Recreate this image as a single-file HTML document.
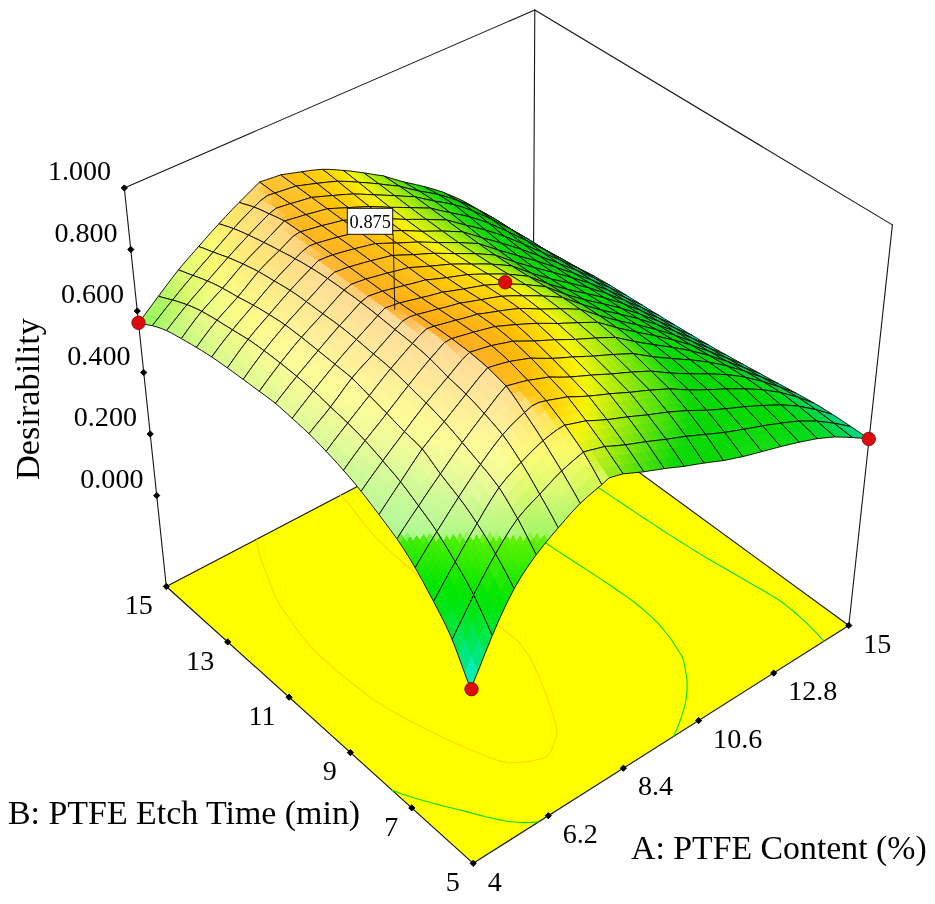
<!DOCTYPE html><html><head><meta charset="utf-8"><title>Desirability surface</title><style>html,body{margin:0;padding:0;background:#fff}svg{display:block}text{font-family:"Liberation Serif",serif;fill:#000}.s path{shape-rendering:crispEdges}.s .o{shape-rendering:geometricPrecision;fill:none;stroke:#141400;stroke-width:1;stroke-linejoin:round}</style></head><body><svg width="935" height="904" viewBox="0 0 935 904">
<rect width="935" height="904" fill="#fff"/>
<g stroke="#151515" stroke-width="1.1" fill="none" stroke-linecap="round">
<path d="M124.3 188L534.8 10"/>
<path d="M534.8 10L892.4 224.9"/>
<path d="M534.8 10L532.8 394.7"/>
<path d="M166.3 586.5L124.3 188"/>
<path d="M848.8 625.5L892.4 224.9"/>
</g>
<path d="M166.3 586.5L473.2 863.3L848.8 625.5L532.8 394.7Z" fill="#ffff00" stroke="#111" stroke-width="1.1" stroke-linejoin="round"/>
<g fill="none" stroke-width="1.1" stroke-linecap="round">
<path d="M824.2 641.4L819.6 636.4L815.5 632.1L812.5 628.9L807.7 624.1L802.6 619.4L797.8 615L795 612.5L789.6 608.1L784.1 603.8L778.4 599.7L772.3 595.9L769.1 594L762.8 590.3L756.4 586.7L750.1 583L745.8 580.5L740.7 577.5L734.3 573.9L728.1 570.3L722.1 566.8L718.8 564.9L712.6 561.3L706.5 557.7L700.4 554.1L696.5 551.7L691.4 548.6L685.5 544.9L679.7 541.3L673.9 537.6L668.1 533.9L662.4 530.2L659.6 528.3L653.9 524.6L648.3 520.9L642.7 517.3L637.2 513.6L631.7 509.9L626.2 506.2L620.7 502.5L615.2 498.9L612.5 497.1L607 493.4L601.6 489.8L596.2 486.2L590.8 482.7L585.4 479.1L580.1 475.5L574.8 471.9L569.5 468.3L564.4 464.8L561.6 463L556.5 459.4L551.4 455.7L546.5 452.1L541.6 448.4L536.7 444.7L531.8 441.1L526.8 437.5L521.8 434L516.6 430.6L511.4 427.2L506.1 423.9L500.8 420.6L497.2 418.4L492.8 415.7L492.8 415.7" stroke="#03d854"/>
<path d="M673.8 736.3L676.1 730.7L677.7 726.9L679 723.5L680.5 719.8L682.1 714.6L683.7 709.6L684.7 706.1L685.5 702.4L686.2 698.5L686.7 694.6L687 690.5L687.1 686.4L687.1 682.1L686.7 677.5L685.8 672.5L685.2 668.6L684.5 665.1L683.8 661.6L682.5 657.3L679.5 652.5L677.5 649.2L674.2 644.1L672 640.8L668.6 636L664.7 631L662.5 628.3L658.1 623.4L653.3 618.7L649.8 615.4L646 611.8L640.8 607.5L635.5 603.3L630.2 599.1L624.5 595.1L618.7 591.2L615.9 589.2L610.2 585.3L604.4 581.5L598.7 577.6L592.9 573.8L587.1 570.1L581.3 566.3L578.4 564.5L572.7 560.8L566.9 557L561.2 553.3L555.6 549.6L550 545.8L545.4 542.6L541.9 540.1L536.8 536.2L531.8 532.2L529.3 530.2L524.5 526.1L519.7 522.1L515 518L510.5 513.9L506 509.7L501.7 505.5L498.5 502.3L495.4 499.1L491.3 494.9L487.3 490.5L485 488.1L481.4 484.1L477.5 479.8L473.4 475.6L471.3 473.6L467 469.6L462.4 465.7L457.6 462L452.5 458.5L448.3 455.9L444.3 453.5L438.6 450.3L432.8 447.2L432.8 447.2" stroke="#0ad804"/>
<path d="M392.3 790.4L397 792.1L401.9 793.9L409.8 796.6L414.3 798L419.6 799.5L427.9 801.8L432.8 803.2L437.5 804.4L444.2 806.2L451.9 808L456.8 809.2L461.6 810.4L468.1 812.1L475.9 814.2L480.6 815.4L485.4 816.7L492.4 818.3L500 819.9L505.7 821L511.2 821.8L517.1 822.3L523.5 822.6L530.6 822.4L537 822L538.2 821.9" stroke="#0ad804"/>
<path d="M256.6 539.8L257.1 542.8L258 547.9L258.7 551.6L259.4 554.5L260.8 559.3L262.1 562.7L263.4 566L265.4 570.9L266.4 573.6L268.5 579.1L269.5 581.9L271.1 586.3L272.7 590.2L274 593.3L276.4 598.3L277.8 601.2L280.6 606.2L284 611.1L285.8 613.6L289.4 618.5L292.8 623.5L294.5 626.1L298.1 631.1L301.8 636L303.7 638.4L307.7 643.2L312 648L316.5 652.5L321.2 657L326.1 661.5L331.1 665.9L336.2 670.3L341.4 674.6L346.7 678.9L352.1 683.2L357.5 687.5L363 691.7L368.5 696L374.3 700.2L377.3 702.2L383.7 706L390.1 709.9L394.2 712.2L400 715.5L406.8 719.2L410.3 721L417.3 724.6L422.4 727.2L427.9 730L434.9 733.6L438.5 735.4L445.9 738.8L449.6 740.5L457.1 744L460.9 745.6L468.6 749L472.5 750.6L480.4 753.8L484.5 755.4L492.1 758.5L496.7 760.1L501.2 761.4L508.1 762.5L514 762.8L519.3 762.5L527.5 761.6L533.8 760.5L538.3 759.5L546.8 757.1L551.1 751.3L552.5 747.7L553.7 744.1L555 740.4L556.7 735.5L556.8 731.5L556.7 727.5L555.2 722L553.8 717.3L552.8 713.9L551.5 709.8L549.6 704.1L548.5 700.8L547.3 697.2L544.9 691.3L543.6 688.2L541.8 683.7L539.9 678.8L538.8 675.7L535.9 669.9L534.5 666.8L532.4 662.6L530.3 658L527.7 654.3L524.7 650L521 644.7L519 642.2L513.9 637.8L508.6 633.5L503.1 629.4L500.1 627.4L494 623.7L487.7 620.1L482.1 617.1L478 614.9L471.6 611.4L465.7 608L462.3 606L456.3 602.3L450.4 598.6L444.7 594.8L441.9 592.9L436.4 589L431 585.1L425.8 581.1L420.6 577.1L415.5 573.1L410.5 569L405.6 565L400.8 560.9L396.1 556.7L391.4 552.6L386.9 548.4L382.9 544.5L380.4 542L376.2 537.7L372.2 533.3L368.3 528.9L366.4 526.6L362.7 522.1L359.2 517.6L357.5 515.3L354.1 510.7L350.6 506.2L348.8 503.9L344.9 499.7L340.6 495.7L340.6 495.7" stroke="#ffd700"/>
</g>
<g class="s">
<path d="M531.3 242.6L537.2 246.5L532.1 244L526.3 240Z" fill="#08c2a8"/>
<path d="M526.3 240L532.1 244L527.1 241.4L521.2 237.4Z" fill="#07c2ab"/>
<path d="M521.2 237.4L527.1 241.4L522.1 238.8L516.2 234.7Z" fill="#07c3ad"/>
<path d="M537.2 246.5L543 250.3L538 247.8L532.1 244Z" fill="#04cbbe"/>
<path d="M532.1 244L538 247.8L533 245.3L527.1 241.4Z" fill="#04cbc0"/>
<path d="M527.1 241.4L533 245.3L528 242.7L522.1 238.8Z" fill="#03ccc2"/>
<path d="M543 250.3L548.8 253.9L543.8 251.5L538 247.8Z" fill="#01d3d1"/>
<path d="M538 247.8L543.8 251.5L538.8 249L533 245.3Z" fill="#00d2d2"/>
<path d="M533 245.3L538.8 249L533.8 246.4L528 242.7Z" fill="#00d1d4"/>
<path class="o" d="M531.3 242.6L537.2 246.5L543 250.3L548.8 253.9L543.8 251.5L538.8 249L533.8 246.4L528 242.7L522.1 238.8L516.2 234.7L521.2 237.4L526.3 240Z"/>
<path d="M546.6 250.5L552.5 254.1L547.4 251.6L541.5 247.8Z" fill="#08c3a3"/>
<path d="M541.5 247.8L547.4 251.6L542.3 249L536.4 245.2Z" fill="#08c2a5"/>
<path d="M536.4 245.2L542.3 249L537.2 246.5L531.3 242.6Z" fill="#08c2a6"/>
<path d="M552.5 254.1L558.3 257.7L553.2 255.2L547.4 251.6Z" fill="#06cbb9"/>
<path d="M547.4 251.6L553.2 255.2L548.1 252.7L542.3 249Z" fill="#05caba"/>
<path d="M542.3 249L548.1 252.7L543 250.3L537.2 246.5Z" fill="#05cabc"/>
<path d="M558.3 257.7L564.1 261.1L559 258.7L553.2 255.2Z" fill="#02d3cc"/>
<path d="M553.2 255.2L559 258.7L553.9 256.3L548.1 252.7Z" fill="#02d3ce"/>
<path d="M548.1 252.7L553.9 256.3L548.8 253.9L543 250.3Z" fill="#01d3d0"/>
<path class="o" d="M546.6 250.5L552.5 254.1L558.3 257.7L564.1 261.1L559 258.7L553.9 256.3L548.8 253.9L543 250.3L537.2 246.5L531.3 242.6L536.4 245.2L541.5 247.8Z"/>
<path d="M513.4 230.6L519.4 234.8L514.4 232L508.4 227.8Z" fill="#04af60"/>
<path d="M508.4 227.8L514.4 232L509.3 229.3L503.3 225Z" fill="#04ae62"/>
<path d="M503.3 225L509.3 229.3L504.3 226.6L498.3 222.2Z" fill="#04ae64"/>
<path d="M519.4 234.8L525.4 238.7L520.3 236.1L514.4 232Z" fill="#05b479"/>
<path d="M514.4 232L520.3 236.1L515.3 233.4L509.3 229.3Z" fill="#05b57b"/>
<path d="M509.3 229.3L515.3 233.4L510.3 230.7L504.3 226.6Z" fill="#05b57d"/>
<path d="M525.4 238.7L531.3 242.6L526.3 240L520.3 236.1Z" fill="#07bd92"/>
<path d="M520.3 236.1L526.3 240L521.2 237.4L515.3 233.4Z" fill="#07bd95"/>
<path d="M515.3 233.4L521.2 237.4L516.2 234.7L510.3 230.7Z" fill="#07bd97"/>
<path class="o" d="M513.4 230.6L519.4 234.8L525.4 238.7L531.3 242.6L526.3 240L521.2 237.4L516.2 234.7L510.3 230.7L504.3 226.6L498.3 222.2L503.3 225L508.4 227.8Z"/>
<path d="M562.1 259L567.9 262.3L562.7 259.5L556.9 256.1Z" fill="#08c6a0"/>
<path d="M556.9 256.1L562.7 259.5L557.6 256.8L551.7 253.3Z" fill="#08c5a1"/>
<path d="M551.7 253.3L557.6 256.8L552.5 254.1L546.6 250.5Z" fill="#08c4a2"/>
<path d="M567.9 262.3L573.7 265.5L568.6 262.8L562.7 259.5Z" fill="#08cdb6"/>
<path d="M562.7 259.5L568.6 262.8L563.4 260.2L557.6 256.8Z" fill="#07ccb6"/>
<path d="M557.6 256.8L563.4 260.2L558.3 257.7L552.5 254.1Z" fill="#07cbb7"/>
<path d="M573.7 265.5L579.5 268.6L574.3 266.1L568.6 262.8Z" fill="#04d4c7"/>
<path d="M568.6 262.8L574.3 266.1L569.2 263.6L563.4 260.2Z" fill="#04d3c9"/>
<path d="M563.4 260.2L569.2 263.6L564.1 261.1L558.3 257.7Z" fill="#03d3ca"/>
<path class="o" d="M562.1 259L567.9 262.3L573.7 265.5L579.5 268.6L574.3 266.1L569.2 263.6L564.1 261.1L558.3 257.7L552.5 254.1L546.6 250.5L551.7 253.3L556.9 256.1Z"/>
<path d="M528.8 239.5L534.8 243.3L529.6 240.4L523.6 236.4Z" fill="#03b45d"/>
<path d="M523.6 236.4L529.6 240.4L524.5 237.5L518.5 233.4Z" fill="#04b25e"/>
<path d="M518.5 233.4L524.5 237.5L519.4 234.8L513.4 230.6Z" fill="#04b05f"/>
<path d="M534.8 243.3L540.7 247L535.6 244.2L529.6 240.4Z" fill="#05b774"/>
<path d="M529.6 240.4L535.6 244.2L530.5 241.4L524.5 237.5Z" fill="#05b675"/>
<path d="M524.5 237.5L530.5 241.4L525.4 238.7L519.4 234.8Z" fill="#05b577"/>
<path d="M540.7 247L546.6 250.5L541.5 247.8L535.6 244.2Z" fill="#06bf8d"/>
<path d="M535.6 244.2L541.5 247.8L536.4 245.2L530.5 241.4Z" fill="#06be8e"/>
<path d="M530.5 241.4L536.4 245.2L531.3 242.6L525.4 238.7Z" fill="#07bd90"/>
<path class="o" d="M528.8 239.5L534.8 243.3L540.7 247L546.6 250.5L541.5 247.8L536.4 245.2L531.3 242.6L525.4 238.7L519.4 234.8L513.4 230.6L518.5 233.4L523.6 236.4Z"/>
<path d="M577.7 268.1L583.5 270.9L578.3 268L572.4 265Z" fill="#07cb9e"/>
<path d="M572.4 265L578.3 268L573.1 265.1L567.2 262Z" fill="#07c99e"/>
<path d="M567.2 262L573.1 265.1L567.9 262.3L562.1 259Z" fill="#07c89f"/>
<path d="M583.5 270.9L589.3 273.8L584.1 270.9L578.3 268Z" fill="#08d0b4"/>
<path d="M578.3 268L584.1 270.9L578.9 268.2L573.1 265.1Z" fill="#08cfb4"/>
<path d="M573.1 265.1L578.9 268.2L573.7 265.5L567.9 262.3Z" fill="#08ceb5"/>
<path d="M589.3 273.8L595.1 276.7L589.9 273.9L584.1 270.9Z" fill="#06d6c5"/>
<path d="M584.1 270.9L589.9 273.9L584.7 271.2L578.9 268.2Z" fill="#05d5c5"/>
<path d="M578.9 268.2L584.7 271.2L579.5 268.6L573.7 265.5Z" fill="#05d4c6"/>
<path class="o" d="M577.7 268.1L583.5 270.9L589.3 273.8L595.1 276.7L589.9 273.9L584.7 271.2L579.5 268.6L573.7 265.5L567.9 262.3L562.1 259L567.2 262L572.4 265Z"/>
<path d="M495.2 219.2L501.3 223.1L496.2 220.2L490.1 216.2Z" fill="#01b625"/>
<path d="M490.1 216.2L496.2 220.2L491.2 217.3L485 213.3Z" fill="#01b526"/>
<path d="M485 213.3L491.2 217.3L486.1 214.5L480 210.5Z" fill="#01b528"/>
<path d="M501.3 223.1L507.4 226.9L502.3 224L496.2 220.2Z" fill="#02b63a"/>
<path d="M496.2 220.2L502.3 224L497.3 221.2L491.2 217.3Z" fill="#02b53b"/>
<path d="M491.2 217.3L497.3 221.2L492.2 218.4L486.1 214.5Z" fill="#02b53d"/>
<path d="M507.4 226.9L513.4 230.6L508.4 227.8L502.3 224Z" fill="#03b74f"/>
<path d="M502.3 224L508.4 227.8L503.3 225L497.3 221.2Z" fill="#03b650"/>
<path d="M497.3 221.2L503.3 225L498.3 222.2L492.2 218.4Z" fill="#03b552"/>
<path class="o" d="M495.2 219.2L501.3 223.1L507.4 226.9L513.4 230.6L508.4 227.8L503.3 225L498.3 222.2L492.2 218.4L486.1 214.5L480 210.5L485 213.3L490.1 216.2Z"/>
<path d="M544.3 249.5L550.2 252.9L545.1 249.6L539.1 246.1Z" fill="#03bb5e"/>
<path d="M539.1 246.1L545.1 249.6L539.9 246.4L533.9 242.8Z" fill="#03b95e"/>
<path d="M533.9 242.8L539.9 246.4L534.8 243.3L528.8 239.5Z" fill="#03b65d"/>
<path d="M550.2 252.9L556.2 256L551 252.9L545.1 249.6Z" fill="#05bd74"/>
<path d="M545.1 249.6L551 252.9L545.8 249.9L539.9 246.4Z" fill="#05bb73"/>
<path d="M539.9 246.4L545.8 249.9L540.7 247L534.8 243.3Z" fill="#05b873"/>
<path d="M556.2 256L562.1 259L556.9 256.1L551 252.9Z" fill="#06c48b"/>
<path d="M551 252.9L556.9 256.1L551.7 253.3L545.8 249.9Z" fill="#06c28c"/>
<path d="M545.8 249.9L551.7 253.3L546.6 250.5L540.7 247Z" fill="#06c08c"/>
<path class="o" d="M544.3 249.5L550.2 252.9L556.2 256L562.1 259L556.9 256.1L551.7 253.3L546.6 250.5L540.7 247L534.8 243.3L528.8 239.5L533.9 242.8L539.1 246.1Z"/>
<path d="M593.5 277.6L599.3 280.3L594 277.1L588.2 274.4Z" fill="#07cd9b"/>
<path d="M588.2 274.4L594 277.1L588.7 274L582.9 271.2Z" fill="#07cc9c"/>
<path d="M582.9 271.2L588.7 274L583.5 270.9L577.7 268.1Z" fill="#07cc9d"/>
<path d="M599.3 280.3L605.1 283L599.8 279.8L594 277.1Z" fill="#09d2b1"/>
<path d="M594 277.1L599.8 279.8L594.5 276.8L588.7 274Z" fill="#09d2b2"/>
<path d="M588.7 274L594.5 276.8L589.3 273.8L583.5 270.9Z" fill="#09d1b3"/>
<path d="M605.1 283L610.8 285.8L605.6 282.6L599.8 279.8Z" fill="#07d8c4"/>
<path d="M599.8 279.8L605.6 282.6L600.3 279.6L594.5 276.8Z" fill="#06d7c4"/>
<path d="M594.5 276.8L600.3 279.6L595.1 276.7L589.3 273.8Z" fill="#06d7c5"/>
<path class="o" d="M593.5 277.6L599.3 280.3L605.1 283L610.8 285.8L605.6 282.6L600.3 279.6L595.1 276.7L589.3 273.8L583.5 270.9L577.7 268.1L582.9 271.2L588.2 274.4Z"/>
<path d="M510.6 229.1L516.7 232.8L511.6 229.4L505.4 225.6Z" fill="#00bb23"/>
<path d="M505.4 225.6L511.6 229.4L506.4 226.2L500.3 222.3Z" fill="#00ba23"/>
<path d="M500.3 222.3L506.4 226.2L501.3 223.1L495.2 219.2Z" fill="#01b824"/>
<path d="M516.7 232.8L522.8 236.2L517.6 233L511.6 229.4Z" fill="#02bc38"/>
<path d="M511.6 229.4L517.6 233L512.5 229.9L506.4 226.2Z" fill="#02ba38"/>
<path d="M506.4 226.2L512.5 229.9L507.4 226.9L501.3 223.1Z" fill="#02b839"/>
<path d="M522.8 236.2L528.8 239.5L523.6 236.4L517.6 233Z" fill="#03bc4c"/>
<path d="M517.6 233L523.6 236.4L518.5 233.4L512.5 229.9Z" fill="#03ba4d"/>
<path d="M512.5 229.9L518.5 233.4L513.4 230.6L507.4 226.9Z" fill="#03b84e"/>
<path class="o" d="M510.6 229.1L516.7 232.8L522.8 236.2L528.8 239.5L523.6 236.4L518.5 233.4L513.4 230.6L507.4 226.9L501.3 223.1L495.2 219.2L500.3 222.3L505.4 225.6Z"/>
<path d="M559.9 259.9L565.9 262.8L560.6 259.5L554.7 256.5Z" fill="#04c160"/>
<path d="M554.7 256.5L560.6 259.5L555.4 256.2L549.5 253Z" fill="#04bf5f"/>
<path d="M549.5 253L555.4 256.2L550.2 252.9L544.3 249.5Z" fill="#03bd5f"/>
<path d="M565.9 262.8L571.8 265.5L566.6 262.3L560.6 259.5Z" fill="#05c374"/>
<path d="M560.6 259.5L566.6 262.3L561.4 259.1L555.4 256.2Z" fill="#05c174"/>
<path d="M555.4 256.2L561.4 259.1L556.2 256L550.2 252.9Z" fill="#05bf74"/>
<path d="M571.8 265.5L577.7 268.1L572.4 265L566.6 262.3Z" fill="#06c98b"/>
<path d="M566.6 262.3L572.4 265L567.2 262L561.4 259.1Z" fill="#06c78b"/>
<path d="M561.4 259.1L567.2 262L562.1 259L556.2 256Z" fill="#06c58b"/>
<path class="o" d="M559.9 259.9L565.9 262.8L571.8 265.5L577.7 268.1L572.4 265L567.2 262L562.1 259L556.2 256L550.2 252.9L544.3 249.5L549.5 253L554.7 256.5Z"/>
<path d="M609.4 287.6L615.2 290.2L609.9 286.9L604.1 284.3Z" fill="#07cd99"/>
<path d="M604.1 284.3L609.9 286.9L604.6 283.6L598.7 280.9Z" fill="#07cd9a"/>
<path d="M598.7 280.9L604.6 283.6L599.3 280.3L593.5 277.6Z" fill="#07cd9b"/>
<path d="M615.2 290.2L621 292.9L615.7 289.5L609.9 286.9Z" fill="#08d3af"/>
<path d="M609.9 286.9L615.7 289.5L610.4 286.3L604.6 283.6Z" fill="#08d3b0"/>
<path d="M604.6 283.6L610.4 286.3L605.1 283L599.3 280.3Z" fill="#08d3b1"/>
<path d="M621 292.9L626.7 295.5L621.4 292.2L615.7 289.5Z" fill="#07d9c2"/>
<path d="M615.7 289.5L621.4 292.2L616.1 289L610.4 286.3Z" fill="#07d8c3"/>
<path d="M610.4 286.3L616.1 289L610.8 285.8L605.1 283Z" fill="#07d8c3"/>
<path class="o" d="M609.4 287.6L615.2 290.2L621 292.9L626.7 295.5L621.4 292.2L616.1 289L610.8 285.8L605.1 283L599.3 280.3L593.5 277.6L598.7 280.9L604.1 284.3Z"/>
<path d="M476.6 209L482.8 212.4L477.7 209.3L471.5 205.9Z" fill="#00c001"/>
<path d="M471.5 205.9L477.7 209.3L472.7 206.3L466.4 203Z" fill="#00bf02"/>
<path d="M466.4 203L472.7 206.3L467.6 203.5L461.3 200.2Z" fill="#00bf02"/>
<path d="M482.8 212.4L489 215.8L484 212.7L477.7 209.3Z" fill="#00bf0a"/>
<path d="M477.7 209.3L484 212.7L478.9 209.8L472.7 206.3Z" fill="#00be0b"/>
<path d="M472.7 206.3L478.9 209.8L473.8 207L467.6 203.5Z" fill="#00bd0c"/>
<path d="M489 215.8L495.2 219.2L490.1 216.2L484 212.7Z" fill="#00be15"/>
<path d="M484 212.7L490.1 216.2L485 213.3L478.9 209.8Z" fill="#00bd16"/>
<path d="M478.9 209.8L485 213.3L480 210.5L473.8 207Z" fill="#00bd17"/>
<path class="o" d="M476.6 209L482.8 212.4L489 215.8L495.2 219.2L490.1 216.2L485 213.3L480 210.5L473.8 207L467.6 203.5L461.3 200.2L466.4 203L471.5 205.9Z"/>
<path d="M526.1 240.4L532.2 243.6L527 239.9L520.9 236.5Z" fill="#01c125"/>
<path d="M520.9 236.5L527 239.9L521.9 236.3L515.8 232.8Z" fill="#00bf24"/>
<path d="M515.8 232.8L521.9 236.3L516.7 232.8L510.6 229.1Z" fill="#00bd23"/>
<path d="M532.2 243.6L538.3 246.7L533.1 243.1L527 239.9Z" fill="#02c23a"/>
<path d="M527 239.9L533.1 243.1L527.9 239.6L521.9 236.3Z" fill="#02c039"/>
<path d="M521.9 236.3L527.9 239.6L522.8 236.2L516.7 232.8Z" fill="#02be38"/>
<path d="M538.3 246.7L544.3 249.5L539.1 246.1L533.1 243.1Z" fill="#03c34e"/>
<path d="M533.1 243.1L539.1 246.1L533.9 242.8L527.9 239.6Z" fill="#03c14d"/>
<path d="M527.9 239.6L533.9 242.8L528.8 239.5L522.8 236.2Z" fill="#03bf4c"/>
<path class="o" d="M526.1 240.4L532.2 243.6L538.3 246.7L544.3 249.5L539.1 246.1L533.9 242.8L528.8 239.5L522.8 236.2L516.7 232.8L510.6 229.1L515.8 232.8L520.9 236.5Z"/>
<path d="M575.7 269.9L581.7 272.6L576.4 269.3L570.5 266.6Z" fill="#03c45e"/>
<path d="M570.5 266.6L576.4 269.3L571.1 266.1L565.2 263.3Z" fill="#03c35f"/>
<path d="M565.2 263.3L571.1 266.1L565.9 262.8L559.9 259.9Z" fill="#03c260"/>
<path d="M581.7 272.6L587.6 275.2L582.3 271.9L576.4 269.3Z" fill="#04c572"/>
<path d="M576.4 269.3L582.3 271.9L577 268.7L571.1 266.1Z" fill="#04c573"/>
<path d="M571.1 266.1L577 268.7L571.8 265.5L565.9 262.8Z" fill="#05c474"/>
<path d="M587.6 275.2L593.5 277.6L588.2 274.4L582.3 271.9Z" fill="#06cb88"/>
<path d="M582.3 271.9L588.2 274.4L582.9 271.2L577 268.7Z" fill="#06ca89"/>
<path d="M577 268.7L582.9 271.2L577.7 268.1L571.8 265.5Z" fill="#06ca8a"/>
<path class="o" d="M575.7 269.9L581.7 272.6L587.6 275.2L593.5 277.6L588.2 274.4L582.9 271.2L577.7 268.1L571.8 265.5L565.9 262.8L559.9 259.9L565.2 263.3L570.5 266.6Z"/>
<path d="M625.5 297.7L631.3 300.3L625.9 297L620.1 294.3Z" fill="#07cc96"/>
<path d="M620.1 294.3L625.9 297L620.6 293.6L614.8 291Z" fill="#07cc97"/>
<path d="M614.8 291L620.6 293.6L615.2 290.2L609.4 287.6Z" fill="#07cd98"/>
<path d="M631.3 300.3L637.1 302.9L631.7 299.5L625.9 297Z" fill="#08d2ac"/>
<path d="M625.9 297L631.7 299.5L626.3 296.2L620.6 293.6Z" fill="#08d3ad"/>
<path d="M620.6 293.6L626.3 296.2L621 292.9L615.2 290.2Z" fill="#08d3ae"/>
<path d="M637.1 302.9L642.8 305.5L637.4 302.1L631.7 299.5Z" fill="#08d8c1"/>
<path d="M631.7 299.5L637.4 302.1L632 298.8L626.3 296.2Z" fill="#08d9c1"/>
<path d="M626.3 296.2L632 298.8L626.7 295.5L621 292.9Z" fill="#08d9c2"/>
<path class="o" d="M625.5 297.7L631.3 300.3L637.1 302.9L642.8 305.5L637.4 302.1L632 298.8L626.7 295.5L621 292.9L615.2 290.2L609.4 287.6L614.8 291L620.1 294.3Z"/>
<path d="M492.1 219.6L498.3 222.8L493.1 219.1L486.9 215.9Z" fill="#00c301"/>
<path d="M486.9 215.9L493.1 219.1L488 215.7L481.7 212.3Z" fill="#00c201"/>
<path d="M481.7 212.3L488 215.7L482.8 212.4L476.6 209Z" fill="#00c101"/>
<path d="M498.3 222.8L504.5 226L499.3 222.4L493.1 219.1Z" fill="#00c30a"/>
<path d="M493.1 219.1L499.3 222.4L494.2 219L488 215.7Z" fill="#00c10a"/>
<path d="M488 215.7L494.2 219L489 215.8L482.8 212.4Z" fill="#00c00a"/>
<path d="M504.5 226L510.6 229.1L505.4 225.6L499.3 222.4Z" fill="#00c315"/>
<path d="M499.3 222.4L505.4 225.6L500.3 222.3L494.2 219Z" fill="#00c115"/>
<path d="M494.2 219L500.3 222.3L495.2 219.2L489 215.8Z" fill="#00bf15"/>
<path class="o" d="M492.1 219.6L498.3 222.8L504.5 226L510.6 229.1L505.4 225.6L500.3 222.3L495.2 219.2L489 215.8L482.8 212.4L476.6 209L481.7 212.3L486.9 215.9Z"/>
<path d="M541.8 252.1L547.9 254.9L542.7 251.2L536.6 248.2Z" fill="#01c629"/>
<path d="M536.6 248.2L542.7 251.2L537.4 247.4L531.4 244.3Z" fill="#01c528"/>
<path d="M531.4 244.3L537.4 247.4L532.2 243.6L526.1 240.4Z" fill="#01c327"/>
<path d="M547.9 254.9L553.9 257.5L548.7 253.9L542.7 251.2Z" fill="#02c83d"/>
<path d="M542.7 251.2L548.7 253.9L543.5 250.3L537.4 247.4Z" fill="#02c63c"/>
<path d="M537.4 247.4L543.5 250.3L538.3 246.7L532.2 243.6Z" fill="#02c43b"/>
<path d="M553.9 257.5L559.9 259.9L554.7 256.5L548.7 253.9Z" fill="#03c950"/>
<path d="M548.7 253.9L554.7 256.5L549.5 253L543.5 250.3Z" fill="#03c850"/>
<path d="M543.5 250.3L549.5 253L544.3 249.5L538.3 246.7Z" fill="#03c64f"/>
<path class="o" d="M541.8 252.1L547.9 254.9L553.9 257.5L559.9 259.9L554.7 256.5L549.5 253L544.3 249.5L538.3 246.7L532.2 243.6L526.1 240.4L531.4 244.3L536.6 248.2Z"/>
<path d="M591.7 280L597.7 282.7L592.3 279.3L586.4 276.7Z" fill="#03c55c"/>
<path d="M586.4 276.7L592.3 279.3L587 276L581.1 273.3Z" fill="#03c45d"/>
<path d="M581.1 273.3L587 276L581.7 272.6L575.7 269.9Z" fill="#03c45e"/>
<path d="M597.7 282.7L603.5 285.2L598.2 281.8L592.3 279.3Z" fill="#04c570"/>
<path d="M592.3 279.3L598.2 281.8L592.9 278.5L587 276Z" fill="#04c571"/>
<path d="M587 276L592.9 278.5L587.6 275.2L581.7 272.6Z" fill="#04c572"/>
<path d="M603.5 285.2L609.4 287.6L604.1 284.3L598.2 281.8Z" fill="#06ca85"/>
<path d="M598.2 281.8L604.1 284.3L598.7 280.9L592.9 278.5Z" fill="#06cb86"/>
<path d="M592.9 278.5L598.7 280.9L593.5 277.6L587.6 275.2Z" fill="#06cb87"/>
<path class="o" d="M591.7 280L597.7 282.7L603.5 285.2L609.4 287.6L604.1 284.3L598.7 280.9L593.5 277.6L587.6 275.2L581.7 272.6L575.7 269.9L581.1 273.3L586.4 276.7Z"/>
<path d="M641.8 307.8L647.6 310.4L642.1 307L636.4 304.4Z" fill="#06cb92"/>
<path d="M636.4 304.4L642.1 307L636.7 303.7L630.9 301.1Z" fill="#07cb94"/>
<path d="M630.9 301.1L636.7 303.7L631.3 300.3L625.5 297.7Z" fill="#07cc95"/>
<path d="M647.6 310.4L653.3 312.9L647.9 309.6L642.1 307Z" fill="#08d2a9"/>
<path d="M642.1 307L647.9 309.6L642.5 306.2L636.7 303.7Z" fill="#08d2aa"/>
<path d="M636.7 303.7L642.5 306.2L637.1 302.9L631.3 300.3Z" fill="#08d2ab"/>
<path d="M653.3 312.9L659 315.4L653.6 312.1L647.9 309.6Z" fill="#08d8be"/>
<path d="M647.9 309.6L653.6 312.1L648.2 308.8L642.5 306.2Z" fill="#08d8bf"/>
<path d="M642.5 306.2L648.2 308.8L642.8 305.5L637.1 302.9Z" fill="#08d8c0"/>
<path class="o" d="M641.8 307.8L647.6 310.4L653.3 312.9L659 315.4L653.6 312.1L648.2 308.8L642.8 305.5L637.1 302.9L631.3 300.3L625.5 297.7L630.9 301.1L636.4 304.4Z"/>
<path d="M457.7 200.6L464 203.2L458.9 200.2L452.6 197.6Z" fill="#05ca02"/>
<path d="M452.6 197.6L458.9 200.2L453.8 197.3L447.5 194.7Z" fill="#05ca02"/>
<path d="M447.5 194.7L453.8 197.3L448.7 194.5L442.4 192Z" fill="#05ca02"/>
<path d="M464 203.2L470.3 206L465.2 202.9L458.9 200.2Z" fill="#04c702"/>
<path d="M458.9 200.2L465.2 202.9L460.1 200L453.8 197.3Z" fill="#04c701"/>
<path d="M453.8 197.3L460.1 200L455.1 197.2L448.7 194.5Z" fill="#03c701"/>
<path d="M470.3 206L476.6 209L471.5 205.9L465.2 202.9Z" fill="#02c501"/>
<path d="M465.2 202.9L471.5 205.9L466.4 203L460.1 200Z" fill="#02c401"/>
<path d="M460.1 200L466.4 203L461.3 200.2L455.1 197.2Z" fill="#02c401"/>
<path class="o" d="M457.7 200.6L464 203.2L470.3 206L476.6 209L471.5 205.9L466.4 203L461.3 200.2L455.1 197.2L448.7 194.5L442.4 192L447.5 194.7L452.6 197.6Z"/>
<path d="M507.7 231.6L513.9 234.6L508.6 230.6L502.4 227.5Z" fill="#00c702"/>
<path d="M502.4 227.5L508.6 230.6L503.5 226.6L497.2 223.5Z" fill="#00c602"/>
<path d="M497.2 223.5L503.5 226.6L498.3 222.8L492.1 219.6Z" fill="#00c501"/>
<path d="M513.9 234.6L520 237.6L514.8 233.6L508.6 230.6Z" fill="#00c70c"/>
<path d="M508.6 230.6L514.8 233.6L509.6 229.7L503.5 226.6Z" fill="#00c60b"/>
<path d="M503.5 226.6L509.6 229.7L504.5 226L498.3 222.8Z" fill="#00c40a"/>
<path d="M520 237.6L526.1 240.4L520.9 236.5L514.8 233.6Z" fill="#00c817"/>
<path d="M514.8 233.6L520.9 236.5L515.8 232.8L509.6 229.7Z" fill="#00c716"/>
<path d="M509.6 229.7L515.8 232.8L510.6 229.1L504.5 226Z" fill="#00c515"/>
<path class="o" d="M507.7 231.6L513.9 234.6L520 237.6L526.1 240.4L520.9 236.5L515.8 232.8L510.6 229.1L504.5 226L498.3 222.8L492.1 219.6L497.2 223.5L502.4 227.5Z"/>
<path d="M557.7 262.8L563.8 265.4L558.5 261.9L552.4 259.3Z" fill="#01c929"/>
<path d="M552.4 259.3L558.5 261.9L553.2 258.5L547.1 255.7Z" fill="#01c82a"/>
<path d="M547.1 255.7L553.2 258.5L547.9 254.9L541.8 252.1Z" fill="#01c72a"/>
<path d="M563.8 265.4L569.8 267.8L564.5 264.4L558.5 261.9Z" fill="#02ca3d"/>
<path d="M558.5 261.9L564.5 264.4L559.2 261L553.2 258.5Z" fill="#02ca3d"/>
<path d="M553.2 258.5L559.2 261L553.9 257.5L547.9 254.9Z" fill="#02c93d"/>
<path d="M569.8 267.8L575.7 269.9L570.5 266.6L564.5 264.4Z" fill="#03cc50"/>
<path d="M564.5 264.4L570.5 266.6L565.2 263.3L559.2 261Z" fill="#03cc50"/>
<path d="M559.2 261L565.2 263.3L559.9 259.9L553.9 257.5Z" fill="#03cb50"/>
<path class="o" d="M557.7 262.8L563.8 265.4L569.8 267.8L575.7 269.9L570.5 266.6L565.2 263.3L559.9 259.9L553.9 257.5L547.9 254.9L541.8 252.1L547.1 255.7L552.4 259.3Z"/>
<path d="M607.9 290.1L613.8 292.8L608.4 289.4L602.5 286.7Z" fill="#03c459"/>
<path d="M602.5 286.7L608.4 289.4L603 286L597.1 283.4Z" fill="#03c45a"/>
<path d="M597.1 283.4L603 286L597.7 282.7L591.7 280Z" fill="#03c45b"/>
<path d="M613.8 292.8L619.7 295.3L614.3 291.9L608.4 289.4Z" fill="#04c56d"/>
<path d="M608.4 289.4L614.3 291.9L608.9 288.6L603 286Z" fill="#04c56e"/>
<path d="M603 286L608.9 288.6L603.5 285.2L597.7 282.7Z" fill="#04c56f"/>
<path d="M619.7 295.3L625.5 297.7L620.1 294.3L614.3 291.9Z" fill="#05c982"/>
<path d="M614.3 291.9L620.1 294.3L614.8 291L608.9 288.6Z" fill="#05ca83"/>
<path d="M608.9 288.6L614.8 291L609.4 287.6L603.5 285.2Z" fill="#06ca84"/>
<path class="o" d="M607.9 290.1L613.8 292.8L619.7 295.3L625.5 297.7L620.1 294.3L614.8 291L609.4 287.6L603.5 285.2L597.7 282.7L591.7 280L597.1 283.4L602.5 286.7Z"/>
<path d="M658.3 317.9L664.1 320.5L658.5 317.1L652.8 314.6Z" fill="#06ca8f"/>
<path d="M652.8 314.6L658.5 317.1L653.1 313.8L647.3 311.2Z" fill="#06cb90"/>
<path d="M647.3 311.2L653.1 313.8L647.6 310.4L641.8 307.8Z" fill="#06cb91"/>
<path d="M664.1 320.5L669.8 322.9L664.3 319.6L658.5 317.1Z" fill="#08d1a5"/>
<path d="M658.5 317.1L664.3 319.6L658.8 316.3L653.1 313.8Z" fill="#08d1a7"/>
<path d="M653.1 313.8L658.8 316.3L653.3 312.9L647.6 310.4Z" fill="#08d2a8"/>
<path d="M669.8 322.9L675.4 325.4L670 322.1L664.3 319.6Z" fill="#09d7bb"/>
<path d="M664.3 319.6L670 322.1L664.5 318.8L658.8 316.3Z" fill="#08d7bc"/>
<path d="M658.8 316.3L664.5 318.8L659 315.4L653.3 312.9Z" fill="#08d8bd"/>
<path class="o" d="M658.3 317.9L664.1 320.5L669.8 322.9L675.4 325.4L670 322.1L664.5 318.8L659 315.4L653.3 312.9L647.6 310.4L641.8 307.8L647.3 311.2L652.8 314.6Z"/>
<path d="M473.2 211L479.5 213.8L474.3 210L468 207.3Z" fill="#06ca02"/>
<path d="M468 207.3L474.3 210L469.2 206.5L462.8 203.8Z" fill="#06ca02"/>
<path d="M462.8 203.8L469.2 206.5L464 203.2L457.7 200.6Z" fill="#06ca02"/>
<path d="M479.5 213.8L485.8 216.6L480.6 212.9L474.3 210Z" fill="#04c902"/>
<path d="M474.3 210L480.6 212.9L475.5 209.4L469.2 206.5Z" fill="#04c802"/>
<path d="M469.2 206.5L475.5 209.4L470.3 206L464 203.2Z" fill="#04c802"/>
<path d="M485.8 216.6L492.1 219.6L486.9 215.9L480.6 212.9Z" fill="#02c701"/>
<path d="M480.6 212.9L486.9 215.9L481.7 212.3L475.5 209.4Z" fill="#02c601"/>
<path d="M475.5 209.4L481.7 212.3L476.6 209L470.3 206Z" fill="#02c601"/>
<path class="o" d="M473.2 211L479.5 213.8L485.8 216.6L492.1 219.6L486.9 215.9L481.7 212.3L476.6 209L470.3 206L464 203.2L457.7 200.6L462.8 203.8L468 207.3Z"/>
<path d="M523.4 244.1L529.6 246.9L524.3 242.8L518.1 240Z" fill="#00ca04"/>
<path d="M518.1 240L524.3 242.8L519.1 238.7L512.9 235.8Z" fill="#00c903"/>
<path d="M512.9 235.8L519.1 238.7L513.9 234.6L507.7 231.6Z" fill="#00c802"/>
<path d="M529.6 246.9L535.7 249.6L530.5 245.6L524.3 242.8Z" fill="#00ca0f"/>
<path d="M524.3 242.8L530.5 245.6L525.2 241.6L519.1 238.7Z" fill="#00c90e"/>
<path d="M519.1 238.7L525.2 241.6L520 237.6L513.9 234.6Z" fill="#00c90d"/>
<path d="M535.7 249.6L541.8 252.1L536.6 248.2L530.5 245.6Z" fill="#00cc19"/>
<path d="M530.5 245.6L536.6 248.2L531.4 244.3L525.2 241.6Z" fill="#00cb18"/>
<path d="M525.2 241.6L531.4 244.3L526.1 240.4L520 237.6Z" fill="#00ca18"/>
<path class="o" d="M523.4 244.1L529.6 246.9L535.7 249.6L541.8 252.1L536.6 248.2L531.4 244.3L526.1 240.4L520 237.6L513.9 234.6L507.7 231.6L512.9 235.8L518.1 240Z"/>
<path d="M573.7 273.2L579.8 275.6L574.4 272.2L568.4 269.8Z" fill="#01cb28"/>
<path d="M568.4 269.8L574.4 272.2L569.1 268.8L563 266.3Z" fill="#01ca29"/>
<path d="M563 266.3L569.1 268.8L563.8 265.4L557.7 262.8Z" fill="#01ca29"/>
<path d="M579.8 275.6L585.8 277.9L580.4 274.5L574.4 272.2Z" fill="#02cc3b"/>
<path d="M574.4 272.2L580.4 274.5L575.1 271.1L569.1 268.8Z" fill="#02cc3c"/>
<path d="M569.1 268.8L575.1 271.1L569.8 267.8L563.8 265.4Z" fill="#02cb3c"/>
<path d="M585.8 277.9L591.7 280L586.4 276.7L580.4 274.5Z" fill="#02cd4d"/>
<path d="M580.4 274.5L586.4 276.7L581.1 273.3L575.1 271.1Z" fill="#03cd4e"/>
<path d="M575.1 271.1L581.1 273.3L575.7 269.9L569.8 267.8Z" fill="#03cd4f"/>
<path class="o" d="M573.7 273.2L579.8 275.6L585.8 277.9L591.7 280L586.4 276.7L581.1 273.3L575.7 269.9L569.8 267.8L563.8 265.4L557.7 262.8L563 266.3L568.4 269.8Z"/>
<path d="M624.3 300.2L630.2 302.9L624.7 299.5L618.8 296.8Z" fill="#03c456"/>
<path d="M618.8 296.8L624.7 299.5L619.2 296.1L613.4 293.5Z" fill="#03c457"/>
<path d="M613.4 293.5L619.2 296.1L613.8 292.8L607.9 290.1Z" fill="#03c458"/>
<path d="M630.2 302.9L636 305.4L630.5 302.1L624.7 299.5Z" fill="#04c56a"/>
<path d="M624.7 299.5L630.5 302.1L625.1 298.7L619.2 296.1Z" fill="#04c56b"/>
<path d="M619.2 296.1L625.1 298.7L619.7 295.3L613.8 292.8Z" fill="#04c56c"/>
<path d="M636 305.4L641.8 307.8L636.4 304.4L630.5 302.1Z" fill="#05c87f"/>
<path d="M630.5 302.1L636.4 304.4L630.9 301.1L625.1 298.7Z" fill="#05c980"/>
<path d="M625.1 298.7L630.9 301.1L625.5 297.7L619.7 295.3Z" fill="#05c981"/>
<path class="o" d="M624.3 300.2L630.2 302.9L636 305.4L641.8 307.8L636.4 304.4L630.9 301.1L625.5 297.7L619.7 295.3L613.8 292.8L607.9 290.1L613.4 293.5L618.8 296.8Z"/>
<path d="M438.4 194.6L444.9 196.3L439.8 193.4L433.3 191.7Z" fill="#0bd604"/>
<path d="M433.3 191.7L439.8 193.4L434.7 190.7L428.2 189Z" fill="#0ad604"/>
<path d="M428.2 189L434.7 190.7L429.6 188L423.1 186.3Z" fill="#0ad604"/>
<path d="M444.9 196.3L451.3 198.4L446.2 195.4L439.8 193.4Z" fill="#09d204"/>
<path d="M439.8 193.4L446.2 195.4L441.1 192.6L434.7 190.7Z" fill="#09d304"/>
<path d="M434.7 190.7L441.1 192.6L436 189.9L429.6 188Z" fill="#08d304"/>
<path d="M451.3 198.4L457.7 200.6L452.6 197.6L446.2 195.4Z" fill="#07cf03"/>
<path d="M446.2 195.4L452.6 197.6L447.5 194.7L441.1 192.6Z" fill="#07d003"/>
<path d="M441.1 192.6L447.5 194.7L442.4 192L436 189.9Z" fill="#07d003"/>
<path class="o" d="M438.4 194.6L444.9 196.3L451.3 198.4L457.7 200.6L452.6 197.6L447.5 194.7L442.4 192L436 189.9L429.6 188L423.1 186.3L428.2 189L433.3 191.7Z"/>
<path d="M675 328L680.7 330.5L675.1 327.2L669.4 324.7Z" fill="#06ca8b"/>
<path d="M669.4 324.7L675.1 327.2L669.6 323.8L663.8 321.3Z" fill="#06ca8c"/>
<path d="M663.8 321.3L669.6 323.8L664.1 320.5L658.3 317.9Z" fill="#06ca8d"/>
<path d="M680.7 330.5L686.4 332.9L680.8 329.6L675.1 327.2Z" fill="#07d0a1"/>
<path d="M675.1 327.2L680.8 329.6L675.3 326.3L669.6 323.8Z" fill="#08d1a2"/>
<path d="M669.6 323.8L675.3 326.3L669.8 322.9L664.1 320.5Z" fill="#08d1a4"/>
<path d="M686.4 332.9L692.1 335.3L686.5 332L680.8 329.6Z" fill="#09d6b7"/>
<path d="M680.8 329.6L686.5 332L681 328.7L675.3 326.3Z" fill="#09d6b8"/>
<path d="M675.3 326.3L681 328.7L675.4 325.4L669.8 322.9Z" fill="#09d7b9"/>
<path class="o" d="M675 328L680.7 330.5L686.4 332.9L692.1 335.3L686.5 332L681 328.7L675.4 325.4L669.8 322.9L664.1 320.5L658.3 317.9L663.8 321.3L669.4 324.7Z"/>
<path d="M488.8 223.3L495.1 226L489.9 221.8L483.6 219.1Z" fill="#05cc02"/>
<path d="M483.6 219.1L489.9 221.8L484.7 217.7L478.4 214.9Z" fill="#05cb02"/>
<path d="M478.4 214.9L484.7 217.7L479.5 213.8L473.2 211Z" fill="#05cb02"/>
<path d="M495.1 226L501.4 228.8L496.2 224.6L489.9 221.8Z" fill="#03cb01"/>
<path d="M489.9 221.8L496.2 224.6L491 220.5L484.7 217.7Z" fill="#04ca01"/>
<path d="M484.7 217.7L491 220.5L485.8 216.6L479.5 213.8Z" fill="#04c902"/>
<path d="M501.4 228.8L507.7 231.6L502.4 227.5L496.2 224.6Z" fill="#02ca01"/>
<path d="M496.2 224.6L502.4 227.5L497.2 223.5L491 220.5Z" fill="#02c901"/>
<path d="M491 220.5L497.2 223.5L492.1 219.6L485.8 216.6Z" fill="#02c801"/>
<path class="o" d="M488.8 223.3L495.1 226L501.4 228.8L507.7 231.6L502.4 227.5L497.2 223.5L492.1 219.6L485.8 216.6L479.5 213.8L473.2 211L478.4 214.9L483.6 219.1Z"/>
<path d="M539.3 256L545.5 258.4L540.2 254.6L534 252.1Z" fill="#00cd06"/>
<path d="M534 252.1L540.2 254.6L534.9 250.8L528.7 248.1Z" fill="#00cc06"/>
<path d="M528.7 248.1L534.9 250.8L529.6 246.9L523.4 244.1Z" fill="#00cb05"/>
<path d="M545.5 258.4L551.6 260.7L546.3 257L540.2 254.6Z" fill="#00ce10"/>
<path d="M540.2 254.6L546.3 257L541 253.4L534.9 250.8Z" fill="#00cd10"/>
<path d="M534.9 250.8L541 253.4L535.7 249.6L529.6 246.9Z" fill="#00cb0f"/>
<path d="M551.6 260.7L557.7 262.8L552.4 259.3L546.3 257Z" fill="#00d01a"/>
<path d="M546.3 257L552.4 259.3L547.1 255.7L541 253.4Z" fill="#00cf1a"/>
<path d="M541 253.4L547.1 255.7L541.8 252.1L535.7 249.6Z" fill="#00cd1a"/>
<path class="o" d="M539.3 256L545.5 258.4L551.6 260.7L557.7 262.8L552.4 259.3L547.1 255.7L541.8 252.1L535.7 249.6L529.6 246.9L523.4 244.1L528.7 248.1L534 252.1Z"/>
<path d="M590 283.3L596 285.7L590.6 282.4L584.5 280Z" fill="#00cb25"/>
<path d="M584.5 280L590.6 282.4L585.2 279L579.1 276.6Z" fill="#01cb26"/>
<path d="M579.1 276.6L585.2 279L579.8 275.6L573.7 273.2Z" fill="#01cb27"/>
<path d="M596 285.7L602 288L596.6 284.6L590.6 282.4Z" fill="#01cb38"/>
<path d="M590.6 282.4L596.6 284.6L591.2 281.3L585.2 279Z" fill="#01cc39"/>
<path d="M585.2 279L591.2 281.3L585.8 277.9L579.8 275.6Z" fill="#02cc3a"/>
<path d="M602 288L607.9 290.1L602.5 286.7L596.6 284.6Z" fill="#02cd4a"/>
<path d="M596.6 284.6L602.5 286.7L597.1 283.4L591.2 281.3Z" fill="#02cd4b"/>
<path d="M591.2 281.3L597.1 283.4L591.7 280L585.8 277.9Z" fill="#02cd4c"/>
<path class="o" d="M590 283.3L596 285.7L602 288L607.9 290.1L602.5 286.7L597.1 283.4L591.7 280L585.8 277.9L579.8 275.6L573.7 273.2L579.1 276.6L584.5 280Z"/>
<path d="M640.8 310.5L646.7 313.1L641.1 309.7L635.3 307.1Z" fill="#03c453"/>
<path d="M635.3 307.1L641.1 309.7L635.6 306.3L629.8 303.6Z" fill="#03c454"/>
<path d="M629.8 303.6L635.6 306.3L630.2 302.9L624.3 300.2Z" fill="#03c455"/>
<path d="M646.7 313.1L652.5 315.6L647 312.2L641.1 309.7Z" fill="#04c567"/>
<path d="M641.1 309.7L647 312.2L641.5 308.8L635.6 306.3Z" fill="#04c568"/>
<path d="M635.6 306.3L641.5 308.8L636 305.4L630.2 302.9Z" fill="#04c569"/>
<path d="M652.5 315.6L658.3 317.9L652.8 314.6L647 312.2Z" fill="#05c87b"/>
<path d="M647 312.2L652.8 314.6L647.3 311.2L641.5 308.8Z" fill="#05c87c"/>
<path d="M641.5 308.8L647.3 311.2L641.8 307.8L636 305.4Z" fill="#05c87d"/>
<path class="o" d="M640.8 310.5L646.7 313.1L652.5 315.6L658.3 317.9L652.8 314.6L647.3 311.2L641.8 307.8L636 305.4L630.2 302.9L624.3 300.2L629.8 303.6L635.3 307.1Z"/>
<path d="M453.9 204.7L460.4 206.5L455.2 202.9L448.8 201.1Z" fill="#0bd705"/>
<path d="M448.8 201.1L455.2 202.9L450 199.5L443.6 197.8Z" fill="#0bd705"/>
<path d="M443.6 197.8L450 199.5L444.9 196.3L438.4 194.6Z" fill="#0bd705"/>
<path d="M460.4 206.5L466.8 208.7L461.6 205L455.2 202.9Z" fill="#09d304"/>
<path d="M455.2 202.9L461.6 205L456.4 201.6L450 199.5Z" fill="#09d304"/>
<path d="M450 199.5L456.4 201.6L451.3 198.4L444.9 196.3Z" fill="#09d204"/>
<path d="M466.8 208.7L473.2 211L468 207.3L461.6 205Z" fill="#07d003"/>
<path d="M461.6 205L468 207.3L462.8 203.8L456.4 201.6Z" fill="#07cf03"/>
<path d="M456.4 201.6L462.8 203.8L457.7 200.6L451.3 198.4Z" fill="#07cf03"/>
<path class="o" d="M453.9 204.7L460.4 206.5L466.8 208.7L473.2 211L468 207.3L462.8 203.8L457.7 200.6L451.3 198.4L444.9 196.3L438.4 194.6L443.6 197.8L448.8 201.1Z"/>
<path d="M504.6 236.4L510.9 238.9L505.7 234.6L499.3 232Z" fill="#05ce02"/>
<path d="M499.3 232L505.7 234.6L500.4 230.3L494.1 227.6Z" fill="#05cd02"/>
<path d="M494.1 227.6L500.4 230.3L495.1 226L488.8 223.3Z" fill="#05cd02"/>
<path d="M510.9 238.9L517.2 241.5L511.9 237.3L505.7 234.6Z" fill="#03cd01"/>
<path d="M505.7 234.6L511.9 237.3L506.7 233L500.4 230.3Z" fill="#03cc01"/>
<path d="M500.4 230.3L506.7 233L501.4 228.8L495.1 226Z" fill="#03cb01"/>
<path d="M517.2 241.5L523.4 244.1L518.1 240L511.9 237.3Z" fill="#01cc00"/>
<path d="M511.9 237.3L518.1 240L512.9 235.8L506.7 233Z" fill="#01cc01"/>
<path d="M506.7 233L512.9 235.8L507.7 231.6L501.4 228.8Z" fill="#01cb01"/>
<path class="o" d="M504.6 236.4L510.9 238.9L517.2 241.5L523.4 244.1L518.1 240L512.9 235.8L507.7 231.6L501.4 228.8L495.1 226L488.8 223.3L494.1 227.6L499.3 232Z"/>
<path d="M691.8 338.1L697.6 340.5L691.9 337.2L686.2 334.8Z" fill="#06c986"/>
<path d="M686.2 334.8L691.9 337.2L686.3 333.9L680.6 331.4Z" fill="#06c988"/>
<path d="M680.6 331.4L686.3 333.9L680.7 330.5L675 328Z" fill="#06c989"/>
<path d="M697.6 340.5L703.2 342.8L697.6 339.6L691.9 337.2Z" fill="#07cf9c"/>
<path d="M691.9 337.2L697.6 339.6L692 336.2L686.3 333.9Z" fill="#07d09e"/>
<path d="M686.3 333.9L692 336.2L686.4 332.9L680.7 330.5Z" fill="#07d09f"/>
<path d="M703.2 342.8L708.9 345.2L703.3 341.9L697.6 339.6Z" fill="#09d5b2"/>
<path d="M697.6 339.6L703.3 341.9L697.6 338.6L692 336.2Z" fill="#09d5b4"/>
<path d="M692 336.2L697.6 338.6L692.1 335.3L686.4 332.9Z" fill="#09d6b5"/>
<path class="o" d="M691.8 338.1L697.6 340.5L703.2 342.8L708.9 345.2L703.3 341.9L697.6 338.6L692.1 335.3L686.4 332.9L680.7 330.5L675 328L680.6 331.4L686.2 334.8Z"/>
<path d="M555.4 267.2L561.6 269.3L556.2 265.7L550 263.5Z" fill="#00d107"/>
<path d="M550 263.5L556.2 265.7L550.8 262.1L544.7 259.8Z" fill="#00d007"/>
<path d="M544.7 259.8L550.8 262.1L545.5 258.4L539.3 256Z" fill="#00cf06"/>
<path d="M561.6 269.3L567.7 271.3L562.3 267.8L556.2 265.7Z" fill="#00d210"/>
<path d="M556.2 265.7L562.3 267.8L556.9 264.3L550.8 262.1Z" fill="#00d110"/>
<path d="M550.8 262.1L556.9 264.3L551.6 260.7L545.5 258.4Z" fill="#00d010"/>
<path d="M567.7 271.3L573.7 273.2L568.4 269.8L562.3 267.8Z" fill="#00d31a"/>
<path d="M562.3 267.8L568.4 269.8L563 266.3L556.9 264.3Z" fill="#00d21a"/>
<path d="M556.9 264.3L563 266.3L557.7 262.8L551.6 260.7Z" fill="#00d11a"/>
<path class="o" d="M555.4 267.2L561.6 269.3L567.7 271.3L573.7 273.2L568.4 269.8L563 266.3L557.7 262.8L551.6 260.7L545.5 258.4L539.3 256L544.7 259.8L550 263.5Z"/>
<path d="M418.9 191L425.4 192.1L420.3 189.1L413.8 187.9Z" fill="#35de08"/>
<path d="M413.8 187.9L420.3 189.1L415.2 186.2L408.7 184.9Z" fill="#32dd08"/>
<path d="M408.7 184.9L415.2 186.2L410.1 183.3L403.6 181.9Z" fill="#2fdd07"/>
<path d="M425.4 192.1L432 193.2L426.8 190.3L420.3 189.1Z" fill="#22db07"/>
<path d="M420.3 189.1L426.8 190.3L421.7 187.5L415.2 186.2Z" fill="#1fdb06"/>
<path d="M415.2 186.2L421.7 187.5L416.6 184.7L410.1 183.3Z" fill="#1cda06"/>
<path d="M432 193.2L438.4 194.6L433.3 191.7L426.8 190.3Z" fill="#10d905"/>
<path d="M426.8 190.3L433.3 191.7L428.2 189L421.7 187.5Z" fill="#0ed805"/>
<path d="M421.7 187.5L428.2 189L423.1 186.3L416.6 184.7Z" fill="#0cd805"/>
<path class="o" d="M418.9 191L425.4 192.1L432 193.2L438.4 194.6L433.3 191.7L428.2 189L423.1 186.3L416.6 184.7L410.1 183.3L403.6 181.9L408.7 184.9L413.8 187.9Z"/>
<path d="M606.4 293.4L612.4 295.8L606.9 292.4L600.9 290Z" fill="#00ca22"/>
<path d="M600.9 290L606.9 292.4L601.4 289L595.4 286.6Z" fill="#00ca23"/>
<path d="M595.4 286.6L601.4 289L596 285.7L590 283.3Z" fill="#00ca24"/>
<path d="M612.4 295.8L618.3 298.1L612.9 294.7L606.9 292.4Z" fill="#01cb34"/>
<path d="M606.9 292.4L612.9 294.7L607.4 291.3L601.4 289Z" fill="#01cb35"/>
<path d="M601.4 289L607.4 291.3L602 288L596 285.7Z" fill="#01cb36"/>
<path d="M618.3 298.1L624.3 300.2L618.8 296.8L612.9 294.7Z" fill="#02cc47"/>
<path d="M612.9 294.7L618.8 296.8L613.4 293.5L607.4 291.3Z" fill="#02cc48"/>
<path d="M607.4 291.3L613.4 293.5L607.9 290.1L602 288Z" fill="#02cd49"/>
<path class="o" d="M606.4 293.4L612.4 295.8L618.3 298.1L624.3 300.2L618.8 296.8L613.4 293.5L607.9 290.1L602 288L596 285.7L590 283.3L595.4 286.6L600.9 290Z"/>
<path d="M657.5 320.8L663.4 323.4L657.8 320L651.9 317.3Z" fill="#03c450"/>
<path d="M651.9 317.3L657.8 320L652.2 316.5L646.4 313.9Z" fill="#03c451"/>
<path d="M646.4 313.9L652.2 316.5L646.7 313.1L640.8 310.5Z" fill="#03c452"/>
<path d="M663.4 323.4L669.2 325.8L663.6 322.4L657.8 320Z" fill="#04c664"/>
<path d="M657.8 320L663.6 322.4L658 319L652.2 316.5Z" fill="#04c665"/>
<path d="M652.2 316.5L658 319L652.5 315.6L646.7 313.1Z" fill="#04c566"/>
<path d="M669.2 325.8L675 328L669.4 324.7L663.6 322.4Z" fill="#05c877"/>
<path d="M663.6 322.4L669.4 324.7L663.8 321.3L658 319Z" fill="#05c879"/>
<path d="M658 319L663.8 321.3L658.3 317.9L652.5 315.6Z" fill="#05c87a"/>
<path class="o" d="M657.5 320.8L663.4 323.4L669.2 325.8L675 328L669.4 324.7L663.8 321.3L658.3 317.9L652.5 315.6L646.7 313.1L640.8 310.5L646.4 313.9L651.9 317.3Z"/>
<path d="M469.7 216.9L476.1 218.8L470.8 214.5L464.4 212.7Z" fill="#0bd804"/>
<path d="M464.4 212.7L470.8 214.5L465.6 210.4L459.2 208.6Z" fill="#0bd804"/>
<path d="M459.2 208.6L465.6 210.4L460.4 206.5L453.9 204.7Z" fill="#0bd705"/>
<path d="M476.1 218.8L482.5 220.9L477.2 216.7L470.8 214.5Z" fill="#09d404"/>
<path d="M470.8 214.5L477.2 216.7L472 212.6L465.6 210.4Z" fill="#09d404"/>
<path d="M465.6 210.4L472 212.6L466.8 208.7L460.4 206.5Z" fill="#09d304"/>
<path d="M482.5 220.9L488.8 223.3L483.6 219.1L477.2 216.7Z" fill="#07d103"/>
<path d="M477.2 216.7L483.6 219.1L478.4 214.9L472 212.6Z" fill="#07d103"/>
<path d="M472 212.6L478.4 214.9L473.2 211L466.8 208.7Z" fill="#07d003"/>
<path class="o" d="M469.7 216.9L476.1 218.8L482.5 220.9L488.8 223.3L483.6 219.1L478.4 214.9L473.2 211L466.8 208.7L460.4 206.5L453.9 204.7L459.2 208.6L464.4 212.7Z"/>
<path d="M520.6 249.1L526.9 251.4L521.5 247.3L515.3 244.9Z" fill="#04d002"/>
<path d="M515.3 244.9L521.5 247.3L516.2 243.1L509.9 240.7Z" fill="#04d002"/>
<path d="M509.9 240.7L516.2 243.1L510.9 238.9L504.6 236.4Z" fill="#04cf02"/>
<path d="M526.9 251.4L533.1 253.7L527.8 249.7L521.5 247.3Z" fill="#02d001"/>
<path d="M521.5 247.3L527.8 249.7L522.5 245.6L516.2 243.1Z" fill="#02cf01"/>
<path d="M516.2 243.1L522.5 245.6L517.2 241.5L510.9 238.9Z" fill="#03ce01"/>
<path d="M533.1 253.7L539.3 256L534 252.1L527.8 249.7Z" fill="#01d000"/>
<path d="M527.8 249.7L534 252.1L528.7 248.1L522.5 245.6Z" fill="#01cf00"/>
<path d="M522.5 245.6L528.7 248.1L523.4 244.1L517.2 241.5Z" fill="#01cd00"/>
<path class="o" d="M520.6 249.1L526.9 251.4L533.1 253.7L539.3 256L534 252.1L528.7 248.1L523.4 244.1L517.2 241.5L510.9 238.9L504.6 236.4L509.9 240.7L515.3 244.9Z"/>
<path d="M571.7 277.6L577.8 279.5L572.4 276.2L566.2 274.2Z" fill="#00d205"/>
<path d="M566.2 274.2L572.4 276.2L567 272.8L560.8 270.7Z" fill="#00d206"/>
<path d="M560.8 270.7L567 272.8L561.6 269.3L555.4 267.2Z" fill="#00d106"/>
<path d="M577.8 279.5L583.9 281.4L578.5 278.1L572.4 276.2Z" fill="#00d20f"/>
<path d="M572.4 276.2L578.5 278.1L573.1 274.7L567 272.8Z" fill="#00d20f"/>
<path d="M567 272.8L573.1 274.7L567.7 271.3L561.6 269.3Z" fill="#00d210"/>
<path d="M583.9 281.4L590 283.3L584.5 280L578.5 278.1Z" fill="#00d318"/>
<path d="M578.5 278.1L584.5 280L579.1 276.6L573.1 274.7Z" fill="#00d319"/>
<path d="M573.1 274.7L579.1 276.6L573.7 273.2L567.7 271.3Z" fill="#00d31a"/>
<path class="o" d="M571.7 277.6L577.8 279.5L583.9 281.4L590 283.3L584.5 280L579.1 276.6L573.7 273.2L567.7 271.3L561.6 269.3L555.4 267.2L560.8 270.7L566.2 274.2Z"/>
<path d="M708.9 348L714.6 350.3L708.9 347.1L703.2 344.8Z" fill="#05c880"/>
<path d="M703.2 344.8L708.9 347.1L703.2 343.8L697.5 341.4Z" fill="#05c882"/>
<path d="M697.5 341.4L703.2 343.8L697.6 340.5L691.8 338.1Z" fill="#06c884"/>
<path d="M714.6 350.3L720.3 352.6L714.6 349.4L708.9 347.1Z" fill="#07ce96"/>
<path d="M708.9 347.1L714.6 349.4L708.9 346.1L703.2 343.8Z" fill="#07cf98"/>
<path d="M703.2 343.8L708.9 346.1L703.2 342.8L697.6 340.5Z" fill="#07cf9a"/>
<path d="M720.3 352.6L725.9 354.8L720.2 351.6L714.6 349.4Z" fill="#08d4ac"/>
<path d="M714.6 349.4L720.2 351.6L714.5 348.4L708.9 346.1Z" fill="#08d4ae"/>
<path d="M708.9 346.1L714.5 348.4L708.9 345.2L703.2 342.8Z" fill="#08d5b0"/>
<path class="o" d="M708.9 348L714.6 350.3L720.3 352.6L725.9 354.8L720.2 351.6L714.5 348.4L708.9 345.2L703.2 342.8L697.6 340.5L691.8 338.1L697.5 341.4L703.2 344.8Z"/>
<path d="M434.4 201.1L441 202.1L435.8 198.6L429.2 197.5Z" fill="#39de08"/>
<path d="M429.2 197.5L435.8 198.6L430.6 195.2L424.1 194.2Z" fill="#38de08"/>
<path d="M424.1 194.2L430.6 195.2L425.4 192.1L418.9 191Z" fill="#37de08"/>
<path d="M441 202.1L447.5 203.3L442.3 199.7L435.8 198.6Z" fill="#26dc07"/>
<path d="M435.8 198.6L442.3 199.7L437.1 196.4L430.6 195.2Z" fill="#25dc07"/>
<path d="M430.6 195.2L437.1 196.4L432 193.2L425.4 192.1Z" fill="#24db07"/>
<path d="M447.5 203.3L453.9 204.7L448.8 201.1L442.3 199.7Z" fill="#12d905"/>
<path d="M442.3 199.7L448.8 201.1L443.6 197.8L437.1 196.4Z" fill="#12d905"/>
<path d="M437.1 196.4L443.6 197.8L438.4 194.6L432 193.2Z" fill="#11d905"/>
<path class="o" d="M434.4 201.1L441 202.1L447.5 203.3L453.9 204.7L448.8 201.1L443.6 197.8L438.4 194.6L432 193.2L425.4 192.1L418.9 191L424.1 194.2L429.2 197.5Z"/>
<path d="M623 303.6L629 306.1L623.4 302.6L617.4 300.2Z" fill="#00ca1f"/>
<path d="M617.4 300.2L623.4 302.6L617.9 299.2L611.9 296.8Z" fill="#00ca20"/>
<path d="M611.9 296.8L617.9 299.2L612.4 295.8L606.4 293.4Z" fill="#00ca20"/>
<path d="M629 306.1L634.9 308.4L629.4 304.9L623.4 302.6Z" fill="#01cb31"/>
<path d="M623.4 302.6L629.4 304.9L623.8 301.5L617.9 299.2Z" fill="#01cb32"/>
<path d="M617.9 299.2L623.8 301.5L618.3 298.1L612.4 295.8Z" fill="#01cb33"/>
<path d="M634.9 308.4L640.8 310.5L635.3 307.1L629.4 304.9Z" fill="#02cc43"/>
<path d="M629.4 304.9L635.3 307.1L629.8 303.6L623.8 301.5Z" fill="#02cc45"/>
<path d="M623.8 301.5L629.8 303.6L624.3 300.2L618.3 298.1Z" fill="#02cc46"/>
<path class="o" d="M623 303.6L629 306.1L634.9 308.4L640.8 310.5L635.3 307.1L629.8 303.6L624.3 300.2L618.3 298.1L612.4 295.8L606.4 293.4L611.9 296.8L617.4 300.2Z"/>
<path d="M485.5 230.1L491.9 232.1L486.6 227.6L480.2 225.7Z" fill="#0ad804"/>
<path d="M480.2 225.7L486.6 227.6L481.3 223.2L474.9 221.3Z" fill="#0ad804"/>
<path d="M474.9 221.3L481.3 223.2L476.1 218.8L469.7 216.9Z" fill="#0ad804"/>
<path d="M491.9 232.1L498.3 234.1L493 229.7L486.6 227.6Z" fill="#08d503"/>
<path d="M486.6 227.6L493 229.7L487.7 225.3L481.3 223.2Z" fill="#08d503"/>
<path d="M481.3 223.2L487.7 225.3L482.5 220.9L476.1 218.8Z" fill="#09d404"/>
<path d="M498.3 234.1L504.6 236.4L499.3 232L493 229.7Z" fill="#06d303"/>
<path d="M493 229.7L499.3 232L494.1 227.6L487.7 225.3Z" fill="#07d203"/>
<path d="M487.7 225.3L494.1 227.6L488.8 223.3L482.5 220.9Z" fill="#07d203"/>
<path class="o" d="M485.5 230.1L491.9 232.1L498.3 234.1L504.6 236.4L499.3 232L494.1 227.6L488.8 223.3L482.5 220.9L476.1 218.8L469.7 216.9L474.9 221.3L480.2 225.7Z"/>
<path d="M536.7 261.1L543 263.2L537.6 259.4L531.3 257.2Z" fill="#04d302"/>
<path d="M531.3 257.2L537.6 259.4L532.2 255.4L526 253.2Z" fill="#04d202"/>
<path d="M526 253.2L532.2 255.4L526.9 251.4L520.6 249.1Z" fill="#04d102"/>
<path d="M543 263.2L549.2 265.2L543.8 261.5L537.6 259.4Z" fill="#02d201"/>
<path d="M537.6 259.4L543.8 261.5L538.5 257.6L532.2 255.4Z" fill="#02d201"/>
<path d="M532.2 255.4L538.5 257.6L533.1 253.7L526.9 251.4Z" fill="#02d101"/>
<path d="M549.2 265.2L555.4 267.2L550 263.5L543.8 261.5Z" fill="#01d300"/>
<path d="M543.8 261.5L550 263.5L544.7 259.8L538.5 257.6Z" fill="#01d200"/>
<path d="M538.5 257.6L544.7 259.8L539.3 256L533.1 253.7Z" fill="#01d100"/>
<path class="o" d="M536.7 261.1L543 263.2L549.2 265.2L555.4 267.2L550 263.5L544.7 259.8L539.3 256L533.1 253.7L526.9 251.4L520.6 249.1L526 253.2L531.3 257.2Z"/>
<path d="M674.5 331L680.3 333.5L674.6 330.2L668.8 327.6Z" fill="#02c54c"/>
<path d="M668.8 327.6L674.6 330.2L669 326.8L663.2 324.2Z" fill="#03c54d"/>
<path d="M663.2 324.2L669 326.8L663.4 323.4L657.5 320.8Z" fill="#03c54f"/>
<path d="M680.3 333.5L686.1 335.9L680.4 332.5L674.6 330.2Z" fill="#03c660"/>
<path d="M674.6 330.2L680.4 332.5L674.8 329.2L669 326.8Z" fill="#04c661"/>
<path d="M669 326.8L674.8 329.2L669.2 325.8L663.4 323.4Z" fill="#04c662"/>
<path d="M686.1 335.9L691.8 338.1L686.2 334.8L680.4 332.5Z" fill="#04c773"/>
<path d="M680.4 332.5L686.2 334.8L680.6 331.4L674.8 329.2Z" fill="#05c774"/>
<path d="M674.8 329.2L680.6 331.4L675 328L669.2 325.8Z" fill="#05c876"/>
<path class="o" d="M674.5 331L680.3 333.5L686.1 335.9L691.8 338.1L686.2 334.8L680.6 331.4L675 328L669.2 325.8L663.4 323.4L657.5 320.8L663.2 324.2L668.8 327.6Z"/>
<path d="M399 186L405.7 187.9L400.6 184.6L393.9 182.6Z" fill="#76e30b"/>
<path d="M393.9 182.6L400.6 184.6L395.4 181.3L388.8 179.2Z" fill="#73e10a"/>
<path d="M388.8 179.2L395.4 181.3L390.3 178.1L383.6 175.9Z" fill="#71df0a"/>
<path d="M405.7 187.9L412.3 189.5L407.2 186.3L400.6 184.6Z" fill="#5fe30a"/>
<path d="M400.6 184.6L407.2 186.3L402.1 183.2L395.4 181.3Z" fill="#5ce20a"/>
<path d="M395.4 181.3L402.1 183.2L397 180L390.3 178.1Z" fill="#5ae009"/>
<path d="M412.3 189.5L418.9 191L413.8 187.9L407.2 186.3Z" fill="#49e009"/>
<path d="M407.2 186.3L413.8 187.9L408.7 184.9L402.1 183.2Z" fill="#47e009"/>
<path d="M402.1 183.2L408.7 184.9L403.6 181.9L397 180Z" fill="#44df09"/>
<path class="o" d="M399 186L405.7 187.9L412.3 189.5L418.9 191L413.8 187.9L408.7 184.9L403.6 181.9L397 180L390.3 178.1L383.6 175.9L388.8 179.2L393.9 182.6Z"/>
<path d="M588.1 287.7L594.2 289.6L588.7 286.2L582.6 284.4Z" fill="#00d303"/>
<path d="M582.6 284.4L588.7 286.2L583.3 282.9L577.1 281Z" fill="#00d304"/>
<path d="M577.1 281L583.3 282.9L577.8 279.5L571.7 277.6Z" fill="#00d205"/>
<path d="M594.2 289.6L600.3 291.5L594.8 288.1L588.7 286.2Z" fill="#00d20d"/>
<path d="M588.7 286.2L594.8 288.1L589.4 284.8L583.3 282.9Z" fill="#00d20d"/>
<path d="M583.3 282.9L589.4 284.8L583.9 281.4L577.8 279.5Z" fill="#00d20e"/>
<path d="M600.3 291.5L606.4 293.4L600.9 290L594.8 288.1Z" fill="#00d316"/>
<path d="M594.8 288.1L600.9 290L595.4 286.6L589.4 284.8Z" fill="#00d317"/>
<path d="M589.4 284.8L595.4 286.6L590 283.3L583.9 281.4Z" fill="#00d318"/>
<path class="o" d="M588.1 287.7L594.2 289.6L600.3 291.5L606.4 293.4L600.9 290L595.4 286.6L590 283.3L583.9 281.4L577.8 279.5L571.7 277.6L577.1 281L582.6 284.4Z"/>
<path d="M726.2 357.8L731.9 360L726.1 356.8L720.4 354.6Z" fill="#05c77a"/>
<path d="M720.4 354.6L726.1 356.8L720.3 353.6L714.7 351.3Z" fill="#05c77c"/>
<path d="M714.7 351.3L720.3 353.6L714.6 350.3L708.9 348Z" fill="#05c77e"/>
<path d="M731.9 360L737.5 362.2L731.8 359L726.1 356.8Z" fill="#06cd8f"/>
<path d="M726.1 356.8L731.8 359L726 355.8L720.3 353.6Z" fill="#06cd92"/>
<path d="M720.3 353.6L726 355.8L720.3 352.6L714.6 350.3Z" fill="#07ce94"/>
<path d="M737.5 362.2L743.1 364.3L737.4 361.2L731.8 359Z" fill="#08d2a4"/>
<path d="M731.8 359L737.4 361.2L731.6 358L726 355.8Z" fill="#08d3a7"/>
<path d="M726 355.8L731.6 358L725.9 354.8L720.3 352.6Z" fill="#08d3a9"/>
<path class="o" d="M726.2 357.8L731.9 360L737.5 362.2L743.1 364.3L737.4 361.2L731.6 358L725.9 354.8L720.3 352.6L714.6 350.3L708.9 348L714.7 351.3L720.4 354.6Z"/>
<path d="M450.2 212.7L456.7 214L451.4 209.9L444.9 208.7Z" fill="#35de08"/>
<path d="M444.9 208.7L451.4 209.9L446.2 205.9L439.7 204.8Z" fill="#37de08"/>
<path d="M439.7 204.8L446.2 205.9L441 202.1L434.4 201.1Z" fill="#38de08"/>
<path d="M456.7 214L463.2 215.3L457.9 211.1L451.4 209.9Z" fill="#22db07"/>
<path d="M451.4 209.9L457.9 211.1L452.7 207.1L446.2 205.9Z" fill="#24db07"/>
<path d="M446.2 205.9L452.7 207.1L447.5 203.3L441 202.1Z" fill="#25dc07"/>
<path d="M463.2 215.3L469.7 216.9L464.4 212.7L457.9 211.1Z" fill="#0fd805"/>
<path d="M457.9 211.1L464.4 212.7L459.2 208.6L452.7 207.1Z" fill="#10d905"/>
<path d="M452.7 207.1L459.2 208.6L453.9 204.7L447.5 203.3Z" fill="#12d905"/>
<path class="o" d="M450.2 212.7L456.7 214L463.2 215.3L469.7 216.9L464.4 212.7L459.2 208.6L453.9 204.7L447.5 203.3L441 202.1L434.4 201.1L439.7 204.8L444.9 208.7Z"/>
<path d="M639.8 314.1L645.7 316.4L640.1 313L634.1 310.6Z" fill="#00ca1c"/>
<path d="M634.1 310.6L640.1 313L634.5 309.5L628.6 307.1Z" fill="#00ca1d"/>
<path d="M628.6 307.1L634.5 309.5L629 306.1L623 303.6Z" fill="#00ca1e"/>
<path d="M645.7 316.4L651.6 318.7L646 315.2L640.1 313Z" fill="#01cb2e"/>
<path d="M640.1 313L646 315.2L640.5 311.8L634.5 309.5Z" fill="#01cb2f"/>
<path d="M634.5 309.5L640.5 311.8L634.9 308.4L629 306.1Z" fill="#01cb30"/>
<path d="M651.6 318.7L657.5 320.8L651.9 317.3L646 315.2Z" fill="#02cd40"/>
<path d="M646 315.2L651.9 317.3L646.4 313.9L640.5 311.8Z" fill="#02cd41"/>
<path d="M640.5 311.8L646.4 313.9L640.8 310.5L634.9 308.4Z" fill="#02cc42"/>
<path class="o" d="M639.8 314.1L645.7 316.4L651.6 318.7L657.5 320.8L651.9 317.3L646.4 313.9L640.8 310.5L634.9 308.4L629 306.1L623 303.6L628.6 307.1L634.1 310.6Z"/>
<path d="M501.5 243.2L507.9 245.1L502.6 240.8L496.2 238.9Z" fill="#09d704"/>
<path d="M496.2 238.9L502.6 240.8L497.2 236.5L490.8 234.5Z" fill="#09d704"/>
<path d="M490.8 234.5L497.2 236.5L491.9 232.1L485.5 230.1Z" fill="#0ad704"/>
<path d="M507.9 245.1L514.3 247.1L508.9 242.8L502.6 240.8Z" fill="#07d503"/>
<path d="M502.6 240.8L508.9 242.8L503.6 238.5L497.2 236.5Z" fill="#08d503"/>
<path d="M497.2 236.5L503.6 238.5L498.3 234.1L491.9 232.1Z" fill="#08d503"/>
<path d="M514.3 247.1L520.6 249.1L515.3 244.9L508.9 242.8Z" fill="#06d402"/>
<path d="M508.9 242.8L515.3 244.9L509.9 240.7L503.6 238.5Z" fill="#06d402"/>
<path d="M503.6 238.5L509.9 240.7L504.6 236.4L498.3 234.1Z" fill="#06d303"/>
<path class="o" d="M501.5 243.2L507.9 245.1L514.3 247.1L520.6 249.1L515.3 244.9L509.9 240.7L504.6 236.4L498.3 234.1L491.9 232.1L485.5 230.1L490.8 234.5L496.2 238.9Z"/>
<path d="M553 272.4L559.3 274.1L553.8 270.5L547.6 268.7Z" fill="#04d602"/>
<path d="M547.6 268.7L553.8 270.5L548.4 266.9L542.1 265Z" fill="#04d402"/>
<path d="M542.1 265L548.4 266.9L543 263.2L536.7 261.1Z" fill="#04d302"/>
<path d="M559.3 274.1L565.5 275.9L560 272.4L553.8 270.5Z" fill="#02d601"/>
<path d="M553.8 270.5L560 272.4L554.6 268.8L548.4 266.9Z" fill="#02d401"/>
<path d="M548.4 266.9L554.6 268.8L549.2 265.2L543 263.2Z" fill="#02d301"/>
<path d="M565.5 275.9L571.7 277.6L566.2 274.2L560 272.4Z" fill="#01d500"/>
<path d="M560 272.4L566.2 274.2L560.8 270.7L554.6 268.8Z" fill="#01d500"/>
<path d="M554.6 268.8L560.8 270.7L555.4 267.2L549.2 265.2Z" fill="#01d400"/>
<path class="o" d="M553 272.4L559.3 274.1L565.5 275.9L571.7 277.6L566.2 274.2L560.8 270.7L555.4 267.2L549.2 265.2L543 263.2L536.7 261.1L542.1 265L547.6 268.7Z"/>
<path d="M691.6 341.2L697.4 343.7L691.7 340.3L685.9 337.8Z" fill="#02c548"/>
<path d="M685.9 337.8L691.7 340.3L686 336.9L680.2 334.4Z" fill="#02c54a"/>
<path d="M680.2 334.4L686 336.9L680.3 333.5L674.5 331Z" fill="#02c54b"/>
<path d="M697.4 343.7L703.2 345.9L697.4 342.6L691.7 340.3Z" fill="#03c75b"/>
<path d="M691.7 340.3L697.4 342.6L691.8 339.3L686 336.9Z" fill="#03c75d"/>
<path d="M686 336.9L691.8 339.3L686.1 335.9L680.3 333.5Z" fill="#03c75e"/>
<path d="M703.2 345.9L708.9 348L703.2 344.8L697.4 342.6Z" fill="#04c86e"/>
<path d="M697.4 342.6L703.2 344.8L697.5 341.4L691.8 339.3Z" fill="#04c870"/>
<path d="M691.8 339.3L697.5 341.4L691.8 338.1L686.1 335.9Z" fill="#04c872"/>
<path class="o" d="M691.6 341.2L697.4 343.7L703.2 345.9L708.9 348L703.2 344.8L697.5 341.4L691.8 338.1L686.1 335.9L680.3 333.5L674.5 331L680.2 334.4L685.9 337.8Z"/>
<path d="M414.6 196.6L421.3 198.3L416 194.7L409.4 193Z" fill="#79e60b"/>
<path d="M409.4 193L416 194.7L410.9 191.2L404.2 189.4Z" fill="#79e60b"/>
<path d="M404.2 189.4L410.9 191.2L405.7 187.9L399 186Z" fill="#77e50b"/>
<path d="M421.3 198.3L427.9 199.7L422.7 196.2L416 194.7Z" fill="#61e40a"/>
<path d="M416 194.7L422.7 196.2L417.5 192.8L410.9 191.2Z" fill="#61e40a"/>
<path d="M410.9 191.2L417.5 192.8L412.3 189.5L405.7 187.9Z" fill="#60e30a"/>
<path d="M427.9 199.7L434.4 201.1L429.2 197.5L422.7 196.2Z" fill="#4ce109"/>
<path d="M422.7 196.2L429.2 197.5L424.1 194.2L417.5 192.8Z" fill="#4ce109"/>
<path d="M417.5 192.8L424.1 194.2L418.9 191L412.3 189.5Z" fill="#4be109"/>
<path class="o" d="M414.6 196.6L421.3 198.3L427.9 199.7L434.4 201.1L429.2 197.5L424.1 194.2L418.9 191L412.3 189.5L405.7 187.9L399 186L404.2 189.4L409.4 193Z"/>
<path d="M604.8 298L610.9 299.8L605.3 296.4L599.2 294.6Z" fill="#00d302"/>
<path d="M599.2 294.6L605.3 296.4L599.8 293L593.7 291.1Z" fill="#00d302"/>
<path d="M593.7 291.1L599.8 293L594.2 289.6L588.1 287.7Z" fill="#00d303"/>
<path d="M610.9 299.8L616.9 301.8L611.4 298.3L605.3 296.4Z" fill="#00d20b"/>
<path d="M605.3 296.4L611.4 298.3L605.9 294.9L599.8 293Z" fill="#00d20b"/>
<path d="M599.8 293L605.9 294.9L600.3 291.5L594.2 289.6Z" fill="#00d20c"/>
<path d="M616.9 301.8L623 303.6L617.4 300.2L611.4 298.3Z" fill="#00d214"/>
<path d="M611.4 298.3L617.4 300.2L611.9 296.8L605.9 294.9Z" fill="#00d215"/>
<path d="M605.9 294.9L611.9 296.8L606.4 293.4L600.3 291.5Z" fill="#00d316"/>
<path class="o" d="M604.8 298L610.9 299.8L616.9 301.8L623 303.6L617.4 300.2L611.9 296.8L606.4 293.4L600.3 291.5L594.2 289.6L588.1 287.7L593.7 291.1L599.2 294.6Z"/>
<path d="M466.1 225.2L472.6 226.7L467.3 222.4L460.8 221Z" fill="#2edd07"/>
<path d="M460.8 221L467.3 222.4L462 218.2L455.5 216.9Z" fill="#30dd08"/>
<path d="M455.5 216.9L462 218.2L456.7 214L450.2 212.7Z" fill="#33dd08"/>
<path d="M472.6 226.7L479.1 228.4L473.8 224L467.3 222.4Z" fill="#19da06"/>
<path d="M467.3 222.4L473.8 224L468.5 219.6L462 218.2Z" fill="#1cda06"/>
<path d="M462 218.2L468.5 219.6L463.2 215.3L456.7 214Z" fill="#1fdb06"/>
<path d="M479.1 228.4L485.5 230.1L480.2 225.7L473.8 224Z" fill="#0bd805"/>
<path d="M473.8 224L480.2 225.7L474.9 221.3L468.5 219.6Z" fill="#0cd805"/>
<path d="M468.5 219.6L474.9 221.3L469.7 216.9L463.2 215.3Z" fill="#0ed805"/>
<path class="o" d="M466.1 225.2L472.6 226.7L479.1 228.4L485.5 230.1L480.2 225.7L474.9 221.3L469.7 216.9L463.2 215.3L456.7 214L450.2 212.7L455.5 216.9L460.8 221Z"/>
<path d="M743.7 367.4L749.4 369.6L743.5 366.4L737.9 364.2Z" fill="#04c673"/>
<path d="M737.9 364.2L743.5 366.4L737.7 363.2L732 361Z" fill="#05c675"/>
<path d="M732 361L737.7 363.2L731.9 360L726.2 357.8Z" fill="#05c777"/>
<path d="M749.4 369.6L755 371.7L749.2 368.5L743.5 366.4Z" fill="#06cb87"/>
<path d="M743.5 366.4L749.2 368.5L743.3 365.3L737.7 363.2Z" fill="#06cb8a"/>
<path d="M737.7 363.2L743.3 365.3L737.5 362.2L731.9 360Z" fill="#06cc8d"/>
<path d="M755 371.7L760.6 373.9L754.8 370.7L749.2 368.5Z" fill="#07d09c"/>
<path d="M749.2 368.5L754.8 370.7L748.9 367.5L743.3 365.3Z" fill="#07d19f"/>
<path d="M743.3 365.3L748.9 367.5L743.1 364.3L737.5 362.2Z" fill="#07d1a2"/>
<path class="o" d="M743.7 367.4L749.4 369.6L755 371.7L760.6 373.9L754.8 370.7L748.9 367.5L743.1 364.3L737.5 362.2L731.9 360L726.2 357.8L732 361L737.9 364.2Z"/>
<path d="M378.9 183.9L385.7 184.8L380.5 181.1L373.8 180.1Z" fill="#b6ed0c"/>
<path d="M373.8 180.1L380.5 181.1L375.4 177.5L368.6 176.4Z" fill="#b6ed0c"/>
<path d="M368.6 176.4L375.4 177.5L370.2 173.9L363.5 172.8Z" fill="#b7ed0c"/>
<path d="M385.7 184.8L392.4 185.5L387.2 182L380.5 181.1Z" fill="#a1ea0c"/>
<path d="M380.5 181.1L387.2 182L382.1 178.5L375.4 177.5Z" fill="#a1ea0c"/>
<path d="M375.4 177.5L382.1 178.5L377 175L370.2 173.9Z" fill="#a1ea0c"/>
<path d="M392.4 185.5L399 186L393.9 182.6L387.2 182Z" fill="#8de80c"/>
<path d="M387.2 182L393.9 182.6L388.8 179.2L382.1 178.5Z" fill="#8de80c"/>
<path d="M382.1 178.5L388.8 179.2L383.6 175.9L377 175Z" fill="#8ce80c"/>
<path class="o" d="M378.9 183.9L385.7 184.8L392.4 185.5L399 186L393.9 182.6L388.8 179.2L383.6 175.9L377 175L370.2 173.9L363.5 172.8L368.6 176.4L373.8 180.1Z"/>
<path d="M517.7 255.6L524.1 257.5L518.7 253.4L512.3 251.5Z" fill="#09d604"/>
<path d="M512.3 251.5L518.7 253.4L513.3 249.3L506.9 247.4Z" fill="#09d604"/>
<path d="M506.9 247.4L513.3 249.3L507.9 245.1L501.5 243.2Z" fill="#09d604"/>
<path d="M524.1 257.5L530.4 259.3L525 255.3L518.7 253.4Z" fill="#07d603"/>
<path d="M518.7 253.4L525 255.3L519.6 251.2L513.3 249.3Z" fill="#07d603"/>
<path d="M513.3 249.3L519.6 251.2L514.3 247.1L507.9 245.1Z" fill="#07d603"/>
<path d="M530.4 259.3L536.7 261.1L531.3 257.2L525 255.3Z" fill="#05d602"/>
<path d="M525 255.3L531.3 257.2L526 253.2L519.6 251.2Z" fill="#06d502"/>
<path d="M519.6 251.2L526 253.2L520.6 249.1L514.3 247.1Z" fill="#06d502"/>
<path class="o" d="M517.7 255.6L524.1 257.5L530.4 259.3L536.7 261.1L531.3 257.2L526 253.2L520.6 249.1L514.3 247.1L507.9 245.1L501.5 243.2L506.9 247.4L512.3 251.5Z"/>
<path d="M656.7 324.5L662.7 326.8L657 323.4L651.1 321Z" fill="#00ca1a"/>
<path d="M651.1 321L657 323.4L651.3 319.9L645.4 317.5Z" fill="#00ca1b"/>
<path d="M645.4 317.5L651.3 319.9L645.7 316.4L639.8 314.1Z" fill="#00ca1b"/>
<path d="M662.7 326.8L668.6 329L662.9 325.6L657 323.4Z" fill="#01cc2a"/>
<path d="M657 323.4L662.9 325.6L657.3 322.1L651.3 319.9Z" fill="#01cc2b"/>
<path d="M651.3 319.9L657.3 322.1L651.6 318.7L645.7 316.4Z" fill="#01cb2d"/>
<path d="M668.6 329L674.5 331L668.8 327.6L662.9 325.6Z" fill="#02cd3d"/>
<path d="M662.9 325.6L668.8 327.6L663.2 324.2L657.3 322.1Z" fill="#02cd3e"/>
<path d="M657.3 322.1L663.2 324.2L657.5 320.8L651.6 318.7Z" fill="#02cd3f"/>
<path class="o" d="M656.7 324.5L662.7 326.8L668.6 329L674.5 331L668.8 327.6L663.2 324.2L657.5 320.8L651.6 318.7L645.7 316.4L639.8 314.1L645.4 317.5L651.1 321Z"/>
<path d="M569.5 283.1L575.8 284.6L570.2 281.2L564 279.6Z" fill="#04d802"/>
<path d="M564 279.6L570.2 281.2L564.7 277.7L558.5 276Z" fill="#04d802"/>
<path d="M558.5 276L564.7 277.7L559.3 274.1L553 272.4Z" fill="#04d702"/>
<path d="M575.8 284.6L582 286.2L576.4 282.7L570.2 281.2Z" fill="#03d801"/>
<path d="M570.2 281.2L576.4 282.7L571 279.3L564.7 277.7Z" fill="#02d701"/>
<path d="M564.7 277.7L571 279.3L565.5 275.9L559.3 274.1Z" fill="#02d701"/>
<path d="M582 286.2L588.1 287.7L582.6 284.4L576.4 282.7Z" fill="#01d700"/>
<path d="M576.4 282.7L582.6 284.4L577.1 281L571 279.3Z" fill="#01d700"/>
<path d="M571 279.3L577.1 281L571.7 277.6L565.5 275.9Z" fill="#01d600"/>
<path class="o" d="M569.5 283.1L575.8 284.6L582 286.2L588.1 287.7L582.6 284.4L577.1 281L571.7 277.6L565.5 275.9L559.3 274.1L553 272.4L558.5 276L564 279.6Z"/>
<path d="M430.4 208.1L437 209.8L431.7 205.8L425.1 204.2Z" fill="#76e60b"/>
<path d="M425.1 204.2L431.7 205.8L426.5 202L419.8 200.4Z" fill="#78e60b"/>
<path d="M419.8 200.4L426.5 202L421.3 198.3L414.6 196.6Z" fill="#79e60b"/>
<path d="M437 209.8L443.6 211.3L438.3 207.3L431.7 205.8Z" fill="#5fe30a"/>
<path d="M431.7 205.8L438.3 207.3L433.1 203.4L426.5 202Z" fill="#60e30a"/>
<path d="M426.5 202L433.1 203.4L427.9 199.7L421.3 198.3Z" fill="#61e40a"/>
<path d="M443.6 211.3L450.2 212.7L444.9 208.7L438.3 207.3Z" fill="#4ae009"/>
<path d="M438.3 207.3L444.9 208.7L439.7 204.8L433.1 203.4Z" fill="#4be109"/>
<path d="M433.1 203.4L439.7 204.8L434.4 201.1L427.9 199.7Z" fill="#4ce109"/>
<path class="o" d="M430.4 208.1L437 209.8L443.6 211.3L450.2 212.7L444.9 208.7L439.7 204.8L434.4 201.1L427.9 199.7L421.3 198.3L414.6 196.6L419.8 200.4L425.1 204.2Z"/>
<path d="M708.9 351.2L714.7 353.6L708.9 350.3L703.1 347.9Z" fill="#02c643"/>
<path d="M703.1 347.9L708.9 350.3L703.1 347L697.3 344.6Z" fill="#02c645"/>
<path d="M697.3 344.6L703.1 347L697.4 343.7L691.6 341.2Z" fill="#02c647"/>
<path d="M714.7 353.6L720.5 355.7L714.7 352.5L708.9 350.3Z" fill="#03c856"/>
<path d="M708.9 350.3L714.7 352.5L708.9 349.2L703.1 347Z" fill="#03c858"/>
<path d="M703.1 347L708.9 349.2L703.2 345.9L697.4 343.7Z" fill="#03c75a"/>
<path d="M720.5 355.7L726.2 357.8L720.4 354.6L714.7 352.5Z" fill="#04c969"/>
<path d="M714.7 352.5L720.4 354.6L714.7 351.3L708.9 349.2Z" fill="#04c96b"/>
<path d="M708.9 349.2L714.7 351.3L708.9 348L703.2 345.9Z" fill="#04c96d"/>
<path class="o" d="M708.9 351.2L714.7 353.6L720.5 355.7L726.2 357.8L720.4 354.6L714.7 351.3L708.9 348L703.2 345.9L697.4 343.7L691.6 341.2L697.3 344.6L703.1 347.9Z"/>
<path d="M482.1 237.8L488.6 239.5L483.3 235.3L476.8 233.6Z" fill="#26dc07"/>
<path d="M476.8 233.6L483.3 235.3L477.9 231L471.4 229.4Z" fill="#28dc07"/>
<path d="M471.4 229.4L477.9 231L472.6 226.7L466.1 225.2Z" fill="#2bdc07"/>
<path d="M488.6 239.5L495.1 241.3L489.7 237L483.3 235.3Z" fill="#11d905"/>
<path d="M483.3 235.3L489.7 237L484.4 232.7L477.9 231Z" fill="#13d905"/>
<path d="M477.9 231L484.4 232.7L479.1 228.4L472.6 226.7Z" fill="#16d906"/>
<path d="M495.1 241.3L501.5 243.2L496.2 238.9L489.7 237Z" fill="#0bd804"/>
<path d="M489.7 237L496.2 238.9L490.8 234.5L484.4 232.7Z" fill="#0bd805"/>
<path d="M484.4 232.7L490.8 234.5L485.5 230.1L479.1 228.4Z" fill="#0bd805"/>
<path class="o" d="M482.1 237.8L488.6 239.5L495.1 241.3L501.5 243.2L496.2 238.9L490.8 234.5L485.5 230.1L479.1 228.4L472.6 226.7L466.1 225.2L471.4 229.4L476.8 233.6Z"/>
<path d="M621.6 308.4L627.7 310.3L622.1 306.8L616 304.9Z" fill="#00d201"/>
<path d="M616 304.9L622.1 306.8L616.5 303.3L610.4 301.4Z" fill="#00d301"/>
<path d="M610.4 301.4L616.5 303.3L610.9 299.8L604.8 298Z" fill="#00d302"/>
<path d="M627.7 310.3L633.7 312.2L628.1 308.7L622.1 306.8Z" fill="#00d209"/>
<path d="M622.1 306.8L628.1 308.7L622.5 305.2L616.5 303.3Z" fill="#00d20a"/>
<path d="M616.5 303.3L622.5 305.2L616.9 301.8L610.9 299.8Z" fill="#00d20a"/>
<path d="M633.7 312.2L639.8 314.1L634.1 310.6L628.1 308.7Z" fill="#00d213"/>
<path d="M628.1 308.7L634.1 310.6L628.6 307.1L622.5 305.2Z" fill="#00d213"/>
<path d="M622.5 305.2L628.6 307.1L623 303.6L616.9 301.8Z" fill="#00d214"/>
<path class="o" d="M621.6 308.4L627.7 310.3L633.7 312.2L639.8 314.1L634.1 310.6L628.6 307.1L623 303.6L616.9 301.8L610.9 299.8L604.8 298L610.4 301.4L616 304.9Z"/>
<path d="M534 267.5L540.4 269.2L534.9 265.4L528.6 263.6Z" fill="#08d704"/>
<path d="M528.6 263.6L534.9 265.4L529.5 261.4L523.1 259.6Z" fill="#08d704"/>
<path d="M523.1 259.6L529.5 261.4L524.1 257.5L517.7 255.6Z" fill="#09d704"/>
<path d="M540.4 269.2L546.7 270.8L541.3 267L534.9 265.4Z" fill="#07d803"/>
<path d="M534.9 265.4L541.3 267L535.8 263.2L529.5 261.4Z" fill="#07d703"/>
<path d="M529.5 261.4L535.8 263.2L530.4 259.3L524.1 257.5Z" fill="#07d703"/>
<path d="M546.7 270.8L553 272.4L547.6 268.7L541.3 267Z" fill="#05d902"/>
<path d="M541.3 267L547.6 268.7L542.1 265L535.8 263.2Z" fill="#05d802"/>
<path d="M535.8 263.2L542.1 265L536.7 261.1L530.4 259.3Z" fill="#05d702"/>
<path class="o" d="M534 267.5L540.4 269.2L546.7 270.8L553 272.4L547.6 268.7L542.1 265L536.7 261.1L530.4 259.3L524.1 257.5L517.7 255.6L523.1 259.6L528.6 263.6Z"/>
<path d="M761.4 377.1L767.1 379.3L761.2 376L755.5 373.9Z" fill="#04c66b"/>
<path d="M755.5 373.9L761.2 376L755.3 372.8L749.6 370.7Z" fill="#04c66e"/>
<path d="M749.6 370.7L755.3 372.8L749.4 369.6L743.7 367.4Z" fill="#04c670"/>
<path d="M767.1 379.3L772.7 381.4L766.8 378.2L761.2 376Z" fill="#05c87f"/>
<path d="M761.2 376L766.8 378.2L760.9 374.9L755.3 372.8Z" fill="#05c982"/>
<path d="M755.3 372.8L760.9 374.9L755 371.7L749.4 369.6Z" fill="#06ca85"/>
<path d="M772.7 381.4L778.3 383.5L772.3 380.3L766.8 378.2Z" fill="#07ce94"/>
<path d="M766.8 378.2L772.3 380.3L766.5 377.1L760.9 374.9Z" fill="#07cf97"/>
<path d="M760.9 374.9L766.5 377.1L760.6 373.9L755 371.7Z" fill="#07cf9a"/>
<path class="o" d="M761.4 377.1L767.1 379.3L772.7 381.4L778.3 383.5L772.3 380.3L766.5 377.1L760.6 373.9L755 371.7L749.4 369.6L743.7 367.4L749.6 370.7L755.5 373.9Z"/>
<path d="M394.5 195.6L401.3 196.1L396 192.3L389.3 191.7Z" fill="#b2ed0c"/>
<path d="M389.3 191.7L396 192.3L390.8 188.5L384.1 187.8Z" fill="#b4ed0c"/>
<path d="M384.1 187.8L390.8 188.5L385.7 184.8L378.9 183.9Z" fill="#b5ed0c"/>
<path d="M401.3 196.1L407.9 196.5L402.7 192.7L396 192.3Z" fill="#9fea0c"/>
<path d="M396 192.3L402.7 192.7L397.5 189.1L390.8 188.5Z" fill="#a0ea0c"/>
<path d="M390.8 188.5L397.5 189.1L392.4 185.5L385.7 184.8Z" fill="#a1ea0c"/>
<path d="M407.9 196.5L414.6 196.6L409.4 193L402.7 192.7Z" fill="#8ee80c"/>
<path d="M402.7 192.7L409.4 193L404.2 189.4L397.5 189.1Z" fill="#8ee80c"/>
<path d="M397.5 189.1L404.2 189.4L399 186L392.4 185.5Z" fill="#8ee80c"/>
<path class="o" d="M394.5 195.6L401.3 196.1L407.9 196.5L414.6 196.6L409.4 193L404.2 189.4L399 186L392.4 185.5L385.7 184.8L378.9 183.9L384.1 187.8L389.3 191.7Z"/>
<path d="M673.9 334.8L679.8 337.1L674.1 333.7L668.2 331.4Z" fill="#00cb17"/>
<path d="M668.2 331.4L674.1 333.7L668.4 330.3L662.4 328Z" fill="#00cb18"/>
<path d="M662.4 328L668.4 330.3L662.7 326.8L656.7 324.5Z" fill="#00cb19"/>
<path d="M679.8 337.1L685.7 339.3L680 335.9L674.1 333.7Z" fill="#01cc26"/>
<path d="M674.1 333.7L680 335.9L674.3 332.4L668.4 330.3Z" fill="#01cc28"/>
<path d="M668.4 330.3L674.3 332.4L668.6 329L662.7 326.8Z" fill="#01cc29"/>
<path d="M685.7 339.3L691.6 341.2L685.9 337.8L680 335.9Z" fill="#01ce38"/>
<path d="M680 335.9L685.9 337.8L680.2 334.4L674.3 332.4Z" fill="#02ce3a"/>
<path d="M674.3 332.4L680.2 334.4L674.5 331L668.6 329Z" fill="#02ce3b"/>
<path class="o" d="M673.9 334.8L679.8 337.1L685.7 339.3L691.6 341.2L685.9 337.8L680.2 334.4L674.5 331L668.6 329L662.7 326.8L656.7 324.5L662.4 328L668.2 331.4Z"/>
<path d="M586.2 293.5L592.4 294.9L586.8 291.5L580.6 290Z" fill="#04d902"/>
<path d="M580.6 290L586.8 291.5L581.3 288.1L575.1 286.6Z" fill="#04d902"/>
<path d="M575.1 286.6L581.3 288.1L575.8 284.6L569.5 283.1Z" fill="#04d902"/>
<path d="M592.4 294.9L598.6 296.4L593 293L586.8 291.5Z" fill="#03d801"/>
<path d="M586.8 291.5L593 293L587.5 289.6L581.3 288.1Z" fill="#03d801"/>
<path d="M581.3 288.1L587.5 289.6L582 286.2L575.8 284.6Z" fill="#03d801"/>
<path d="M598.6 296.4L604.8 298L599.2 294.6L593 293Z" fill="#01d701"/>
<path d="M593 293L599.2 294.6L593.7 291.1L587.5 289.6Z" fill="#01d801"/>
<path d="M587.5 289.6L593.7 291.1L588.1 287.7L582 286.2Z" fill="#01d800"/>
<path class="o" d="M586.2 293.5L592.4 294.9L598.6 296.4L604.8 298L599.2 294.6L593.7 291.1L588.1 287.7L582 286.2L575.8 284.6L569.5 283.1L575.1 286.6L580.6 290Z"/>
<path d="M446.3 219.9L452.9 221.7L447.6 217.7L441 215.9Z" fill="#72e50b"/>
<path d="M441 215.9L447.6 217.7L442.3 213.7L435.6 212Z" fill="#73e60b"/>
<path d="M435.6 212L442.3 213.7L437 209.8L430.4 208.1Z" fill="#75e60b"/>
<path d="M452.9 221.7L459.5 223.5L454.2 219.4L447.6 217.7Z" fill="#5ae30a"/>
<path d="M447.6 217.7L454.2 219.4L448.9 215.3L442.3 213.7Z" fill="#5ce30a"/>
<path d="M442.3 213.7L448.9 215.3L443.6 211.3L437 209.8Z" fill="#5de30a"/>
<path d="M459.5 223.5L466.1 225.2L460.8 221L454.2 219.4Z" fill="#43e009"/>
<path d="M454.2 219.4L460.8 221L455.5 216.9L448.9 215.3Z" fill="#46e009"/>
<path d="M448.9 215.3L455.5 216.9L450.2 212.7L443.6 211.3Z" fill="#48e009"/>
<path class="o" d="M446.3 219.9L452.9 221.7L459.5 223.5L466.1 225.2L460.8 221L455.5 216.9L450.2 212.7L443.6 211.3L437 209.8L430.4 208.1L435.6 212L441 215.9Z"/>
<path d="M358.5 182.3L365.3 182.7L360.2 178.7L353.3 178.2Z" fill="#f2f506"/>
<path d="M353.3 178.2L360.2 178.7L355 174.7L348.2 174.2Z" fill="#f3f505"/>
<path d="M348.2 174.2L355 174.7L349.9 171L343 170.4Z" fill="#f4f405"/>
<path d="M365.3 182.7L372.1 183.3L367 179.4L360.2 178.7Z" fill="#dff309"/>
<path d="M360.2 178.7L367 179.4L361.8 175.5L355 174.7Z" fill="#e1f308"/>
<path d="M355 174.7L361.8 175.5L356.7 171.9L349.9 171Z" fill="#e2f308"/>
<path d="M372.1 183.3L378.9 183.9L373.8 180.1L367 179.4Z" fill="#caf00c"/>
<path d="M367 179.4L373.8 180.1L368.6 176.4L361.8 175.5Z" fill="#ccf00b"/>
<path d="M361.8 175.5L368.6 176.4L363.5 172.8L356.7 171.9Z" fill="#cdf00b"/>
<path class="o" d="M358.5 182.3L365.3 182.7L372.1 183.3L378.9 183.9L373.8 180.1L368.6 176.4L363.5 172.8L356.7 171.9L349.9 171L343 170.4L348.2 174.2L353.3 178.2Z"/>
<path d="M726.5 361.1L732.3 363.4L726.4 360.1L720.6 357.9Z" fill="#02c73d"/>
<path d="M720.6 357.9L726.4 360.1L720.5 356.9L714.8 354.6Z" fill="#02c73f"/>
<path d="M714.8 354.6L720.5 356.9L714.7 353.6L708.9 351.2Z" fill="#02c741"/>
<path d="M732.3 363.4L738 365.5L732.1 362.2L726.4 360.1Z" fill="#03c950"/>
<path d="M726.4 360.1L732.1 362.2L726.3 359L720.5 356.9Z" fill="#03c952"/>
<path d="M720.5 356.9L726.3 359L720.5 355.7L714.7 353.6Z" fill="#03c954"/>
<path d="M738 365.5L743.7 367.4L737.9 364.2L732.1 362.2Z" fill="#04ca62"/>
<path d="M732.1 362.2L737.9 364.2L732 361L726.3 359Z" fill="#04ca65"/>
<path d="M726.3 359L732 361L726.2 357.8L720.5 355.7Z" fill="#04ca67"/>
<path class="o" d="M726.5 361.1L732.3 363.4L738 365.5L743.7 367.4L737.9 364.2L732 361L726.2 357.8L720.5 355.7L714.7 353.6L708.9 351.2L714.8 354.6L720.6 357.9Z"/>
<path d="M498.3 250.1L504.8 251.9L499.4 247.9L492.9 246Z" fill="#20da06"/>
<path d="M492.9 246L499.4 247.9L494 243.7L487.5 241.9Z" fill="#22db07"/>
<path d="M487.5 241.9L494 243.7L488.6 239.5L482.1 237.8Z" fill="#24db07"/>
<path d="M504.8 251.9L511.3 253.8L505.9 249.7L499.4 247.9Z" fill="#0dd705"/>
<path d="M499.4 247.9L505.9 249.7L500.5 245.5L494 243.7Z" fill="#0ed805"/>
<path d="M494 243.7L500.5 245.5L495.1 241.3L488.6 239.5Z" fill="#0fd805"/>
<path d="M511.3 253.8L517.7 255.6L512.3 251.5L505.9 249.7Z" fill="#0ad704"/>
<path d="M505.9 249.7L512.3 251.5L506.9 247.4L500.5 245.5Z" fill="#0ad704"/>
<path d="M500.5 245.5L506.9 247.4L501.5 243.2L495.1 241.3Z" fill="#0bd704"/>
<path class="o" d="M498.3 250.1L504.8 251.9L511.3 253.8L517.7 255.6L512.3 251.5L506.9 247.4L501.5 243.2L495.1 241.3L488.6 239.5L482.1 237.8L487.5 241.9L492.9 246Z"/>
<path d="M638.6 318.9L644.7 320.8L639 317.3L632.9 315.4Z" fill="#00d200"/>
<path d="M632.9 315.4L639 317.3L633.3 313.8L627.2 311.9Z" fill="#00d200"/>
<path d="M627.2 311.9L633.3 313.8L627.7 310.3L621.6 308.4Z" fill="#00d201"/>
<path d="M644.7 320.8L650.7 322.6L645 319.2L639 317.3Z" fill="#00d207"/>
<path d="M639 317.3L645 319.2L639.4 315.7L633.3 313.8Z" fill="#00d208"/>
<path d="M633.3 313.8L639.4 315.7L633.7 312.2L627.7 310.3Z" fill="#00d208"/>
<path d="M650.7 322.6L656.7 324.5L651.1 321L645 319.2Z" fill="#00d211"/>
<path d="M645 319.2L651.1 321L645.4 317.5L639.4 315.7Z" fill="#00d211"/>
<path d="M639.4 315.7L645.4 317.5L639.8 314.1L633.7 312.2Z" fill="#00d212"/>
<path class="o" d="M638.6 318.9L644.7 320.8L650.7 322.6L656.7 324.5L651.1 321L645.4 317.5L639.8 314.1L633.7 312.2L627.7 310.3L621.6 308.4L627.2 311.9L632.9 315.4Z"/>
<path d="M550.6 278.9L556.9 280.4L551.4 276.8L545 275.2Z" fill="#08d804"/>
<path d="M545 275.2L551.4 276.8L545.9 273L539.5 271.4Z" fill="#08d804"/>
<path d="M539.5 271.4L545.9 273L540.4 269.2L534 267.5Z" fill="#08d803"/>
<path d="M556.9 280.4L563.2 281.8L557.7 278.2L551.4 276.8Z" fill="#07d903"/>
<path d="M551.4 276.8L557.7 278.2L552.2 274.6L545.9 273Z" fill="#07d903"/>
<path d="M545.9 273L552.2 274.6L546.7 270.8L540.4 269.2Z" fill="#07d903"/>
<path d="M563.2 281.8L569.5 283.1L564 279.6L557.7 278.2Z" fill="#06d902"/>
<path d="M557.7 278.2L564 279.6L558.5 276L552.2 274.6Z" fill="#05d902"/>
<path d="M552.2 274.6L558.5 276L553 272.4L546.7 270.8Z" fill="#05d902"/>
<path class="o" d="M550.6 278.9L556.9 280.4L563.2 281.8L569.5 283.1L564 279.6L558.5 276L553 272.4L546.7 270.8L540.4 269.2L534 267.5L539.5 271.4L545 275.2Z"/>
<path d="M410.3 207.6L417 207.8L411.8 203.9L405 203.6Z" fill="#aeec0c"/>
<path d="M405 203.6L411.8 203.9L406.5 200L399.8 199.6Z" fill="#afec0c"/>
<path d="M399.8 199.6L406.5 200L401.3 196.1L394.5 195.6Z" fill="#b1ed0c"/>
<path d="M417 207.8L423.7 208L418.4 204.1L411.8 203.9Z" fill="#9cea0c"/>
<path d="M411.8 203.9L418.4 204.1L413.2 200.3L406.5 200Z" fill="#9dea0c"/>
<path d="M406.5 200L413.2 200.3L407.9 196.5L401.3 196.1Z" fill="#9eea0c"/>
<path d="M423.7 208L430.4 208.1L425.1 204.2L418.4 204.1Z" fill="#8be80c"/>
<path d="M418.4 204.1L425.1 204.2L419.8 200.4L413.2 200.3Z" fill="#8ce80c"/>
<path d="M413.2 200.3L419.8 200.4L414.6 196.6L407.9 196.5Z" fill="#8de80c"/>
<path class="o" d="M410.3 207.6L417 207.8L423.7 208L430.4 208.1L425.1 204.2L419.8 200.4L414.6 196.6L407.9 196.5L401.3 196.1L394.5 195.6L399.8 199.6L405 203.6Z"/>
<path d="M779.4 386.9L785 389L779 385.7L773.4 383.6Z" fill="#04c764"/>
<path d="M773.4 383.6L779 385.7L773 382.5L767.4 380.4Z" fill="#04c767"/>
<path d="M767.4 380.4L773 382.5L767.1 379.3L761.4 377.1Z" fill="#04c669"/>
<path d="M785 389L790.6 391.1L784.6 387.8L779 385.7Z" fill="#05c777"/>
<path d="M779 385.7L784.6 387.8L778.6 384.6L773 382.5Z" fill="#05c779"/>
<path d="M773 382.5L778.6 384.6L772.7 381.4L767.1 379.3Z" fill="#05c87c"/>
<path d="M790.6 391.1L796.1 393.2L790.2 389.9L784.6 387.8Z" fill="#06cc8b"/>
<path d="M784.6 387.8L790.2 389.9L784.2 386.7L778.6 384.6Z" fill="#06cc8e"/>
<path d="M778.6 384.6L784.2 386.7L778.3 383.5L772.7 381.4Z" fill="#06cd91"/>
<path class="o" d="M779.4 386.9L785 389L790.6 391.1L796.1 393.2L790.2 389.9L784.2 386.7L778.3 383.5L772.7 381.4L767.1 379.3L761.4 377.1L767.4 380.4L773.4 383.6Z"/>
<path d="M691.3 345.1L697.2 347.3L691.4 344L685.5 341.8Z" fill="#00cb15"/>
<path d="M685.5 341.8L691.4 344L685.6 340.6L679.7 338.3Z" fill="#00cb16"/>
<path d="M679.7 338.3L685.6 340.6L679.8 337.1L673.9 334.8Z" fill="#00cb17"/>
<path d="M697.2 347.3L703.1 349.4L697.3 346.1L691.4 344Z" fill="#00cd21"/>
<path d="M691.4 344L697.3 346.1L691.5 342.7L685.6 340.6Z" fill="#00cd23"/>
<path d="M685.6 340.6L691.5 342.7L685.7 339.3L679.8 337.1Z" fill="#00cd25"/>
<path d="M703.1 349.4L708.9 351.2L703.1 347.9L697.3 346.1Z" fill="#01ce33"/>
<path d="M697.3 346.1L703.1 347.9L697.3 344.6L691.5 342.7Z" fill="#01ce35"/>
<path d="M691.5 342.7L697.3 344.6L691.6 341.2L685.7 339.3Z" fill="#01ce37"/>
<path class="o" d="M691.3 345.1L697.2 347.3L703.1 349.4L708.9 351.2L703.1 347.9L697.3 344.6L691.6 341.2L685.7 339.3L679.8 337.1L673.9 334.8L679.7 338.3L685.5 341.8Z"/>
<path d="M462.4 231.8L469 233.8L463.6 229.8L457 227.8Z" fill="#6ce20a"/>
<path d="M457 227.8L463.6 229.8L458.3 225.7L451.6 223.9Z" fill="#6ee40a"/>
<path d="M451.6 223.9L458.3 225.7L452.9 221.7L446.3 219.9Z" fill="#70e50a"/>
<path d="M469 233.8L475.6 235.8L470.2 231.7L463.6 229.8Z" fill="#54df09"/>
<path d="M463.6 229.8L470.2 231.7L464.9 227.6L458.3 225.7Z" fill="#56e109"/>
<path d="M458.3 225.7L464.9 227.6L459.5 223.5L452.9 221.7Z" fill="#58e209"/>
<path d="M475.6 235.8L482.1 237.8L476.8 233.6L470.2 231.7Z" fill="#3cdc08"/>
<path d="M470.2 231.7L476.8 233.6L471.4 229.4L464.9 227.6Z" fill="#3ede08"/>
<path d="M464.9 227.6L471.4 229.4L466.1 225.2L459.5 223.5Z" fill="#41df08"/>
<path class="o" d="M462.4 231.8L469 233.8L475.6 235.8L482.1 237.8L476.8 233.6L471.4 229.4L466.1 225.2L459.5 223.5L452.9 221.7L446.3 219.9L451.6 223.9L457 227.8Z"/>
<path d="M374.2 194.9L381 195.1L375.8 191L368.9 190.7Z" fill="#e9f407"/>
<path d="M368.9 190.7L375.8 191L370.5 186.8L363.7 186.5Z" fill="#ecf507"/>
<path d="M363.7 186.5L370.5 186.8L365.3 182.7L358.5 182.3Z" fill="#eff506"/>
<path d="M381 195.1L387.8 195.4L382.6 191.3L375.8 191Z" fill="#d7f20a"/>
<path d="M375.8 191L382.6 191.3L377.3 187.3L370.5 186.8Z" fill="#daf209"/>
<path d="M370.5 186.8L377.3 187.3L372.1 183.3L365.3 182.7Z" fill="#dcf309"/>
<path d="M387.8 195.4L394.5 195.6L389.3 191.7L382.6 191.3Z" fill="#c5ef0c"/>
<path d="M382.6 191.3L389.3 191.7L384.1 187.8L377.3 187.3Z" fill="#c7f00c"/>
<path d="M377.3 187.3L384.1 187.8L378.9 183.9L372.1 183.3Z" fill="#c9f00c"/>
<path class="o" d="M374.2 194.9L381 195.1L387.8 195.4L394.5 195.6L389.3 191.7L384.1 187.8L378.9 183.9L372.1 183.3L365.3 182.7L358.5 182.3L363.7 186.5L368.9 190.7Z"/>
<path d="M603.1 303.8L609.3 305.3L603.6 301.8L597.4 300.3Z" fill="#05d802"/>
<path d="M597.4 300.3L603.6 301.8L598 298.4L591.8 296.9Z" fill="#05d802"/>
<path d="M591.8 296.9L598 298.4L592.4 294.9L586.2 293.5Z" fill="#04d802"/>
<path d="M609.3 305.3L615.5 306.8L609.8 303.3L603.6 301.8Z" fill="#03d801"/>
<path d="M603.6 301.8L609.8 303.3L604.2 299.9L598 298.4Z" fill="#03d801"/>
<path d="M598 298.4L604.2 299.9L598.6 296.4L592.4 294.9Z" fill="#03d801"/>
<path d="M615.5 306.8L621.6 308.4L616 304.9L609.8 303.3Z" fill="#02d701"/>
<path d="M609.8 303.3L616 304.9L610.4 301.4L604.2 299.9Z" fill="#02d701"/>
<path d="M604.2 299.9L610.4 301.4L604.8 298L598.6 296.4Z" fill="#01d701"/>
<path class="o" d="M603.1 303.8L609.3 305.3L615.5 306.8L621.6 308.4L616 304.9L610.4 301.4L604.8 298L598.6 296.4L592.4 294.9L586.2 293.5L591.8 296.9L597.4 300.3Z"/>
<path d="M514.7 261.9L521.2 263.9L515.7 259.9L509.3 258Z" fill="#1dd706"/>
<path d="M509.3 258L515.7 259.9L510.3 256L503.8 254.1Z" fill="#1dd806"/>
<path d="M503.8 254.1L510.3 256L504.8 251.9L498.3 250.1Z" fill="#1fd906"/>
<path d="M521.2 263.9L527.6 265.7L522.2 261.8L515.7 259.9Z" fill="#0bd505"/>
<path d="M515.7 259.9L522.2 261.8L516.7 257.8L510.3 256Z" fill="#0cd605"/>
<path d="M510.3 256L516.7 257.8L511.3 253.8L504.8 251.9Z" fill="#0dd605"/>
<path d="M527.6 265.7L534 267.5L528.6 263.6L522.2 261.8Z" fill="#0ad604"/>
<path d="M522.2 261.8L528.6 263.6L523.1 259.6L516.7 257.8Z" fill="#0ad604"/>
<path d="M516.7 257.8L523.1 259.6L517.7 255.6L511.3 253.8Z" fill="#0ad604"/>
<path class="o" d="M514.7 261.9L521.2 263.9L527.6 265.7L534 267.5L528.6 263.6L523.1 259.6L517.7 255.6L511.3 253.8L504.8 251.9L498.3 250.1L503.8 254.1L509.3 258Z"/>
<path d="M744.3 371L750 373.2L744.1 369.9L738.3 367.7Z" fill="#01c937"/>
<path d="M738.3 367.7L744.1 369.9L738.2 366.6L732.4 364.4Z" fill="#01c839"/>
<path d="M732.4 364.4L738.2 366.6L732.3 363.4L726.5 361.1Z" fill="#02c83b"/>
<path d="M750 373.2L755.8 375.2L749.8 371.9L744.1 369.9Z" fill="#02ca49"/>
<path d="M744.1 369.9L749.8 371.9L743.9 368.7L738.2 366.6Z" fill="#02c94b"/>
<path d="M738.2 366.6L743.9 368.7L738 365.5L732.3 363.4Z" fill="#03c94e"/>
<path d="M755.8 375.2L761.4 377.1L755.5 373.9L749.8 371.9Z" fill="#03ca5b"/>
<path d="M749.8 371.9L755.5 373.9L749.6 370.7L743.9 368.7Z" fill="#03ca5e"/>
<path d="M743.9 368.7L749.6 370.7L743.7 367.4L738 365.5Z" fill="#03ca60"/>
<path class="o" d="M744.3 371L750 373.2L755.8 375.2L761.4 377.1L755.5 373.9L749.6 370.7L743.7 367.4L738 365.5L732.3 363.4L726.5 361.1L732.4 364.4L738.3 367.7Z"/>
<path d="M337.8 181.3L344.7 181.4L339.6 177.2L332.6 177.2Z" fill="#fedc01"/>
<path d="M332.6 177.2L339.6 177.2L334.4 173.2L327.5 173.1Z" fill="#feda01"/>
<path d="M327.5 173.1L334.4 173.2L329.3 169.4L322.3 169.3Z" fill="#feda00"/>
<path d="M344.7 181.4L351.6 181.7L346.5 177.6L339.6 177.2Z" fill="#fbe502"/>
<path d="M339.6 177.2L346.5 177.6L341.3 173.5L334.4 173.2Z" fill="#fbe302"/>
<path d="M334.4 173.2L341.3 173.5L336.2 169.8L329.3 169.4Z" fill="#fce202"/>
<path d="M351.6 181.7L358.5 182.3L353.3 178.2L346.5 177.6Z" fill="#f8ee04"/>
<path d="M346.5 177.6L353.3 178.2L348.2 174.2L341.3 173.5Z" fill="#f9ed04"/>
<path d="M341.3 173.5L348.2 174.2L343 170.4L336.2 169.8Z" fill="#f9ec03"/>
<path class="o" d="M337.8 181.3L344.7 181.4L351.6 181.7L358.5 182.3L353.3 178.2L348.2 174.2L343 170.4L336.2 169.8L329.3 169.4L322.3 169.3L327.5 173.1L332.6 177.2Z"/>
<path d="M655.9 329.5L661.9 331.3L656.1 327.8L650.1 326Z" fill="#01d200"/>
<path d="M650.1 326L656.1 327.8L650.4 324.3L644.3 322.5Z" fill="#01d200"/>
<path d="M644.3 322.5L650.4 324.3L644.7 320.8L638.6 318.9Z" fill="#01d200"/>
<path d="M661.9 331.3L667.9 333.1L662.2 329.6L656.1 327.8Z" fill="#00d205"/>
<path d="M656.1 327.8L662.2 329.6L656.4 326.2L650.4 324.3Z" fill="#00d206"/>
<path d="M650.4 324.3L656.4 326.2L650.7 322.6L644.7 320.8Z" fill="#00d206"/>
<path d="M667.9 333.1L673.9 334.8L668.2 331.4L662.2 329.6Z" fill="#00d20e"/>
<path d="M662.2 329.6L668.2 331.4L662.4 328L656.4 326.2Z" fill="#00d30f"/>
<path d="M656.4 326.2L662.4 328L656.7 324.5L650.7 322.6Z" fill="#00d310"/>
<path class="o" d="M655.9 329.5L661.9 331.3L667.9 333.1L673.9 334.8L668.2 331.4L662.4 328L656.7 324.5L650.7 322.6L644.7 320.8L638.6 318.9L644.3 322.5L650.1 326Z"/>
<path d="M426.2 219.4L433 219.6L427.6 215.7L420.9 215.5Z" fill="#aaec0c"/>
<path d="M420.9 215.5L427.6 215.7L422.3 211.8L415.6 211.5Z" fill="#abec0c"/>
<path d="M415.6 211.5L422.3 211.8L417 207.8L410.3 207.6Z" fill="#acec0c"/>
<path d="M433 219.6L439.6 219.8L434.3 215.8L427.6 215.7Z" fill="#98e90c"/>
<path d="M427.6 215.7L434.3 215.8L429 211.9L422.3 211.8Z" fill="#99e90c"/>
<path d="M422.3 211.8L429 211.9L423.7 208L417 207.8Z" fill="#9aea0c"/>
<path d="M439.6 219.8L446.3 219.9L441 215.9L434.3 215.8Z" fill="#87e70b"/>
<path d="M434.3 215.8L441 215.9L435.6 212L429 211.9Z" fill="#88e80b"/>
<path d="M429 211.9L435.6 212L430.4 208.1L423.7 208Z" fill="#89e80b"/>
<path class="o" d="M426.2 219.4L433 219.6L439.6 219.8L446.3 219.9L441 215.9L435.6 212L430.4 208.1L423.7 208L417 207.8L410.3 207.6L415.6 211.5L420.9 215.5Z"/>
<path d="M567.3 289.4L573.6 290.9L568 287.4L561.7 285.9Z" fill="#09d804"/>
<path d="M561.7 285.9L568 287.4L562.5 284L556.1 282.4Z" fill="#09d804"/>
<path d="M556.1 282.4L562.5 284L556.9 280.4L550.6 278.9Z" fill="#08d804"/>
<path d="M573.6 290.9L579.9 292.2L574.3 288.8L568 287.4Z" fill="#07d903"/>
<path d="M568 287.4L574.3 288.8L568.8 285.3L562.5 284Z" fill="#07d903"/>
<path d="M562.5 284L568.8 285.3L563.2 281.8L556.9 280.4Z" fill="#07d903"/>
<path d="M579.9 292.2L586.2 293.5L580.6 290L574.3 288.8Z" fill="#06d902"/>
<path d="M574.3 288.8L580.6 290L575.1 286.6L568.8 285.3Z" fill="#06d902"/>
<path d="M568.8 285.3L575.1 286.6L569.5 283.1L563.2 281.8Z" fill="#06d902"/>
<path class="o" d="M567.3 289.4L573.6 290.9L579.9 292.2L586.2 293.5L580.6 290L575.1 286.6L569.5 283.1L563.2 281.8L556.9 280.4L550.6 278.9L556.1 282.4L561.7 285.9Z"/>
<path d="M797.5 397.1L803.1 399.1L797.1 395.6L791.5 393.6Z" fill="#03c95f"/>
<path d="M791.5 393.6L797.1 395.6L791 392.3L785.4 390.2Z" fill="#03c860"/>
<path d="M785.4 390.2L791 392.3L785 389L779.4 386.9Z" fill="#04c762"/>
<path d="M803.1 399.1L808.7 401.2L802.6 397.7L797.1 395.6Z" fill="#04c770"/>
<path d="M797.1 395.6L802.6 397.7L796.6 394.3L791 392.3Z" fill="#04c772"/>
<path d="M791 392.3L796.6 394.3L790.6 391.1L785 389Z" fill="#05c774"/>
<path d="M808.7 401.2L814.2 403.2L808.2 399.8L802.6 397.7Z" fill="#06ca84"/>
<path d="M802.6 397.7L808.2 399.8L802.1 396.4L796.6 394.3Z" fill="#06ca86"/>
<path d="M796.6 394.3L802.1 396.4L796.1 393.2L790.6 391.1Z" fill="#06cb89"/>
<path class="o" d="M797.5 397.1L803.1 399.1L808.7 401.2L814.2 403.2L808.2 399.8L802.1 396.4L796.1 393.2L790.6 391.1L785 389L779.4 386.9L785.4 390.2L791.5 393.6Z"/>
<path d="M478.6 243.6L485.2 245.8L479.8 241.8L473.2 239.7Z" fill="#67df0a"/>
<path d="M473.2 239.7L479.8 241.8L474.4 237.8L467.8 235.8Z" fill="#68e00a"/>
<path d="M467.8 235.8L474.4 237.8L469 233.8L462.4 231.8Z" fill="#6ae10a"/>
<path d="M485.2 245.8L491.8 247.9L486.4 243.9L479.8 241.8Z" fill="#4edb09"/>
<path d="M479.8 241.8L486.4 243.9L481 239.9L474.4 237.8Z" fill="#50dd09"/>
<path d="M474.4 237.8L481 239.9L475.6 235.8L469 233.8Z" fill="#51de09"/>
<path d="M491.8 247.9L498.3 250.1L492.9 246L486.4 243.9Z" fill="#36d808"/>
<path d="M486.4 243.9L492.9 246L487.5 241.9L481 239.9Z" fill="#38d908"/>
<path d="M481 239.9L487.5 241.9L482.1 237.8L475.6 235.8Z" fill="#3adb08"/>
<path class="o" d="M478.6 243.6L485.2 245.8L491.8 247.9L498.3 250.1L492.9 246L487.5 241.9L482.1 237.8L475.6 235.8L469 233.8L462.4 231.8L467.8 235.8L473.2 239.7Z"/>
<path d="M390 207.4L396.8 207.4L391.5 203.3L384.7 203.3Z" fill="#e2f308"/>
<path d="M384.7 203.3L391.5 203.3L386.2 199.2L379.4 199.1Z" fill="#e4f408"/>
<path d="M379.4 199.1L386.2 199.2L381 195.1L374.2 194.9Z" fill="#e7f407"/>
<path d="M396.8 207.4L403.6 207.5L398.3 203.4L391.5 203.3Z" fill="#d1f10b"/>
<path d="M391.5 203.3L398.3 203.4L393 199.4L386.2 199.2Z" fill="#d3f10b"/>
<path d="M386.2 199.2L393 199.4L387.8 195.4L381 195.1Z" fill="#d5f10a"/>
<path d="M403.6 207.5L410.3 207.6L405 203.6L398.3 203.4Z" fill="#bfef0c"/>
<path d="M398.3 203.4L405 203.6L399.8 199.6L393 199.4Z" fill="#c1ef0c"/>
<path d="M393 199.4L399.8 199.6L394.5 195.6L387.8 195.4Z" fill="#c3ef0c"/>
<path class="o" d="M390 207.4L396.8 207.4L403.6 207.5L410.3 207.6L405 203.6L399.8 199.6L394.5 195.6L387.8 195.4L381 195.1L374.2 194.9L379.4 199.1L384.7 203.3Z"/>
<path d="M708.9 355.4L714.8 357.5L708.9 354.1L703 352Z" fill="#00cd12"/>
<path d="M703 352L708.9 354.1L703 350.8L697.1 348.6Z" fill="#00cc13"/>
<path d="M697.1 348.6L703 350.8L697.2 347.3L691.3 345.1Z" fill="#00cc14"/>
<path d="M714.8 357.5L720.7 359.4L714.8 356.1L708.9 354.1Z" fill="#00ce1d"/>
<path d="M708.9 354.1L714.8 356.1L708.9 352.8L703 350.8Z" fill="#00ce1e"/>
<path d="M703 350.8L708.9 352.8L703.1 349.4L697.2 347.3Z" fill="#00cd20"/>
<path d="M720.7 359.4L726.5 361.1L720.6 357.9L714.8 356.1Z" fill="#01d02d"/>
<path d="M714.8 356.1L720.6 357.9L714.8 354.6L708.9 352.8Z" fill="#01d030"/>
<path d="M708.9 352.8L714.8 354.6L708.9 351.2L703.1 349.4Z" fill="#01cf32"/>
<path class="o" d="M708.9 355.4L714.8 357.5L720.7 359.4L726.5 361.1L720.6 357.9L714.8 354.6L708.9 351.2L703.1 349.4L697.2 347.3L691.3 345.1L697.1 348.6L703 352Z"/>
<path d="M620.1 314.3L626.3 315.8L620.6 312.3L614.4 310.8Z" fill="#05d702"/>
<path d="M614.4 310.8L620.6 312.3L614.9 308.8L608.7 307.3Z" fill="#05d702"/>
<path d="M608.7 307.3L614.9 308.8L609.3 305.3L603.1 303.8Z" fill="#05d802"/>
<path d="M626.3 315.8L632.5 317.3L626.8 313.8L620.6 312.3Z" fill="#04d701"/>
<path d="M620.6 312.3L626.8 313.8L621.1 310.3L614.9 308.8Z" fill="#03d701"/>
<path d="M614.9 308.8L621.1 310.3L615.5 306.8L609.3 305.3Z" fill="#03d701"/>
<path d="M632.5 317.3L638.6 318.9L632.9 315.4L626.8 313.8Z" fill="#02d601"/>
<path d="M626.8 313.8L632.9 315.4L627.2 311.9L621.1 310.3Z" fill="#02d601"/>
<path d="M621.1 310.3L627.2 311.9L621.6 308.4L615.5 306.8Z" fill="#02d701"/>
<path class="o" d="M620.1 314.3L626.3 315.8L632.5 317.3L638.6 318.9L632.9 315.4L627.2 311.9L621.6 308.4L615.5 306.8L609.3 305.3L603.1 303.8L608.7 307.3L614.4 310.8Z"/>
<path d="M531.3 273.2L537.8 275.2L532.2 271.5L525.8 269.5Z" fill="#1cd406"/>
<path d="M525.8 269.5L532.2 271.5L526.7 267.7L520.2 265.8Z" fill="#1cd506"/>
<path d="M520.2 265.8L526.7 267.7L521.2 263.9L514.7 261.9Z" fill="#1cd606"/>
<path d="M537.8 275.2L544.2 277.1L538.6 273.4L532.2 271.5Z" fill="#0bd305"/>
<path d="M532.2 271.5L538.6 273.4L533.1 269.6L526.7 267.7Z" fill="#0bd405"/>
<path d="M526.7 267.7L533.1 269.6L527.6 265.7L521.2 263.9Z" fill="#0bd405"/>
<path d="M544.2 277.1L550.6 278.9L545 275.2L538.6 273.4Z" fill="#0ad504"/>
<path d="M538.6 273.4L545 275.2L539.5 271.4L533.1 269.6Z" fill="#0ad604"/>
<path d="M533.1 269.6L539.5 271.4L534 267.5L527.6 265.7Z" fill="#0ad604"/>
<path class="o" d="M531.3 273.2L537.8 275.2L544.2 277.1L550.6 278.9L545 275.2L539.5 271.4L534 267.5L527.6 265.7L521.2 263.9L514.7 261.9L520.2 265.8L525.8 269.5Z"/>
<path d="M353.5 194L360.4 194.2L355.2 189.9L348.3 189.8Z" fill="#fce102"/>
<path d="M348.3 189.8L355.2 189.9L349.9 185.6L343 185.5Z" fill="#fddf01"/>
<path d="M343 185.5L349.9 185.6L344.7 181.4L337.8 181.3Z" fill="#fddd01"/>
<path d="M360.4 194.2L367.3 194.5L362.1 190.2L355.2 189.9Z" fill="#faea03"/>
<path d="M355.2 189.9L362.1 190.2L356.8 186L349.9 185.6Z" fill="#fae803"/>
<path d="M349.9 185.6L356.8 186L351.6 181.7L344.7 181.4Z" fill="#fbe602"/>
<path d="M367.3 194.5L374.2 194.9L368.9 190.7L362.1 190.2Z" fill="#f7f305"/>
<path d="M362.1 190.2L368.9 190.7L363.7 186.5L356.8 186Z" fill="#f7f104"/>
<path d="M356.8 186L363.7 186.5L358.5 182.3L351.6 181.7Z" fill="#f8f004"/>
<path class="o" d="M353.5 194L360.4 194.2L367.3 194.5L374.2 194.9L368.9 190.7L363.7 186.5L358.5 182.3L351.6 181.7L344.7 181.4L337.8 181.3L343 185.5L348.3 189.8Z"/>
<path d="M762.3 381.3L768 383.2L762 379.8L756.2 377.8Z" fill="#01cc31"/>
<path d="M756.2 377.8L762 379.8L756 376.5L750.3 374.4Z" fill="#01cb33"/>
<path d="M750.3 374.4L756 376.5L750 373.2L744.3 371Z" fill="#01ca35"/>
<path d="M768 383.2L773.7 385.1L767.7 381.8L762 379.8Z" fill="#02cc43"/>
<path d="M762 379.8L767.7 381.8L761.7 378.5L756 376.5Z" fill="#02cb45"/>
<path d="M756 376.5L761.7 378.5L755.8 375.2L750 373.2Z" fill="#02ca47"/>
<path d="M773.7 385.1L779.4 386.9L773.4 383.6L767.7 381.8Z" fill="#03cc55"/>
<path d="M767.7 381.8L773.4 383.6L767.4 380.4L761.7 378.5Z" fill="#03cb57"/>
<path d="M761.7 378.5L767.4 380.4L761.4 377.1L755.8 375.2Z" fill="#03cb59"/>
<path class="o" d="M762.3 381.3L768 383.2L773.7 385.1L779.4 386.9L773.4 383.6L767.4 380.4L761.4 377.1L755.8 375.2L750 373.2L744.3 371L750.3 374.4L756.2 377.8Z"/>
<path d="M442.3 231.1L449.1 231.3L443.7 227.4L437 227.2Z" fill="#a7eb0c"/>
<path d="M437 227.2L443.7 227.4L438.3 223.5L431.6 223.3Z" fill="#a7eb0c"/>
<path d="M431.6 223.3L438.3 223.5L433 219.6L426.2 219.4Z" fill="#a8eb0c"/>
<path d="M449.1 231.3L455.7 231.6L450.3 227.6L443.7 227.4Z" fill="#95e90c"/>
<path d="M443.7 227.4L450.3 227.6L445 223.7L438.3 223.5Z" fill="#96e90c"/>
<path d="M438.3 223.5L445 223.7L439.6 219.8L433 219.6Z" fill="#97e90c"/>
<path d="M455.7 231.6L462.4 231.8L457 227.8L450.3 227.6Z" fill="#83e70b"/>
<path d="M450.3 227.6L457 227.8L451.6 223.9L445 223.7Z" fill="#84e70b"/>
<path d="M445 223.7L451.6 223.9L446.3 219.9L439.6 219.8Z" fill="#86e70b"/>
<path class="o" d="M442.3 231.1L449.1 231.3L455.7 231.6L462.4 231.8L457 227.8L451.6 223.9L446.3 219.9L439.6 219.8L433 219.6L426.2 219.4L431.6 223.3L437 227.2Z"/>
<path d="M673.3 340L679.3 341.7L673.5 338.3L667.4 336.5Z" fill="#01d200"/>
<path d="M667.4 336.5L673.5 338.3L667.7 334.8L661.6 333Z" fill="#01d300"/>
<path d="M661.6 333L667.7 334.8L661.9 331.3L655.9 329.5Z" fill="#01d300"/>
<path d="M679.3 341.7L685.3 343.4L679.5 340L673.5 338.3Z" fill="#00d202"/>
<path d="M673.5 338.3L679.5 340L673.7 336.6L667.7 334.8Z" fill="#00d203"/>
<path d="M667.7 334.8L673.7 336.6L667.9 333.1L661.9 331.3Z" fill="#00d204"/>
<path d="M685.3 343.4L691.3 345.1L685.5 341.8L679.5 340Z" fill="#00d30c"/>
<path d="M679.5 340L685.5 341.8L679.7 338.3L673.7 336.6Z" fill="#00d30d"/>
<path d="M673.7 336.6L679.7 338.3L673.9 334.8L667.9 333.1Z" fill="#00d30e"/>
<path class="o" d="M673.3 340L679.3 341.7L685.3 343.4L691.3 345.1L685.5 341.8L679.7 338.3L673.9 334.8L667.9 333.1L661.9 331.3L655.9 329.5L661.6 333L667.4 336.5Z"/>
<path d="M584.2 299.6L590.5 301.1L584.9 297.7L578.5 296.2Z" fill="#09d704"/>
<path d="M578.5 296.2L584.9 297.7L579.2 294.3L572.9 292.8Z" fill="#09d704"/>
<path d="M572.9 292.8L579.2 294.3L573.6 290.9L567.3 289.4Z" fill="#09d704"/>
<path d="M590.5 301.1L596.8 302.5L591.2 299.1L584.9 297.7Z" fill="#08d903"/>
<path d="M584.9 297.7L591.2 299.1L585.5 295.6L579.2 294.3Z" fill="#08d903"/>
<path d="M579.2 294.3L585.5 295.6L579.9 292.2L573.6 290.9Z" fill="#07d903"/>
<path d="M596.8 302.5L603.1 303.8L597.4 300.3L591.2 299.1Z" fill="#06d903"/>
<path d="M591.2 299.1L597.4 300.3L591.8 296.9L585.5 295.6Z" fill="#06d903"/>
<path d="M585.5 295.6L591.8 296.9L586.2 293.5L579.9 292.2Z" fill="#06d902"/>
<path class="o" d="M584.2 299.6L590.5 301.1L596.8 302.5L603.1 303.8L597.4 300.3L591.8 296.9L586.2 293.5L579.9 292.2L573.6 290.9L567.3 289.4L572.9 292.8L578.5 296.2Z"/>
<path d="M317 183.4L323.9 182.5L318.8 178.5L311.8 179.4Z" fill="#ffcd0c"/>
<path d="M311.8 179.4L318.8 178.5L313.6 174.5L306.6 175.5Z" fill="#ffcc0d"/>
<path d="M306.6 175.5L313.6 174.5L308.5 170.7L301.5 171.8Z" fill="#ffcc0c"/>
<path d="M323.9 182.5L330.9 181.8L325.7 177.7L318.8 178.5Z" fill="#ffd108"/>
<path d="M318.8 178.5L325.7 177.7L320.5 173.7L313.6 174.5Z" fill="#ffd009"/>
<path d="M313.6 174.5L320.5 173.7L315.4 169.9L308.5 170.7Z" fill="#ffcf08"/>
<path d="M330.9 181.8L337.8 181.3L332.6 177.2L325.7 177.7Z" fill="#ffd504"/>
<path d="M325.7 177.7L332.6 177.2L327.5 173.1L320.5 173.7Z" fill="#ffd404"/>
<path d="M320.5 173.7L327.5 173.1L322.3 169.3L315.4 169.9Z" fill="#ffd404"/>
<path class="o" d="M317 183.4L323.9 182.5L330.9 181.8L337.8 181.3L332.6 177.2L327.5 173.1L322.3 169.3L315.4 169.9L308.5 170.7L301.5 171.8L306.6 175.5L311.8 179.4Z"/>
<path d="M815.7 409.6L821.3 411.2L815.2 407L809.6 405.3Z" fill="#03d162"/>
<path d="M809.6 405.3L815.2 407L809.2 403L803.6 401.1Z" fill="#03cf60"/>
<path d="M803.6 401.1L809.2 403L803.1 399.1L797.5 397.1Z" fill="#03cc5f"/>
<path d="M821.3 411.2L826.9 412.8L820.8 408.7L815.2 407Z" fill="#04cf72"/>
<path d="M815.2 407L820.8 408.7L814.7 404.9L809.2 403Z" fill="#04cc71"/>
<path d="M809.2 403L814.7 404.9L808.7 401.2L803.1 399.1Z" fill="#04ca70"/>
<path d="M826.9 412.8L832.4 414.4L826.3 410.5L820.8 408.7Z" fill="#05d085"/>
<path d="M820.8 408.7L826.3 410.5L820.3 406.8L814.7 404.9Z" fill="#05ce84"/>
<path d="M814.7 404.9L820.3 406.8L814.2 403.2L808.7 401.2Z" fill="#05cc83"/>
<path class="o" d="M815.7 409.6L821.3 411.2L826.9 412.8L832.4 414.4L826.3 410.5L820.3 406.8L814.2 403.2L808.7 401.2L803.1 399.1L797.5 397.1L803.6 401.1L809.6 405.3Z"/>
<path d="M405.9 219.5L412.7 219.4L407.4 215.5L400.6 215.5Z" fill="#dcf309"/>
<path d="M400.6 215.5L407.4 215.5L402.1 211.4L395.3 211.5Z" fill="#def309"/>
<path d="M395.3 211.5L402.1 211.4L396.8 207.4L390 207.4Z" fill="#e0f309"/>
<path d="M412.7 219.4L419.5 219.4L414.2 215.4L407.4 215.5Z" fill="#ccf00c"/>
<path d="M407.4 215.5L414.2 215.4L408.9 211.5L402.1 211.4Z" fill="#cdf00b"/>
<path d="M402.1 211.4L408.9 211.5L403.6 207.5L396.8 207.4Z" fill="#cff10b"/>
<path d="M419.5 219.4L426.2 219.4L420.9 215.5L414.2 215.4Z" fill="#bbee0c"/>
<path d="M414.2 215.4L420.9 215.5L415.6 211.5L408.9 211.5Z" fill="#bcee0c"/>
<path d="M408.9 211.5L415.6 211.5L410.3 207.6L403.6 207.5Z" fill="#beee0c"/>
<path class="o" d="M405.9 219.5L412.7 219.4L419.5 219.4L426.2 219.4L420.9 215.5L415.6 211.5L410.3 207.6L403.6 207.5L396.8 207.4L390 207.4L395.3 211.5L400.6 215.5Z"/>
<path d="M495.1 255.1L501.7 257.4L496.2 253.6L489.6 251.3Z" fill="#64db0a"/>
<path d="M489.6 251.3L496.2 253.6L490.7 249.7L484.1 247.5Z" fill="#65dc0a"/>
<path d="M484.1 247.5L490.7 249.7L485.2 245.8L478.6 243.6Z" fill="#66dd0a"/>
<path d="M501.7 257.4L508.2 259.7L502.7 255.8L496.2 253.6Z" fill="#4bd809"/>
<path d="M496.2 253.6L502.7 255.8L497.3 251.9L490.7 249.7Z" fill="#4cd909"/>
<path d="M490.7 249.7L497.3 251.9L491.8 247.9L485.2 245.8Z" fill="#4dda09"/>
<path d="M508.2 259.7L514.7 261.9L509.3 258L502.7 255.8Z" fill="#33d507"/>
<path d="M502.7 255.8L509.3 258L503.8 254.1L497.3 251.9Z" fill="#34d608"/>
<path d="M497.3 251.9L503.8 254.1L498.3 250.1L491.8 247.9Z" fill="#35d708"/>
<path class="o" d="M495.1 255.1L501.7 257.4L508.2 259.7L514.7 261.9L509.3 258L503.8 254.1L498.3 250.1L491.8 247.9L485.2 245.8L478.6 243.6L484.1 247.5L489.6 251.3Z"/>
<path d="M726.7 365.8L732.6 367.7L726.6 364.3L720.8 362.3Z" fill="#00cf0f"/>
<path d="M720.8 362.3L726.6 364.3L720.7 360.9L714.8 358.9Z" fill="#00ce10"/>
<path d="M714.8 358.9L720.7 360.9L714.8 357.5L708.9 355.4Z" fill="#00ce11"/>
<path d="M732.6 367.7L738.5 369.4L732.5 366L726.6 364.3Z" fill="#00d119"/>
<path d="M726.6 364.3L732.5 366L726.6 362.7L720.7 360.9Z" fill="#00d01a"/>
<path d="M720.7 360.9L726.6 362.7L720.7 359.4L714.8 357.5Z" fill="#00cf1b"/>
<path d="M738.5 369.4L744.3 371L738.3 367.7L732.5 366Z" fill="#01d227"/>
<path d="M732.5 366L738.3 367.7L732.4 364.4L726.6 362.7Z" fill="#01d129"/>
<path d="M726.6 362.7L732.4 364.4L726.5 361.1L720.7 359.4Z" fill="#01d12b"/>
<path class="o" d="M726.7 365.8L732.6 367.7L738.5 369.4L744.3 371L738.3 367.7L732.4 364.4L726.5 361.1L720.7 359.4L714.8 357.5L708.9 355.4L714.8 358.9L720.8 362.3Z"/>
<path d="M637.4 324.9L643.6 326.4L637.8 322.9L631.6 321.4Z" fill="#05d702"/>
<path d="M631.6 321.4L637.8 322.9L632.1 319.4L625.9 317.9Z" fill="#05d702"/>
<path d="M625.9 317.9L632.1 319.4L626.3 315.8L620.1 314.3Z" fill="#05d702"/>
<path d="M643.6 326.4L649.7 327.9L644 324.4L637.8 322.9Z" fill="#04d602"/>
<path d="M637.8 322.9L644 324.4L638.2 320.9L632.1 319.4Z" fill="#04d702"/>
<path d="M632.1 319.4L638.2 320.9L632.5 317.3L626.3 315.8Z" fill="#04d702"/>
<path d="M649.7 327.9L655.9 329.5L650.1 326L644 324.4Z" fill="#02d601"/>
<path d="M644 324.4L650.1 326L644.3 322.5L638.2 320.9Z" fill="#02d601"/>
<path d="M638.2 320.9L644.3 322.5L638.6 318.9L632.5 317.3Z" fill="#02d601"/>
<path class="o" d="M637.4 324.9L643.6 326.4L649.7 327.9L655.9 329.5L650.1 326L644.3 322.5L638.6 318.9L632.5 317.3L626.3 315.8L620.1 314.3L625.9 317.9L631.6 321.4Z"/>
<path d="M548.1 283.8L554.5 285.8L548.9 282.3L542.4 280.3Z" fill="#20d306"/>
<path d="M542.4 280.3L548.9 282.3L543.3 278.8L536.9 276.8Z" fill="#1ed306"/>
<path d="M536.9 276.8L543.3 278.8L537.8 275.2L531.3 273.2Z" fill="#1dd306"/>
<path d="M554.5 285.8L560.9 287.7L555.3 284.2L548.9 282.3Z" fill="#0dd205"/>
<path d="M548.9 282.3L555.3 284.2L549.7 280.7L543.3 278.8Z" fill="#0cd205"/>
<path d="M543.3 278.8L549.7 280.7L544.2 277.1L537.8 275.2Z" fill="#0bd205"/>
<path d="M560.9 287.7L567.3 289.4L561.7 285.9L555.3 284.2Z" fill="#0ad404"/>
<path d="M555.3 284.2L561.7 285.9L556.1 282.4L549.7 280.7Z" fill="#0ad504"/>
<path d="M549.7 280.7L556.1 282.4L550.6 278.9L544.2 277.1Z" fill="#0ad504"/>
<path class="o" d="M548.1 283.8L554.5 285.8L560.9 287.7L567.3 289.4L561.7 285.9L556.1 282.4L550.6 278.9L544.2 277.1L537.8 275.2L531.3 273.2L536.9 276.8L542.4 280.3Z"/>
<path d="M369.3 206.6L376.2 206.8L370.9 202.6L364 202.4Z" fill="#fbe502"/>
<path d="M364 202.4L370.9 202.6L365.7 198.4L358.8 198.3Z" fill="#fbe302"/>
<path d="M358.8 198.3L365.7 198.4L360.4 194.2L353.5 194Z" fill="#fce202"/>
<path d="M376.2 206.8L383.1 207L377.8 202.9L370.9 202.6Z" fill="#f8ee04"/>
<path d="M370.9 202.6L377.8 202.9L372.6 198.7L365.7 198.4Z" fill="#f9ed03"/>
<path d="M365.7 198.4L372.6 198.7L367.3 194.5L360.4 194.2Z" fill="#f9eb03"/>
<path d="M383.1 207L390 207.4L384.7 203.3L377.8 202.9Z" fill="#f3f505"/>
<path d="M377.8 202.9L384.7 203.3L379.4 199.1L372.6 198.7Z" fill="#f4f405"/>
<path d="M372.6 198.7L379.4 199.1L374.2 194.9L367.3 194.5Z" fill="#f6f405"/>
<path class="o" d="M369.3 206.6L376.2 206.8L383.1 207L390 207.4L384.7 203.3L379.4 199.1L374.2 194.9L367.3 194.5L360.4 194.2L353.5 194L358.8 198.3L364 202.4Z"/>
<path d="M458.6 242.6L465.3 242.9L459.9 239.1L453.2 238.8Z" fill="#a5eb0c"/>
<path d="M453.2 238.8L459.9 239.1L454.5 235.2L447.8 235Z" fill="#a5eb0c"/>
<path d="M447.8 235L454.5 235.2L449.1 231.3L442.3 231.1Z" fill="#a6eb0c"/>
<path d="M465.3 242.9L472 243.3L466.6 239.4L459.9 239.1Z" fill="#92e90c"/>
<path d="M459.9 239.1L466.6 239.4L461.1 235.5L454.5 235.2Z" fill="#93e90c"/>
<path d="M454.5 235.2L461.1 235.5L455.7 231.6L449.1 231.3Z" fill="#94e90c"/>
<path d="M472 243.3L478.6 243.6L473.2 239.7L466.6 239.4Z" fill="#80e70b"/>
<path d="M466.6 239.4L473.2 239.7L467.8 235.8L461.1 235.5Z" fill="#81e70b"/>
<path d="M461.1 235.5L467.8 235.8L462.4 231.8L455.7 231.6Z" fill="#82e70b"/>
<path class="o" d="M458.6 242.6L465.3 242.9L472 243.3L478.6 243.6L473.2 239.7L467.8 235.8L462.4 231.8L455.7 231.6L449.1 231.3L442.3 231.1L447.8 235L453.2 238.8Z"/>
<path d="M780.4 392.5L786.1 394.1L780.1 390.3L774.3 388.6Z" fill="#01d32e"/>
<path d="M774.3 388.6L780.1 390.3L774 386.7L768.3 384.9Z" fill="#01d02f"/>
<path d="M768.3 384.9L774 386.7L768 383.2L762.3 381.3Z" fill="#01ce30"/>
<path d="M786.1 394.1L791.9 395.6L785.8 391.9L780.1 390.3Z" fill="#02d23f"/>
<path d="M780.1 390.3L785.8 391.9L779.7 388.5L774 386.7Z" fill="#02d040"/>
<path d="M774 386.7L779.7 388.5L773.7 385.1L768 383.2Z" fill="#02ce41"/>
<path d="M791.9 395.6L797.5 397.1L791.5 393.6L785.8 391.9Z" fill="#03d050"/>
<path d="M785.8 391.9L791.5 393.6L785.4 390.2L779.7 388.5Z" fill="#03ce51"/>
<path d="M779.7 388.5L785.4 390.2L779.4 386.9L773.7 385.1Z" fill="#03cd53"/>
<path class="o" d="M780.4 392.5L786.1 394.1L791.9 395.6L797.5 397.1L791.5 393.6L785.4 390.2L779.4 386.9L773.7 385.1L768 383.2L762.3 381.3L768.3 384.9L774.3 388.6Z"/>
<path d="M690.9 350.8L696.9 352.4L691.1 348.8L685 347.2Z" fill="#02d501"/>
<path d="M685 347.2L691.1 348.8L685.2 345.3L679.1 343.6Z" fill="#01d401"/>
<path d="M679.1 343.6L685.2 345.3L679.3 341.7L673.3 340Z" fill="#01d401"/>
<path d="M696.9 352.4L702.9 353.9L697 350.5L691.1 348.8Z" fill="#00d401"/>
<path d="M691.1 348.8L697 350.5L691.2 347L685.2 345.3Z" fill="#00d402"/>
<path d="M685.2 345.3L691.2 347L685.3 343.4L679.3 341.7Z" fill="#00d302"/>
<path d="M702.9 353.9L708.9 355.4L703 352L697 350.5Z" fill="#00d509"/>
<path d="M697 350.5L703 352L697.1 348.6L691.2 347Z" fill="#00d40a"/>
<path d="M691.2 347L697.1 348.6L691.3 345.1L685.3 343.4Z" fill="#00d40b"/>
<path class="o" d="M690.9 350.8L696.9 352.4L702.9 353.9L708.9 355.4L703 352L697.1 348.6L691.3 345.1L685.3 343.4L679.3 341.7L673.3 340L679.1 343.6L685 347.2Z"/>
<path d="M332.6 195.6L339.6 194.9L334.4 190.8L327.4 191.5Z" fill="#ffce06"/>
<path d="M327.4 191.5L334.4 190.8L329.1 186.6L322.2 187.5Z" fill="#ffce08"/>
<path d="M322.2 187.5L329.1 186.6L323.9 182.5L317 183.4Z" fill="#ffcd0a"/>
<path d="M339.6 194.9L346.6 194.4L341.3 190.2L334.4 190.8Z" fill="#ffd304"/>
<path d="M334.4 190.8L341.3 190.2L336.1 186L329.1 186.6Z" fill="#ffd205"/>
<path d="M329.1 186.6L336.1 186L330.9 181.8L323.9 182.5Z" fill="#ffd107"/>
<path d="M346.6 194.4L353.5 194L348.3 189.8L341.3 190.2Z" fill="#ffd902"/>
<path d="M341.3 190.2L348.3 189.8L343 185.5L336.1 186Z" fill="#ffd803"/>
<path d="M336.1 186L343 185.5L337.8 181.3L330.9 181.8Z" fill="#ffd603"/>
<path class="o" d="M332.6 195.6L339.6 194.9L346.6 194.4L353.5 194L348.3 189.8L343 185.5L337.8 181.3L330.9 181.8L323.9 182.5L317 183.4L322.2 187.5L327.4 191.5Z"/>
<path d="M601.3 310L607.6 311.5L601.9 308.1L595.6 306.5Z" fill="#09d604"/>
<path d="M595.6 306.5L601.9 308.1L596.2 304.6L589.9 303.1Z" fill="#09d604"/>
<path d="M589.9 303.1L596.2 304.6L590.5 301.1L584.2 299.6Z" fill="#09d704"/>
<path d="M607.6 311.5L613.9 312.9L608.2 309.5L601.9 308.1Z" fill="#08d803"/>
<path d="M601.9 308.1L608.2 309.5L602.5 306L596.2 304.6Z" fill="#08d903"/>
<path d="M596.2 304.6L602.5 306L596.8 302.5L590.5 301.1Z" fill="#08d903"/>
<path d="M613.9 312.9L620.1 314.3L614.4 310.8L608.2 309.5Z" fill="#07d903"/>
<path d="M608.2 309.5L614.4 310.8L608.7 307.3L602.5 306Z" fill="#06d903"/>
<path d="M602.5 306L608.7 307.3L603.1 303.8L596.8 302.5Z" fill="#06d903"/>
<path class="o" d="M601.3 310L607.6 311.5L613.9 312.9L620.1 314.3L614.4 310.8L608.7 307.3L603.1 303.8L596.8 302.5L590.5 301.1L584.2 299.6L589.9 303.1L595.6 306.5Z"/>
<path d="M422 231.3L428.8 231.2L423.5 227.3L416.7 227.4Z" fill="#d9f20a"/>
<path d="M416.7 227.4L423.5 227.3L418.1 223.4L411.3 223.5Z" fill="#daf209"/>
<path d="M411.3 223.5L418.1 223.4L412.7 219.4L405.9 219.5Z" fill="#dbf209"/>
<path d="M428.8 231.2L435.6 231.1L430.2 227.2L423.5 227.3Z" fill="#c9f00c"/>
<path d="M423.5 227.3L430.2 227.2L424.9 223.3L418.1 223.4Z" fill="#c9f00c"/>
<path d="M418.1 223.4L424.9 223.3L419.5 219.4L412.7 219.4Z" fill="#caf00c"/>
<path d="M435.6 231.1L442.3 231.1L437 227.2L430.2 227.2Z" fill="#b8ee0c"/>
<path d="M430.2 227.2L437 227.2L431.6 223.3L424.9 223.3Z" fill="#b9ee0c"/>
<path d="M424.9 223.3L431.6 223.3L426.2 219.4L419.5 219.4Z" fill="#baee0c"/>
<path class="o" d="M422 231.3L428.8 231.2L435.6 231.1L442.3 231.1L437 227.2L431.6 223.3L426.2 219.4L419.5 219.4L412.7 219.4L405.9 219.5L411.3 223.5L416.7 227.4Z"/>
<path d="M834 423.2L839.6 424.3L833.5 419.9L827.9 418.6Z" fill="#04d768"/>
<path d="M827.9 418.6L833.5 419.9L827.4 415.5L821.8 414.1Z" fill="#04d766"/>
<path d="M821.8 414.1L827.4 415.5L821.3 411.2L815.7 409.6Z" fill="#04d464"/>
<path d="M839.6 424.3L845.2 425.4L839.1 421.1L833.5 419.9Z" fill="#05d678"/>
<path d="M833.5 419.9L839.1 421.1L833 416.9L827.4 415.5Z" fill="#05d576"/>
<path d="M827.4 415.5L833 416.9L826.9 412.8L821.3 411.2Z" fill="#04d274"/>
<path d="M845.2 425.4L850.8 426.5L844.6 422.4L839.1 421.1Z" fill="#06d88a"/>
<path d="M839.1 421.1L844.6 422.4L838.5 418.3L833 416.9Z" fill="#06d688"/>
<path d="M833 416.9L838.5 418.3L832.4 414.4L826.9 412.8Z" fill="#05d386"/>
<path class="o" d="M834 423.2L839.6 424.3L845.2 425.4L850.8 426.5L844.6 422.4L838.5 418.3L832.4 414.4L826.9 412.8L821.3 411.2L815.7 409.6L821.8 414.1L827.9 418.6Z"/>
<path d="M511.7 265.9L518.3 268.4L512.7 264.8L506.1 262.4Z" fill="#64d80a"/>
<path d="M506.1 262.4L512.7 264.8L507.2 261.1L500.6 258.8Z" fill="#64d90a"/>
<path d="M500.6 258.8L507.2 261.1L501.7 257.4L495.1 255.1Z" fill="#64da0a"/>
<path d="M518.3 268.4L524.8 270.8L519.2 267.2L512.7 264.8Z" fill="#4bd509"/>
<path d="M512.7 264.8L519.2 267.2L513.7 263.4L507.2 261.1Z" fill="#4bd609"/>
<path d="M507.2 261.1L513.7 263.4L508.2 259.7L501.7 257.4Z" fill="#4bd709"/>
<path d="M524.8 270.8L531.3 273.2L525.8 269.5L519.2 267.2Z" fill="#32d207"/>
<path d="M519.2 267.2L525.8 269.5L520.2 265.8L513.7 263.4Z" fill="#32d307"/>
<path d="M513.7 263.4L520.2 265.8L514.7 261.9L508.2 259.7Z" fill="#32d407"/>
<path class="o" d="M511.7 265.9L518.3 268.4L524.8 270.8L531.3 273.2L525.8 269.5L520.2 265.8L514.7 261.9L508.2 259.7L501.7 257.4L495.1 255.1L500.6 258.8L506.1 262.4Z"/>
<path d="M295.9 186.1L302.9 185.2L297.8 181.3L290.7 182.3Z" fill="#ffbe0a"/>
<path d="M290.7 182.3L297.8 181.3L292.6 177.6L285.6 178.6Z" fill="#ffbf0c"/>
<path d="M285.6 178.6L292.6 177.6L287.5 173.8L280.5 174.9Z" fill="#ffbf0c"/>
<path d="M302.9 185.2L310 184.2L304.8 180.3L297.8 181.3Z" fill="#ffc30b"/>
<path d="M297.8 181.3L304.8 180.3L299.7 176.5L292.6 177.6Z" fill="#ffc30c"/>
<path d="M292.6 177.6L299.7 176.5L294.5 172.8L287.5 173.8Z" fill="#ffc30d"/>
<path d="M310 184.2L317 183.4L311.8 179.4L304.8 180.3Z" fill="#ffc709"/>
<path d="M304.8 180.3L311.8 179.4L306.6 175.5L299.7 176.5Z" fill="#ffc70b"/>
<path d="M299.7 176.5L306.6 175.5L301.5 171.8L294.5 172.8Z" fill="#ffc70c"/>
<path class="o" d="M295.9 186.1L302.9 185.2L310 184.2L317 183.4L311.8 179.4L306.6 175.5L301.5 171.8L294.5 172.8L287.5 173.8L280.5 174.9L285.6 178.6L290.7 182.3Z"/>
<path d="M744.7 377.1L750.6 378.6L744.6 374.8L738.7 373.2Z" fill="#00d50d"/>
<path d="M738.7 373.2L744.6 374.8L738.6 371.2L732.7 369.5Z" fill="#00d30e"/>
<path d="M732.7 369.5L738.6 371.2L732.6 367.7L726.7 365.8Z" fill="#00d10e"/>
<path d="M750.6 378.6L756.4 380L750.4 376.4L744.6 374.8Z" fill="#00d617"/>
<path d="M744.6 374.8L750.4 376.4L744.4 372.8L738.6 371.2Z" fill="#00d417"/>
<path d="M738.6 371.2L744.4 372.8L738.5 369.4L732.6 367.7Z" fill="#00d218"/>
<path d="M756.4 380L762.3 381.3L756.2 377.8L750.4 376.4Z" fill="#00d622"/>
<path d="M750.4 376.4L756.2 377.8L750.3 374.4L744.4 372.8Z" fill="#00d523"/>
<path d="M744.4 372.8L750.3 374.4L744.3 371L738.5 369.4Z" fill="#00d325"/>
<path class="o" d="M744.7 377.1L750.6 378.6L756.4 380L762.3 381.3L756.2 377.8L750.3 374.4L744.3 371L738.5 369.4L732.6 367.7L726.7 365.8L732.7 369.5L738.7 373.2Z"/>
<path d="M654.9 335.7L661.1 337.1L655.2 333.6L649 332.2Z" fill="#06d802"/>
<path d="M649 332.2L655.2 333.6L649.4 330L643.2 328.6Z" fill="#06d702"/>
<path d="M643.2 328.6L649.4 330L643.6 326.4L637.4 324.9Z" fill="#06d702"/>
<path d="M661.1 337.1L667.2 338.5L661.4 335L655.2 333.6Z" fill="#04d702"/>
<path d="M655.2 333.6L661.4 335L655.5 331.5L649.4 330Z" fill="#04d702"/>
<path d="M649.4 330L655.5 331.5L649.7 327.9L643.6 326.4Z" fill="#04d702"/>
<path d="M667.2 338.5L673.3 340L667.4 336.5L661.4 335Z" fill="#03d701"/>
<path d="M661.4 335L667.4 336.5L661.6 333L655.5 331.5Z" fill="#03d601"/>
<path d="M655.5 331.5L661.6 333L655.9 329.5L649.7 327.9Z" fill="#02d701"/>
<path class="o" d="M654.9 335.7L661.1 337.1L667.2 338.5L673.3 340L667.4 336.5L661.6 333L655.9 329.5L649.7 327.9L643.6 326.4L637.4 324.9L643.2 328.6L649 332.2Z"/>
<path d="M385.3 218.8L392.2 218.9L386.9 214.9L379.9 214.8Z" fill="#fae803"/>
<path d="M379.9 214.8L386.9 214.9L381.5 210.9L374.6 210.7Z" fill="#fae703"/>
<path d="M374.6 210.7L381.5 210.9L376.2 206.8L369.3 206.6Z" fill="#fbe602"/>
<path d="M392.2 218.9L399.1 219.2L393.7 215.2L386.9 214.9Z" fill="#f8f104"/>
<path d="M386.9 214.9L393.7 215.2L388.4 211.1L381.5 210.9Z" fill="#f8f004"/>
<path d="M381.5 210.9L388.4 211.1L383.1 207L376.2 206.8Z" fill="#f8ef04"/>
<path d="M399.1 219.2L405.9 219.5L400.6 215.5L393.7 215.2Z" fill="#eef506"/>
<path d="M393.7 215.2L400.6 215.5L395.3 211.5L388.4 211.1Z" fill="#f0f506"/>
<path d="M388.4 211.1L395.3 211.5L390 207.4L383.1 207Z" fill="#f1f506"/>
<path class="o" d="M385.3 218.8L392.2 218.9L399.1 219.2L405.9 219.5L400.6 215.5L395.3 211.5L390 207.4L383.1 207L376.2 206.8L369.3 206.6L374.6 210.7L379.9 214.8Z"/>
<path d="M565 294.1L571.4 296.1L565.8 292.7L559.3 290.7Z" fill="#25d307"/>
<path d="M559.3 290.7L565.8 292.7L560.1 289.2L553.7 287.2Z" fill="#23d306"/>
<path d="M553.7 287.2L560.1 289.2L554.5 285.8L548.1 283.8Z" fill="#21d306"/>
<path d="M571.4 296.1L577.8 297.9L572.2 294.5L565.8 292.7Z" fill="#10d205"/>
<path d="M565.8 292.7L572.2 294.5L566.5 291.1L560.1 289.2Z" fill="#0fd205"/>
<path d="M560.1 289.2L566.5 291.1L560.9 287.7L554.5 285.8Z" fill="#0ed205"/>
<path d="M577.8 297.9L584.2 299.6L578.5 296.2L572.2 294.5Z" fill="#0ad404"/>
<path d="M572.2 294.5L578.5 296.2L572.9 292.8L566.5 291.1Z" fill="#0ad404"/>
<path d="M566.5 291.1L572.9 292.8L567.3 289.4L560.9 287.7Z" fill="#0ad404"/>
<path class="o" d="M565 294.1L571.4 296.1L577.8 297.9L584.2 299.6L578.5 296.2L572.9 292.8L567.3 289.4L560.9 287.7L554.5 285.8L548.1 283.8L553.7 287.2L559.3 290.7Z"/>
<path d="M475.1 253.7L481.8 254.1L476.3 250.4L469.6 250Z" fill="#a6eb0c"/>
<path d="M469.6 250L476.3 250.4L470.8 246.7L464.1 246.3Z" fill="#a5eb0c"/>
<path d="M464.1 246.3L470.8 246.7L465.3 242.9L458.6 242.6Z" fill="#a5eb0c"/>
<path d="M481.8 254.1L488.4 254.5L482.9 250.8L476.3 250.4Z" fill="#93e90c"/>
<path d="M476.3 250.4L482.9 250.8L477.5 247.1L470.8 246.7Z" fill="#92e90c"/>
<path d="M470.8 246.7L477.5 247.1L472 243.3L465.3 242.9Z" fill="#92e90c"/>
<path d="M488.4 254.5L495.1 255.1L489.6 251.3L482.9 250.8Z" fill="#80e70b"/>
<path d="M482.9 250.8L489.6 251.3L484.1 247.5L477.5 247.1Z" fill="#80e70b"/>
<path d="M477.5 247.1L484.1 247.5L478.6 243.6L472 243.3Z" fill="#80e70b"/>
<path class="o" d="M475.1 253.7L481.8 254.1L488.4 254.5L495.1 255.1L489.6 251.3L484.1 247.5L478.6 243.6L472 243.3L465.3 242.9L458.6 242.6L464.1 246.3L469.6 250Z"/>
<path d="M798.5 406.1L804.3 407.3L798.2 402.7L792.5 401.5Z" fill="#01d932"/>
<path d="M792.5 401.5L798.2 402.7L792.2 398.3L786.4 396.9Z" fill="#01d931"/>
<path d="M786.4 396.9L792.2 398.3L786.1 394.1L780.4 392.5Z" fill="#01d72f"/>
<path d="M804.3 407.3L810 408.4L804 404L798.2 402.7Z" fill="#02d943"/>
<path d="M798.2 402.7L804 404L797.9 399.7L792.2 398.3Z" fill="#02d841"/>
<path d="M792.2 398.3L797.9 399.7L791.9 395.6L786.1 394.1Z" fill="#02d640"/>
<path d="M810 408.4L815.7 409.6L809.6 405.3L804 404Z" fill="#03d853"/>
<path d="M804 404L809.6 405.3L803.6 401.1L797.9 399.7Z" fill="#03d652"/>
<path d="M797.9 399.7L803.6 401.1L797.5 397.1L791.9 395.6Z" fill="#03d450"/>
<path class="o" d="M798.5 406.1L804.3 407.3L810 408.4L815.7 409.6L809.6 405.3L803.6 401.1L797.5 397.1L791.9 395.6L786.1 394.1L780.4 392.5L786.4 396.9L792.5 401.5Z"/>
<path d="M348.4 207.7L355.4 207.2L350.1 203.2L343.1 203.7Z" fill="#ffd002"/>
<path d="M343.1 203.7L350.1 203.2L344.9 199.1L337.9 199.7Z" fill="#ffcf03"/>
<path d="M337.9 199.7L344.9 199.1L339.6 194.9L332.6 195.6Z" fill="#ffcf05"/>
<path d="M355.4 207.2L362.4 206.9L357.1 202.8L350.1 203.2Z" fill="#ffd501"/>
<path d="M350.1 203.2L357.1 202.8L351.8 198.6L344.9 199.1Z" fill="#ffd502"/>
<path d="M344.9 199.1L351.8 198.6L346.6 194.4L339.6 194.9Z" fill="#ffd403"/>
<path d="M362.4 206.9L369.3 206.6L364 202.4L357.1 202.8Z" fill="#fddc01"/>
<path d="M357.1 202.8L364 202.4L358.8 198.3L351.8 198.6Z" fill="#fedb01"/>
<path d="M351.8 198.6L358.8 198.3L353.5 194L346.6 194.4Z" fill="#feda02"/>
<path class="o" d="M348.4 207.7L355.4 207.2L362.4 206.9L369.3 206.6L364 202.4L358.8 198.3L353.5 194L346.6 194.4L339.6 194.9L332.6 195.6L337.9 199.7L343.1 203.7Z"/>
<path d="M708.7 362.2L714.8 363.3L708.8 359.7L702.8 358.4Z" fill="#02da01"/>
<path d="M702.8 358.4L708.8 359.7L702.9 356L696.8 354.6Z" fill="#02d901"/>
<path d="M696.8 354.6L702.9 356L696.9 352.4L690.9 350.8Z" fill="#02d701"/>
<path d="M714.8 363.3L720.8 364.6L714.8 361L708.8 359.7Z" fill="#00d900"/>
<path d="M708.8 359.7L714.8 361L708.9 357.5L702.9 356Z" fill="#00d800"/>
<path d="M702.9 356L708.9 357.5L702.9 353.9L696.9 352.4Z" fill="#00d601"/>
<path d="M720.8 364.6L726.7 365.8L720.8 362.3L714.8 361Z" fill="#00d906"/>
<path d="M714.8 361L720.8 362.3L714.8 358.9L708.9 357.5Z" fill="#00d707"/>
<path d="M708.9 357.5L714.8 358.9L708.9 355.4L702.9 353.9Z" fill="#00d608"/>
<path class="o" d="M708.7 362.2L714.8 363.3L720.8 364.6L726.7 365.8L720.8 362.3L714.8 358.9L708.9 355.4L702.9 353.9L696.9 352.4L690.9 350.8L696.8 354.6L702.8 358.4Z"/>
<path d="M618.6 320.8L624.9 322.2L619.1 318.7L612.8 317.2Z" fill="#0ad704"/>
<path d="M612.8 317.2L619.1 318.7L613.4 315.1L607.1 313.6Z" fill="#0ad704"/>
<path d="M607.1 313.6L613.4 315.1L607.6 311.5L601.3 310Z" fill="#0ad704"/>
<path d="M624.9 322.2L631.2 323.6L625.4 320.1L619.1 318.7Z" fill="#08d803"/>
<path d="M619.1 318.7L625.4 320.1L619.6 316.5L613.4 315.1Z" fill="#08d803"/>
<path d="M613.4 315.1L619.6 316.5L613.9 312.9L607.6 311.5Z" fill="#08d803"/>
<path d="M631.2 323.6L637.4 324.9L631.6 321.4L625.4 320.1Z" fill="#07d903"/>
<path d="M625.4 320.1L631.6 321.4L625.9 317.9L619.6 316.5Z" fill="#07d903"/>
<path d="M619.6 316.5L625.9 317.9L620.1 314.3L613.9 312.9Z" fill="#07d903"/>
<path class="o" d="M618.6 320.8L624.9 322.2L631.2 323.6L637.4 324.9L631.6 321.4L625.9 317.9L620.1 314.3L613.9 312.9L607.6 311.5L601.3 310L607.1 313.6L612.8 317.2Z"/>
<path d="M852.4 437.5L858 438L851.9 433.4L846.2 432.7Z" fill="#04d76d"/>
<path d="M846.2 432.7L851.9 433.4L845.7 428.8L840.1 428Z" fill="#04d76b"/>
<path d="M840.1 428L845.7 428.8L839.6 424.3L834 423.2Z" fill="#04d769"/>
<path d="M858 438L863.7 438.4L857.5 434.1L851.9 433.4Z" fill="#05d67b"/>
<path d="M851.9 433.4L857.5 434.1L851.3 429.7L845.7 428.8Z" fill="#05d67a"/>
<path d="M845.7 428.8L851.3 429.7L845.2 425.4L839.6 424.3Z" fill="#05d679"/>
<path d="M863.7 438.4L869.3 438.9L863.1 434.8L857.5 434.1Z" fill="#06d98b"/>
<path d="M857.5 434.1L863.1 434.8L856.9 430.6L851.3 429.7Z" fill="#06d98b"/>
<path d="M851.3 429.7L856.9 430.6L850.8 426.5L845.2 425.4Z" fill="#06d98a"/>
<path class="o" d="M852.4 437.5L858 438L863.7 438.4L869.3 438.9L863.1 434.8L856.9 430.6L850.8 426.5L845.2 425.4L839.6 424.3L834 423.2L840.1 428L846.2 432.7Z"/>
<path d="M438.3 242.7L445.1 242.6L439.7 238.8L432.9 238.9Z" fill="#d9f20a"/>
<path d="M432.9 238.9L439.7 238.8L434.2 235L427.4 235.1Z" fill="#d9f20a"/>
<path d="M427.4 235.1L434.2 235L428.8 231.2L422 231.3Z" fill="#d9f20a"/>
<path d="M445.1 242.6L451.9 242.6L446.4 238.8L439.7 238.8Z" fill="#c8f00c"/>
<path d="M439.7 238.8L446.4 238.8L441 235L434.2 235Z" fill="#c8f00c"/>
<path d="M434.2 235L441 235L435.6 231.1L428.8 231.2Z" fill="#c8f00c"/>
<path d="M451.9 242.6L458.6 242.6L453.2 238.8L446.4 238.8Z" fill="#b7ed0c"/>
<path d="M446.4 238.8L453.2 238.8L447.8 235L441 235Z" fill="#b7ed0c"/>
<path d="M441 235L447.8 235L442.3 231.1L435.6 231.1Z" fill="#b7ed0c"/>
<path class="o" d="M438.3 242.7L445.1 242.6L451.9 242.6L458.6 242.6L453.2 238.8L447.8 235L442.3 231.1L435.6 231.1L428.8 231.2L422 231.3L427.4 235.1L432.9 238.9Z"/>
<path d="M528.5 276.3L535 278.9L529.4 275.4L522.9 272.9Z" fill="#68d60a"/>
<path d="M522.9 272.9L529.4 275.4L523.8 271.9L517.2 269.4Z" fill="#67d60a"/>
<path d="M517.2 269.4L523.8 271.9L518.3 268.4L511.7 265.9Z" fill="#65d70a"/>
<path d="M535 278.9L541.6 281.3L536 277.9L529.4 275.4Z" fill="#4ed309"/>
<path d="M529.4 275.4L536 277.9L530.4 274.4L523.8 271.9Z" fill="#4dd309"/>
<path d="M523.8 271.9L530.4 274.4L524.8 270.8L518.3 268.4Z" fill="#4cd409"/>
<path d="M541.6 281.3L548.1 283.8L542.4 280.3L536 277.9Z" fill="#36d008"/>
<path d="M536 277.9L542.4 280.3L536.9 276.8L530.4 274.4Z" fill="#34d007"/>
<path d="M530.4 274.4L536.9 276.8L531.3 273.2L524.8 270.8Z" fill="#33d107"/>
<path class="o" d="M528.5 276.3L535 278.9L541.6 281.3L548.1 283.8L542.4 280.3L536.9 276.8L531.3 273.2L524.8 270.8L518.3 268.4L511.7 265.9L517.2 269.4L522.9 272.9Z"/>
<path d="M311.5 197.4L318.5 196.8L313.3 192.9L306.3 193.6Z" fill="#ffbe05"/>
<path d="M306.3 193.6L313.3 192.9L308.1 189L301.1 189.8Z" fill="#ffbe06"/>
<path d="M301.1 189.8L308.1 189L302.9 185.2L295.9 186.1Z" fill="#ffbe08"/>
<path d="M318.5 196.8L325.6 196.1L320.4 192.2L313.3 192.9Z" fill="#ffc305"/>
<path d="M313.3 192.9L320.4 192.2L315.2 188.2L308.1 189Z" fill="#ffc307"/>
<path d="M308.1 189L315.2 188.2L310 184.2L302.9 185.2Z" fill="#ffc309"/>
<path d="M325.6 196.1L332.6 195.6L327.4 191.5L320.4 192.2Z" fill="#ffc804"/>
<path d="M320.4 192.2L327.4 191.5L322.2 187.5L315.2 188.2Z" fill="#ffc806"/>
<path d="M315.2 188.2L322.2 187.5L317 183.4L310 184.2Z" fill="#ffc808"/>
<path class="o" d="M311.5 197.4L318.5 196.8L325.6 196.1L332.6 195.6L327.4 191.5L322.2 187.5L317 183.4L310 184.2L302.9 185.2L295.9 186.1L301.1 189.8L306.3 193.6Z"/>
<path d="M274.8 193.1L281.8 190.8L276.7 187.2L269.6 189.4Z" fill="#ffc12b"/>
<path d="M269.6 189.4L276.7 187.2L271.6 183.4L264.5 185.6Z" fill="#ffc22c"/>
<path d="M264.5 185.6L271.6 183.4L266.5 179.7L259.4 182.1Z" fill="#ffc22d"/>
<path d="M281.8 190.8L288.9 188.5L283.7 184.8L276.7 187.2Z" fill="#ffc42f"/>
<path d="M276.7 187.2L283.7 184.8L278.6 181.1L271.6 183.4Z" fill="#ffc530"/>
<path d="M271.6 183.4L278.6 181.1L273.5 177.4L266.5 179.7Z" fill="#ffc531"/>
<path d="M288.9 188.5L295.9 186.1L290.7 182.3L283.7 184.8Z" fill="#ffc733"/>
<path d="M283.7 184.8L290.7 182.3L285.6 178.6L278.6 181.1Z" fill="#ffc734"/>
<path d="M278.6 181.1L285.6 178.6L280.5 174.9L273.5 177.4Z" fill="#ffc735"/>
<path class="o" d="M274.8 193.1L281.8 190.8L288.9 188.5L295.9 186.1L290.7 182.3L285.6 178.6L280.5 174.9L273.5 177.4L266.5 179.7L259.4 182.1L264.5 185.6L269.6 189.4Z"/>
<path d="M762.8 389.8L768.7 390.7L762.6 386.5L756.7 385.4Z" fill="#00da0e"/>
<path d="M756.7 385.4L762.6 386.5L756.6 382.5L750.7 381.2Z" fill="#00da0d"/>
<path d="M750.7 381.2L756.6 382.5L750.6 378.6L744.7 377.1Z" fill="#00d80d"/>
<path d="M768.7 390.7L774.6 391.6L768.5 387.6L762.6 386.5Z" fill="#00da16"/>
<path d="M762.6 386.5L768.5 387.6L762.5 383.7L756.6 382.5Z" fill="#00da16"/>
<path d="M756.6 382.5L762.5 383.7L756.4 380L750.6 378.6Z" fill="#00d816"/>
<path d="M774.6 391.6L780.4 392.5L774.3 388.6L768.5 387.6Z" fill="#00da20"/>
<path d="M768.5 387.6L774.3 388.6L768.3 384.9L762.5 383.7Z" fill="#00da20"/>
<path d="M762.5 383.7L768.3 384.9L762.3 381.3L756.4 380Z" fill="#00d921"/>
<path class="o" d="M762.8 389.8L768.7 390.7L774.6 391.6L780.4 392.5L774.3 388.6L768.3 384.9L762.3 381.3L756.4 380L750.6 378.6L744.7 377.1L750.7 381.2L756.7 385.4Z"/>
<path d="M401.4 230.6L408.3 230.8L402.9 226.9L396 226.7Z" fill="#fae903"/>
<path d="M396 226.7L402.9 226.9L397.6 222.9L390.6 222.7Z" fill="#fae903"/>
<path d="M390.6 222.7L397.6 222.9L392.2 218.9L385.3 218.8Z" fill="#fae803"/>
<path d="M408.3 230.8L415.2 231L409.8 227.1L402.9 226.9Z" fill="#f7f204"/>
<path d="M402.9 226.9L409.8 227.1L404.4 223.2L397.6 222.9Z" fill="#f7f204"/>
<path d="M397.6 222.9L404.4 223.2L399.1 219.2L392.2 218.9Z" fill="#f7f104"/>
<path d="M415.2 231L422 231.3L416.7 227.4L409.8 227.1Z" fill="#ebf507"/>
<path d="M409.8 227.1L416.7 227.4L411.3 223.5L404.4 223.2Z" fill="#ecf507"/>
<path d="M404.4 223.2L411.3 223.5L405.9 219.5L399.1 219.2Z" fill="#edf506"/>
<path class="o" d="M401.4 230.6L408.3 230.8L415.2 231L422 231.3L416.7 227.4L411.3 223.5L405.9 219.5L399.1 219.2L392.2 218.9L385.3 218.8L390.6 222.7L396 226.7Z"/>
<path d="M672.5 347.4L678.7 348.5L672.8 344.7L666.6 343.5Z" fill="#06d902"/>
<path d="M666.6 343.5L672.8 344.7L666.9 340.9L660.8 339.6Z" fill="#06d902"/>
<path d="M660.8 339.6L666.9 340.9L661.1 337.1L654.9 335.7Z" fill="#06d902"/>
<path d="M678.7 348.5L684.8 349.6L678.9 345.9L672.8 344.7Z" fill="#05d902"/>
<path d="M672.8 344.7L678.9 345.9L673 342.2L666.9 340.9Z" fill="#04d902"/>
<path d="M666.9 340.9L673 342.2L667.2 338.5L661.1 337.1Z" fill="#04d902"/>
<path d="M684.8 349.6L690.9 350.8L685 347.2L678.9 345.9Z" fill="#03d901"/>
<path d="M678.9 345.9L685 347.2L679.1 343.6L673 342.2Z" fill="#03d901"/>
<path d="M673 342.2L679.1 343.6L673.3 340L667.2 338.5Z" fill="#03d801"/>
<path class="o" d="M672.5 347.4L678.7 348.5L684.8 349.6L690.9 350.8L685 347.2L679.1 343.6L673.3 340L667.2 338.5L661.1 337.1L654.9 335.7L660.8 339.6L666.6 343.5Z"/>
<path d="M582.2 304.5L588.6 306.5L582.9 303L576.4 301Z" fill="#2bd407"/>
<path d="M576.4 301L582.9 303L577.1 299.5L570.7 297.6Z" fill="#29d407"/>
<path d="M570.7 297.6L577.1 299.5L571.4 296.1L565 294.1Z" fill="#27d407"/>
<path d="M588.6 306.5L595 308.3L589.2 304.8L582.9 303Z" fill="#15d305"/>
<path d="M582.9 303L589.2 304.8L583.5 301.4L577.1 299.5Z" fill="#13d205"/>
<path d="M577.1 299.5L583.5 301.4L577.8 297.9L571.4 296.1Z" fill="#11d205"/>
<path d="M595 308.3L601.3 310L595.6 306.5L589.2 304.8Z" fill="#0bd405"/>
<path d="M589.2 304.8L595.6 306.5L589.9 303.1L583.5 301.4Z" fill="#0bd404"/>
<path d="M583.5 301.4L589.9 303.1L584.2 299.6L577.8 297.9Z" fill="#0bd404"/>
<path class="o" d="M582.2 304.5L588.6 306.5L595 308.3L601.3 310L595.6 306.5L589.9 303.1L584.2 299.6L577.8 297.9L571.4 296.1L565 294.1L570.7 297.6L576.4 301Z"/>
<path d="M491.7 264.2L498.4 264.7L492.8 261.2L486.1 260.7Z" fill="#abec0c"/>
<path d="M486.1 260.7L492.8 261.2L487.3 257.7L480.6 257.2Z" fill="#a9ec0c"/>
<path d="M480.6 257.2L487.3 257.7L481.8 254.1L475.1 253.7Z" fill="#a7eb0c"/>
<path d="M498.4 264.7L505 265.3L499.5 261.8L492.8 261.2Z" fill="#97e90c"/>
<path d="M492.8 261.2L499.5 261.8L493.9 258.2L487.3 257.7Z" fill="#95e90c"/>
<path d="M487.3 257.7L493.9 258.2L488.4 254.5L481.8 254.1Z" fill="#94e90c"/>
<path d="M505 265.3L511.7 265.9L506.1 262.4L499.5 261.8Z" fill="#83e70b"/>
<path d="M499.5 261.8L506.1 262.4L500.6 258.8L493.9 258.2Z" fill="#82e70b"/>
<path d="M493.9 258.2L500.6 258.8L495.1 255.1L488.4 254.5Z" fill="#81e70b"/>
<path class="o" d="M491.7 264.2L498.4 264.7L505 265.3L511.7 265.9L506.1 262.4L500.6 258.8L495.1 255.1L488.4 254.5L481.8 254.1L475.1 253.7L480.6 257.2L486.1 260.7Z"/>
<path d="M816.8 421.1L822.5 421.8L816.4 416.9L810.7 416Z" fill="#01d93a"/>
<path d="M810.7 416L816.4 416.9L810.4 412L804.6 411Z" fill="#01d937"/>
<path d="M804.6 411L810.4 412L804.3 407.3L798.5 406.1Z" fill="#01d934"/>
<path d="M822.5 421.8L828.3 422.5L822.2 417.7L816.4 416.9Z" fill="#02d849"/>
<path d="M816.4 416.9L822.2 417.7L816.1 413L810.4 412Z" fill="#02d846"/>
<path d="M810.4 412L816.1 413L810 408.4L804.3 407.3Z" fill="#02d844"/>
<path d="M828.3 422.5L834 423.2L827.9 418.6L822.2 417.7Z" fill="#03d858"/>
<path d="M822.2 417.7L827.9 418.6L821.8 414.1L816.1 413Z" fill="#03d856"/>
<path d="M816.1 413L821.8 414.1L815.7 409.6L810 408.4Z" fill="#03d854"/>
<path class="o" d="M816.8 421.1L822.5 421.8L828.3 422.5L834 423.2L827.9 418.6L821.8 414.1L815.7 409.6L810 408.4L804.3 407.3L798.5 406.1L804.6 411L810.7 416Z"/>
<path d="M364.4 219.6L371.4 219.3L366 215.3L359 215.7Z" fill="#ffd100"/>
<path d="M359 215.7L366 215.3L360.7 211.3L353.7 211.7Z" fill="#ffd101"/>
<path d="M353.7 211.7L360.7 211.3L355.4 207.2L348.4 207.7Z" fill="#ffd001"/>
<path d="M371.4 219.3L378.3 219L373 215L366 215.3Z" fill="#ffd700"/>
<path d="M366 215.3L373 215L367.7 210.9L360.7 211.3Z" fill="#ffd700"/>
<path d="M360.7 211.3L367.7 210.9L362.4 206.9L355.4 207.2Z" fill="#ffd601"/>
<path d="M378.3 219L385.3 218.8L379.9 214.8L373 215Z" fill="#fddf01"/>
<path d="M373 215L379.9 214.8L374.6 210.7L367.7 210.9Z" fill="#fdde01"/>
<path d="M367.7 210.9L374.6 210.7L369.3 206.6L362.4 206.9Z" fill="#fddd01"/>
<path class="o" d="M364.4 219.6L371.4 219.3L378.3 219L385.3 218.8L379.9 214.8L374.6 210.7L369.3 206.6L362.4 206.9L355.4 207.2L348.4 207.7L353.7 211.7L359 215.7Z"/>
<path d="M726.7 374.7L732.7 375.4L726.7 371.3L720.7 370.4Z" fill="#02da01"/>
<path d="M720.7 370.4L726.7 371.3L720.7 367.3L714.7 366.2Z" fill="#02da01"/>
<path d="M714.7 366.2L720.7 367.3L714.8 363.3L708.7 362.2Z" fill="#02da01"/>
<path d="M732.7 375.4L738.7 376.2L732.7 372.2L726.7 371.3Z" fill="#01da00"/>
<path d="M726.7 371.3L732.7 372.2L726.7 368.4L720.7 367.3Z" fill="#01da00"/>
<path d="M720.7 367.3L726.7 368.4L720.8 364.6L714.8 363.3Z" fill="#01da00"/>
<path d="M738.7 376.2L744.7 377.1L738.7 373.2L732.7 372.2Z" fill="#00da05"/>
<path d="M732.7 372.2L738.7 373.2L732.7 369.5L726.7 368.4Z" fill="#00da05"/>
<path d="M726.7 368.4L732.7 369.5L726.7 365.8L720.8 364.6Z" fill="#00da06"/>
<path class="o" d="M726.7 374.7L732.7 375.4L738.7 376.2L744.7 377.1L738.7 373.2L732.7 369.5L726.7 365.8L720.8 364.6L714.8 363.3L708.7 362.2L714.7 366.2L720.7 370.4Z"/>
<path d="M253.9 207.1L260.8 200.4L255.8 198.8L249 205.4Z" fill="#ffd86a"/>
<path d="M249 205.4L255.8 198.8L250.8 197.2L244 204Z" fill="#ffda67"/>
<path d="M244 204L250.8 197.2L245.9 195.7L239.1 202.4Z" fill="#ffde69"/>
<path d="M260.8 200.4L267.7 195.4L262.6 192.2L255.8 198.8Z" fill="#ffd368"/>
<path d="M255.8 198.8L262.6 192.2L257.6 190.6L250.8 197.2Z" fill="#ffd668"/>
<path d="M250.8 197.2L257.6 190.6L252.7 188.9L245.9 195.7Z" fill="#ffd96b"/>
<path d="M267.7 195.4L274.8 193.1L269.6 189.4L262.6 192.2Z" fill="#ffc231"/>
<path d="M262.6 192.2L269.6 189.4L264.5 185.6L257.6 190.6Z" fill="#ffcb4d"/>
<path d="M257.6 190.6L264.5 185.6L259.4 182.1L252.7 188.9Z" fill="#ffd56b"/>
<path class="o" d="M253.9 207.1L260.8 200.4L267.7 195.4L274.8 193.1L269.6 189.4L264.5 185.6L259.4 182.1L252.7 188.9L245.9 195.7L239.1 202.4L244 204L249 205.4Z"/>
<path d="M636.1 332L642.4 333.3L636.6 329.6L630.3 328.3Z" fill="#0ad804"/>
<path d="M630.3 328.3L636.6 329.6L630.7 325.9L624.4 324.5Z" fill="#0ad804"/>
<path d="M624.4 324.5L630.7 325.9L624.9 322.2L618.6 320.8Z" fill="#0ad804"/>
<path d="M642.4 333.3L648.7 334.5L642.8 330.9L636.6 329.6Z" fill="#09d904"/>
<path d="M636.6 329.6L642.8 330.9L637 327.3L630.7 325.9Z" fill="#09d904"/>
<path d="M630.7 325.9L637 327.3L631.2 323.6L624.9 322.2Z" fill="#09d904"/>
<path d="M648.7 334.5L654.9 335.7L649 332.2L642.8 330.9Z" fill="#07d903"/>
<path d="M642.8 330.9L649 332.2L643.2 328.6L637 327.3Z" fill="#07d903"/>
<path d="M637 327.3L643.2 328.6L637.4 324.9L631.2 323.6Z" fill="#07d903"/>
<path class="o" d="M636.1 332L642.4 333.3L648.7 334.5L654.9 335.7L649 332.2L643.2 328.6L637.4 324.9L631.2 323.6L624.9 322.2L618.6 320.8L624.4 324.5L630.3 328.3Z"/>
<path d="M454.8 253.7L461.6 253.6L456.1 250L449.3 250.1Z" fill="#dbf209"/>
<path d="M449.3 250.1L456.1 250L450.6 246.3L443.8 246.4Z" fill="#daf209"/>
<path d="M443.8 246.4L450.6 246.3L445.1 242.6L438.3 242.7Z" fill="#d9f20a"/>
<path d="M461.6 253.6L468.3 253.6L462.8 250L456.1 250Z" fill="#caf00c"/>
<path d="M456.1 250L462.8 250L457.3 246.3L450.6 246.3Z" fill="#c9f00c"/>
<path d="M450.6 246.3L457.3 246.3L451.9 242.6L445.1 242.6Z" fill="#c8f00c"/>
<path d="M468.3 253.6L475.1 253.7L469.6 250L462.8 250Z" fill="#b9ee0c"/>
<path d="M462.8 250L469.6 250L464.1 246.3L457.3 246.3Z" fill="#b8ee0c"/>
<path d="M457.3 246.3L464.1 246.3L458.6 242.6L451.9 242.6Z" fill="#b7ed0c"/>
<path class="o" d="M454.8 253.7L461.6 253.6L468.3 253.6L475.1 253.7L469.6 250L464.1 246.3L458.6 242.6L451.9 242.6L445.1 242.6L438.3 242.7L443.8 246.4L449.3 250.1Z"/>
<path d="M327.2 208.8L334.3 208.4L329 204.5L322 205Z" fill="#ffbd01"/>
<path d="M322 205L329 204.5L323.8 200.6L316.7 201.2Z" fill="#ffbd02"/>
<path d="M316.7 201.2L323.8 200.6L318.5 196.8L311.5 197.4Z" fill="#ffbd03"/>
<path d="M334.3 208.4L341.4 208L336.1 204.1L329 204.5Z" fill="#ffc301"/>
<path d="M329 204.5L336.1 204.1L330.8 200.1L323.8 200.6Z" fill="#ffc302"/>
<path d="M323.8 200.6L330.8 200.1L325.6 196.1L318.5 196.8Z" fill="#ffc303"/>
<path d="M341.4 208L348.4 207.7L343.1 203.7L336.1 204.1Z" fill="#ffc901"/>
<path d="M336.1 204.1L343.1 203.7L337.9 199.7L330.8 200.1Z" fill="#ffc901"/>
<path d="M330.8 200.1L337.9 199.7L332.6 195.6L325.6 196.1Z" fill="#ffc903"/>
<path class="o" d="M327.2 208.8L334.3 208.4L341.4 208L348.4 207.7L343.1 203.7L337.9 199.7L332.6 195.6L325.6 196.1L318.5 196.8L311.5 197.4L316.7 201.2L322 205Z"/>
<path d="M545.5 286.7L552 289.2L546.4 285.8L539.8 283.2Z" fill="#6fd60a"/>
<path d="M539.8 283.2L546.4 285.8L540.7 282.3L534.1 279.8Z" fill="#6dd60a"/>
<path d="M534.1 279.8L540.7 282.3L535 278.9L528.5 276.3Z" fill="#6ad60a"/>
<path d="M552 289.2L558.5 291.7L552.9 288.2L546.4 285.8Z" fill="#54d309"/>
<path d="M546.4 285.8L552.9 288.2L547.2 284.8L540.7 282.3Z" fill="#52d309"/>
<path d="M540.7 282.3L547.2 284.8L541.6 281.3L535 278.9Z" fill="#50d309"/>
<path d="M558.5 291.7L565 294.1L559.3 290.7L552.9 288.2Z" fill="#3bd108"/>
<path d="M552.9 288.2L559.3 290.7L553.7 287.2L547.2 284.8Z" fill="#39d008"/>
<path d="M547.2 284.8L553.7 287.2L548.1 283.8L541.6 281.3Z" fill="#38d008"/>
<path class="o" d="M545.5 286.7L552 289.2L558.5 291.7L565 294.1L559.3 290.7L553.7 287.2L548.1 283.8L541.6 281.3L535 278.9L528.5 276.3L534.1 279.8L539.8 283.2Z"/>
<path d="M290.3 203.7L297.4 201.7L292.2 198.1L285.1 200.2Z" fill="#ffbf24"/>
<path d="M285.1 200.2L292.2 198.1L287 194.5L279.9 196.6Z" fill="#ffc026"/>
<path d="M279.9 196.6L287 194.5L281.8 190.8L274.8 193.1Z" fill="#ffc129"/>
<path d="M297.4 201.7L304.4 199.6L299.2 195.9L292.2 198.1Z" fill="#ffc228"/>
<path d="M292.2 198.1L299.2 195.9L294 192.2L287 194.5Z" fill="#ffc32a"/>
<path d="M287 194.5L294 192.2L288.9 188.5L281.8 190.8Z" fill="#ffc42d"/>
<path d="M304.4 199.6L311.5 197.4L306.3 193.6L299.2 195.9Z" fill="#ffc42a"/>
<path d="M299.2 195.9L306.3 193.6L301.1 189.8L294 192.2Z" fill="#ffc52e"/>
<path d="M294 192.2L301.1 189.8L295.9 186.1L288.9 188.5Z" fill="#ffc631"/>
<path class="o" d="M290.3 203.7L297.4 201.7L304.4 199.6L311.5 197.4L306.3 193.6L301.1 189.8L295.9 186.1L288.9 188.5L281.8 190.8L274.8 193.1L279.9 196.6L285.1 200.2Z"/>
<path d="M780.9 404.9L786.8 405.3L780.8 400.4L774.8 399.8Z" fill="#00da12"/>
<path d="M774.8 399.8L780.8 400.4L774.7 395.5L768.8 394.7Z" fill="#00da10"/>
<path d="M768.8 394.7L774.7 395.5L768.7 390.7L762.8 389.8Z" fill="#00da0e"/>
<path d="M786.8 405.3L792.7 405.7L786.6 400.9L780.8 400.4Z" fill="#00da19"/>
<path d="M780.8 400.4L786.6 400.9L780.6 396.2L774.7 395.5Z" fill="#00da18"/>
<path d="M774.7 395.5L780.6 396.2L774.6 391.6L768.7 390.7Z" fill="#00da17"/>
<path d="M792.7 405.7L798.5 406.1L792.5 401.5L786.6 400.9Z" fill="#00da23"/>
<path d="M786.6 400.9L792.5 401.5L786.4 396.9L780.6 396.2Z" fill="#00da21"/>
<path d="M780.6 396.2L786.4 396.9L780.4 392.5L774.6 391.6Z" fill="#00da20"/>
<path class="o" d="M780.9 404.9L786.8 405.3L792.7 405.7L798.5 406.1L792.5 401.5L786.4 396.9L780.4 392.5L774.6 391.6L768.7 390.7L762.8 389.8L768.8 394.7L774.8 399.8Z"/>
<path d="M233.5 228.6L240.3 221.2L235.4 219.5L228.6 226.9Z" fill="#ffe870"/>
<path d="M228.6 226.9L235.4 219.5L230.5 218L223.7 225.3Z" fill="#ffea6c"/>
<path d="M223.7 225.3L230.5 218L225.6 216.5L218.9 223.8Z" fill="#feed6c"/>
<path d="M240.3 221.2L247.1 214.1L242.2 212.4L235.4 219.5Z" fill="#ffe36f"/>
<path d="M235.4 219.5L242.2 212.4L237.3 210.9L230.5 218Z" fill="#ffe56a"/>
<path d="M230.5 218L237.3 210.9L232.4 209.3L225.6 216.5Z" fill="#ffe86a"/>
<path d="M247.1 214.1L253.9 207.1L249 205.4L242.2 212.4Z" fill="#ffdd6c"/>
<path d="M242.2 212.4L249 205.4L244 204L237.3 210.9Z" fill="#ffdf68"/>
<path d="M237.3 210.9L244 204L239.1 202.4L232.4 209.3Z" fill="#ffe269"/>
<path class="o" d="M233.5 228.6L240.3 221.2L247.1 214.1L253.9 207.1L249 205.4L244 204L239.1 202.4L232.4 209.3L225.6 216.5L218.9 223.8L223.7 225.3L228.6 226.9Z"/>
<path d="M417.7 242.1L424.6 242.2L419.2 238.5L412.2 238.3Z" fill="#fae903"/>
<path d="M412.2 238.3L419.2 238.5L413.7 234.6L406.8 234.5Z" fill="#fae903"/>
<path d="M406.8 234.5L413.7 234.6L408.3 230.8L401.4 230.6Z" fill="#fae903"/>
<path d="M424.6 242.2L431.5 242.4L426 238.7L419.2 238.5Z" fill="#f7f204"/>
<path d="M419.2 238.5L426 238.7L420.6 234.8L413.7 234.6Z" fill="#f7f204"/>
<path d="M413.7 234.6L420.6 234.8L415.2 231L408.3 230.8Z" fill="#f7f204"/>
<path d="M431.5 242.4L438.3 242.7L432.9 238.9L426 238.7Z" fill="#ebf407"/>
<path d="M426 238.7L432.9 238.9L427.4 235.1L420.6 234.8Z" fill="#eaf407"/>
<path d="M420.6 234.8L427.4 235.1L422 231.3L415.2 231Z" fill="#ebf407"/>
<path class="o" d="M417.7 242.1L424.6 242.2L431.5 242.4L438.3 242.7L432.9 238.9L427.4 235.1L422 231.3L415.2 231L408.3 230.8L401.4 230.6L406.8 234.5L412.2 238.3Z"/>
<path d="M690.3 359.9L696.5 360.6L690.6 356.5L684.4 355.7Z" fill="#06d902"/>
<path d="M684.4 355.7L690.6 356.5L684.6 352.5L678.5 351.5Z" fill="#06d903"/>
<path d="M678.5 351.5L684.6 352.5L678.7 348.5L672.5 347.4Z" fill="#06d903"/>
<path d="M696.5 360.6L702.6 361.4L696.7 357.4L690.6 356.5Z" fill="#05d902"/>
<path d="M690.6 356.5L696.7 357.4L690.7 353.5L684.6 352.5Z" fill="#05d902"/>
<path d="M684.6 352.5L690.7 353.5L684.8 349.6L678.7 348.5Z" fill="#05d902"/>
<path d="M702.6 361.4L708.7 362.2L702.8 358.4L696.7 357.4Z" fill="#03d901"/>
<path d="M696.7 357.4L702.8 358.4L696.8 354.6L690.7 353.5Z" fill="#03d901"/>
<path d="M690.7 353.5L696.8 354.6L690.9 350.8L684.8 349.6Z" fill="#03d901"/>
<path class="o" d="M690.3 359.9L696.5 360.6L702.6 361.4L708.7 362.2L702.8 358.4L696.8 354.6L690.9 350.8L684.8 349.6L678.7 348.5L672.5 347.4L678.5 351.5L684.4 355.7Z"/>
<path d="M835.1 436.9L840.9 437.1L834.8 432L829 431.6Z" fill="#02d844"/>
<path d="M829 431.6L834.8 432L828.6 426.9L822.9 426.3Z" fill="#02d940"/>
<path d="M822.9 426.3L828.6 426.9L822.5 421.8L816.8 421.1Z" fill="#02d93d"/>
<path d="M840.9 437.1L846.7 437.3L840.5 432.4L834.8 432Z" fill="#03d851"/>
<path d="M834.8 432L840.5 432.4L834.4 427.4L828.6 426.9Z" fill="#02d84e"/>
<path d="M828.6 426.9L834.4 427.4L828.3 422.5L822.5 421.8Z" fill="#02d84c"/>
<path d="M846.7 437.3L852.4 437.5L846.2 432.7L840.5 432.4Z" fill="#03d75f"/>
<path d="M840.5 432.4L846.2 432.7L840.1 428L834.4 427.4Z" fill="#03d75c"/>
<path d="M834.4 427.4L840.1 428L834 423.2L828.3 422.5Z" fill="#03d85a"/>
<path class="o" d="M835.1 436.9L840.9 437.1L846.7 437.3L852.4 437.5L846.2 432.7L840.1 428L834 423.2L828.3 422.5L822.5 421.8L816.8 421.1L822.9 426.3L829 431.6Z"/>
<path d="M213.2 252.1L220 244.2L215.1 242.4L208.3 250.2Z" fill="#fdfa75"/>
<path d="M208.3 250.2L215.1 242.4L210.2 240.6L203.5 248.3Z" fill="#fbfc74"/>
<path d="M203.5 248.3L210.2 240.6L205.4 238.8L198.6 246.5Z" fill="#f8fc72"/>
<path d="M220 244.2L226.8 236.3L221.8 234.6L215.1 242.4Z" fill="#fdf473"/>
<path d="M215.1 242.4L221.8 234.6L217 232.9L210.2 240.6Z" fill="#fdf772"/>
<path d="M210.2 240.6L217 232.9L212.1 231.2L205.4 238.8Z" fill="#fdf971"/>
<path d="M226.8 236.3L233.5 228.6L228.6 226.9L221.8 234.6Z" fill="#feee71"/>
<path d="M221.8 234.6L228.6 226.9L223.7 225.3L217 232.9Z" fill="#fef06f"/>
<path d="M217 232.9L223.7 225.3L218.9 223.8L212.1 231.2Z" fill="#fdf36e"/>
<path class="o" d="M213.2 252.1L220 244.2L226.8 236.3L233.5 228.6L228.6 226.9L223.7 225.3L218.9 223.8L212.1 231.2L205.4 238.8L198.6 246.5L203.5 248.3L208.3 250.2Z"/>
<path d="M599.5 315.6L605.9 317.4L600.1 313.8L593.7 311.9Z" fill="#30d707"/>
<path d="M593.7 311.9L600.1 313.8L594.4 310.1L587.9 308.2Z" fill="#2ed607"/>
<path d="M587.9 308.2L594.4 310.1L588.6 306.5L582.2 304.5Z" fill="#2dd607"/>
<path d="M605.9 317.4L612.3 319.2L606.5 315.5L600.1 313.8Z" fill="#1ad506"/>
<path d="M600.1 313.8L606.5 315.5L600.7 311.9L594.4 310.1Z" fill="#18d406"/>
<path d="M594.4 310.1L600.7 311.9L595 308.3L588.6 306.5Z" fill="#17d406"/>
<path d="M612.3 319.2L618.6 320.8L612.8 317.2L606.5 315.5Z" fill="#0bd405"/>
<path d="M606.5 315.5L612.8 317.2L607.1 313.6L600.7 311.9Z" fill="#0bd405"/>
<path d="M600.7 311.9L607.1 313.6L601.3 310L595 308.3Z" fill="#0bd405"/>
<path class="o" d="M599.5 315.6L605.9 317.4L612.3 319.2L618.6 320.8L612.8 317.2L607.1 313.6L601.3 310L595 308.3L588.6 306.5L582.2 304.5L587.9 308.2L593.7 311.9Z"/>
<path d="M508.5 274.3L515.2 274.9L509.6 271.5L502.9 270.9Z" fill="#b3ed0c"/>
<path d="M502.9 270.9L509.6 271.5L504 268.1L497.3 267.6Z" fill="#b0ec0c"/>
<path d="M497.3 267.6L504 268.1L498.4 264.7L491.7 264.2Z" fill="#adec0c"/>
<path d="M515.2 274.9L521.9 275.6L516.2 272.2L509.6 271.5Z" fill="#9eea0c"/>
<path d="M509.6 271.5L516.2 272.2L510.6 268.7L504 268.1Z" fill="#9bea0c"/>
<path d="M504 268.1L510.6 268.7L505 265.3L498.4 264.7Z" fill="#99e90c"/>
<path d="M521.9 275.6L528.5 276.3L522.9 272.9L516.2 272.2Z" fill="#89e80b"/>
<path d="M516.2 272.2L522.9 272.9L517.2 269.4L510.6 268.7Z" fill="#87e70b"/>
<path d="M510.6 268.7L517.2 269.4L511.7 265.9L505 265.3Z" fill="#85e70b"/>
<path class="o" d="M508.5 274.3L515.2 274.9L521.9 275.6L528.5 276.3L522.9 272.9L517.2 269.4L511.7 265.9L505 265.3L498.4 264.7L491.7 264.2L497.3 267.6L502.9 270.9Z"/>
<path d="M380.5 231.4L387.5 231.1L382.1 227.2L375.1 227.5Z" fill="#ffd200"/>
<path d="M375.1 227.5L382.1 227.2L376.7 223.3L369.7 223.6Z" fill="#ffd200"/>
<path d="M369.7 223.6L376.7 223.3L371.4 219.3L364.4 219.6Z" fill="#ffd100"/>
<path d="M387.5 231.1L394.5 230.8L389.1 226.9L382.1 227.2Z" fill="#fed900"/>
<path d="M382.1 227.2L389.1 226.9L383.7 223L376.7 223.3Z" fill="#ffd800"/>
<path d="M376.7 223.3L383.7 223L378.3 219L371.4 219.3Z" fill="#ffd800"/>
<path d="M394.5 230.8L401.4 230.6L396 226.7L389.1 226.9Z" fill="#fce002"/>
<path d="M389.1 226.9L396 226.7L390.6 222.7L383.7 223Z" fill="#fce001"/>
<path d="M383.7 223L390.6 222.7L385.3 218.8L378.3 219Z" fill="#fce001"/>
<path class="o" d="M380.5 231.4L387.5 231.1L394.5 230.8L401.4 230.6L396 226.7L390.6 222.7L385.3 218.8L378.3 219L371.4 219.3L364.4 219.6L369.7 223.6L375.1 227.5Z"/>
<path d="M192.9 275.4L199.6 267.6L194.8 265.7L188 273.6Z" fill="#e8fb73"/>
<path d="M188 273.6L194.8 265.7L189.9 263.7L183.2 271.7Z" fill="#e5fb74"/>
<path d="M183.2 271.7L189.9 263.7L185.1 261.9L178.4 269.9Z" fill="#e2fa73"/>
<path d="M199.6 267.6L206.4 259.8L201.6 257.9L194.8 265.7Z" fill="#f0fb73"/>
<path d="M194.8 265.7L201.6 257.9L196.7 256L189.9 263.7Z" fill="#edfb74"/>
<path d="M189.9 263.7L196.7 256L191.9 254.2L185.1 261.9Z" fill="#e9fb73"/>
<path d="M206.4 259.8L213.2 252.1L208.3 250.2L201.6 257.9Z" fill="#f8fc74"/>
<path d="M201.6 257.9L208.3 250.2L203.5 248.3L196.7 256Z" fill="#f4fc75"/>
<path d="M196.7 256L203.5 248.3L198.6 246.5L191.9 254.2Z" fill="#f1fb73"/>
<path class="o" d="M192.9 275.4L199.6 267.6L206.4 259.8L213.2 252.1L208.3 250.2L203.5 248.3L198.6 246.5L191.9 254.2L185.1 261.9L178.4 269.9L183.2 271.7L188 273.6Z"/>
<path d="M172.6 300L179.3 291.6L174.5 290.2L167.8 298.8Z" fill="#c4f867"/>
<path d="M167.8 298.8L174.5 290.2L169.8 288.8L163.1 297.6Z" fill="#bdf867"/>
<path d="M163.1 297.6L169.8 288.8L165.1 287.3L158.4 296.3Z" fill="#b8f769"/>
<path d="M179.3 291.6L186.1 283.4L181.3 281.8L174.5 290.2Z" fill="#d3f96c"/>
<path d="M174.5 290.2L181.3 281.8L176.5 280.1L169.8 288.8Z" fill="#cdf96d"/>
<path d="M169.8 288.8L176.5 280.1L171.7 278.5L165.1 287.3Z" fill="#c7f86d"/>
<path d="M186.1 283.4L192.9 275.4L188 273.6L181.3 281.8Z" fill="#e0fa70"/>
<path d="M181.3 281.8L188 273.6L183.2 271.7L176.5 280.1Z" fill="#dcfa72"/>
<path d="M176.5 280.1L183.2 271.7L178.4 269.9L171.7 278.5Z" fill="#d6fa72"/>
<path class="o" d="M172.6 300L179.3 291.6L186.1 283.4L192.9 275.4L188 273.6L183.2 271.7L178.4 269.9L171.7 278.5L165.1 287.3L158.4 296.3L163.1 297.6L167.8 298.8Z"/>
<path d="M744.8 388.8L750.8 389.1L744.8 384.4L738.7 384Z" fill="#02da01"/>
<path d="M738.7 384L744.8 384.4L738.7 379.8L732.7 379.3Z" fill="#02da01"/>
<path d="M732.7 379.3L738.7 379.8L732.7 375.4L726.7 374.7Z" fill="#02da01"/>
<path d="M750.8 389.1L756.8 389.4L750.8 384.9L744.8 384.4Z" fill="#00da00"/>
<path d="M744.8 384.4L750.8 384.9L744.7 380.5L738.7 379.8Z" fill="#00da00"/>
<path d="M738.7 379.8L744.7 380.5L738.7 376.2L732.7 375.4Z" fill="#01da00"/>
<path d="M756.8 389.4L762.8 389.8L756.7 385.4L750.8 384.9Z" fill="#00da06"/>
<path d="M750.8 384.9L756.7 385.4L750.7 381.2L744.7 380.5Z" fill="#00da05"/>
<path d="M744.7 380.5L750.7 381.2L744.7 377.1L738.7 376.2Z" fill="#00da05"/>
<path class="o" d="M744.8 388.8L750.8 389.1L756.8 389.4L762.8 389.8L756.7 385.4L750.7 381.2L744.7 377.1L738.7 376.2L732.7 375.4L726.7 374.7L732.7 379.3L738.7 384Z"/>
<path d="M152.3 325.7L159.1 317L154.4 316L147.7 324.8Z" fill="#9ef65c"/>
<path d="M147.7 324.8L154.4 316L149.8 315.2L143.1 324Z" fill="#97f65a"/>
<path d="M143.1 324L149.8 315.2L145.2 314.1L138.5 323Z" fill="#95f660"/>
<path d="M159.1 317L165.8 308.4L161.1 307.4L154.4 316Z" fill="#a9f65e"/>
<path d="M154.4 316L161.1 307.4L156.5 306.4L149.8 315.2Z" fill="#a3f65d"/>
<path d="M149.8 315.2L156.5 306.4L151.8 305.2L145.2 314.1Z" fill="#a1f662"/>
<path d="M165.8 308.4L172.6 300L167.8 298.8L161.1 307.4Z" fill="#b4f762"/>
<path d="M161.1 307.4L167.8 298.8L163.1 297.6L156.5 306.4Z" fill="#aff762"/>
<path d="M156.5 306.4L163.1 297.6L158.4 296.3L151.8 305.2Z" fill="#acf765"/>
<path class="o" d="M152.3 325.7L159.1 317L165.8 308.4L172.6 300L167.8 298.8L163.1 297.6L158.4 296.3L151.8 305.2L145.2 314.1L138.5 323L143.1 324L147.7 324.8Z"/>
<path d="M653.8 344.7L660.1 345.6L654.2 341.5L647.9 340.4Z" fill="#0ad804"/>
<path d="M647.9 340.4L654.2 341.5L648.3 337.4L642 336.2Z" fill="#0ad804"/>
<path d="M642 336.2L648.3 337.4L642.4 333.3L636.1 332Z" fill="#0ad804"/>
<path d="M660.1 345.6L666.3 346.5L660.4 342.5L654.2 341.5Z" fill="#09d904"/>
<path d="M654.2 341.5L660.4 342.5L654.5 338.5L648.3 337.4Z" fill="#09d904"/>
<path d="M648.3 337.4L654.5 338.5L648.7 334.5L642.4 333.3Z" fill="#09d904"/>
<path d="M666.3 346.5L672.5 347.4L666.6 343.5L660.4 342.5Z" fill="#07d903"/>
<path d="M660.4 342.5L666.6 343.5L660.8 339.6L654.5 338.5Z" fill="#07d903"/>
<path d="M654.5 338.5L660.8 339.6L654.9 335.7L648.7 334.5Z" fill="#07d903"/>
<path class="o" d="M653.8 344.7L660.1 345.6L666.3 346.5L672.5 347.4L666.6 343.5L660.8 339.6L654.9 335.7L648.7 334.5L642.4 333.3L636.1 332L642 336.2L647.9 340.4Z"/>
<path d="M471.4 264.2L478.2 264L472.6 260.6L465.8 260.7Z" fill="#e1f308"/>
<path d="M465.8 260.7L472.6 260.6L467.1 257.1L460.3 257.2Z" fill="#dff309"/>
<path d="M460.3 257.2L467.1 257.1L461.6 253.6L454.8 253.7Z" fill="#ddf309"/>
<path d="M478.2 264L485 264L479.4 260.6L472.6 260.6Z" fill="#d0f10b"/>
<path d="M472.6 260.6L479.4 260.6L473.9 257.1L467.1 257.1Z" fill="#cdf00b"/>
<path d="M467.1 257.1L473.9 257.1L468.3 253.6L461.6 253.6Z" fill="#ccf00c"/>
<path d="M485 264L491.7 264.2L486.1 260.7L479.4 260.6Z" fill="#beee0c"/>
<path d="M479.4 260.6L486.1 260.7L480.6 257.2L473.9 257.1Z" fill="#bcee0c"/>
<path d="M473.9 257.1L480.6 257.2L475.1 253.7L468.3 253.6Z" fill="#baee0c"/>
<path class="o" d="M471.4 264.2L478.2 264L485 264L491.7 264.2L486.1 260.7L480.6 257.2L475.1 253.7L468.3 253.6L461.6 253.6L454.8 253.7L460.3 257.2L465.8 260.7Z"/>
<path d="M343.2 220.3L350.3 220.1L344.9 216.2L337.8 216.5Z" fill="#ffbd00"/>
<path d="M337.8 216.5L344.9 216.2L339.6 212.3L332.5 212.6Z" fill="#ffbd00"/>
<path d="M332.5 212.6L339.6 212.3L334.3 208.4L327.2 208.8Z" fill="#ffbd00"/>
<path d="M350.3 220.1L357.3 219.8L352 215.9L344.9 216.2Z" fill="#ffc400"/>
<path d="M344.9 216.2L352 215.9L346.7 212L339.6 212.3Z" fill="#ffc400"/>
<path d="M339.6 212.3L346.7 212L341.4 208L334.3 208.4Z" fill="#ffc300"/>
<path d="M357.3 219.8L364.4 219.6L359 215.7L352 215.9Z" fill="#ffca00"/>
<path d="M352 215.9L359 215.7L353.7 211.7L346.7 212Z" fill="#ffca00"/>
<path d="M346.7 212L353.7 211.7L348.4 207.7L341.4 208Z" fill="#ffca00"/>
<path class="o" d="M343.2 220.3L350.3 220.1L357.3 219.8L364.4 219.6L359 215.7L353.7 211.7L348.4 207.7L341.4 208L334.3 208.4L327.2 208.8L332.5 212.6L337.8 216.5Z"/>
<path d="M269.1 213.8L276.1 208.3L270.9 204.7L264 211.4Z" fill="#ffd576"/>
<path d="M264 211.4L270.9 204.7L265.8 202.4L259 209.1Z" fill="#ffd879"/>
<path d="M259 209.1L265.8 202.4L260.8 200.4L253.9 207.1Z" fill="#ffd872"/>
<path d="M276.1 208.3L283.2 206L278 202.5L270.9 204.7Z" fill="#ffbc27"/>
<path d="M270.9 204.7L278 202.5L272.8 199L265.8 202.4Z" fill="#ffc134"/>
<path d="M265.8 202.4L272.8 199L267.7 195.4L260.8 200.4Z" fill="#ffca50"/>
<path d="M283.2 206L290.3 203.7L285.1 200.2L278 202.5Z" fill="#ffbf2b"/>
<path d="M278 202.5L285.1 200.2L279.9 196.6L272.8 199Z" fill="#ffc02c"/>
<path d="M272.8 199L279.9 196.6L274.8 193.1L267.7 195.4Z" fill="#ffc02d"/>
<path class="o" d="M269.1 213.8L276.1 208.3L283.2 206L290.3 203.7L285.1 200.2L279.9 196.6L274.8 193.1L267.7 195.4L260.8 200.4L253.9 207.1L259 209.1L264 211.4Z"/>
<path d="M799.1 421.1L805 421.1L798.9 415.8L793 415.6Z" fill="#00da18"/>
<path d="M793 415.6L798.9 415.8L792.9 410.5L787 410.2Z" fill="#00da16"/>
<path d="M787 410.2L792.9 410.5L786.8 405.3L780.9 404.9Z" fill="#00da14"/>
<path d="M805 421.1L810.9 421.1L804.8 415.9L798.9 415.8Z" fill="#00da20"/>
<path d="M798.9 415.8L804.8 415.9L798.8 410.8L792.9 410.5Z" fill="#00da1d"/>
<path d="M792.9 410.5L798.8 410.8L792.7 405.7L786.8 405.3Z" fill="#00da1b"/>
<path d="M810.9 421.1L816.8 421.1L810.7 416L804.8 415.9Z" fill="#01d92c"/>
<path d="M804.8 415.9L810.7 416L804.6 411L798.8 410.8Z" fill="#01da29"/>
<path d="M798.8 410.8L804.6 411L798.5 406.1L792.7 405.7Z" fill="#00da26"/>
<path class="o" d="M799.1 421.1L805 421.1L810.9 421.1L816.8 421.1L810.7 416L804.6 411L798.5 406.1L792.7 405.7L786.8 405.3L780.9 404.9L787 410.2L793 415.6Z"/>
<path d="M562.7 297.5L569.2 299.9L563.5 296.3L556.9 293.9Z" fill="#76d90a"/>
<path d="M556.9 293.9L563.5 296.3L557.7 292.7L551.2 290.3Z" fill="#73d80a"/>
<path d="M551.2 290.3L557.7 292.7L552 289.2L545.5 286.7Z" fill="#71d70a"/>
<path d="M569.2 299.9L575.7 302.2L570 298.7L563.5 296.3Z" fill="#5ad509"/>
<path d="M563.5 296.3L570 298.7L564.3 295.2L557.7 292.7Z" fill="#58d509"/>
<path d="M557.7 292.7L564.3 295.2L558.5 291.7L552 289.2Z" fill="#56d409"/>
<path d="M575.7 302.2L582.2 304.5L576.4 301L570 298.7Z" fill="#41d208"/>
<path d="M570 298.7L576.4 301L570.7 297.6L564.3 295.2Z" fill="#3fd208"/>
<path d="M564.3 295.2L570.7 297.6L565 294.1L558.5 291.7Z" fill="#3dd108"/>
<path class="o" d="M562.7 297.5L569.2 299.9L575.7 302.2L582.2 304.5L576.4 301L570.7 297.6L565 294.1L558.5 291.7L552 289.2L545.5 286.7L551.2 290.3L556.9 293.9Z"/>
<path d="M306 214.6L313.1 212.7L307.8 209L300.7 211Z" fill="#ffbc1f"/>
<path d="M300.7 211L307.8 209L302.6 205.3L295.5 207.3Z" fill="#ffbd21"/>
<path d="M295.5 207.3L302.6 205.3L297.4 201.7L290.3 203.7Z" fill="#ffbe22"/>
<path d="M313.1 212.7L320.2 210.8L314.9 207L307.8 209Z" fill="#ffbf21"/>
<path d="M307.8 209L314.9 207L309.7 203.3L302.6 205.3Z" fill="#ffc023"/>
<path d="M302.6 205.3L309.7 203.3L304.4 199.6L297.4 201.7Z" fill="#ffc125"/>
<path d="M320.2 210.8L327.2 208.8L322 205L314.9 207Z" fill="#ffc223"/>
<path d="M314.9 207L322 205L316.7 201.2L309.7 203.3Z" fill="#ffc325"/>
<path d="M309.7 203.3L316.7 201.2L311.5 197.4L304.4 199.6Z" fill="#ffc428"/>
<path class="o" d="M306 214.6L313.1 212.7L320.2 210.8L327.2 208.8L322 205L316.7 201.2L311.5 197.4L304.4 199.6L297.4 201.7L290.3 203.7L295.5 207.3L300.7 211Z"/>
<path d="M434.2 253.3L441.1 253.4L435.6 249.7L428.6 249.6Z" fill="#fae803"/>
<path d="M428.6 249.6L435.6 249.7L430.1 246L423.2 245.9Z" fill="#fae903"/>
<path d="M423.2 245.9L430.1 246L424.6 242.2L417.7 242.1Z" fill="#fae903"/>
<path d="M441.1 253.4L447.9 253.5L442.4 249.8L435.6 249.7Z" fill="#f7f104"/>
<path d="M435.6 249.7L442.4 249.8L436.9 246.2L430.1 246Z" fill="#f7f204"/>
<path d="M430.1 246L436.9 246.2L431.5 242.4L424.6 242.2Z" fill="#f7f204"/>
<path d="M447.9 253.5L454.8 253.7L449.3 250.1L442.4 249.8Z" fill="#edf506"/>
<path d="M442.4 249.8L449.3 250.1L443.8 246.4L436.9 246.2Z" fill="#ecf507"/>
<path d="M436.9 246.2L443.8 246.4L438.3 242.7L431.5 242.4Z" fill="#ebf507"/>
<path class="o" d="M434.2 253.3L441.1 253.4L447.9 253.5L454.8 253.7L449.3 250.1L443.8 246.4L438.3 242.7L431.5 242.4L424.6 242.2L417.7 242.1L423.2 245.9L428.6 249.6Z"/>
<path d="M708.3 373.9L714.5 374.1L708.5 369.5L702.3 369.1Z" fill="#06d902"/>
<path d="M702.3 369.1L708.5 369.5L702.5 365L696.3 364.5Z" fill="#06d902"/>
<path d="M696.3 364.5L702.5 365L696.5 360.6L690.3 359.9Z" fill="#06d902"/>
<path d="M714.5 374.1L720.6 374.4L714.6 369.9L708.5 369.5Z" fill="#04d902"/>
<path d="M708.5 369.5L714.6 369.9L708.6 365.6L702.5 365Z" fill="#05d902"/>
<path d="M702.5 365L708.6 365.6L702.6 361.4L696.5 360.6Z" fill="#05d902"/>
<path d="M720.6 374.4L726.7 374.7L720.7 370.4L714.6 369.9Z" fill="#03d901"/>
<path d="M714.6 369.9L720.7 370.4L714.7 366.2L708.6 365.6Z" fill="#03d901"/>
<path d="M708.6 365.6L714.7 366.2L708.7 362.2L702.6 361.4Z" fill="#03d901"/>
<path class="o" d="M708.3 373.9L714.5 374.1L720.6 374.4L726.7 374.7L720.7 370.4L714.7 366.2L708.7 362.2L702.6 361.4L696.5 360.6L690.3 359.9L696.3 364.5L702.3 369.1Z"/>
<path d="M617.1 327.8L623.5 329.2L617.6 325.3L611.2 323.7Z" fill="#32dd08"/>
<path d="M611.2 323.7L617.6 325.3L611.8 321.4L605.4 319.7Z" fill="#32db08"/>
<path d="M605.4 319.7L611.8 321.4L605.9 317.4L599.5 315.6Z" fill="#31da08"/>
<path d="M623.5 329.2L629.8 330.7L624 326.8L617.6 325.3Z" fill="#1cda06"/>
<path d="M617.6 325.3L624 326.8L618.1 323L611.8 321.4Z" fill="#1cd806"/>
<path d="M611.8 321.4L618.1 323L612.3 319.2L605.9 317.4Z" fill="#1bd706"/>
<path d="M629.8 330.7L636.1 332L630.3 328.3L624 326.8Z" fill="#0cd805"/>
<path d="M624 326.8L630.3 328.3L624.4 324.5L618.1 323Z" fill="#0cd705"/>
<path d="M618.1 323L624.4 324.5L618.6 320.8L612.3 319.2Z" fill="#0bd605"/>
<path class="o" d="M617.1 327.8L623.5 329.2L629.8 330.7L636.1 332L630.3 328.3L624.4 324.5L618.6 320.8L612.3 319.2L605.9 317.4L599.5 315.6L605.4 319.7L611.2 323.7Z"/>
<path d="M248.6 235.1L255.4 227.9L250.4 225.5L243.5 232.8Z" fill="#ffe47c"/>
<path d="M243.5 232.8L250.4 225.5L245.3 223.3L238.5 230.6Z" fill="#ffe67b"/>
<path d="M238.5 230.6L245.3 223.3L240.3 221.2L233.5 228.6Z" fill="#ffe777"/>
<path d="M255.4 227.9L262.3 220.8L257.2 218.4L250.4 225.5Z" fill="#ffe07d"/>
<path d="M250.4 225.5L257.2 218.4L252.1 216.1L245.3 223.3Z" fill="#ffe17b"/>
<path d="M245.3 223.3L252.1 216.1L247.1 214.1L240.3 221.2Z" fill="#ffe276"/>
<path d="M262.3 220.8L269.1 213.8L264 211.4L257.2 218.4Z" fill="#ffdb7c"/>
<path d="M257.2 218.4L264 211.4L259 209.1L252.1 216.1Z" fill="#ffdd7a"/>
<path d="M252.1 216.1L259 209.1L253.9 207.1L247.1 214.1Z" fill="#ffdd75"/>
<path class="o" d="M248.6 235.1L255.4 227.9L262.3 220.8L269.1 213.8L264 211.4L259 209.1L253.9 207.1L247.1 214.1L240.3 221.2L233.5 228.6L238.5 230.6L243.5 232.8Z"/>
<path d="M396.8 243.1L403.8 242.7L398.3 238.9L391.3 239.2Z" fill="#ffd200"/>
<path d="M391.3 239.2L398.3 238.9L392.9 235L385.9 235.3Z" fill="#ffd200"/>
<path d="M385.9 235.3L392.9 235L387.5 231.1L380.5 231.4Z" fill="#ffd200"/>
<path d="M403.8 242.7L410.8 242.4L405.3 238.6L398.3 238.9Z" fill="#fed900"/>
<path d="M398.3 238.9L405.3 238.6L399.9 234.7L392.9 235Z" fill="#fed900"/>
<path d="M392.9 235L399.9 234.7L394.5 230.8L387.5 231.1Z" fill="#fed900"/>
<path d="M410.8 242.4L417.7 242.1L412.2 238.3L405.3 238.6Z" fill="#fce102"/>
<path d="M405.3 238.6L412.2 238.3L406.8 234.5L399.9 234.7Z" fill="#fce102"/>
<path d="M399.9 234.7L406.8 234.5L401.4 230.6L394.5 230.8Z" fill="#fce102"/>
<path class="o" d="M396.8 243.1L403.8 242.7L410.8 242.4L417.7 242.1L412.2 238.3L406.8 234.5L401.4 230.6L394.5 230.8L387.5 231.1L380.5 231.4L385.9 235.3L391.3 239.2Z"/>
<path d="M525.5 284.6L532.2 285.3L526.5 281.7L519.8 281.1Z" fill="#bbee0c"/>
<path d="M519.8 281.1L526.5 281.7L520.9 278.3L514.2 277.6Z" fill="#b8ee0c"/>
<path d="M514.2 277.6L520.9 278.3L515.2 274.9L508.5 274.3Z" fill="#b6ed0c"/>
<path d="M532.2 285.3L538.9 286L533.2 282.5L526.5 281.7Z" fill="#a6eb0c"/>
<path d="M526.5 281.7L533.2 282.5L527.5 279L520.9 278.3Z" fill="#a3eb0c"/>
<path d="M520.9 278.3L527.5 279L521.9 275.6L515.2 274.9Z" fill="#a1ea0c"/>
<path d="M538.9 286L545.5 286.7L539.8 283.2L533.2 282.5Z" fill="#90e80c"/>
<path d="M533.2 282.5L539.8 283.2L534.1 279.8L527.5 279Z" fill="#8ee80c"/>
<path d="M527.5 279L534.1 279.8L528.5 276.3L521.9 275.6Z" fill="#8ce80c"/>
<path class="o" d="M525.5 284.6L532.2 285.3L538.9 286L545.5 286.7L539.8 283.2L534.1 279.8L528.5 276.3L521.9 275.6L515.2 274.9L508.5 274.3L514.2 277.6L519.8 281.1Z"/>
<path d="M762.8 405.5L768.9 405.3L762.8 399.8L756.8 399.9Z" fill="#00da00"/>
<path d="M756.8 399.9L762.8 399.8L756.8 394.4L750.8 394.3Z" fill="#01da00"/>
<path d="M750.8 394.3L756.8 394.4L750.8 389.1L744.8 388.8Z" fill="#01da01"/>
<path d="M768.9 405.3L774.9 405.1L768.9 399.8L762.8 399.8Z" fill="#00da04"/>
<path d="M762.8 399.8L768.9 399.8L762.8 394.6L756.8 394.4Z" fill="#00da02"/>
<path d="M756.8 394.4L762.8 394.6L756.8 389.4L750.8 389.1Z" fill="#00da01"/>
<path d="M774.9 405.1L780.9 404.9L774.8 399.8L768.9 399.8Z" fill="#00da0b"/>
<path d="M768.9 399.8L774.8 399.8L768.8 394.7L762.8 394.6Z" fill="#00da09"/>
<path d="M762.8 394.6L768.8 394.7L762.8 389.8L756.8 389.4Z" fill="#00da07"/>
<path class="o" d="M762.8 405.5L768.9 405.3L774.9 405.1L780.9 404.9L774.8 399.8L768.8 394.7L762.8 389.8L756.8 389.4L750.8 389.1L744.8 388.8L750.8 394.3L756.8 399.9Z"/>
<path d="M228 257.5L234.9 249.9L229.9 247.9L223.1 255.7Z" fill="#fef274"/>
<path d="M223.1 255.7L229.9 247.9L224.9 246.1L218.1 253.9Z" fill="#fdf572"/>
<path d="M218.1 253.9L224.9 246.1L220 244.2L213.2 252.1Z" fill="#fdf772"/>
<path d="M234.9 249.9L241.7 242.5L236.7 240.3L229.9 247.9Z" fill="#ffed77"/>
<path d="M229.9 247.9L236.7 240.3L231.7 238.3L224.9 246.1Z" fill="#feef76"/>
<path d="M224.9 246.1L231.7 238.3L226.8 236.3L220 244.2Z" fill="#fef275"/>
<path d="M241.7 242.5L248.6 235.1L243.5 232.8L236.7 240.3Z" fill="#ffe87a"/>
<path d="M236.7 240.3L243.5 232.8L238.5 230.6L231.7 238.3Z" fill="#ffea79"/>
<path d="M231.7 238.3L238.5 230.6L233.5 228.6L226.8 236.3Z" fill="#ffec77"/>
<path class="o" d="M228 257.5L234.9 249.9L241.7 242.5L248.6 235.1L243.5 232.8L238.5 230.6L233.5 228.6L226.8 236.3L220 244.2L213.2 252.1L218.1 253.9L223.1 255.7Z"/>
<path d="M817.4 438.6L823.3 438L817.2 432.3L811.3 432.7Z" fill="#00da22"/>
<path d="M811.3 432.7L817.2 432.3L811.1 426.7L805.2 426.9Z" fill="#00da1e"/>
<path d="M805.2 426.9L811.1 426.7L805 421.1L799.1 421.1Z" fill="#00da1a"/>
<path d="M823.3 438L829.2 437.5L823.1 432L817.2 432.3Z" fill="#01d92d"/>
<path d="M817.2 432.3L823.1 432L817 426.5L811.1 426.7Z" fill="#01da28"/>
<path d="M811.1 426.7L817 426.5L810.9 421.1L805 421.1Z" fill="#00da24"/>
<path d="M829.2 437.5L835.1 436.9L829 431.6L823.1 432Z" fill="#01d938"/>
<path d="M823.1 432L829 431.6L822.9 426.3L817 426.5Z" fill="#01d934"/>
<path d="M817 426.5L822.9 426.3L816.8 421.1L810.9 421.1Z" fill="#01d930"/>
<path class="o" d="M817.4 438.6L823.3 438L829.2 437.5L835.1 436.9L829 431.6L822.9 426.3L816.8 421.1L810.9 421.1L805 421.1L799.1 421.1L805.2 426.9L811.3 432.7Z"/>
<path d="M671.6 358.5L677.9 359L671.9 354.5L665.7 353.8Z" fill="#0ad804"/>
<path d="M665.7 353.8L671.9 354.5L666 350L659.7 349.2Z" fill="#0ad804"/>
<path d="M659.7 349.2L666 350L660.1 345.6L653.8 344.7Z" fill="#0ad804"/>
<path d="M677.9 359L684.1 359.5L678.2 355.1L671.9 354.5Z" fill="#08d904"/>
<path d="M671.9 354.5L678.2 355.1L672.2 350.8L666 350Z" fill="#09d904"/>
<path d="M666 350L672.2 350.8L666.3 346.5L660.1 345.6Z" fill="#09d904"/>
<path d="M684.1 359.5L690.3 359.9L684.4 355.7L678.2 355.1Z" fill="#07d903"/>
<path d="M678.2 355.1L684.4 355.7L678.5 351.5L672.2 350.8Z" fill="#07d903"/>
<path d="M672.2 350.8L678.5 351.5L672.5 347.4L666.3 346.5Z" fill="#07d903"/>
<path class="o" d="M671.6 358.5L677.9 359L684.1 359.5L690.3 359.9L684.4 355.7L678.5 351.5L672.5 347.4L666.3 346.5L660.1 345.6L653.8 344.7L659.7 349.2L665.7 353.8Z"/>
<path d="M359.3 231.9L366.4 231.7L361 227.8L353.9 228Z" fill="#ffbe00"/>
<path d="M353.9 228L361 227.8L355.6 223.9L348.5 224.1Z" fill="#ffbd00"/>
<path d="M348.5 224.1L355.6 223.9L350.3 220.1L343.2 220.3Z" fill="#ffbd00"/>
<path d="M366.4 231.7L373.5 231.5L368.1 227.6L361 227.8Z" fill="#ffc400"/>
<path d="M361 227.8L368.1 227.6L362.7 223.7L355.6 223.9Z" fill="#ffc400"/>
<path d="M355.6 223.9L362.7 223.7L357.3 219.8L350.3 220.1Z" fill="#ffc400"/>
<path d="M373.5 231.5L380.5 231.4L375.1 227.5L368.1 227.6Z" fill="#ffcb00"/>
<path d="M368.1 227.6L375.1 227.5L369.7 223.6L362.7 223.7Z" fill="#ffcb00"/>
<path d="M362.7 223.7L369.7 223.6L364.4 219.6L357.3 219.8Z" fill="#ffcb00"/>
<path class="o" d="M359.3 231.9L366.4 231.7L373.5 231.5L380.5 231.4L375.1 227.5L369.7 223.6L364.4 219.6L357.3 219.8L350.3 220.1L343.2 220.3L348.5 224.1L353.9 228Z"/>
<path d="M207.5 281L214.3 273.2L209.4 271.2L202.6 279Z" fill="#f3fc74"/>
<path d="M202.6 279L209.4 271.2L204.5 269.4L197.7 277.2Z" fill="#effb71"/>
<path d="M197.7 277.2L204.5 269.4L199.6 267.6L192.9 275.4Z" fill="#ecfb71"/>
<path d="M214.3 273.2L221.2 265.3L216.2 263.4L209.4 271.2Z" fill="#fafc74"/>
<path d="M209.4 271.2L216.2 263.4L211.3 261.6L204.5 269.4Z" fill="#f7fc71"/>
<path d="M204.5 269.4L211.3 261.6L206.4 259.8L199.6 267.6Z" fill="#f3fc71"/>
<path d="M221.2 265.3L228 257.5L223.1 255.7L216.2 263.4Z" fill="#fdf873"/>
<path d="M216.2 263.4L223.1 255.7L218.1 253.9L211.3 261.6Z" fill="#fcfa71"/>
<path d="M211.3 261.6L218.1 253.9L213.2 252.1L206.4 259.8Z" fill="#fafc71"/>
<path class="o" d="M207.5 281L214.3 273.2L221.2 265.3L228 257.5L223.1 255.7L218.1 253.9L213.2 252.1L206.4 259.8L199.6 267.6L192.9 275.4L197.7 277.2L202.6 279Z"/>
<path d="M488.2 274.1L495 274L489.4 270.7L482.6 270.9Z" fill="#eaf407"/>
<path d="M482.6 270.9L489.4 270.7L483.8 267.4L477 267.5Z" fill="#e7f407"/>
<path d="M477 267.5L483.8 267.4L478.2 264L471.4 264.2Z" fill="#e4f408"/>
<path d="M495 274L501.8 274L496.2 270.7L489.4 270.7Z" fill="#d9f20a"/>
<path d="M489.4 270.7L496.2 270.7L490.5 267.4L483.8 267.4Z" fill="#d6f20a"/>
<path d="M483.8 267.4L490.5 267.4L485 264L478.2 264Z" fill="#d2f10b"/>
<path d="M501.8 274L508.5 274.3L502.9 270.9L496.2 270.7Z" fill="#c6f00c"/>
<path d="M496.2 270.7L502.9 270.9L497.3 267.6L490.5 267.4Z" fill="#c3ef0c"/>
<path d="M490.5 267.4L497.3 267.6L491.7 264.2L485 264Z" fill="#c0ef0c"/>
<path class="o" d="M488.2 274.1L495 274L501.8 274L508.5 274.3L502.9 270.9L497.3 267.6L491.7 264.2L485 264L478.2 264L471.4 264.2L477 267.5L482.6 270.9Z"/>
<path d="M187 304.7L193.8 296.7L188.9 294.8L182.1 303Z" fill="#dafa70"/>
<path d="M182.1 303L188.9 294.8L184.1 293.2L177.3 301.4Z" fill="#d3f96c"/>
<path d="M177.3 301.4L184.1 293.2L179.3 291.6L172.6 300Z" fill="#ccf969"/>
<path d="M193.8 296.7L200.7 288.8L195.8 286.9L188.9 294.8Z" fill="#e3fa72"/>
<path d="M188.9 294.8L195.8 286.9L190.9 285.1L184.1 293.2Z" fill="#dffa6e"/>
<path d="M184.1 293.2L190.9 285.1L186.1 283.4L179.3 291.6Z" fill="#d9fa6d"/>
<path d="M200.7 288.8L207.5 281L202.6 279L195.8 286.9Z" fill="#ebfb73"/>
<path d="M195.8 286.9L202.6 279L197.7 277.2L190.9 285.1Z" fill="#e7fb70"/>
<path d="M190.9 285.1L197.7 277.2L192.9 275.4L186.1 283.4Z" fill="#e4fa6f"/>
<path class="o" d="M187 304.7L193.8 296.7L200.7 288.8L207.5 281L202.6 279L197.7 277.2L192.9 275.4L186.1 283.4L179.3 291.6L172.6 300L177.3 301.4L182.1 303Z"/>
<path d="M321.9 225.6L329 223.9L323.7 220.1L316.5 221.9Z" fill="#ffba1a"/>
<path d="M316.5 221.9L323.7 220.1L318.4 216.4L311.3 218.3Z" fill="#ffbb1b"/>
<path d="M311.3 218.3L318.4 216.4L313.1 212.7L306 214.6Z" fill="#ffbc1d"/>
<path d="M329 223.9L336.1 222.1L330.8 218.3L323.7 220.1Z" fill="#ffbd1c"/>
<path d="M323.7 220.1L330.8 218.3L325.5 214.5L318.4 216.4Z" fill="#ffbe1d"/>
<path d="M318.4 216.4L325.5 214.5L320.2 210.8L313.1 212.7Z" fill="#ffbf1f"/>
<path d="M336.1 222.1L343.2 220.3L337.8 216.5L330.8 218.3Z" fill="#ffc01c"/>
<path d="M330.8 218.3L337.8 216.5L332.5 212.6L325.5 214.5Z" fill="#ffc11e"/>
<path d="M325.5 214.5L332.5 212.6L327.2 208.8L320.2 210.8Z" fill="#ffc220"/>
<path class="o" d="M321.9 225.6L329 223.9L336.1 222.1L343.2 220.3L337.8 216.5L332.5 212.6L327.2 208.8L320.2 210.8L313.1 212.7L306 214.6L311.3 218.3L316.5 221.9Z"/>
<path d="M284.5 221L291.7 218.9L286.5 215.3L279.4 218.5Z" fill="#ffbb2e"/>
<path d="M279.4 218.5L286.5 215.3L281.3 211.8L274.2 216.1Z" fill="#ffc54a"/>
<path d="M274.2 216.1L281.3 211.8L276.1 208.3L269.1 213.8Z" fill="#ffcb5a"/>
<path d="M291.7 218.9L298.9 216.8L293.6 213.2L286.5 215.3Z" fill="#ffba24"/>
<path d="M286.5 215.3L293.6 213.2L288.4 209.6L281.3 211.8Z" fill="#ffbb25"/>
<path d="M281.3 211.8L288.4 209.6L283.2 206L276.1 208.3Z" fill="#ffbb26"/>
<path d="M298.9 216.8L306 214.6L300.7 211L293.6 213.2Z" fill="#ffbc26"/>
<path d="M293.6 213.2L300.7 211L295.5 207.3L288.4 209.6Z" fill="#ffbd28"/>
<path d="M288.4 209.6L295.5 207.3L290.3 203.7L283.2 206Z" fill="#ffbe29"/>
<path class="o" d="M284.5 221L291.7 218.9L298.9 216.8L306 214.6L300.7 211L295.5 207.3L290.3 203.7L283.2 206L276.1 208.3L269.1 213.8L274.2 216.1L279.4 218.5Z"/>
<path d="M580.1 309.3L586.6 311.4L580.8 307.5L574.3 305.3Z" fill="#7add0b"/>
<path d="M574.3 305.3L580.8 307.5L575 303.7L568.5 301.4Z" fill="#79dc0b"/>
<path d="M568.5 301.4L575 303.7L569.2 299.9L562.7 297.5Z" fill="#78db0a"/>
<path d="M586.6 311.4L593.1 313.5L587.3 309.7L580.8 307.5Z" fill="#5fd90a"/>
<path d="M580.8 307.5L587.3 309.7L581.5 306L575 303.7Z" fill="#5ed809"/>
<path d="M575 303.7L581.5 306L575.7 302.2L569.2 299.9Z" fill="#5cd709"/>
<path d="M593.1 313.5L599.5 315.6L593.7 311.9L587.3 309.7Z" fill="#46d608"/>
<path d="M587.3 309.7L593.7 311.9L587.9 308.2L581.5 306Z" fill="#45d508"/>
<path d="M581.5 306L587.9 308.2L582.2 304.5L575.7 302.2Z" fill="#43d408"/>
<path class="o" d="M580.1 309.3L586.6 311.4L593.1 313.5L599.5 315.6L593.7 311.9L587.9 308.2L582.2 304.5L575.7 302.2L569.2 299.9L562.7 297.5L568.5 301.4L574.3 305.3Z"/>
<path d="M726.3 388.9L732.5 388.9L726.5 383.9L720.3 383.9Z" fill="#05d902"/>
<path d="M720.3 383.9L726.5 383.9L720.5 378.9L714.3 378.9Z" fill="#05d902"/>
<path d="M714.3 378.9L720.5 378.9L714.5 374.1L708.3 373.9Z" fill="#05d902"/>
<path d="M732.5 388.9L738.7 388.8L732.6 383.9L726.5 383.9Z" fill="#04d902"/>
<path d="M726.5 383.9L732.6 383.9L726.6 379.1L720.5 378.9Z" fill="#04d902"/>
<path d="M720.5 378.9L726.6 379.1L720.6 374.4L714.5 374.1Z" fill="#04d902"/>
<path d="M738.7 388.8L744.8 388.8L738.7 384L732.6 383.9Z" fill="#03da01"/>
<path d="M732.6 383.9L738.7 384L732.7 379.3L726.6 379.1Z" fill="#03da01"/>
<path d="M726.6 379.1L732.7 379.3L726.7 374.7L720.6 374.4Z" fill="#03d901"/>
<path class="o" d="M726.3 388.9L732.5 388.9L738.7 388.8L744.8 388.8L738.7 384L732.7 379.3L726.7 374.7L720.6 374.4L714.5 374.1L708.3 373.9L714.3 378.9L720.3 383.9Z"/>
<path d="M166.6 330.6L173.4 321.7L168.5 319.8L161.8 328.7Z" fill="#b8f873"/>
<path d="M161.8 328.7L168.5 319.8L163.8 318.2L157 327Z" fill="#b1f76c"/>
<path d="M157 327L163.8 318.2L159.1 317L152.3 325.7Z" fill="#a8f765"/>
<path d="M173.4 321.7L180.2 313.1L175.3 311.3L168.5 319.8Z" fill="#c1f872"/>
<path d="M168.5 319.8L175.3 311.3L170.5 309.7L163.8 318.2Z" fill="#b9f76b"/>
<path d="M163.8 318.2L170.5 309.7L165.8 308.4L159.1 317Z" fill="#b1f764"/>
<path d="M180.2 313.1L187 304.7L182.1 303L175.3 311.3Z" fill="#cef970"/>
<path d="M175.3 311.3L182.1 303L177.3 301.4L170.5 309.7Z" fill="#c6f86b"/>
<path d="M170.5 309.7L177.3 301.4L172.6 300L165.8 308.4Z" fill="#bdf866"/>
<path class="o" d="M166.6 330.6L173.4 321.7L180.2 313.1L187 304.7L182.1 303L177.3 301.4L172.6 300L165.8 308.4L159.1 317L152.3 325.7L157 327L161.8 328.7Z"/>
<path d="M450.8 264.2L457.7 264L452.1 260.5L445.2 260.6Z" fill="#fbe602"/>
<path d="M445.2 260.6L452.1 260.5L446.6 257L439.7 257Z" fill="#fae703"/>
<path d="M439.7 257L446.6 257L441.1 253.4L434.2 253.3Z" fill="#fae803"/>
<path d="M457.7 264L464.6 264L459 260.6L452.1 260.5Z" fill="#f8ef04"/>
<path d="M452.1 260.5L459 260.6L453.5 257.1L446.6 257Z" fill="#f8f004"/>
<path d="M446.6 257L453.5 257.1L447.9 253.5L441.1 253.4Z" fill="#f8f104"/>
<path d="M464.6 264L471.4 264.2L465.8 260.7L459 260.6Z" fill="#f2f506"/>
<path d="M459 260.6L465.8 260.7L460.3 257.2L453.5 257.1Z" fill="#f0f506"/>
<path d="M453.5 257.1L460.3 257.2L454.8 253.7L447.9 253.5Z" fill="#eef506"/>
<path class="o" d="M450.8 264.2L457.7 264L464.6 264L471.4 264.2L465.8 260.7L460.3 257.2L454.8 253.7L447.9 253.5L441.1 253.4L434.2 253.3L439.7 257L445.2 260.6Z"/>
<path d="M781 423.1L787.1 422.4L781 416.6L774.9 417.1Z" fill="#00da07"/>
<path d="M774.9 417.1L781 416.6L774.9 410.9L768.9 411.3Z" fill="#00da03"/>
<path d="M768.9 411.3L774.9 410.9L768.9 405.3L762.8 405.5Z" fill="#00da01"/>
<path d="M787.1 422.4L793.1 421.7L787 416.1L781 416.6Z" fill="#00da0c"/>
<path d="M781 416.6L787 416.1L781 410.6L774.9 410.9Z" fill="#00da09"/>
<path d="M774.9 410.9L781 410.6L774.9 405.1L768.9 405.3Z" fill="#00da07"/>
<path d="M793.1 421.7L799.1 421.1L793 415.6L787 416.1Z" fill="#00da12"/>
<path d="M787 416.1L793 415.6L787 410.2L781 410.6Z" fill="#00da0f"/>
<path d="M781 410.6L787 410.2L780.9 404.9L774.9 405.1Z" fill="#00da0d"/>
<path class="o" d="M781 423.1L787.1 422.4L793.1 421.7L799.1 421.1L793 415.6L787 410.2L780.9 404.9L774.9 405.1L768.9 405.3L762.8 405.5L768.9 411.3L774.9 417.1Z"/>
<path d="M634.7 341.6L641.1 342.7L635.2 338.2L628.8 337Z" fill="#2ddd07"/>
<path d="M628.8 337L635.2 338.2L629.3 333.7L622.9 332.3Z" fill="#2fdd07"/>
<path d="M622.9 332.3L629.3 333.7L623.5 329.2L617.1 327.8Z" fill="#31dd08"/>
<path d="M641.1 342.7L647.5 343.7L641.6 339.3L635.2 338.2Z" fill="#19da06"/>
<path d="M635.2 338.2L641.6 339.3L635.7 335L629.3 333.7Z" fill="#1ada06"/>
<path d="M629.3 333.7L635.7 335L629.8 330.7L623.5 329.2Z" fill="#1cda06"/>
<path d="M647.5 343.7L653.8 344.7L647.9 340.4L641.6 339.3Z" fill="#0cd805"/>
<path d="M641.6 339.3L647.9 340.4L642 336.2L635.7 335Z" fill="#0cd805"/>
<path d="M635.7 335L642 336.2L636.1 332L629.8 330.7Z" fill="#0cd805"/>
<path class="o" d="M634.7 341.6L641.1 342.7L647.5 343.7L653.8 344.7L647.9 340.4L642 336.2L636.1 332L629.8 330.7L623.5 329.2L617.1 327.8L622.9 332.3L628.8 337Z"/>
<path d="M413.3 254.7L420.3 254.2L414.7 250.4L407.7 250.8Z" fill="#ffd200"/>
<path d="M407.7 250.8L414.7 250.4L409.3 246.5L402.3 246.9Z" fill="#ffd200"/>
<path d="M402.3 246.9L409.3 246.5L403.8 242.7L396.8 243.1Z" fill="#ffd200"/>
<path d="M420.3 254.2L427.2 253.7L421.7 250L414.7 250.4Z" fill="#ffd800"/>
<path d="M414.7 250.4L421.7 250L416.2 246.2L409.3 246.5Z" fill="#ffd900"/>
<path d="M409.3 246.5L416.2 246.2L410.8 242.4L403.8 242.7Z" fill="#fed900"/>
<path d="M427.2 253.7L434.2 253.3L428.6 249.6L421.7 250Z" fill="#fce001"/>
<path d="M421.7 250L428.6 249.6L423.2 245.9L416.2 246.2Z" fill="#fce002"/>
<path d="M416.2 246.2L423.2 245.9L417.7 242.1L410.8 242.4Z" fill="#fce102"/>
<path class="o" d="M413.3 254.7L420.3 254.2L427.2 253.7L434.2 253.3L428.6 249.6L423.2 245.9L417.7 242.1L410.8 242.4L403.8 242.7L396.8 243.1L402.3 246.9L407.7 250.8Z"/>
<path d="M542.8 296L549.5 296.4L543.7 292.6L537 292.1Z" fill="#bfef0c"/>
<path d="M537 292.1L543.7 292.6L537.9 288.9L531.3 288.3Z" fill="#beee0c"/>
<path d="M531.3 288.3L537.9 288.9L532.2 285.3L525.5 284.6Z" fill="#bdee0c"/>
<path d="M549.5 296.4L556.1 296.9L550.3 293.2L543.7 292.6Z" fill="#abec0c"/>
<path d="M543.7 292.6L550.3 293.2L544.6 289.6L537.9 288.9Z" fill="#a9ec0c"/>
<path d="M537.9 288.9L544.6 289.6L538.9 286L532.2 285.3Z" fill="#a8eb0c"/>
<path d="M556.1 296.9L562.7 297.5L556.9 293.9L550.3 293.2Z" fill="#96e90c"/>
<path d="M550.3 293.2L556.9 293.9L551.2 290.3L544.6 289.6Z" fill="#94e90c"/>
<path d="M544.6 289.6L551.2 290.3L545.5 286.7L538.9 286Z" fill="#92e90c"/>
<path class="o" d="M542.8 296L549.5 296.4L556.1 296.9L562.7 297.5L556.9 293.9L551.2 290.3L545.5 286.7L538.9 286L532.2 285.3L525.5 284.6L531.3 288.3L537 292.1Z"/>
<path d="M263.8 242.5L270.7 235.3L265.6 232.8L258.7 239.9Z" fill="#ffe07f"/>
<path d="M258.7 239.9L265.6 232.8L260.5 230.3L253.6 237.5Z" fill="#ffe17d"/>
<path d="M253.6 237.5L260.5 230.3L255.4 227.9L248.6 235.1Z" fill="#ffe37c"/>
<path d="M270.7 235.3L277.6 228.1L272.5 225.6L265.6 232.8Z" fill="#ffdc7f"/>
<path d="M265.6 232.8L272.5 225.6L267.4 223.2L260.5 230.3Z" fill="#ffdd7d"/>
<path d="M260.5 230.3L267.4 223.2L262.3 220.8L255.4 227.9Z" fill="#ffde7d"/>
<path d="M277.6 228.1L284.5 221L279.4 218.5L272.5 225.6Z" fill="#ffd77f"/>
<path d="M272.5 225.6L279.4 218.5L274.2 216.1L267.4 223.2Z" fill="#ffd87c"/>
<path d="M267.4 223.2L274.2 216.1L269.1 213.8L262.3 220.8Z" fill="#ffda7c"/>
<path class="o" d="M263.8 242.5L270.7 235.3L277.6 228.1L284.5 221L279.4 218.5L274.2 216.1L269.1 213.8L262.3 220.8L255.4 227.9L248.6 235.1L253.6 237.5L258.7 239.9Z"/>
<path d="M689.5 373.8L695.8 373.9L689.8 368.8L683.5 368.6Z" fill="#09d904"/>
<path d="M683.5 368.6L689.8 368.8L683.8 363.9L677.6 363.5Z" fill="#09d804"/>
<path d="M677.6 363.5L683.8 363.9L677.9 359L671.6 358.5Z" fill="#0ad804"/>
<path d="M695.8 373.9L702.1 373.9L696.1 369L689.8 368.8Z" fill="#08d903"/>
<path d="M689.8 368.8L696.1 369L690.1 364.2L683.8 363.9Z" fill="#08d903"/>
<path d="M683.8 363.9L690.1 364.2L684.1 359.5L677.9 359Z" fill="#08d903"/>
<path d="M702.1 373.9L708.3 373.9L702.3 369.1L696.1 369Z" fill="#07d903"/>
<path d="M696.1 369L702.3 369.1L696.3 364.5L690.1 364.2Z" fill="#07d903"/>
<path d="M690.1 364.2L696.3 364.5L690.3 359.9L684.1 359.5Z" fill="#07d903"/>
<path class="o" d="M689.5 373.8L695.8 373.9L702.1 373.9L708.3 373.9L702.3 369.1L696.3 364.5L690.3 359.9L684.1 359.5L677.9 359L671.6 358.5L677.6 363.5L683.5 368.6Z"/>
<path d="M375.6 243.6L382.7 243.4L377.2 239.5L370.1 239.7Z" fill="#ffbe00"/>
<path d="M370.1 239.7L377.2 239.5L371.8 235.6L364.7 235.8Z" fill="#ffbe00"/>
<path d="M364.7 235.8L371.8 235.6L366.4 231.7L359.3 231.9Z" fill="#ffbe00"/>
<path d="M382.7 243.4L389.7 243.2L384.3 239.3L377.2 239.5Z" fill="#ffc400"/>
<path d="M377.2 239.5L384.3 239.3L378.9 235.4L371.8 235.6Z" fill="#ffc400"/>
<path d="M371.8 235.6L378.9 235.4L373.5 231.5L366.4 231.7Z" fill="#ffc400"/>
<path d="M389.7 243.2L396.8 243.1L391.3 239.2L384.3 239.3Z" fill="#ffcb00"/>
<path d="M384.3 239.3L391.3 239.2L385.9 235.3L378.9 235.4Z" fill="#ffcb00"/>
<path d="M378.9 235.4L385.9 235.3L380.5 231.4L373.5 231.5Z" fill="#ffcb00"/>
<path class="o" d="M375.6 243.6L382.7 243.4L389.7 243.2L396.8 243.1L391.3 239.2L385.9 235.3L380.5 231.4L373.5 231.5L366.4 231.7L359.3 231.9L364.7 235.8L370.1 239.7Z"/>
<path d="M243.1 264L250 256.6L244.9 254.3L238 261.8Z" fill="#ffec7a"/>
<path d="M238 261.8L244.9 254.3L239.9 252.1L233 259.6Z" fill="#feee78"/>
<path d="M233 259.6L239.9 252.1L234.9 249.9L228 257.5Z" fill="#fef077"/>
<path d="M250 256.6L256.9 249.5L251.8 247L244.9 254.3Z" fill="#ffe87a"/>
<path d="M244.9 254.3L251.8 247L246.8 244.7L239.9 252.1Z" fill="#ffe979"/>
<path d="M239.9 252.1L246.8 244.7L241.7 242.5L234.9 249.9Z" fill="#ffeb78"/>
<path d="M256.9 249.5L263.8 242.5L258.7 239.9L251.8 247Z" fill="#ffe47c"/>
<path d="M251.8 247L258.7 239.9L253.6 237.5L246.8 244.7Z" fill="#ffe57b"/>
<path d="M246.8 244.7L253.6 237.5L248.6 235.1L241.7 242.5Z" fill="#ffe77a"/>
<path class="o" d="M243.1 264L250 256.6L256.9 249.5L263.8 242.5L258.7 239.9L253.6 237.5L248.6 235.1L241.7 242.5L234.9 249.9L228 257.5L233 259.6L238 261.8Z"/>
<path d="M744.4 406.7L750.6 406.3L744.5 400.5L738.4 400.8Z" fill="#03d901"/>
<path d="M738.4 400.8L744.5 400.5L738.5 394.7L732.3 394.9Z" fill="#04d902"/>
<path d="M732.3 394.9L738.5 394.7L732.5 388.9L726.3 388.9Z" fill="#04d902"/>
<path d="M750.6 406.3L756.7 405.9L750.7 400.2L744.5 400.5Z" fill="#02da01"/>
<path d="M744.5 400.5L750.7 400.2L744.7 394.5L738.5 394.7Z" fill="#03da01"/>
<path d="M738.5 394.7L744.7 394.5L738.7 388.8L732.5 388.9Z" fill="#03d901"/>
<path d="M756.7 405.9L762.8 405.5L756.8 399.9L750.7 400.2Z" fill="#01da01"/>
<path d="M750.7 400.2L756.8 399.9L750.8 394.3L744.7 394.5Z" fill="#02da01"/>
<path d="M744.7 394.5L750.8 394.3L744.8 388.8L738.7 388.8Z" fill="#02da01"/>
<path class="o" d="M744.4 406.7L750.6 406.3L756.7 405.9L762.8 405.5L756.8 399.9L750.8 394.3L744.8 388.8L738.7 388.8L732.5 388.9L726.3 388.9L732.3 394.9L738.4 400.8Z"/>
<path d="M505.3 284.2L512.1 284.1L506.4 280.6L499.6 280.7Z" fill="#f3f505"/>
<path d="M499.6 280.7L506.4 280.6L500.7 277.3L493.9 277.4Z" fill="#f1f506"/>
<path d="M493.9 277.4L500.7 277.3L495 274L488.2 274.1Z" fill="#eef506"/>
<path d="M512.1 284.1L518.8 284.3L513.1 280.8L506.4 280.6Z" fill="#e2f308"/>
<path d="M506.4 280.6L513.1 280.8L507.4 277.4L500.7 277.3Z" fill="#e0f309"/>
<path d="M500.7 277.3L507.4 277.4L501.8 274L495 274Z" fill="#dcf209"/>
<path d="M518.8 284.3L525.5 284.6L519.8 281.1L513.1 280.8Z" fill="#cff10b"/>
<path d="M513.1 280.8L519.8 281.1L514.2 277.6L507.4 277.4Z" fill="#cdf00b"/>
<path d="M507.4 277.4L514.2 277.6L508.5 274.3L501.8 274Z" fill="#caf00c"/>
<path class="o" d="M505.3 284.2L512.1 284.1L518.8 284.3L525.5 284.6L519.8 281.1L514.2 277.6L508.5 274.3L501.8 274L495 274L488.2 274.1L493.9 277.4L499.6 280.7Z"/>
<path d="M337.9 237.1L345.1 235.3L339.7 231.5L332.6 233.2Z" fill="#ffb919"/>
<path d="M332.6 233.2L339.7 231.5L334.3 227.7L327.2 229.4Z" fill="#ffb919"/>
<path d="M327.2 229.4L334.3 227.7L329 223.9L321.9 225.6Z" fill="#ffba1a"/>
<path d="M345.1 235.3L352.2 233.6L346.8 229.7L339.7 231.5Z" fill="#ffbc19"/>
<path d="M339.7 231.5L346.8 229.7L341.4 225.9L334.3 227.7Z" fill="#ffbd1a"/>
<path d="M334.3 227.7L341.4 225.9L336.1 222.1L329 223.9Z" fill="#ffbd1a"/>
<path d="M352.2 233.6L359.3 231.9L353.9 228L346.8 229.7Z" fill="#ffc019"/>
<path d="M346.8 229.7L353.9 228L348.5 224.1L341.4 225.9Z" fill="#ffc01a"/>
<path d="M341.4 225.9L348.5 224.1L343.2 220.3L336.1 222.1Z" fill="#ffc01b"/>
<path class="o" d="M337.9 237.1L345.1 235.3L352.2 233.6L359.3 231.9L353.9 228L348.5 224.1L343.2 220.3L336.1 222.1L329 223.9L321.9 225.6L327.2 229.4L332.6 233.2Z"/>
<path d="M597.7 322.4L604.2 324.1L598.3 319.9L591.8 318Z" fill="#7be30b"/>
<path d="M591.8 318L598.3 319.9L592.5 315.6L585.9 313.6Z" fill="#7be20b"/>
<path d="M585.9 313.6L592.5 315.6L586.6 311.4L580.1 309.3Z" fill="#7ce00b"/>
<path d="M604.2 324.1L610.6 325.9L604.8 321.8L598.3 319.9Z" fill="#60df0a"/>
<path d="M598.3 319.9L604.8 321.8L598.9 317.6L592.5 315.6Z" fill="#60de0a"/>
<path d="M592.5 315.6L598.9 317.6L593.1 313.5L586.6 311.4Z" fill="#60dc0a"/>
<path d="M610.6 325.9L617.1 327.8L611.2 323.7L604.8 321.8Z" fill="#48db09"/>
<path d="M604.8 321.8L611.2 323.7L605.4 319.7L598.9 317.6Z" fill="#48d909"/>
<path d="M598.9 317.6L605.4 319.7L599.5 315.6L593.1 313.5Z" fill="#47d809"/>
<path class="o" d="M597.7 322.4L604.2 324.1L610.6 325.9L617.1 327.8L611.2 323.7L605.4 319.7L599.5 315.6L593.1 313.5L586.6 311.4L580.1 309.3L585.9 313.6L591.8 318Z"/>
<path d="M300.3 231.8L307.5 229.8L302.2 226.1L295.1 228.2Z" fill="#ffb521"/>
<path d="M295.1 228.2L302.2 226.1L297 222.5L289.8 224.6Z" fill="#ffb621"/>
<path d="M289.8 224.6L297 222.5L291.7 218.9L284.5 221Z" fill="#ffb622"/>
<path d="M307.5 229.8L314.7 227.7L309.4 224L302.2 226.1Z" fill="#ffb721"/>
<path d="M302.2 226.1L309.4 224L304.1 220.4L297 222.5Z" fill="#ffb822"/>
<path d="M297 222.5L304.1 220.4L298.9 216.8L291.7 218.9Z" fill="#ffb923"/>
<path d="M314.7 227.7L321.9 225.6L316.5 221.9L309.4 224Z" fill="#ffba22"/>
<path d="M309.4 224L316.5 221.9L311.3 218.3L304.1 220.4Z" fill="#ffbb23"/>
<path d="M304.1 220.4L311.3 218.3L306 214.6L298.9 216.8Z" fill="#ffbb24"/>
<path class="o" d="M300.3 231.8L307.5 229.8L314.7 227.7L321.9 225.6L316.5 221.9L311.3 218.3L306 214.6L298.9 216.8L291.7 218.9L284.5 221L289.8 224.6L295.1 228.2Z"/>
<path d="M799.2 442.2L805.3 441L799.2 434.7L793.1 435.8Z" fill="#07db18"/>
<path d="M793.1 435.8L799.2 434.7L793.1 428.5L787 429.4Z" fill="#04db12"/>
<path d="M787 429.4L793.1 428.5L787.1 422.4L781 423.1Z" fill="#02da0c"/>
<path d="M805.3 441L811.3 439.8L805.2 433.7L799.2 434.7Z" fill="#07db1c"/>
<path d="M799.2 434.7L805.2 433.7L799.2 427.7L793.1 428.5Z" fill="#04db16"/>
<path d="M793.1 428.5L799.2 427.7L793.1 421.7L787.1 422.4Z" fill="#02da11"/>
<path d="M811.3 439.8L817.4 438.6L811.3 432.7L805.2 433.7Z" fill="#06db21"/>
<path d="M805.2 433.7L811.3 432.7L805.2 426.9L799.2 427.7Z" fill="#04db1b"/>
<path d="M799.2 427.7L805.2 426.9L799.1 421.1L793.1 421.7Z" fill="#01da16"/>
<path class="o" d="M799.2 442.2L805.3 441L811.3 439.8L817.4 438.6L811.3 432.7L805.2 426.9L799.1 421.1L793.1 421.7L787.1 422.4L781 423.1L787 429.4L793.1 435.8Z"/>
<path d="M222.5 288.3L229.4 280.2L224.3 277.7L217.5 285.6Z" fill="#fbfc82"/>
<path d="M217.5 285.6L224.3 277.7L219.3 275.3L212.5 283.2Z" fill="#f9fc7e"/>
<path d="M212.5 283.2L219.3 275.3L214.3 273.2L207.5 281Z" fill="#f6fc78"/>
<path d="M229.4 280.2L236.2 272L231.2 269.6L224.3 277.7Z" fill="#fdf880"/>
<path d="M224.3 277.7L231.2 269.6L226.2 267.4L219.3 275.3Z" fill="#fdf97c"/>
<path d="M219.3 275.3L226.2 267.4L221.2 265.3L214.3 273.2Z" fill="#fcfb78"/>
<path d="M236.2 272L243.1 264L238 261.8L231.2 269.6Z" fill="#fef27c"/>
<path d="M231.2 269.6L238 261.8L233 259.6L226.2 267.4Z" fill="#fef479"/>
<path d="M226.2 267.4L233 259.6L228 257.5L221.2 265.3Z" fill="#fdf677"/>
<path class="o" d="M222.5 288.3L229.4 280.2L236.2 272L243.1 264L238 261.8L233 259.6L228 257.5L221.2 265.3L214.3 273.2L207.5 281L212.5 283.2L217.5 285.6Z"/>
<path d="M467.6 274.7L474.5 274.3L468.9 270.9L462 271.3Z" fill="#fce202"/>
<path d="M462 271.3L468.9 270.9L463.3 267.5L456.4 267.7Z" fill="#fbe402"/>
<path d="M456.4 267.7L463.3 267.5L457.7 264L450.8 264.2Z" fill="#fbe502"/>
<path d="M474.5 274.3L481.4 274.1L475.8 270.8L468.9 270.9Z" fill="#f9ea03"/>
<path d="M468.9 270.9L475.8 270.8L470.2 267.4L463.3 267.5Z" fill="#f9ec03"/>
<path d="M463.3 267.5L470.2 267.4L464.6 264L457.7 264Z" fill="#f9ed04"/>
<path d="M481.4 274.1L488.2 274.1L482.6 270.9L475.8 270.8Z" fill="#f7f305"/>
<path d="M475.8 270.8L482.6 270.9L477 267.5L470.2 267.4Z" fill="#f5f405"/>
<path d="M470.2 267.4L477 267.5L471.4 264.2L464.6 264Z" fill="#f4f505"/>
<path class="o" d="M467.6 274.7L474.5 274.3L481.4 274.1L488.2 274.1L482.6 270.9L477 267.5L471.4 264.2L464.6 264L457.7 264L450.8 264.2L456.4 267.7L462 271.3Z"/>
<path d="M652.6 356.7L658.9 357.4L653 352.4L646.6 351.7Z" fill="#22db07"/>
<path d="M646.6 351.7L653 352.4L647.1 347.5L640.7 346.6Z" fill="#26dc07"/>
<path d="M640.7 346.6L647.1 347.5L641.1 342.7L634.7 341.6Z" fill="#2adc07"/>
<path d="M658.9 357.4L665.3 358L659.3 353.1L653 352.4Z" fill="#10d905"/>
<path d="M653 352.4L659.3 353.1L653.4 348.4L647.1 347.5Z" fill="#13d906"/>
<path d="M647.1 347.5L653.4 348.4L647.5 343.7L641.1 342.7Z" fill="#16d906"/>
<path d="M665.3 358L671.6 358.5L665.7 353.8L659.3 353.1Z" fill="#0bd805"/>
<path d="M659.3 353.1L665.7 353.8L659.7 349.2L653.4 348.4Z" fill="#0bd805"/>
<path d="M653.4 348.4L659.7 349.2L653.8 344.7L647.5 343.7Z" fill="#0bd805"/>
<path class="o" d="M652.6 356.7L658.9 357.4L665.3 358L671.6 358.5L665.7 353.8L659.7 349.2L653.8 344.7L647.5 343.7L641.1 342.7L634.7 341.6L640.7 346.6L646.6 351.7Z"/>
<path d="M201.8 311.3L208.7 303.5L203.7 301L196.8 308.9Z" fill="#e7fb7d"/>
<path d="M196.8 308.9L203.7 301L198.7 298.7L191.9 306.7Z" fill="#e4fb78"/>
<path d="M191.9 306.7L198.7 298.7L193.8 296.7L187 304.7Z" fill="#e0fa74"/>
<path d="M208.7 303.5L215.6 295.9L210.6 293.3L203.7 301Z" fill="#eefb7e"/>
<path d="M203.7 301L210.6 293.3L205.6 290.9L198.7 298.7Z" fill="#ebfb7a"/>
<path d="M198.7 298.7L205.6 290.9L200.7 288.8L193.8 296.7Z" fill="#e7fb75"/>
<path d="M215.6 295.9L222.5 288.3L217.5 285.6L210.6 293.3Z" fill="#f5fc81"/>
<path d="M210.6 293.3L217.5 285.6L212.5 283.2L205.6 290.9Z" fill="#f2fc7d"/>
<path d="M205.6 290.9L212.5 283.2L207.5 281L200.7 288.8Z" fill="#effb77"/>
<path class="o" d="M201.8 311.3L208.7 303.5L215.6 295.9L222.5 288.3L217.5 285.6L212.5 283.2L207.5 281L200.7 288.8L193.8 296.7L187 304.7L191.9 306.7L196.8 308.9Z"/>
<path d="M181.4 338.6L188.1 329.2L183.2 326.5L176.4 335.8Z" fill="#c8f983"/>
<path d="M176.4 335.8L183.2 326.5L178.2 324L171.5 333.1Z" fill="#c4f980"/>
<path d="M171.5 333.1L178.2 324L173.4 321.7L166.6 330.6Z" fill="#bff87b"/>
<path d="M188.1 329.2L194.9 320L190 317.5L183.2 326.5Z" fill="#d4fa81"/>
<path d="M183.2 326.5L190 317.5L185 315.2L178.2 324Z" fill="#cff97d"/>
<path d="M178.2 324L185 315.2L180.2 313.1L173.4 321.7Z" fill="#c9f978"/>
<path d="M194.9 320L201.8 311.3L196.8 308.9L190 317.5Z" fill="#dffa7e"/>
<path d="M190 317.5L196.8 308.9L191.9 306.7L185 315.2Z" fill="#dbfa79"/>
<path d="M185 315.2L191.9 306.7L187 304.7L180.2 313.1Z" fill="#d5f975"/>
<path class="o" d="M181.4 338.6L188.1 329.2L194.9 320L201.8 311.3L196.8 308.9L191.9 306.7L187 304.7L180.2 313.1L173.4 321.7L166.6 330.6L171.5 333.1L176.4 335.8Z"/>
<path d="M429.9 266.2L436.9 265.5L431.3 261.7L424.3 262.3Z" fill="#ffd101"/>
<path d="M424.3 262.3L431.3 261.7L425.8 258L418.8 258.5Z" fill="#ffd100"/>
<path d="M418.8 258.5L425.8 258L420.3 254.2L413.3 254.7Z" fill="#ffd100"/>
<path d="M436.9 265.5L443.9 264.8L438.3 261.1L431.3 261.7Z" fill="#ffd701"/>
<path d="M431.3 261.7L438.3 261.1L432.8 257.4L425.8 258Z" fill="#ffd700"/>
<path d="M425.8 258L432.8 257.4L427.2 253.7L420.3 254.2Z" fill="#ffd800"/>
<path d="M443.9 264.8L450.8 264.2L445.2 260.6L438.3 261.1Z" fill="#fdde01"/>
<path d="M438.3 261.1L445.2 260.6L439.7 257L432.8 257.4Z" fill="#fddf01"/>
<path d="M432.8 257.4L439.7 257L434.2 253.3L427.2 253.7Z" fill="#fddf01"/>
<path class="o" d="M429.9 266.2L436.9 265.5L443.9 264.8L450.8 264.2L445.2 260.6L439.7 257L434.2 253.3L427.2 253.7L420.3 254.2L413.3 254.7L418.8 258.5L424.3 262.3Z"/>
<path d="M707.6 389.7L713.9 389.5L707.8 384.3L701.6 384.4Z" fill="#08d903"/>
<path d="M701.6 384.4L707.8 384.3L701.8 379.1L695.5 379.1Z" fill="#08d903"/>
<path d="M695.5 379.1L701.8 379.1L695.8 373.9L689.5 373.8Z" fill="#09d904"/>
<path d="M713.9 389.5L720.1 389.2L714.1 384.1L707.8 384.3Z" fill="#07d903"/>
<path d="M707.8 384.3L714.1 384.1L708.1 379L701.8 379.1Z" fill="#07d903"/>
<path d="M701.8 379.1L708.1 379L702.1 373.9L695.8 373.9Z" fill="#08d903"/>
<path d="M720.1 389.2L726.3 388.9L720.3 383.9L714.1 384.1Z" fill="#06d902"/>
<path d="M714.1 384.1L720.3 383.9L714.3 378.9L708.1 379Z" fill="#06d903"/>
<path d="M708.1 379L714.3 378.9L708.3 373.9L702.1 373.9Z" fill="#06d903"/>
<path class="o" d="M707.6 389.7L713.9 389.5L720.1 389.2L726.3 388.9L720.3 383.9L714.3 378.9L708.3 373.9L702.1 373.9L695.8 373.9L689.5 373.8L695.5 379.1L701.6 384.4Z"/>
<path d="M560.2 308.8L566.9 308.9L561 304.7L554.4 304.5Z" fill="#bdee0c"/>
<path d="M554.4 304.5L561 304.7L555.2 300.5L548.6 300.2Z" fill="#beee0c"/>
<path d="M548.6 300.2L555.2 300.5L549.5 296.4L542.8 296Z" fill="#bfef0c"/>
<path d="M566.9 308.9L573.5 309.1L567.7 305L561 304.7Z" fill="#aaec0c"/>
<path d="M561 304.7L567.7 305L561.9 300.9L555.2 300.5Z" fill="#abec0c"/>
<path d="M555.2 300.5L561.9 300.9L556.1 296.9L549.5 296.4Z" fill="#abec0c"/>
<path d="M573.5 309.1L580.1 309.3L574.3 305.3L567.7 305Z" fill="#97e90c"/>
<path d="M567.7 305L574.3 305.3L568.5 301.4L561.9 300.9Z" fill="#97e90c"/>
<path d="M561.9 300.9L568.5 301.4L562.7 297.5L556.1 296.9Z" fill="#97e90c"/>
<path class="o" d="M560.2 308.8L566.9 308.9L573.5 309.1L580.1 309.3L574.3 305.3L568.5 301.4L562.7 297.5L556.1 296.9L549.5 296.4L542.8 296L548.6 300.2L554.4 304.5Z"/>
<path d="M762.5 425.9L768.7 424.9L762.7 418.7L756.5 419.4Z" fill="#05da04"/>
<path d="M756.5 419.4L762.7 418.7L756.6 412.4L750.4 413.1Z" fill="#04da02"/>
<path d="M750.4 413.1L756.6 412.4L750.6 406.3L744.4 406.7Z" fill="#03da01"/>
<path d="M768.7 424.9L774.9 424L768.8 417.9L762.7 418.7Z" fill="#04da04"/>
<path d="M762.7 418.7L768.8 417.9L762.8 411.9L756.6 412.4Z" fill="#03da02"/>
<path d="M756.6 412.4L762.8 411.9L756.7 405.9L750.6 406.3Z" fill="#02da01"/>
<path d="M774.9 424L781 423.1L774.9 417.1L768.8 417.9Z" fill="#03da04"/>
<path d="M768.8 417.9L774.9 417.1L768.9 411.3L762.8 411.9Z" fill="#01da01"/>
<path d="M762.8 411.9L768.9 411.3L762.8 405.5L756.7 405.9Z" fill="#01da00"/>
<path class="o" d="M762.5 425.9L768.7 424.9L774.9 424L781 423.1L774.9 417.1L768.9 411.3L762.8 405.5L756.7 405.9L750.6 406.3L744.4 406.7L750.4 413.1L756.5 419.4Z"/>
<path d="M279.4 250.5L286.3 243.4L281.1 240.7L274.2 247.7Z" fill="#ffdd82"/>
<path d="M274.2 247.7L281.1 240.7L275.9 238L269 245Z" fill="#ffde81"/>
<path d="M269 245L275.9 238L270.7 235.3L263.8 242.5Z" fill="#ffdf7f"/>
<path d="M286.3 243.4L293.3 236.2L288 233.5L281.1 240.7Z" fill="#ffd983"/>
<path d="M281.1 240.7L288 233.5L282.8 230.8L275.9 238Z" fill="#ffda82"/>
<path d="M275.9 238L282.8 230.8L277.6 228.1L270.7 235.3Z" fill="#ffdb81"/>
<path d="M293.3 236.2L300.3 231.8L295.1 228.2L288 233.5Z" fill="#ffc95f"/>
<path d="M288 233.5L295.1 228.2L289.8 224.6L282.8 230.8Z" fill="#ffd06f"/>
<path d="M282.8 230.8L289.8 224.6L284.5 221L277.6 228.1Z" fill="#ffd680"/>
<path class="o" d="M279.4 250.5L286.3 243.4L293.3 236.2L300.3 231.8L295.1 228.2L289.8 224.6L284.5 221L277.6 228.1L270.7 235.3L263.8 242.5L269 245L274.2 247.7Z"/>
<path d="M392 255.5L399.1 255.2L393.6 251.3L386.5 251.5Z" fill="#ffbe00"/>
<path d="M386.5 251.5L393.6 251.3L388.1 247.3L381 247.5Z" fill="#ffbe00"/>
<path d="M381 247.5L388.1 247.3L382.7 243.4L375.6 243.6Z" fill="#ffbe00"/>
<path d="M399.1 255.2L406.2 254.9L400.7 251L393.6 251.3Z" fill="#ffc400"/>
<path d="M393.6 251.3L400.7 251L395.2 247.1L388.1 247.3Z" fill="#ffc400"/>
<path d="M388.1 247.3L395.2 247.1L389.7 243.2L382.7 243.4Z" fill="#ffc400"/>
<path d="M406.2 254.9L413.3 254.7L407.7 250.8L400.7 251Z" fill="#ffcb00"/>
<path d="M400.7 251L407.7 250.8L402.3 246.9L395.2 247.1Z" fill="#ffcb00"/>
<path d="M395.2 247.1L402.3 246.9L396.8 243.1L389.7 243.2Z" fill="#ffcb00"/>
<path class="o" d="M392 255.5L399.1 255.2L406.2 254.9L413.3 254.7L407.7 250.8L402.3 246.9L396.8 243.1L389.7 243.2L382.7 243.4L375.6 243.6L381 247.5L386.5 251.5Z"/>
<path d="M615.4 337.4L621.9 338.8L616 333.9L609.5 332.4Z" fill="#71e50b"/>
<path d="M609.5 332.4L616 333.9L610.1 329L603.6 327.4Z" fill="#75e60b"/>
<path d="M603.6 327.4L610.1 329L604.2 324.1L597.7 322.4Z" fill="#7ae60b"/>
<path d="M621.9 338.8L628.3 340.2L622.4 335.4L616 333.9Z" fill="#59e30a"/>
<path d="M616 333.9L622.4 335.4L616.5 330.7L610.1 329Z" fill="#5ce30a"/>
<path d="M610.1 329L616.5 330.7L610.6 325.9L604.2 324.1Z" fill="#60e30a"/>
<path d="M628.3 340.2L634.7 341.6L628.8 337L622.4 335.4Z" fill="#42e009"/>
<path d="M622.4 335.4L628.8 337L622.9 332.3L616.5 330.7Z" fill="#45e009"/>
<path d="M616.5 330.7L622.9 332.3L617.1 327.8L610.6 325.9Z" fill="#47df09"/>
<path class="o" d="M615.4 337.4L621.9 338.8L628.3 340.2L634.7 341.6L628.8 337L622.9 332.3L617.1 327.8L610.6 325.9L604.2 324.1L597.7 322.4L603.6 327.4L609.5 332.4Z"/>
<path d="M354.2 248.8L361.4 247.1L355.9 243.1L348.8 244.8Z" fill="#ffb918"/>
<path d="M348.8 244.8L355.9 243.1L350.5 239.2L343.3 240.9Z" fill="#ffb918"/>
<path d="M343.3 240.9L350.5 239.2L345.1 235.3L337.9 237.1Z" fill="#ffb918"/>
<path d="M361.4 247.1L368.5 245.3L363 241.4L355.9 243.1Z" fill="#ffbc18"/>
<path d="M355.9 243.1L363 241.4L357.6 237.5L350.5 239.2Z" fill="#ffbc18"/>
<path d="M350.5 239.2L357.6 237.5L352.2 233.6L345.1 235.3Z" fill="#ffbc19"/>
<path d="M368.5 245.3L375.6 243.6L370.1 239.7L363 241.4Z" fill="#ffbf18"/>
<path d="M363 241.4L370.1 239.7L364.7 235.8L357.6 237.5Z" fill="#ffbf19"/>
<path d="M357.6 237.5L364.7 235.8L359.3 231.9L352.2 233.6Z" fill="#ffbf19"/>
<path class="o" d="M354.2 248.8L361.4 247.1L368.5 245.3L375.6 243.6L370.1 239.7L364.7 235.8L359.3 231.9L352.2 233.6L345.1 235.3L337.9 237.1L343.3 240.9L348.8 244.8Z"/>
<path d="M522.5 295.9L529.3 295.8L523.5 291.7L516.7 291.9Z" fill="#f5f405"/>
<path d="M516.7 291.9L523.5 291.7L517.8 287.8L511 288Z" fill="#f5f405"/>
<path d="M511 288L517.8 287.8L512.1 284.1L505.3 284.2Z" fill="#f4f505"/>
<path d="M529.3 295.8L536.1 295.8L530.3 291.8L523.5 291.7Z" fill="#e6f408"/>
<path d="M523.5 291.7L530.3 291.8L524.5 288L517.8 287.8Z" fill="#e5f408"/>
<path d="M517.8 287.8L524.5 288L518.8 284.3L512.1 284.1Z" fill="#e4f408"/>
<path d="M536.1 295.8L542.8 296L537 292.1L530.3 291.8Z" fill="#d3f10b"/>
<path d="M530.3 291.8L537 292.1L531.3 288.3L524.5 288Z" fill="#d2f10b"/>
<path d="M524.5 288L531.3 288.3L525.5 284.6L518.8 284.3Z" fill="#d1f10b"/>
<path class="o" d="M522.5 295.9L529.3 295.8L536.1 295.8L542.8 296L537 292.1L531.3 288.3L525.5 284.6L518.8 284.3L512.1 284.1L505.3 284.2L511 288L516.7 291.9Z"/>
<path d="M316.4 243.3L323.6 241.2L318.2 237.4L311 239.4Z" fill="#ffb521"/>
<path d="M311 239.4L318.2 237.4L312.9 233.5L305.7 235.6Z" fill="#ffb521"/>
<path d="M305.7 235.6L312.9 233.5L307.5 229.8L300.3 231.8Z" fill="#ffb521"/>
<path d="M323.6 241.2L330.8 239.1L325.4 235.3L318.2 237.4Z" fill="#ffb721"/>
<path d="M318.2 237.4L325.4 235.3L320.1 231.5L312.9 233.5Z" fill="#ffb721"/>
<path d="M312.9 233.5L320.1 231.5L314.7 227.7L307.5 229.8Z" fill="#ffb721"/>
<path d="M330.8 239.1L337.9 237.1L332.6 233.2L325.4 235.3Z" fill="#ffb922"/>
<path d="M325.4 235.3L332.6 233.2L327.2 229.4L320.1 231.5Z" fill="#ffba22"/>
<path d="M320.1 231.5L327.2 229.4L321.9 225.6L314.7 227.7Z" fill="#ffba22"/>
<path class="o" d="M316.4 243.3L323.6 241.2L330.8 239.1L337.9 237.1L332.6 233.2L327.2 229.4L321.9 225.6L314.7 227.7L307.5 229.8L300.3 231.8L305.7 235.6L311 239.4Z"/>
<path d="M258.5 271.6L265.4 264.2L260.3 261.6L253.3 269Z" fill="#ffe880"/>
<path d="M253.3 269L260.3 261.6L255.1 259L248.2 266.5Z" fill="#ffe97e"/>
<path d="M248.2 266.5L255.1 259L250 256.6L243.1 264Z" fill="#ffeb7d"/>
<path d="M265.4 264.2L272.4 257.3L267.2 254.6L260.3 261.6Z" fill="#ffe47e"/>
<path d="M260.3 261.6L267.2 254.6L262.1 252L255.1 259Z" fill="#ffe57d"/>
<path d="M255.1 259L262.1 252L256.9 249.5L250 256.6Z" fill="#ffe67c"/>
<path d="M272.4 257.3L279.4 250.5L274.2 247.7L267.2 254.6Z" fill="#ffe07f"/>
<path d="M267.2 254.6L274.2 247.7L269 245L262.1 252Z" fill="#ffe17e"/>
<path d="M262.1 252L269 245L263.8 242.5L256.9 249.5Z" fill="#ffe27d"/>
<path class="o" d="M258.5 271.6L265.4 264.2L272.4 257.3L279.4 250.5L274.2 247.7L269 245L263.8 242.5L256.9 249.5L250 256.6L243.1 264L248.2 266.5L253.3 269Z"/>
<path d="M670.5 373.1L676.9 373.4L670.9 368L664.5 367.6Z" fill="#13d905"/>
<path d="M664.5 367.6L670.9 368L664.9 362.7L658.5 362.2Z" fill="#18da06"/>
<path d="M658.5 362.2L664.9 362.7L658.9 357.4L652.6 356.7Z" fill="#1eda06"/>
<path d="M676.9 373.4L683.2 373.6L677.2 368.3L670.9 368Z" fill="#0bd805"/>
<path d="M670.9 368L677.2 368.3L671.2 363.1L664.9 362.7Z" fill="#0cd805"/>
<path d="M664.9 362.7L671.2 363.1L665.3 358L658.9 357.4Z" fill="#0ed805"/>
<path d="M683.2 373.6L689.5 373.8L683.5 368.6L677.2 368.3Z" fill="#0ad804"/>
<path d="M677.2 368.3L683.5 368.6L677.6 363.5L671.2 363.1Z" fill="#0ad804"/>
<path d="M671.2 363.1L677.6 363.5L671.6 358.5L665.3 358Z" fill="#0bd804"/>
<path class="o" d="M670.5 373.1L676.9 373.4L683.2 373.6L689.5 373.8L683.5 368.6L677.6 363.5L671.6 358.5L665.3 358L658.9 357.4L652.6 356.7L658.5 362.2L664.5 367.6Z"/>
<path d="M725.7 408.7L731.9 408.1L725.9 401.9L719.6 402.4Z" fill="#07d903"/>
<path d="M719.6 402.4L725.9 401.9L719.9 395.7L713.6 396.1Z" fill="#07d903"/>
<path d="M713.6 396.1L719.9 395.7L713.9 389.5L707.6 389.7Z" fill="#08d903"/>
<path d="M731.9 408.1L738.2 407.4L732.2 401.3L725.9 401.9Z" fill="#06d903"/>
<path d="M725.9 401.9L732.2 401.3L726.1 395.3L719.9 395.7Z" fill="#06d902"/>
<path d="M719.9 395.7L726.1 395.3L720.1 389.2L713.9 389.5Z" fill="#06d903"/>
<path d="M738.2 407.4L744.4 406.7L738.4 400.8L732.2 401.3Z" fill="#05d902"/>
<path d="M732.2 401.3L738.4 400.8L732.3 394.9L726.1 395.3Z" fill="#05d902"/>
<path d="M726.1 395.3L732.3 394.9L726.3 388.9L720.1 389.2Z" fill="#06d902"/>
<path class="o" d="M725.7 408.7L731.9 408.1L738.2 407.4L744.4 406.7L738.4 400.8L732.3 394.9L726.3 388.9L720.1 389.2L713.9 389.5L707.6 389.7L713.6 396.1L719.6 402.4Z"/>
<path d="M237.8 297L244.7 288.6L239.6 285.7L232.7 294Z" fill="#fdf989"/>
<path d="M232.7 294L239.6 285.7L234.5 282.9L227.6 291Z" fill="#fdfb87"/>
<path d="M227.6 291L234.5 282.9L229.4 280.2L222.5 288.3Z" fill="#fcfb84"/>
<path d="M244.7 288.6L251.6 279.9L246.5 277.2L239.6 285.7Z" fill="#fef486"/>
<path d="M239.6 285.7L246.5 277.2L241.3 274.6L234.5 282.9Z" fill="#fef584"/>
<path d="M234.5 282.9L241.3 274.6L236.2 272L229.4 280.2Z" fill="#fdf682"/>
<path d="M251.6 279.9L258.5 271.6L253.3 269L246.5 277.2Z" fill="#ffee83"/>
<path d="M246.5 277.2L253.3 269L248.2 266.5L241.3 274.6Z" fill="#feef81"/>
<path d="M241.3 274.6L248.2 266.5L243.1 264L236.2 272Z" fill="#fef080"/>
<path class="o" d="M237.8 297L244.7 288.6L251.6 279.9L258.5 271.6L253.3 269L248.2 266.5L243.1 264L236.2 272L229.4 280.2L222.5 288.3L227.6 291L232.7 294Z"/>
<path d="M484.7 285.3L491.6 284.7L485.9 281.2L479 281.7Z" fill="#fdde01"/>
<path d="M479 281.7L485.9 281.2L480.2 277.7L473.3 278.2Z" fill="#fddf01"/>
<path d="M473.3 278.2L480.2 277.7L474.5 274.3L467.6 274.7Z" fill="#fce102"/>
<path d="M491.6 284.7L498.4 284.3L492.7 280.8L485.9 281.2Z" fill="#fbe602"/>
<path d="M485.9 281.2L492.7 280.8L487.1 277.4L480.2 277.7Z" fill="#fae703"/>
<path d="M480.2 277.7L487.1 277.4L481.4 274.1L474.5 274.3Z" fill="#fae903"/>
<path d="M498.4 284.3L505.3 284.2L499.6 280.7L492.7 280.8Z" fill="#f8ee04"/>
<path d="M492.7 280.8L499.6 280.7L493.9 277.4L487.1 277.4Z" fill="#f8f004"/>
<path d="M487.1 277.4L493.9 277.4L488.2 274.1L481.4 274.1Z" fill="#f7f104"/>
<path class="o" d="M484.7 285.3L491.6 284.7L498.4 284.3L505.3 284.2L499.6 280.7L493.9 277.4L488.2 274.1L481.4 274.1L474.5 274.3L467.6 274.7L473.3 278.2L479 281.7Z"/>
<path d="M780.7 446.6L786.9 445.1L780.8 438.3L774.6 439.6Z" fill="#0ddc11"/>
<path d="M774.6 439.6L780.8 438.3L774.8 431.6L768.6 432.7Z" fill="#09db0a"/>
<path d="M768.6 432.7L774.8 431.6L768.7 424.9L762.5 425.9Z" fill="#07db07"/>
<path d="M786.9 445.1L793 443.6L787 437L780.8 438.3Z" fill="#0cdc15"/>
<path d="M780.8 438.3L787 437L780.9 430.5L774.8 431.6Z" fill="#09db0d"/>
<path d="M774.8 431.6L780.9 430.5L774.9 424L768.7 424.9Z" fill="#06db07"/>
<path d="M793 443.6L799.2 442.2L793.1 435.8L787 437Z" fill="#0cdc18"/>
<path d="M787 437L793.1 435.8L787 429.4L780.9 430.5Z" fill="#09db11"/>
<path d="M780.9 430.5L787 429.4L781 423.1L774.9 424Z" fill="#06db0a"/>
<path class="o" d="M780.7 446.6L786.9 445.1L793 443.6L799.2 442.2L793.1 435.8L787 429.4L781 423.1L774.9 424L768.7 424.9L762.5 425.9L768.6 432.7L774.6 439.6Z"/>
<path d="M217 320.2L223.9 312.4L218.8 309.3L211.9 317.2Z" fill="#eefc88"/>
<path d="M211.9 317.2L218.8 309.3L213.7 306.3L206.8 314.2Z" fill="#edfc87"/>
<path d="M206.8 314.2L213.7 306.3L208.7 303.5L201.8 311.3Z" fill="#ebfb85"/>
<path d="M223.9 312.4L230.9 304.8L225.8 301.7L218.8 309.3Z" fill="#f4fc87"/>
<path d="M218.8 309.3L225.8 301.7L220.7 298.7L213.7 306.3Z" fill="#f3fc86"/>
<path d="M213.7 306.3L220.7 298.7L215.6 295.9L208.7 303.5Z" fill="#f1fc83"/>
<path d="M230.9 304.8L237.8 297L232.7 294L225.8 301.7Z" fill="#fafc88"/>
<path d="M225.8 301.7L232.7 294L227.6 291L220.7 298.7Z" fill="#f9fc87"/>
<path d="M220.7 298.7L227.6 291L222.5 288.3L215.6 295.9Z" fill="#f7fc83"/>
<path class="o" d="M217 320.2L223.9 312.4L230.9 304.8L237.8 297L232.7 294L227.6 291L222.5 288.3L215.6 295.9L208.7 303.5L201.8 311.3L206.8 314.2L211.9 317.2Z"/>
<path d="M446.8 277.7L453.8 276.6L448.1 272.9L441.1 273.9Z" fill="#ffd005"/>
<path d="M441.1 273.9L448.1 272.9L442.5 269.2L435.5 270Z" fill="#ffd103"/>
<path d="M435.5 270L442.5 269.2L436.9 265.5L429.9 266.2Z" fill="#ffd102"/>
<path d="M453.8 276.6L460.7 275.6L455.1 272.1L448.1 272.9Z" fill="#ffd503"/>
<path d="M448.1 272.9L455.1 272.1L449.5 268.4L442.5 269.2Z" fill="#ffd602"/>
<path d="M442.5 269.2L449.5 268.4L443.9 264.8L436.9 265.5Z" fill="#ffd601"/>
<path d="M460.7 275.6L467.6 274.7L462 271.3L455.1 272.1Z" fill="#fedb02"/>
<path d="M455.1 272.1L462 271.3L456.4 267.7L449.5 268.4Z" fill="#fedc02"/>
<path d="M449.5 268.4L456.4 267.7L450.8 264.2L443.9 264.8Z" fill="#fddd01"/>
<path class="o" d="M446.8 277.7L453.8 276.6L460.7 275.6L467.6 274.7L462 271.3L456.4 267.7L450.8 264.2L443.9 264.8L436.9 265.5L429.9 266.2L435.5 270L441.1 273.9Z"/>
<path d="M577.8 322.7L584.5 322.5L578.6 318L571.9 318Z" fill="#b6ed0c"/>
<path d="M571.9 318L578.6 318L572.7 313.4L566 313.4Z" fill="#b9ee0c"/>
<path d="M566 313.4L572.7 313.4L566.9 308.9L560.2 308.8Z" fill="#bbee0c"/>
<path d="M584.5 322.5L591.1 322.4L585.2 318L578.6 318Z" fill="#a4eb0c"/>
<path d="M578.6 318L585.2 318L579.3 313.5L572.7 313.4Z" fill="#a7eb0c"/>
<path d="M572.7 313.4L579.3 313.5L573.5 309.1L566.9 308.9Z" fill="#a9ec0c"/>
<path d="M591.1 322.4L597.7 322.4L591.8 318L585.2 318Z" fill="#93e90c"/>
<path d="M585.2 318L591.8 318L585.9 313.6L579.3 313.5Z" fill="#94e90c"/>
<path d="M579.3 313.5L585.9 313.6L580.1 309.3L573.5 309.1Z" fill="#96e90c"/>
<path class="o" d="M577.8 322.7L584.5 322.5L591.1 322.4L597.7 322.4L591.8 318L585.9 313.6L580.1 309.3L573.5 309.1L566.9 308.9L560.2 308.8L566 313.4L571.9 318Z"/>
<path d="M196.4 347.4L203.2 338L198.2 335L191.4 344.4Z" fill="#d1fa87"/>
<path d="M191.4 344.4L198.2 335L193.1 332L186.4 341.5Z" fill="#cef985"/>
<path d="M186.4 341.5L193.1 332L188.1 329.2L181.4 338.6Z" fill="#cbf983"/>
<path d="M203.2 338L210.1 328.9L205 325.8L198.2 335Z" fill="#defa88"/>
<path d="M198.2 335L205 325.8L200 322.8L193.1 332Z" fill="#dbfa86"/>
<path d="M193.1 332L200 322.8L194.9 320L188.1 329.2Z" fill="#d8fa84"/>
<path d="M210.1 328.9L217 320.2L211.9 317.2L205 325.8Z" fill="#e8fb89"/>
<path d="M205 325.8L211.9 317.2L206.8 314.2L200 322.8Z" fill="#e6fb88"/>
<path d="M200 322.8L206.8 314.2L201.8 311.3L194.9 320Z" fill="#e4fb86"/>
<path class="o" d="M196.4 347.4L203.2 338L210.1 328.9L217 320.2L211.9 317.2L206.8 314.2L201.8 311.3L194.9 320L188.1 329.2L181.4 338.6L186.4 341.5L191.4 344.4Z"/>
<path d="M408.7 267.6L415.8 267.2L410.2 263.2L403.1 263.5Z" fill="#ffbe00"/>
<path d="M403.1 263.5L410.2 263.2L404.7 259.2L397.6 259.5Z" fill="#ffbe00"/>
<path d="M397.6 259.5L404.7 259.2L399.1 255.2L392 255.5Z" fill="#ffbe00"/>
<path d="M415.8 267.2L422.9 266.7L417.3 262.8L410.2 263.2Z" fill="#ffc400"/>
<path d="M410.2 263.2L417.3 262.8L411.8 258.8L404.7 259.2Z" fill="#ffc400"/>
<path d="M404.7 259.2L411.8 258.8L406.2 254.9L399.1 255.2Z" fill="#ffc400"/>
<path d="M422.9 266.7L429.9 266.2L424.3 262.3L417.3 262.8Z" fill="#ffcb00"/>
<path d="M417.3 262.8L424.3 262.3L418.8 258.5L411.8 258.8Z" fill="#ffcb00"/>
<path d="M411.8 258.8L418.8 258.5L413.3 254.7L406.2 254.9Z" fill="#ffcb00"/>
<path class="o" d="M408.7 267.6L415.8 267.2L422.9 266.7L429.9 266.2L424.3 262.3L418.8 258.5L413.3 254.7L406.2 254.9L399.1 255.2L392 255.5L397.6 259.5L403.1 263.5Z"/>
<path d="M633.2 353.6L639.7 354.7L633.7 349.4L627.3 348.2Z" fill="#60e30a"/>
<path d="M627.3 348.2L633.7 349.4L627.8 344.1L621.3 342.8Z" fill="#66e40a"/>
<path d="M621.3 342.8L627.8 344.1L621.9 338.8L615.4 337.4Z" fill="#6ce50a"/>
<path d="M639.7 354.7L646.2 355.7L640.2 350.5L633.7 349.4Z" fill="#4be109"/>
<path d="M633.7 349.4L640.2 350.5L634.3 345.4L627.8 344.1Z" fill="#50e109"/>
<path d="M627.8 344.1L634.3 345.4L628.3 340.2L621.9 338.8Z" fill="#55e209"/>
<path d="M646.2 355.7L652.6 356.7L646.6 351.7L640.2 350.5Z" fill="#36de08"/>
<path d="M640.2 350.5L646.6 351.7L640.7 346.6L634.3 345.4Z" fill="#3ade08"/>
<path d="M634.3 345.4L640.7 346.6L634.7 341.6L628.3 340.2Z" fill="#3fdf08"/>
<path class="o" d="M633.2 353.6L639.7 354.7L646.2 355.7L652.6 356.7L646.6 351.7L640.7 346.6L634.7 341.6L628.3 340.2L621.9 338.8L615.4 337.4L621.3 342.8L627.3 348.2Z"/>
<path d="M295.1 258.8L302.1 251.6L296.8 248.8L289.9 255.9Z" fill="#ffd982"/>
<path d="M289.9 255.9L296.8 248.8L291.6 246.1L284.6 253.2Z" fill="#ffd980"/>
<path d="M284.6 253.2L291.6 246.1L286.3 243.4L279.4 250.5Z" fill="#ffdb80"/>
<path d="M302.1 251.6L309.2 246L303.8 242.2L296.8 248.8Z" fill="#ffd178"/>
<path d="M296.8 248.8L303.8 242.2L298.5 238.9L291.6 246.1Z" fill="#ffd682"/>
<path d="M291.6 246.1L298.5 238.9L293.3 236.2L286.3 243.4Z" fill="#ffd781"/>
<path d="M309.2 246L316.4 243.3L311 239.4L303.8 242.2Z" fill="#ffba35"/>
<path d="M303.8 242.2L311 239.4L305.7 235.6L298.5 238.9Z" fill="#ffbb38"/>
<path d="M298.5 238.9L305.7 235.6L300.3 231.8L293.3 236.2Z" fill="#ffc450"/>
<path class="o" d="M295.1 258.8L302.1 251.6L309.2 246L316.4 243.3L311 239.4L305.7 235.6L300.3 231.8L293.3 236.2L286.3 243.4L279.4 250.5L284.6 253.2L289.9 255.9Z"/>
<path d="M688.6 389.9L695 389.9L688.9 384.4L682.5 384.3Z" fill="#0bd805"/>
<path d="M682.5 384.3L688.9 384.4L682.9 378.9L676.5 378.7Z" fill="#0cd805"/>
<path d="M676.5 378.7L682.9 378.9L676.9 373.4L670.5 373.1Z" fill="#0ed805"/>
<path d="M695 389.9L701.3 389.9L695.2 384.5L688.9 384.4Z" fill="#0ad804"/>
<path d="M688.9 384.4L695.2 384.5L689.2 379L682.9 378.9Z" fill="#0bd804"/>
<path d="M682.9 378.9L689.2 379L683.2 373.6L676.9 373.4Z" fill="#0bd805"/>
<path d="M701.3 389.9L707.6 389.7L701.6 384.4L695.2 384.5Z" fill="#09d804"/>
<path d="M695.2 384.5L701.6 384.4L695.5 379.1L689.2 379Z" fill="#09d804"/>
<path d="M689.2 379L695.5 379.1L689.5 373.8L683.2 373.6Z" fill="#0ad804"/>
<path class="o" d="M688.6 389.9L695 389.9L701.3 389.9L707.6 389.7L701.6 384.4L695.5 379.1L689.5 373.8L683.2 373.6L676.9 373.4L670.5 373.1L676.5 378.7L682.5 384.3Z"/>
<path d="M743.8 429.3L750 428.2L744 421.4L737.7 422.4Z" fill="#0ada08"/>
<path d="M737.7 422.4L744 421.4L738 414.7L731.7 415.5Z" fill="#09da06"/>
<path d="M731.7 415.5L738 414.7L731.9 408.1L725.7 408.7Z" fill="#07d904"/>
<path d="M750 428.2L756.3 427L750.2 420.4L744 421.4Z" fill="#0ada08"/>
<path d="M744 421.4L750.2 420.4L744.2 413.9L738 414.7Z" fill="#08da06"/>
<path d="M738 414.7L744.2 413.9L738.2 407.4L731.9 408.1Z" fill="#07da04"/>
<path d="M756.3 427L762.5 425.9L756.5 419.4L750.2 420.4Z" fill="#0adb08"/>
<path d="M750.2 420.4L756.5 419.4L750.4 413.1L744.2 413.9Z" fill="#08da06"/>
<path d="M744.2 413.9L750.4 413.1L744.4 406.7L738.2 407.4Z" fill="#06da04"/>
<path class="o" d="M743.8 429.3L750 428.2L756.3 427L762.5 425.9L756.5 419.4L750.4 413.1L744.4 406.7L738.2 407.4L731.9 408.1L725.7 408.7L731.7 415.5L737.7 422.4Z"/>
<path d="M370.7 260.8L377.8 259.1L372.3 255L365.2 256.7Z" fill="#ffb917"/>
<path d="M365.2 256.7L372.3 255L366.8 251L359.7 252.7Z" fill="#ffb917"/>
<path d="M359.7 252.7L366.8 251L361.4 247.1L354.2 248.8Z" fill="#ffb917"/>
<path d="M377.8 259.1L384.9 257.3L379.4 253.3L372.3 255Z" fill="#ffbc18"/>
<path d="M372.3 255L379.4 253.3L373.9 249.3L366.8 251Z" fill="#ffbc18"/>
<path d="M366.8 251L373.9 249.3L368.5 245.3L361.4 247.1Z" fill="#ffbc18"/>
<path d="M384.9 257.3L392 255.5L386.5 251.5L379.4 253.3Z" fill="#ffc019"/>
<path d="M379.4 253.3L386.5 251.5L381 247.5L373.9 249.3Z" fill="#ffbf19"/>
<path d="M373.9 249.3L381 247.5L375.6 243.6L368.5 245.3Z" fill="#ffbf19"/>
<path class="o" d="M370.7 260.8L377.8 259.1L384.9 257.3L392 255.5L386.5 251.5L381 247.5L375.6 243.6L368.5 245.3L361.4 247.1L354.2 248.8L359.7 252.7L365.2 256.7Z"/>
<path d="M540 309.1L546.7 309L540.9 304.5L534.1 304.6Z" fill="#f3f505"/>
<path d="M534.1 304.6L540.9 304.5L535.1 300.1L528.3 300.2Z" fill="#f4f505"/>
<path d="M528.3 300.2L535.1 300.1L529.3 295.8L522.5 295.9Z" fill="#f5f405"/>
<path d="M546.7 309L553.5 308.9L547.7 304.5L540.9 304.5Z" fill="#e2f308"/>
<path d="M540.9 304.5L547.7 304.5L541.8 300.1L535.1 300.1Z" fill="#e3f308"/>
<path d="M535.1 300.1L541.8 300.1L536.1 295.8L529.3 295.8Z" fill="#e5f408"/>
<path d="M553.5 308.9L560.2 308.8L554.4 304.5L547.7 304.5Z" fill="#d0f10b"/>
<path d="M547.7 304.5L554.4 304.5L548.6 300.2L541.8 300.1Z" fill="#d1f10b"/>
<path d="M541.8 300.1L548.6 300.2L542.8 296L536.1 295.8Z" fill="#d3f10b"/>
<path class="o" d="M540 309.1L546.7 309L553.5 308.9L560.2 308.8L554.4 304.5L548.6 300.2L542.8 296L536.1 295.8L529.3 295.8L522.5 295.9L528.3 300.2L534.1 304.6Z"/>
<path d="M332.6 254.9L339.8 252.8L334.4 248.9L327.2 251Z" fill="#ffb31f"/>
<path d="M327.2 251L334.4 248.9L329 245.1L321.8 247.1Z" fill="#ffb420"/>
<path d="M321.8 247.1L329 245.1L323.6 241.2L316.4 243.3Z" fill="#ffb421"/>
<path d="M339.8 252.8L347 250.8L341.6 246.9L334.4 248.9Z" fill="#ffb620"/>
<path d="M334.4 248.9L341.6 246.9L336.2 243L329 245.1Z" fill="#ffb620"/>
<path d="M329 245.1L336.2 243L330.8 239.1L323.6 241.2Z" fill="#ffb721"/>
<path d="M347 250.8L354.2 248.8L348.8 244.8L341.6 246.9Z" fill="#ffb920"/>
<path d="M341.6 246.9L348.8 244.8L343.3 240.9L336.2 243Z" fill="#ffb921"/>
<path d="M336.2 243L343.3 240.9L337.9 237.1L330.8 239.1Z" fill="#ffb921"/>
<path class="o" d="M332.6 254.9L339.8 252.8L347 250.8L354.2 248.8L348.8 244.8L343.3 240.9L337.9 237.1L330.8 239.1L323.6 241.2L316.4 243.3L321.8 247.1L327.2 251Z"/>
<path d="M274.2 281L281.2 273.3L275.9 270.3L268.9 277.8Z" fill="#ffe789"/>
<path d="M268.9 277.8L275.9 270.3L270.7 267.2L263.7 274.7Z" fill="#ffe88a"/>
<path d="M263.7 274.7L270.7 267.2L265.4 264.2L258.5 271.6Z" fill="#ffe887"/>
<path d="M281.2 273.3L288.2 266L282.9 263L275.9 270.3Z" fill="#ffe286"/>
<path d="M275.9 270.3L282.9 263L277.6 260.1L270.7 267.2Z" fill="#ffe385"/>
<path d="M270.7 267.2L277.6 260.1L272.4 257.3L265.4 264.2Z" fill="#ffe382"/>
<path d="M288.2 266L295.1 258.8L289.9 255.9L282.9 263Z" fill="#ffdd83"/>
<path d="M282.9 263L289.9 255.9L284.6 253.2L277.6 260.1Z" fill="#ffde81"/>
<path d="M277.6 260.1L284.6 253.2L279.4 250.5L272.4 257.3Z" fill="#ffde7e"/>
<path class="o" d="M274.2 281L281.2 273.3L288.2 266L295.1 258.8L289.9 255.9L284.6 253.2L279.4 250.5L272.4 257.3L265.4 264.2L258.5 271.6L263.7 274.7L268.9 277.8Z"/>
<path d="M501.9 296.3L508.8 295.9L503.1 292.1L496.2 292.6Z" fill="#fedb01"/>
<path d="M496.2 292.6L503.1 292.1L497.3 288.3L490.4 288.9Z" fill="#fedc01"/>
<path d="M490.4 288.9L497.3 288.3L491.6 284.7L484.7 285.3Z" fill="#fddd01"/>
<path d="M508.8 295.9L515.7 295.8L509.9 291.8L503.1 292.1Z" fill="#fbe302"/>
<path d="M503.1 292.1L509.9 291.8L504.2 288L497.3 288.3Z" fill="#fbe402"/>
<path d="M497.3 288.3L504.2 288L498.4 284.3L491.6 284.7Z" fill="#fbe402"/>
<path d="M515.7 295.8L522.5 295.9L516.7 291.9L509.9 291.8Z" fill="#f9ec03"/>
<path d="M509.9 291.8L516.7 291.9L511 288L504.2 288Z" fill="#f9ec03"/>
<path d="M504.2 288L511 288L505.3 284.2L498.4 284.3Z" fill="#f9ed04"/>
<path class="o" d="M501.9 296.3L508.8 295.9L515.7 295.8L522.5 295.9L516.7 291.9L511 288L505.3 284.2L498.4 284.3L491.6 284.7L484.7 285.3L490.4 288.9L496.2 292.6Z"/>
<path d="M595.5 338L602.2 337.8L596.3 332.7L589.6 332.9Z" fill="#a8eb0c"/>
<path d="M589.6 332.9L596.3 332.7L590.3 327.6L583.7 327.8Z" fill="#adec0c"/>
<path d="M583.7 327.8L590.3 327.6L584.5 322.5L577.8 322.7Z" fill="#b2ed0c"/>
<path d="M602.2 337.8L608.8 337.6L602.9 332.5L596.3 332.7Z" fill="#97e90c"/>
<path d="M596.3 332.7L602.9 332.5L597 327.5L590.3 327.6Z" fill="#9cea0c"/>
<path d="M590.3 327.6L597 327.5L591.1 322.4L584.5 322.5Z" fill="#a1ea0c"/>
<path d="M608.8 337.6L615.4 337.4L609.5 332.4L602.9 332.5Z" fill="#86e70b"/>
<path d="M602.9 332.5L609.5 332.4L603.6 327.4L597 327.5Z" fill="#8ae80c"/>
<path d="M597 327.5L603.6 327.4L597.7 322.4L591.1 322.4Z" fill="#8fe80c"/>
<path class="o" d="M595.5 338L602.2 337.8L608.8 337.6L615.4 337.4L609.5 332.4L603.6 327.4L597.7 322.4L591.1 322.4L584.5 322.5L577.8 322.7L583.7 327.8L589.6 332.9Z"/>
<path d="M253.3 305.3L260.3 297.1L255.1 294.2L248.1 302.4Z" fill="#fef586"/>
<path d="M248.1 302.4L255.1 294.2L249.9 291.4L243 299.7Z" fill="#fdf684"/>
<path d="M243 299.7L249.9 291.4L244.7 288.6L237.8 297Z" fill="#fdf884"/>
<path d="M260.3 297.1L267.2 288.9L262 285.9L255.1 294.2Z" fill="#fef088"/>
<path d="M255.1 294.2L262 285.9L256.8 282.9L249.9 291.4Z" fill="#fef187"/>
<path d="M249.9 291.4L256.8 282.9L251.6 279.9L244.7 288.6Z" fill="#fef287"/>
<path d="M267.2 288.9L274.2 281L268.9 277.8L262 285.9Z" fill="#ffeb8a"/>
<path d="M262 285.9L268.9 277.8L263.7 274.7L256.8 282.9Z" fill="#ffec8b"/>
<path d="M256.8 282.9L263.7 274.7L258.5 271.6L251.6 279.9Z" fill="#ffed8a"/>
<path class="o" d="M253.3 305.3L260.3 297.1L267.2 288.9L274.2 281L268.9 277.8L263.7 274.7L258.5 271.6L251.6 279.9L244.7 288.6L237.8 297L243 299.7L248.1 302.4Z"/>
<path d="M761.9 451.6L768.2 449.9L762.1 442.6L755.8 444.1Z" fill="#12de11"/>
<path d="M755.8 444.1L762.1 442.6L756.1 435.4L749.8 436.7Z" fill="#0fdc0d"/>
<path d="M749.8 436.7L756.1 435.4L750 428.2L743.8 429.3Z" fill="#0cdb0a"/>
<path d="M768.2 449.9L774.4 448.3L768.4 441.1L762.1 442.6Z" fill="#12de11"/>
<path d="M762.1 442.6L768.4 441.1L762.3 434.1L756.1 435.4Z" fill="#0fdd0e"/>
<path d="M756.1 435.4L762.3 434.1L756.3 427L750 428.2Z" fill="#0cdb0b"/>
<path d="M774.4 448.3L780.7 446.6L774.6 439.6L768.4 441.1Z" fill="#11de12"/>
<path d="M768.4 441.1L774.6 439.6L768.6 432.7L762.3 434.1Z" fill="#0fdd0e"/>
<path d="M762.3 434.1L768.6 432.7L762.5 425.9L756.3 427Z" fill="#0cdb0b"/>
<path class="o" d="M761.9 451.6L768.2 449.9L774.4 448.3L780.7 446.6L774.6 439.6L768.6 432.7L762.5 425.9L756.3 427L750 428.2L743.8 429.3L749.8 436.7L755.8 444.1Z"/>
<path d="M463.8 289L470.8 287.6L465.1 284L458.1 285.3Z" fill="#ffcf09"/>
<path d="M458.1 285.3L465.1 284L459.4 280.3L452.4 281.5Z" fill="#ffd008"/>
<path d="M452.4 281.5L459.4 280.3L453.8 276.6L446.8 277.7Z" fill="#ffd006"/>
<path d="M470.8 287.6L477.8 286.4L472.1 282.8L465.1 284Z" fill="#ffd407"/>
<path d="M465.1 284L472.1 282.8L466.4 279.2L459.4 280.3Z" fill="#ffd406"/>
<path d="M459.4 280.3L466.4 279.2L460.7 275.6L453.8 276.6Z" fill="#ffd505"/>
<path d="M477.8 286.4L484.7 285.3L479 281.7L472.1 282.8Z" fill="#ffd805"/>
<path d="M472.1 282.8L479 281.7L473.3 278.2L466.4 279.2Z" fill="#ffd904"/>
<path d="M466.4 279.2L473.3 278.2L467.6 274.7L460.7 275.6Z" fill="#feda03"/>
<path class="o" d="M463.8 289L470.8 287.6L477.8 286.4L484.7 285.3L479 281.7L473.3 278.2L467.6 274.7L460.7 275.6L453.8 276.6L446.8 277.7L452.4 281.5L458.1 285.3Z"/>
<path d="M651.2 371.1L657.7 371.8L651.7 366.1L645.2 365.2Z" fill="#4be109"/>
<path d="M645.2 365.2L651.7 366.1L645.7 360.4L639.2 359.4Z" fill="#52e209"/>
<path d="M639.2 359.4L645.7 360.4L639.7 354.7L633.2 353.6Z" fill="#5ae30a"/>
<path d="M657.7 371.8L664.1 372.5L658.1 366.9L651.7 366.1Z" fill="#38de08"/>
<path d="M651.7 366.1L658.1 366.9L652.1 361.3L645.7 360.4Z" fill="#3edf08"/>
<path d="M645.7 360.4L652.1 361.3L646.2 355.7L639.7 354.7Z" fill="#45e009"/>
<path d="M664.1 372.5L670.5 373.1L664.5 367.6L658.1 366.9Z" fill="#25db07"/>
<path d="M658.1 366.9L664.5 367.6L658.5 362.2L652.1 361.3Z" fill="#2bdc07"/>
<path d="M652.1 361.3L658.5 362.2L652.6 356.7L646.2 355.7Z" fill="#31dd08"/>
<path class="o" d="M651.2 371.1L657.7 371.8L664.1 372.5L670.5 373.1L664.5 367.6L658.5 362.2L652.6 356.7L646.2 355.7L639.7 354.7L633.2 353.6L639.2 359.4L645.2 365.2Z"/>
<path d="M706.6 410.3L713 409.8L707 403.2L700.6 403.5Z" fill="#09d804"/>
<path d="M700.6 403.5L707 403.2L701 396.6L694.6 396.7Z" fill="#0ad804"/>
<path d="M694.6 396.7L701 396.6L695 389.9L688.6 389.9Z" fill="#0bd804"/>
<path d="M713 409.8L719.4 409.3L713.3 402.8L707 403.2Z" fill="#08d903"/>
<path d="M707 403.2L713.3 402.8L707.3 396.3L701 396.6Z" fill="#09d904"/>
<path d="M701 396.6L707.3 396.3L701.3 389.9L695 389.9Z" fill="#0ad804"/>
<path d="M719.4 409.3L725.7 408.7L719.6 402.4L713.3 402.8Z" fill="#07d903"/>
<path d="M713.3 402.8L719.6 402.4L713.6 396.1L707.3 396.3Z" fill="#08d903"/>
<path d="M707.3 396.3L713.6 396.1L707.6 389.7L701.3 389.9Z" fill="#09d904"/>
<path class="o" d="M706.6 410.3L713 409.8L719.4 409.3L725.7 408.7L719.6 402.4L713.6 396.1L707.6 389.7L701.3 389.9L695 389.9L688.6 389.9L694.6 396.7L700.6 403.5Z"/>
<path d="M232.5 329.9L239.4 321.5L234.2 318.5L227.3 326.7Z" fill="#f3fc89"/>
<path d="M227.3 326.7L234.2 318.5L229.1 315.4L222.1 323.5Z" fill="#f1fc8a"/>
<path d="M222.1 323.5L229.1 315.4L223.9 312.4L217 320.2Z" fill="#f0fc8a"/>
<path d="M239.4 321.5L246.4 313.4L241.2 310.5L234.2 318.5Z" fill="#f9fc86"/>
<path d="M234.2 318.5L241.2 310.5L236 307.7L229.1 315.4Z" fill="#f7fc86"/>
<path d="M229.1 315.4L236 307.7L230.9 304.8L223.9 312.4Z" fill="#f6fc86"/>
<path d="M246.4 313.4L253.3 305.3L248.1 302.4L241.2 310.5Z" fill="#fdfa85"/>
<path d="M241.2 310.5L248.1 302.4L243 299.7L236 307.7Z" fill="#fcfb83"/>
<path d="M236 307.7L243 299.7L237.8 297L230.9 304.8Z" fill="#fbfc83"/>
<path class="o" d="M232.5 329.9L239.4 321.5L246.4 313.4L253.3 305.3L248.1 302.4L243 299.7L237.8 297L230.9 304.8L223.9 312.4L217 320.2L222.1 323.5L227.3 326.7Z"/>
<path d="M211.7 357L218.6 347.6L213.5 344.3L206.6 353.6Z" fill="#d9fa8b"/>
<path d="M206.6 353.6L213.5 344.3L208.3 341.1L201.5 350.5Z" fill="#d7fa89"/>
<path d="M201.5 350.5L208.3 341.1L203.2 338L196.4 347.4Z" fill="#d4fa88"/>
<path d="M218.6 347.6L225.5 338.6L220.4 335.3L213.5 344.3Z" fill="#e4fb8b"/>
<path d="M213.5 344.3L220.4 335.3L215.2 332.1L208.3 341.1Z" fill="#e3fb8b"/>
<path d="M208.3 341.1L215.2 332.1L210.1 328.9L203.2 338Z" fill="#e1fb8a"/>
<path d="M225.5 338.6L232.5 329.9L227.3 326.7L220.4 335.3Z" fill="#ecfc8b"/>
<path d="M220.4 335.3L227.3 326.7L222.1 323.5L215.2 332.1Z" fill="#ebfb8c"/>
<path d="M215.2 332.1L222.1 323.5L217 320.2L210.1 328.9Z" fill="#eafb8c"/>
<path class="o" d="M211.7 357L218.6 347.6L225.5 338.6L232.5 329.9L227.3 326.7L222.1 323.5L217 320.2L210.1 328.9L203.2 338L196.4 347.4L201.5 350.5L206.6 353.6Z"/>
<path d="M425.6 279.9L432.7 279.3L427 275.2L419.9 275.8Z" fill="#ffbe00"/>
<path d="M419.9 275.8L427 275.2L421.4 271.2L414.3 271.7Z" fill="#ffbe00"/>
<path d="M414.3 271.7L421.4 271.2L415.8 267.2L408.7 267.6Z" fill="#ffbe00"/>
<path d="M432.7 279.3L439.7 278.5L434.1 274.6L427 275.2Z" fill="#ffc501"/>
<path d="M427 275.2L434.1 274.6L428.5 270.6L421.4 271.2Z" fill="#ffc401"/>
<path d="M421.4 271.2L428.5 270.6L422.9 266.7L415.8 267.2Z" fill="#ffc400"/>
<path d="M439.7 278.5L446.8 277.7L441.1 273.9L434.1 274.6Z" fill="#ffca02"/>
<path d="M434.1 274.6L441.1 273.9L435.5 270L428.5 270.6Z" fill="#ffca01"/>
<path d="M428.5 270.6L435.5 270L429.9 266.2L422.9 266.7Z" fill="#ffcb00"/>
<path class="o" d="M425.6 279.9L432.7 279.3L439.7 278.5L446.8 277.7L441.1 273.9L435.5 270L429.9 266.2L422.9 266.7L415.8 267.2L408.7 267.6L414.3 271.7L419.9 275.8Z"/>
<path d="M557.6 323.6L564.4 323.2L558.5 318.5L551.7 318.7Z" fill="#e9f407"/>
<path d="M551.7 318.7L558.5 318.5L552.6 313.7L545.8 313.9Z" fill="#edf506"/>
<path d="M545.8 313.9L552.6 313.7L546.7 309L540 309.1Z" fill="#f1f506"/>
<path d="M564.4 323.2L571.1 323L565.2 318.3L558.5 318.5Z" fill="#d8f20a"/>
<path d="M558.5 318.5L565.2 318.3L559.3 313.6L552.6 313.7Z" fill="#dbf209"/>
<path d="M552.6 313.7L559.3 313.6L553.5 308.9L546.7 309Z" fill="#dff309"/>
<path d="M571.1 323L577.8 322.7L571.9 318L565.2 318.3Z" fill="#c7f00c"/>
<path d="M565.2 318.3L571.9 318L566 313.4L559.3 313.6Z" fill="#caf00c"/>
<path d="M559.3 313.6L566 313.4L560.2 308.8L553.5 308.9Z" fill="#cdf00b"/>
<path class="o" d="M557.6 323.6L564.4 323.2L571.1 323L577.8 322.7L571.9 318L566 313.4L560.2 308.8L553.5 308.9L546.7 309L540 309.1L545.8 313.9L551.7 318.7Z"/>
<path d="M387.3 273.1L394.5 271.3L388.9 267.2L381.8 269Z" fill="#ffb917"/>
<path d="M381.8 269L388.9 267.2L383.4 263.1L376.2 264.9Z" fill="#ffb918"/>
<path d="M376.2 264.9L383.4 263.1L377.8 259.1L370.7 260.8Z" fill="#ffb918"/>
<path d="M394.5 271.3L401.6 269.5L396 265.4L388.9 267.2Z" fill="#ffbd19"/>
<path d="M388.9 267.2L396 265.4L390.5 261.3L383.4 263.1Z" fill="#ffbd19"/>
<path d="M383.4 263.1L390.5 261.3L384.9 257.3L377.8 259.1Z" fill="#ffbd19"/>
<path d="M401.6 269.5L408.7 267.6L403.1 263.5L396 265.4Z" fill="#ffc11b"/>
<path d="M396 265.4L403.1 263.5L397.6 259.5L390.5 261.3Z" fill="#ffc01b"/>
<path d="M390.5 261.3L397.6 259.5L392 255.5L384.9 257.3Z" fill="#ffc01a"/>
<path class="o" d="M387.3 273.1L394.5 271.3L401.6 269.5L408.7 267.6L403.1 263.5L397.6 259.5L392 255.5L384.9 257.3L377.8 259.1L370.7 260.8L376.2 264.9L381.8 269Z"/>
<path d="M311.2 268.1L318.2 260.7L312.8 257.6L305.8 264.8Z" fill="#ffd889"/>
<path d="M305.8 264.8L312.8 257.6L307.5 254.5L300.5 261.7Z" fill="#ffd887"/>
<path d="M300.5 261.7L307.5 254.5L302.1 251.6L295.1 258.8Z" fill="#ffd884"/>
<path d="M318.2 260.7L325.4 257.6L320 253.7L312.8 257.6Z" fill="#ffbf47"/>
<path d="M312.8 257.6L320 253.7L314.6 249.9L307.5 254.5Z" fill="#ffc558"/>
<path d="M307.5 254.5L314.6 249.9L309.2 246L302.1 251.6Z" fill="#ffc962"/>
<path d="M325.4 257.6L332.6 254.9L327.2 251L320 253.7Z" fill="#ffb934"/>
<path d="M320 253.7L327.2 251L321.8 247.1L314.6 249.9Z" fill="#ffb934"/>
<path d="M314.6 249.9L321.8 247.1L316.4 243.3L309.2 246Z" fill="#ffb934"/>
<path class="o" d="M311.2 268.1L318.2 260.7L325.4 257.6L332.6 254.9L327.2 251L321.8 247.1L316.4 243.3L309.2 246L302.1 251.6L295.1 258.8L300.5 261.7L305.8 264.8Z"/>
<path d="M349.1 266.9L356.3 264.9L350.8 260.8L343.6 262.8Z" fill="#ffb31e"/>
<path d="M343.6 262.8L350.8 260.8L345.3 256.8L338.1 258.8Z" fill="#ffb31f"/>
<path d="M338.1 258.8L345.3 256.8L339.8 252.8L332.6 254.9Z" fill="#ffb31f"/>
<path d="M356.3 264.9L363.5 262.8L358 258.8L350.8 260.8Z" fill="#ffb61f"/>
<path d="M350.8 260.8L358 258.8L352.5 254.8L345.3 256.8Z" fill="#ffb61f"/>
<path d="M345.3 256.8L352.5 254.8L347 250.8L339.8 252.8Z" fill="#ffb61f"/>
<path d="M363.5 262.8L370.7 260.8L365.2 256.7L358 258.8Z" fill="#ffb920"/>
<path d="M358 258.8L365.2 256.7L359.7 252.7L352.5 254.8Z" fill="#ffb920"/>
<path d="M352.5 254.8L359.7 252.7L354.2 248.8L347 250.8Z" fill="#ffb920"/>
<path class="o" d="M349.1 266.9L356.3 264.9L363.5 262.8L370.7 260.8L365.2 256.7L359.7 252.7L354.2 248.8L347 250.8L339.8 252.8L332.6 254.9L338.1 258.8L343.6 262.8Z"/>
<path d="M724.7 432.4L731.1 431.4L725.1 424.2L718.7 425Z" fill="#0ada07"/>
<path d="M718.7 425L725.1 424.2L719 417L712.7 417.6Z" fill="#09d905"/>
<path d="M712.7 417.6L719 417L713 409.8L706.6 410.3Z" fill="#09d904"/>
<path d="M731.1 431.4L737.4 430.4L731.4 423.3L725.1 424.2Z" fill="#0ada07"/>
<path d="M725.1 424.2L731.4 423.3L725.4 416.3L719 417Z" fill="#09d905"/>
<path d="M719 417L725.4 416.3L719.4 409.3L713 409.8Z" fill="#08d904"/>
<path d="M737.4 430.4L743.8 429.3L737.7 422.4L731.4 423.3Z" fill="#0ada07"/>
<path d="M731.4 423.3L737.7 422.4L731.7 415.5L725.4 416.3Z" fill="#09da06"/>
<path d="M725.4 416.3L731.7 415.5L725.7 408.7L719.4 409.3Z" fill="#08d904"/>
<path class="o" d="M724.7 432.4L731.1 431.4L737.4 430.4L743.8 429.3L737.7 422.4L731.7 415.5L725.7 408.7L719.4 409.3L713 409.8L706.6 410.3L712.7 417.6L718.7 425Z"/>
<path d="M613.4 354.5L620.1 354.2L614.1 348.7L607.4 348.9Z" fill="#95e90c"/>
<path d="M607.4 348.9L614.1 348.7L608.1 343.2L601.5 343.5Z" fill="#9bea0c"/>
<path d="M601.5 343.5L608.1 343.2L602.2 337.8L595.5 338Z" fill="#a2eb0c"/>
<path d="M620.1 354.2L626.7 353.9L620.7 348.4L614.1 348.7Z" fill="#84e70b"/>
<path d="M614.1 348.7L620.7 348.4L614.7 343L608.1 343.2Z" fill="#8ae80c"/>
<path d="M608.1 343.2L614.7 343L608.8 337.6L602.2 337.8Z" fill="#91e90c"/>
<path d="M626.7 353.9L633.2 353.6L627.3 348.2L620.7 348.4Z" fill="#73e60b"/>
<path d="M620.7 348.4L627.3 348.2L621.3 342.8L614.7 343Z" fill="#7ae60b"/>
<path d="M614.7 343L621.3 342.8L615.4 337.4L608.8 337.6Z" fill="#80e70b"/>
<path class="o" d="M613.4 354.5L620.1 354.2L626.7 353.9L633.2 353.6L627.3 348.2L621.3 342.8L615.4 337.4L608.8 337.6L602.2 337.8L595.5 338L601.5 343.5L607.4 348.9Z"/>
<path d="M519.4 308.5L526.3 308.5L520.5 304.2L513.6 304.3Z" fill="#fedb01"/>
<path d="M513.6 304.3L520.5 304.2L514.6 300L507.7 300.3Z" fill="#feda01"/>
<path d="M507.7 300.3L514.6 300L508.8 295.9L501.9 296.3Z" fill="#fedb01"/>
<path d="M526.3 308.5L533.1 308.8L527.3 304.3L520.5 304.2Z" fill="#fbe402"/>
<path d="M520.5 304.2L527.3 304.3L521.5 300L514.6 300Z" fill="#fbe302"/>
<path d="M514.6 300L521.5 300L515.7 295.8L508.8 295.9Z" fill="#fbe302"/>
<path d="M533.1 308.8L540 309.1L534.1 304.6L527.3 304.3Z" fill="#f8ee04"/>
<path d="M527.3 304.3L534.1 304.6L528.3 300.2L521.5 300Z" fill="#f9ed04"/>
<path d="M521.5 300L528.3 300.2L522.5 295.9L515.7 295.8Z" fill="#f9ec03"/>
<path class="o" d="M519.4 308.5L526.3 308.5L533.1 308.8L540 309.1L534.1 304.6L528.3 300.2L522.5 295.9L515.7 295.8L508.8 295.9L501.9 296.3L507.7 300.3L513.6 304.3Z"/>
<path d="M669.3 388.8L675.8 389.2L669.7 383.4L663.3 382.9Z" fill="#35de08"/>
<path d="M663.3 382.9L669.7 383.4L663.7 377.6L657.2 377Z" fill="#3cdf08"/>
<path d="M657.2 377L663.7 377.6L657.7 371.8L651.2 371.1Z" fill="#44e009"/>
<path d="M675.8 389.2L682.2 389.6L676.2 383.9L669.7 383.4Z" fill="#23db07"/>
<path d="M669.7 383.4L676.2 383.9L670.1 378.2L663.7 377.6Z" fill="#2adc07"/>
<path d="M663.7 377.6L670.1 378.2L664.1 372.5L657.7 371.8Z" fill="#31dd08"/>
<path d="M682.2 389.6L688.6 389.9L682.5 384.3L676.2 383.9Z" fill="#12d905"/>
<path d="M676.2 383.9L682.5 384.3L676.5 378.7L670.1 378.2Z" fill="#18da06"/>
<path d="M670.1 378.2L676.5 378.7L670.5 373.1L664.1 372.5Z" fill="#1edb06"/>
<path class="o" d="M669.3 388.8L675.8 389.2L682.2 389.6L688.6 389.9L682.5 384.3L676.5 378.7L670.5 373.1L664.1 372.5L657.7 371.8L651.2 371.1L657.2 377L663.3 382.9Z"/>
<path d="M290.1 290.4L297.1 282.8L291.8 279.5L284.8 287.2Z" fill="#ffe58c"/>
<path d="M284.8 287.2L291.8 279.5L286.5 276.4L279.5 284Z" fill="#ffe589"/>
<path d="M279.5 284L286.5 276.4L281.2 273.3L274.2 281Z" fill="#ffe689"/>
<path d="M297.1 282.8L304.2 275.4L298.8 272.1L291.8 279.5Z" fill="#ffe08b"/>
<path d="M291.8 279.5L298.8 272.1L293.5 269L286.5 276.4Z" fill="#ffe189"/>
<path d="M286.5 276.4L293.5 269L288.2 266L281.2 273.3Z" fill="#ffe187"/>
<path d="M304.2 275.4L311.2 268.1L305.8 264.8L298.8 272.1Z" fill="#ffdc8a"/>
<path d="M298.8 272.1L305.8 264.8L300.5 261.7L293.5 269Z" fill="#ffdc88"/>
<path d="M293.5 269L300.5 261.7L295.1 258.8L288.2 266Z" fill="#ffdd85"/>
<path class="o" d="M290.1 290.4L297.1 282.8L304.2 275.4L311.2 268.1L305.8 264.8L300.5 261.7L295.1 258.8L288.2 266L281.2 273.3L274.2 281L279.5 284L284.8 287.2Z"/>
<path d="M269.1 314.6L276.1 306.4L270.8 303.2L263.8 311.3Z" fill="#fef28c"/>
<path d="M263.8 311.3L270.8 303.2L265.5 300.1L258.6 308.2Z" fill="#fef38a"/>
<path d="M258.6 308.2L265.5 300.1L260.3 297.1L253.3 305.3Z" fill="#fef487"/>
<path d="M276.1 306.4L283.1 298.4L277.8 295.1L270.8 303.2Z" fill="#ffee8c"/>
<path d="M270.8 303.2L277.8 295.1L272.5 292L265.5 300.1Z" fill="#ffee8a"/>
<path d="M265.5 300.1L272.5 292L267.2 288.9L260.3 297.1Z" fill="#ffef89"/>
<path d="M283.1 298.4L290.1 290.4L284.8 287.2L277.8 295.1Z" fill="#ffe98c"/>
<path d="M277.8 295.1L284.8 287.2L279.5 284L272.5 292Z" fill="#ffe98a"/>
<path d="M272.5 292L279.5 284L274.2 281L267.2 288.9Z" fill="#ffea89"/>
<path class="o" d="M269.1 314.6L276.1 306.4L283.1 298.4L290.1 290.4L284.8 287.2L279.5 284L274.2 281L267.2 288.9L260.3 297.1L253.3 305.3L258.6 308.2L263.8 311.3Z"/>
<path d="M481.1 299.7L488 298.4L482.3 294.8L475.3 296.2Z" fill="#ffcc08"/>
<path d="M475.3 296.2L482.3 294.8L476.5 291.3L469.5 292.6Z" fill="#ffcd09"/>
<path d="M469.5 292.6L476.5 291.3L470.8 287.6L463.8 289Z" fill="#ffcf09"/>
<path d="M488 298.4L495 297.2L489.2 293.6L482.3 294.8Z" fill="#ffd006"/>
<path d="M482.3 294.8L489.2 293.6L483.5 290L476.5 291.3Z" fill="#ffd207"/>
<path d="M476.5 291.3L483.5 290L477.8 286.4L470.8 287.6Z" fill="#ffd307"/>
<path d="M495 297.2L501.9 296.3L496.2 292.6L489.2 293.6Z" fill="#ffd503"/>
<path d="M489.2 293.6L496.2 292.6L490.4 288.9L483.5 290Z" fill="#ffd604"/>
<path d="M483.5 290L490.4 288.9L484.7 285.3L477.8 286.4Z" fill="#ffd705"/>
<path class="o" d="M481.1 299.7L488 298.4L495 297.2L501.9 296.3L496.2 292.6L490.4 288.9L484.7 285.3L477.8 286.4L470.8 287.6L463.8 289L469.5 292.6L475.3 296.2Z"/>
<path d="M742.8 456.6L749.2 455L743.1 447.1L736.8 448.5Z" fill="#12dd0f"/>
<path d="M736.8 448.5L743.1 447.1L737.1 439.2L730.7 440.4Z" fill="#0edb0b"/>
<path d="M730.7 440.4L737.1 439.2L731.1 431.4L724.7 432.4Z" fill="#0cda09"/>
<path d="M749.2 455L755.5 453.3L749.5 445.6L743.1 447.1Z" fill="#12dd0f"/>
<path d="M743.1 447.1L749.5 445.6L743.5 438L737.1 439.2Z" fill="#0edb0c"/>
<path d="M737.1 439.2L743.5 438L737.4 430.4L731.1 431.4Z" fill="#0cda09"/>
<path d="M755.5 453.3L761.9 451.6L755.8 444.1L749.5 445.6Z" fill="#12dd10"/>
<path d="M749.5 445.6L755.8 444.1L749.8 436.7L743.5 438Z" fill="#0fdc0d"/>
<path d="M743.5 438L749.8 436.7L743.8 429.3L737.4 430.4Z" fill="#0cdb0a"/>
<path class="o" d="M742.8 456.6L749.2 455L755.5 453.3L761.9 451.6L755.8 444.1L749.8 436.7L743.8 429.3L737.4 430.4L731.1 431.4L724.7 432.4L730.7 440.4L736.8 448.5Z"/>
<path d="M442.6 292.1L449.7 291.2L444 287.3L436.9 288.1Z" fill="#ffbf02"/>
<path d="M436.9 288.1L444 287.3L438.3 283.3L431.2 284Z" fill="#ffbf01"/>
<path d="M431.2 284L438.3 283.3L432.7 279.3L425.6 279.9Z" fill="#ffbe01"/>
<path d="M449.7 291.2L456.8 290.1L451.1 286.3L444 287.3Z" fill="#ffc504"/>
<path d="M444 287.3L451.1 286.3L445.4 282.4L438.3 283.3Z" fill="#ffc503"/>
<path d="M438.3 283.3L445.4 282.4L439.7 278.5L432.7 279.3Z" fill="#ffc502"/>
<path d="M456.8 290.1L463.8 289L458.1 285.3L451.1 286.3Z" fill="#ffca05"/>
<path d="M451.1 286.3L458.1 285.3L452.4 281.5L445.4 282.4Z" fill="#ffca04"/>
<path d="M445.4 282.4L452.4 281.5L446.8 277.7L439.7 278.5Z" fill="#ffca03"/>
<path class="o" d="M442.6 292.1L449.7 291.2L456.8 290.1L463.8 289L458.1 285.3L452.4 281.5L446.8 277.7L439.7 278.5L432.7 279.3L425.6 279.9L431.2 284L436.9 288.1Z"/>
<path d="M575.4 339.4L582.1 338.9L576.2 333.7L569.4 334.2Z" fill="#d9f20a"/>
<path d="M569.4 334.2L576.2 333.7L570.3 328.5L563.5 328.9Z" fill="#def309"/>
<path d="M563.5 328.9L570.3 328.5L564.4 323.2L557.6 323.6Z" fill="#e4f408"/>
<path d="M582.1 338.9L588.8 338.5L582.9 333.3L576.2 333.7Z" fill="#c9f00c"/>
<path d="M576.2 333.7L582.9 333.3L577 328.1L570.3 328.5Z" fill="#cef10b"/>
<path d="M570.3 328.5L577 328.1L571.1 323L564.4 323.2Z" fill="#d4f10a"/>
<path d="M588.8 338.5L595.5 338L589.6 332.9L582.9 333.3Z" fill="#b9ee0c"/>
<path d="M582.9 333.3L589.6 332.9L583.7 327.8L577 328.1Z" fill="#beee0c"/>
<path d="M577 328.1L583.7 327.8L577.8 322.7L571.1 323Z" fill="#c3ef0c"/>
<path class="o" d="M575.4 339.4L582.1 338.9L588.8 338.5L595.5 338L589.6 332.9L583.7 327.8L577.8 322.7L571.1 323L564.4 323.2L557.6 323.6L563.5 328.9L569.4 334.2Z"/>
<path d="M248.1 339.4L255.1 330.8L249.8 327.6L242.9 336.2Z" fill="#f7fc8b"/>
<path d="M242.9 336.2L249.8 327.6L244.6 324.6L237.6 333Z" fill="#f5fc89"/>
<path d="M237.6 333L244.6 324.6L239.4 321.5L232.5 329.9Z" fill="#f4fc88"/>
<path d="M255.1 330.8L262.1 322.6L256.8 319.4L249.8 327.6Z" fill="#fcfc8a"/>
<path d="M249.8 327.6L256.8 319.4L251.6 316.3L244.6 324.6Z" fill="#fcfc88"/>
<path d="M244.6 324.6L251.6 316.3L246.4 313.4L239.4 321.5Z" fill="#fbfc87"/>
<path d="M262.1 322.6L269.1 314.6L263.8 311.3L256.8 319.4Z" fill="#fef78b"/>
<path d="M256.8 319.4L263.8 311.3L258.6 308.2L251.6 316.3Z" fill="#fdf889"/>
<path d="M251.6 316.3L258.6 308.2L253.3 305.3L246.4 313.4Z" fill="#fdf986"/>
<path class="o" d="M248.1 339.4L255.1 330.8L262.1 322.6L269.1 314.6L263.8 311.3L258.6 308.2L253.3 305.3L246.4 313.4L239.4 321.5L232.5 329.9L237.6 333L242.9 336.2Z"/>
<path d="M227.4 367.9L234.2 358.2L229 354.6L222.1 364.2Z" fill="#defb8f"/>
<path d="M222.1 364.2L229 354.6L223.8 351.1L216.9 360.5Z" fill="#ddfb8f"/>
<path d="M216.9 360.5L223.8 351.1L218.6 347.6L211.7 357Z" fill="#dbfa8d"/>
<path d="M234.2 358.2L241.2 348.6L235.9 345.2L229 354.6Z" fill="#e8fb8e"/>
<path d="M229 354.6L235.9 345.2L230.7 341.9L223.8 351.1Z" fill="#e7fb8d"/>
<path d="M223.8 351.1L230.7 341.9L225.5 338.6L218.6 347.6Z" fill="#e6fb8c"/>
<path d="M241.2 348.6L248.1 339.4L242.9 336.2L235.9 345.2Z" fill="#f0fc8c"/>
<path d="M235.9 345.2L242.9 336.2L237.6 333L230.7 341.9Z" fill="#eefc8a"/>
<path d="M230.7 341.9L237.6 333L232.5 329.9L225.5 338.6Z" fill="#edfc8a"/>
<path class="o" d="M227.4 367.9L234.2 358.2L241.2 348.6L248.1 339.4L242.9 336.2L237.6 333L232.5 329.9L225.5 338.6L218.6 347.6L211.7 357L216.9 360.5L222.1 364.2Z"/>
<path d="M404.2 285.5L411.3 283.8L405.7 279.6L398.5 281.3Z" fill="#ffb916"/>
<path d="M398.5 281.3L405.7 279.6L400.1 275.5L392.9 277.2Z" fill="#ffb917"/>
<path d="M392.9 277.2L400.1 275.5L394.5 271.3L387.3 273.1Z" fill="#ffb917"/>
<path d="M411.3 283.8L418.5 281.9L412.8 277.7L405.7 279.6Z" fill="#ffbe19"/>
<path d="M405.7 279.6L412.8 277.7L407.2 273.6L400.1 275.5Z" fill="#ffbd1a"/>
<path d="M400.1 275.5L407.2 273.6L401.6 269.5L394.5 271.3Z" fill="#ffbd1a"/>
<path d="M418.5 281.9L425.6 279.9L419.9 275.8L412.8 277.7Z" fill="#ffc21e"/>
<path d="M412.8 277.7L419.9 275.8L414.3 271.7L407.2 273.6Z" fill="#ffc11d"/>
<path d="M407.2 273.6L414.3 271.7L408.7 267.6L401.6 269.5Z" fill="#ffc11c"/>
<path class="o" d="M404.2 285.5L411.3 283.8L418.5 281.9L425.6 279.9L419.9 275.8L414.3 271.7L408.7 267.6L401.6 269.5L394.5 271.3L387.3 273.1L392.9 277.2L398.5 281.3Z"/>
<path d="M327.5 278.5L334.6 272.2L329.1 268.2L322 274.9Z" fill="#ffd585"/>
<path d="M322 274.9L329.1 268.2L323.6 264.3L316.6 271.4Z" fill="#ffd78b"/>
<path d="M316.6 271.4L323.6 264.3L318.2 260.7L311.2 268.1Z" fill="#ffd88c"/>
<path d="M334.6 272.2L341.8 269.6L336.3 265.5L329.1 268.2Z" fill="#ffb632"/>
<path d="M329.1 268.2L336.3 265.5L330.9 261.5L323.6 264.3Z" fill="#ffb732"/>
<path d="M323.6 264.3L330.9 261.5L325.4 257.6L318.2 260.7Z" fill="#ffb836"/>
<path d="M341.8 269.6L349.1 266.9L343.6 262.8L336.3 265.5Z" fill="#ffb832"/>
<path d="M336.3 265.5L343.6 262.8L338.1 258.8L330.9 261.5Z" fill="#ffb833"/>
<path d="M330.9 261.5L338.1 258.8L332.6 254.9L325.4 257.6Z" fill="#ffb833"/>
<path class="o" d="M327.5 278.5L334.6 272.2L341.8 269.6L349.1 266.9L343.6 262.8L338.1 258.8L332.6 254.9L325.4 257.6L318.2 260.7L311.2 268.1L316.6 271.4L322 274.9Z"/>
<path d="M631.5 372.1L638.1 371.8L632.1 365.9L625.4 366.2Z" fill="#7ce60b"/>
<path d="M625.4 366.2L632.1 365.9L626.1 360L619.4 360.3Z" fill="#85e70b"/>
<path d="M619.4 360.3L626.1 360L620.1 354.2L613.4 354.5Z" fill="#8de80c"/>
<path d="M638.1 371.8L644.7 371.4L638.6 365.6L632.1 365.9Z" fill="#6ce50a"/>
<path d="M632.1 365.9L638.6 365.6L632.6 359.7L626.1 360Z" fill="#74e60b"/>
<path d="M626.1 360L632.6 359.7L626.7 353.9L620.1 354.2Z" fill="#7de60b"/>
<path d="M644.7 371.4L651.2 371.1L645.2 365.2L638.6 365.6Z" fill="#5de30a"/>
<path d="M638.6 365.6L645.2 365.2L639.2 359.4L632.6 359.7Z" fill="#64e40a"/>
<path d="M632.6 359.7L639.2 359.4L633.2 353.6L626.7 353.9Z" fill="#6ce50a"/>
<path class="o" d="M631.5 372.1L638.1 371.8L644.7 371.4L651.2 371.1L645.2 365.2L639.2 359.4L633.2 353.6L626.7 353.9L620.1 354.2L613.4 354.5L619.4 360.3L625.4 366.2Z"/>
<path d="M687.4 410.5L693.9 410.5L687.8 403.4L681.4 403.3Z" fill="#12d905"/>
<path d="M681.4 403.3L687.8 403.4L681.8 396.3L675.3 396.1Z" fill="#1fdb06"/>
<path d="M675.3 396.1L681.8 396.3L675.8 389.2L669.3 388.8Z" fill="#2bdc07"/>
<path d="M693.9 410.5L700.3 410.4L694.2 403.5L687.8 403.4Z" fill="#0bd805"/>
<path d="M687.8 403.4L694.2 403.5L688.2 396.5L681.8 396.3Z" fill="#0fd805"/>
<path d="M681.8 396.3L688.2 396.5L682.2 389.6L675.8 389.2Z" fill="#1ada06"/>
<path d="M700.3 410.4L706.6 410.3L700.6 403.5L694.2 403.5Z" fill="#0ad804"/>
<path d="M694.2 403.5L700.6 403.5L694.6 396.7L688.2 396.5Z" fill="#0bd805"/>
<path d="M688.2 396.5L694.6 396.7L688.6 389.9L682.2 389.6Z" fill="#0dd805"/>
<path class="o" d="M687.4 410.5L693.9 410.5L700.3 410.4L706.6 410.3L700.6 403.5L694.6 396.7L688.6 389.9L682.2 389.6L675.8 389.2L669.3 388.8L675.3 396.1L681.4 403.3Z"/>
<path d="M365.7 279.1L372.9 277.1L367.4 273L360.1 275Z" fill="#ffb21c"/>
<path d="M360.1 275L367.4 273L361.8 268.9L354.6 270.9Z" fill="#ffb31d"/>
<path d="M354.6 270.9L361.8 268.9L356.3 264.9L349.1 266.9Z" fill="#ffb31e"/>
<path d="M372.9 277.1L380.1 275.1L374.6 271L367.4 273Z" fill="#ffb51d"/>
<path d="M367.4 273L374.6 271L369 266.9L361.8 268.9Z" fill="#ffb61e"/>
<path d="M361.8 268.9L369 266.9L363.5 262.8L356.3 264.9Z" fill="#ffb61f"/>
<path d="M380.1 275.1L387.3 273.1L381.8 269L374.6 271Z" fill="#ffb91f"/>
<path d="M374.6 271L381.8 269L376.2 264.9L369 266.9Z" fill="#ffb91f"/>
<path d="M369 266.9L376.2 264.9L370.7 260.8L363.5 262.8Z" fill="#ffb920"/>
<path class="o" d="M365.7 279.1L372.9 277.1L380.1 275.1L387.3 273.1L381.8 269L376.2 264.9L370.7 260.8L363.5 262.8L356.3 264.9L349.1 266.9L354.6 270.9L360.1 275Z"/>
<path d="M537.1 323.4L543.9 323.4L538 318.4L531.2 318.4Z" fill="#fce001"/>
<path d="M531.2 318.4L538 318.4L532.2 313.4L525.3 313.4Z" fill="#fdde01"/>
<path d="M525.3 313.4L532.2 313.4L526.3 308.5L519.4 308.5Z" fill="#fedc01"/>
<path d="M543.9 323.4L550.8 323.4L544.9 318.5L538 318.4Z" fill="#faea03"/>
<path d="M538 318.4L544.9 318.5L539 313.6L532.2 313.4Z" fill="#fae803"/>
<path d="M532.2 313.4L539 313.6L533.1 308.8L526.3 308.5Z" fill="#fbe502"/>
<path d="M550.8 323.4L557.6 323.6L551.7 318.7L544.9 318.5Z" fill="#f7f305"/>
<path d="M544.9 318.5L551.7 318.7L545.8 313.9L539 313.6Z" fill="#f7f104"/>
<path d="M539 313.6L545.8 313.9L540 309.1L533.1 308.8Z" fill="#f8ef04"/>
<path class="o" d="M537.1 323.4L543.9 323.4L550.8 323.4L557.6 323.6L551.7 318.7L545.8 313.9L540 309.1L533.1 308.8L526.3 308.5L519.4 308.5L525.3 313.4L531.2 318.4Z"/>
<path d="M306.3 301.7L313.4 294L307.9 290.1L300.9 297.8Z" fill="#ffe595"/>
<path d="M300.9 297.8L307.9 290.1L302.5 286.4L295.5 294Z" fill="#ffe593"/>
<path d="M295.5 294L302.5 286.4L297.1 282.8L290.1 290.4Z" fill="#ffe590"/>
<path d="M313.4 294L320.4 286.2L315 282.4L307.9 290.1Z" fill="#ffe194"/>
<path d="M307.9 290.1L315 282.4L309.5 278.8L302.5 286.4Z" fill="#ffe191"/>
<path d="M302.5 286.4L309.5 278.8L304.2 275.4L297.1 282.8Z" fill="#ffe18e"/>
<path d="M320.4 286.2L327.5 278.5L322 274.9L315 282.4Z" fill="#ffdd92"/>
<path d="M315 282.4L322 274.9L316.6 271.4L309.5 278.8Z" fill="#ffdd8f"/>
<path d="M309.5 278.8L316.6 271.4L311.2 268.1L304.2 275.4Z" fill="#ffdc8d"/>
<path class="o" d="M306.3 301.7L313.4 294L320.4 286.2L327.5 278.5L322 274.9L316.6 271.4L311.2 268.1L304.2 275.4L297.1 282.8L290.1 290.4L295.5 294L300.9 297.8Z"/>
<path d="M705.5 434.4L711.9 433.8L705.9 425.9L699.5 426.3Z" fill="#09d804"/>
<path d="M699.5 426.3L705.9 425.9L699.9 418.2L693.4 418.4Z" fill="#0ad804"/>
<path d="M693.4 418.4L699.9 418.2L693.9 410.5L687.4 410.5Z" fill="#0bd805"/>
<path d="M711.9 433.8L718.4 433.1L712.3 425.5L705.9 425.9Z" fill="#08d904"/>
<path d="M705.9 425.9L712.3 425.5L706.3 417.9L699.9 418.2Z" fill="#09d804"/>
<path d="M699.9 418.2L706.3 417.9L700.3 410.4L693.9 410.5Z" fill="#0ad804"/>
<path d="M718.4 433.1L724.7 432.4L718.7 425L712.3 425.5Z" fill="#08d903"/>
<path d="M712.3 425.5L718.7 425L712.7 417.6L706.3 417.9Z" fill="#08d903"/>
<path d="M706.3 417.9L712.7 417.6L706.6 410.3L700.3 410.4Z" fill="#09d804"/>
<path class="o" d="M705.5 434.4L711.9 433.8L718.4 433.1L724.7 432.4L718.7 425L712.7 417.6L706.6 410.3L700.3 410.4L693.9 410.5L687.4 410.5L693.4 418.4L699.5 426.3Z"/>
<path d="M593.3 356.2L600 355.5L594 350L587.3 350.6Z" fill="#c5ef0d"/>
<path d="M587.3 350.6L594 350L588.1 344.5L581.3 345Z" fill="#ccf00d"/>
<path d="M581.3 345L588.1 344.5L582.1 338.9L575.4 339.4Z" fill="#d3f10b"/>
<path d="M600 355.5L606.8 355L600.8 349.5L594 350Z" fill="#b5ed0d"/>
<path d="M594 350L600.8 349.5L594.8 343.9L588.1 344.5Z" fill="#bcee0d"/>
<path d="M588.1 344.5L594.8 343.9L588.8 338.5L582.1 338.9Z" fill="#c3ef0c"/>
<path d="M606.8 355L613.4 354.5L607.4 348.9L600.8 349.5Z" fill="#a5eb0c"/>
<path d="M600.8 349.5L607.4 348.9L601.5 343.5L594.8 343.9Z" fill="#acec0c"/>
<path d="M594.8 343.9L601.5 343.5L595.5 338L588.8 338.5Z" fill="#b3ed0c"/>
<path class="o" d="M593.3 356.2L600 355.5L606.8 355L613.4 354.5L607.4 348.9L601.5 343.5L595.5 338L588.8 338.5L582.1 338.9L575.4 339.4L581.3 345L587.3 350.6Z"/>
<path d="M498.5 311.2L505.5 310.1L499.7 306.1L492.7 307.3Z" fill="#ffca06"/>
<path d="M492.7 307.3L499.7 306.1L493.8 302.2L486.9 303.5Z" fill="#ffca07"/>
<path d="M486.9 303.5L493.8 302.2L488 298.4L481.1 299.7Z" fill="#ffcb08"/>
<path d="M505.5 310.1L512.5 309.2L506.6 305.1L499.7 306.1Z" fill="#ffce04"/>
<path d="M499.7 306.1L506.6 305.1L500.8 301.1L493.8 302.2Z" fill="#ffcf05"/>
<path d="M493.8 302.2L500.8 301.1L495 297.2L488 298.4Z" fill="#ffcf06"/>
<path d="M512.5 309.2L519.4 308.5L513.6 304.3L506.6 305.1Z" fill="#ffd301"/>
<path d="M506.6 305.1L513.6 304.3L507.7 300.3L500.8 301.1Z" fill="#ffd402"/>
<path d="M500.8 301.1L507.7 300.3L501.9 296.3L495 297.2Z" fill="#ffd403"/>
<path class="o" d="M498.5 311.2L505.5 310.1L512.5 309.2L519.4 308.5L513.6 304.3L507.7 300.3L501.9 296.3L495 297.2L488 298.4L481.1 299.7L486.9 303.5L492.7 307.3Z"/>
<path d="M285.2 325L292.2 317.1L286.8 313.4L279.8 321.3Z" fill="#fff192"/>
<path d="M279.8 321.3L286.8 313.4L281.4 309.8L274.4 317.9Z" fill="#fef18f"/>
<path d="M274.4 317.9L281.4 309.8L276.1 306.4L269.1 314.6Z" fill="#fef28d"/>
<path d="M292.2 317.1L299.3 309.4L293.9 305.6L286.8 313.4Z" fill="#ffed93"/>
<path d="M286.8 313.4L293.9 305.6L288.5 301.9L281.4 309.8Z" fill="#ffed91"/>
<path d="M281.4 309.8L288.5 301.9L283.1 298.4L276.1 306.4Z" fill="#ffed8f"/>
<path d="M299.3 309.4L306.3 301.7L300.9 297.8L293.9 305.6Z" fill="#ffe994"/>
<path d="M293.9 305.6L300.9 297.8L295.5 294L288.5 301.9Z" fill="#ffe993"/>
<path d="M288.5 301.9L295.5 294L290.1 290.4L283.1 298.4Z" fill="#ffe990"/>
<path class="o" d="M285.2 325L292.2 317.1L299.3 309.4L306.3 301.7L300.9 297.8L295.5 294L290.1 290.4L283.1 298.4L276.1 306.4L269.1 314.6L274.4 317.9L279.8 321.3Z"/>
<path d="M649.6 390.2L656.2 389.7L650.2 383.8L643.6 384.2Z" fill="#63e40a"/>
<path d="M643.6 384.2L650.2 383.8L644.1 377.8L637.5 378.1Z" fill="#6be50a"/>
<path d="M637.5 378.1L644.1 377.8L638.1 371.8L631.5 372.1Z" fill="#74e60b"/>
<path d="M656.2 389.7L662.8 389.3L656.7 383.3L650.2 383.8Z" fill="#54e209"/>
<path d="M650.2 383.8L656.7 383.3L650.7 377.4L644.1 377.8Z" fill="#5ce30a"/>
<path d="M644.1 377.8L650.7 377.4L644.7 371.4L638.1 371.8Z" fill="#64e40a"/>
<path d="M662.8 389.3L669.3 388.8L663.3 382.9L656.7 383.3Z" fill="#46e009"/>
<path d="M656.7 383.3L663.3 382.9L657.2 377L650.7 377.4Z" fill="#4de109"/>
<path d="M650.7 377.4L657.2 377L651.2 371.1L644.7 371.4Z" fill="#55e209"/>
<path class="o" d="M649.6 390.2L656.2 389.7L662.8 389.3L669.3 388.8L663.3 382.9L657.2 377L651.2 371.1L644.7 371.4L638.1 371.8L631.5 372.1L637.5 378.1L643.6 384.2Z"/>
<path d="M459.9 303.1L467 302.1L461.2 298.5L454.1 299.5Z" fill="#ffbc01"/>
<path d="M454.1 299.5L461.2 298.5L455.5 294.9L448.4 295.8Z" fill="#ffbd02"/>
<path d="M448.4 295.8L455.5 294.9L449.7 291.2L442.6 292.1Z" fill="#ffbe02"/>
<path d="M467 302.1L474 300.9L468.3 297.4L461.2 298.5Z" fill="#ffc204"/>
<path d="M461.2 298.5L468.3 297.4L462.5 293.8L455.5 294.9Z" fill="#ffc304"/>
<path d="M455.5 294.9L462.5 293.8L456.8 290.1L449.7 291.2Z" fill="#ffc405"/>
<path d="M474 300.9L481.1 299.7L475.3 296.2L468.3 297.4Z" fill="#ffc705"/>
<path d="M468.3 297.4L475.3 296.2L469.5 292.6L462.5 293.8Z" fill="#ffc806"/>
<path d="M462.5 293.8L469.5 292.6L463.8 289L456.8 290.1Z" fill="#ffc906"/>
<path class="o" d="M459.9 303.1L467 302.1L474 300.9L481.1 299.7L475.3 296.2L469.5 292.6L463.8 289L456.8 290.1L449.7 291.2L442.6 292.1L448.4 295.8L454.1 299.5Z"/>
<path d="M264.1 350.7L271.1 341.8L265.7 338L258.7 346.8Z" fill="#fafd94"/>
<path d="M258.7 346.8L265.7 338L260.4 334.3L253.4 343Z" fill="#f9fd92"/>
<path d="M253.4 343L260.4 334.3L255.1 330.8L248.1 339.4Z" fill="#f8fc90"/>
<path d="M271.1 341.8L278.1 333.3L272.7 329.5L265.7 338Z" fill="#fdfa93"/>
<path d="M265.7 338L272.7 329.5L267.4 326L260.4 334.3Z" fill="#fdfb91"/>
<path d="M260.4 334.3L267.4 326L262.1 322.6L255.1 330.8Z" fill="#fdfb8e"/>
<path d="M278.1 333.3L285.2 325L279.8 321.3L272.7 329.5Z" fill="#fef592"/>
<path d="M272.7 329.5L279.8 321.3L274.4 317.9L267.4 326Z" fill="#fef68f"/>
<path d="M267.4 326L274.4 317.9L269.1 314.6L262.1 322.6Z" fill="#fef68c"/>
<path class="o" d="M264.1 350.7L271.1 341.8L278.1 333.3L285.2 325L279.8 321.3L274.4 317.9L269.1 314.6L262.1 322.6L255.1 330.8L248.1 339.4L253.4 343L258.7 346.8Z"/>
<path d="M421.2 297.6L428.4 296L422.7 292L415.5 293.6Z" fill="#ffb811"/>
<path d="M415.5 293.6L422.7 292L417 287.9L409.8 289.6Z" fill="#ffb913"/>
<path d="M409.8 289.6L417 287.9L411.3 283.8L404.2 285.5Z" fill="#ffb914"/>
<path d="M428.4 296L435.5 294.1L429.8 290.1L422.7 292Z" fill="#ffbd16"/>
<path d="M422.7 292L429.8 290.1L424.1 286L417 287.9Z" fill="#ffbd18"/>
<path d="M417 287.9L424.1 286L418.5 281.9L411.3 283.8Z" fill="#ffbe19"/>
<path d="M435.5 294.1L442.6 292.1L436.9 288.1L429.8 290.1Z" fill="#ffc21d"/>
<path d="M429.8 290.1L436.9 288.1L431.2 284L424.1 286Z" fill="#ffc21e"/>
<path d="M424.1 286L431.2 284L425.6 279.9L418.5 281.9Z" fill="#ffc21e"/>
<path class="o" d="M421.2 297.6L428.4 296L435.5 294.1L442.6 292.1L436.9 288.1L431.2 284L425.6 279.9L418.5 281.9L411.3 283.8L404.2 285.5L409.8 289.6L415.5 293.6Z"/>
<path d="M243.2 379.4L250.1 369.7L244.8 365.7L237.9 375.5Z" fill="#e2fb91"/>
<path d="M237.9 375.5L244.8 365.7L239.5 361.9L232.6 371.7Z" fill="#e1fb90"/>
<path d="M232.6 371.7L239.5 361.9L234.2 358.2L227.4 367.9Z" fill="#dffb8f"/>
<path d="M250.1 369.7L257.1 360L251.8 356.1L244.8 365.7Z" fill="#ebfc92"/>
<path d="M244.8 365.7L251.8 356.1L246.4 352.3L239.5 361.9Z" fill="#eafb91"/>
<path d="M239.5 361.9L246.4 352.3L241.2 348.6L234.2 358.2Z" fill="#e9fb8f"/>
<path d="M257.1 360L264.1 350.7L258.7 346.8L251.8 356.1Z" fill="#f3fc93"/>
<path d="M251.8 356.1L258.7 346.8L253.4 343L246.4 352.3Z" fill="#f2fc92"/>
<path d="M246.4 352.3L253.4 343L248.1 339.4L241.2 348.6Z" fill="#f1fc90"/>
<path class="o" d="M243.2 379.4L250.1 369.7L257.1 360L264.1 350.7L258.7 346.8L253.4 343L248.1 339.4L241.2 348.6L234.2 358.2L227.4 367.9L232.6 371.7L237.9 375.5Z"/>
<path d="M723.5 460.6L730 459.3L724 450.7L717.5 451.8Z" fill="#0bda08"/>
<path d="M717.5 451.8L724 450.7L718 442.2L711.5 443.1Z" fill="#0ad906"/>
<path d="M711.5 443.1L718 442.2L711.9 433.8L705.5 434.4Z" fill="#09d904"/>
<path d="M730 459.3L736.4 457.9L730.4 449.6L724 450.7Z" fill="#0bda08"/>
<path d="M724 450.7L730.4 449.6L724.4 441.3L718 442.2Z" fill="#09da06"/>
<path d="M718 442.2L724.4 441.3L718.4 433.1L711.9 433.8Z" fill="#08d904"/>
<path d="M736.4 457.9L742.8 456.6L736.8 448.5L730.4 449.6Z" fill="#0bda09"/>
<path d="M730.4 449.6L736.8 448.5L730.7 440.4L724.4 441.3Z" fill="#09da06"/>
<path d="M724.4 441.3L730.7 440.4L724.7 432.4L718.4 433.1Z" fill="#08d904"/>
<path class="o" d="M723.5 460.6L730 459.3L736.4 457.9L742.8 456.6L736.8 448.5L730.7 440.4L724.7 432.4L718.4 433.1L711.9 433.8L705.5 434.4L711.5 443.1L717.5 451.8Z"/>
<path d="M382.5 291.2L389.8 289.3L384.1 285.3L376.9 287.2Z" fill="#ffb118"/>
<path d="M376.9 287.2L384.1 285.3L378.5 281.2L371.3 283.1Z" fill="#ffb119"/>
<path d="M371.3 283.1L378.5 281.2L372.9 277.1L365.7 279.1Z" fill="#ffb21b"/>
<path d="M389.8 289.3L397 287.4L391.4 283.3L384.1 285.3Z" fill="#ffb419"/>
<path d="M384.1 285.3L391.4 283.3L385.7 279.2L378.5 281.2Z" fill="#ffb51b"/>
<path d="M378.5 281.2L385.7 279.2L380.1 275.1L372.9 277.1Z" fill="#ffb51c"/>
<path d="M397 287.4L404.2 285.5L398.5 281.3L391.4 283.3Z" fill="#ffb81c"/>
<path d="M391.4 283.3L398.5 281.3L392.9 277.2L385.7 279.2Z" fill="#ffb81d"/>
<path d="M385.7 279.2L392.9 277.2L387.3 273.1L380.1 275.1Z" fill="#ffb91e"/>
<path class="o" d="M382.5 291.2L389.8 289.3L397 287.4L404.2 285.5L398.5 281.3L392.9 277.2L387.3 273.1L380.1 275.1L372.9 277.1L365.7 279.1L371.3 283.1L376.9 287.2Z"/>
<path d="M344 290.2L351.2 284.3L345.6 280.3L338.5 286.2Z" fill="#ffcf77"/>
<path d="M338.5 286.2L345.6 280.3L340.1 276.3L333 282.3Z" fill="#ffd17b"/>
<path d="M333 282.3L340.1 276.3L334.6 272.2L327.5 278.5Z" fill="#ffd27f"/>
<path d="M351.2 284.3L358.4 281.7L352.9 277.6L345.6 280.3Z" fill="#ffb52e"/>
<path d="M345.6 280.3L352.9 277.6L347.3 273.6L340.1 276.3Z" fill="#ffb62f"/>
<path d="M340.1 276.3L347.3 273.6L341.8 269.6L334.6 272.2Z" fill="#ffb631"/>
<path d="M358.4 281.7L365.7 279.1L360.1 275L352.9 277.6Z" fill="#ffb72f"/>
<path d="M352.9 277.6L360.1 275L354.6 270.9L347.3 273.6Z" fill="#ffb730"/>
<path d="M347.3 273.6L354.6 270.9L349.1 266.9L341.8 269.6Z" fill="#ffb831"/>
<path class="o" d="M344 290.2L351.2 284.3L358.4 281.7L365.7 279.1L360.1 275L354.6 270.9L349.1 266.9L341.8 269.6L334.6 272.2L327.5 278.5L333 282.3L338.5 286.2Z"/>
<path d="M554.9 339.8L561.7 339.7L555.8 334.3L548.9 334.4Z" fill="#faea03"/>
<path d="M548.9 334.4L555.8 334.3L549.9 328.9L543 328.9Z" fill="#fae703"/>
<path d="M543 328.9L549.9 328.9L543.9 323.4L537.1 323.4Z" fill="#fbe302"/>
<path d="M561.7 339.7L568.6 339.6L562.6 334.2L555.8 334.3Z" fill="#f7f305"/>
<path d="M555.8 334.3L562.6 334.2L556.7 328.9L549.9 328.9Z" fill="#f8f004"/>
<path d="M549.9 328.9L556.7 328.9L550.8 323.4L543.9 323.4Z" fill="#f9ed03"/>
<path d="M568.6 339.6L575.4 339.4L569.4 334.2L562.6 334.2Z" fill="#eaf407"/>
<path d="M562.6 334.2L569.4 334.2L563.5 328.9L556.7 328.9Z" fill="#f0f506"/>
<path d="M556.7 328.9L563.5 328.9L557.6 323.6L550.8 323.4Z" fill="#f4f405"/>
<path class="o" d="M554.9 339.8L561.7 339.7L568.6 339.6L575.4 339.4L569.4 334.2L563.5 328.9L557.6 323.6L550.8 323.4L543.9 323.4L537.1 323.4L543 328.9L548.9 334.4Z"/>
<path d="M611.4 374L618.1 373.3L612.1 367.4L605.3 368Z" fill="#acec0e"/>
<path d="M605.3 368L612.1 367.4L606 361.4L599.3 362.1Z" fill="#b4ed0e"/>
<path d="M599.3 362.1L606 361.4L600 355.5L593.3 356.2Z" fill="#bdee0e"/>
<path d="M618.1 373.3L624.8 372.7L618.8 366.8L612.1 367.4Z" fill="#9cea0d"/>
<path d="M612.1 367.4L618.8 366.8L612.8 360.9L606 361.4Z" fill="#a5eb0d"/>
<path d="M606 361.4L612.8 360.9L606.8 355L600 355.5Z" fill="#adec0d"/>
<path d="M624.8 372.7L631.5 372.1L625.4 366.2L618.8 366.8Z" fill="#8de80c"/>
<path d="M618.8 366.8L625.4 366.2L619.4 360.3L612.8 360.9Z" fill="#95e90d"/>
<path d="M612.8 360.9L619.4 360.3L613.4 354.5L606.8 355Z" fill="#9eea0d"/>
<path class="o" d="M611.4 374L618.1 373.3L624.8 372.7L631.5 372.1L625.4 366.2L619.4 360.3L613.4 354.5L606.8 355L600 355.5L593.3 356.2L599.3 362.1L605.3 368Z"/>
<path d="M667.8 412.1L674.4 411.6L668.3 404.3L661.7 404.8Z" fill="#3ddf09"/>
<path d="M661.7 404.8L668.3 404.3L662.3 397L655.7 397.5Z" fill="#4be109"/>
<path d="M655.7 397.5L662.3 397L656.2 389.7L649.6 390.2Z" fill="#58e20a"/>
<path d="M674.4 411.6L680.9 411.1L674.9 403.8L668.3 404.3Z" fill="#2fdd08"/>
<path d="M668.3 404.3L674.9 403.8L668.8 396.5L662.3 397Z" fill="#3cdf08"/>
<path d="M662.3 397L668.8 396.5L662.8 389.3L656.2 389.7Z" fill="#4ae009"/>
<path d="M680.9 411.1L687.4 410.5L681.4 403.3L674.9 403.8Z" fill="#21db07"/>
<path d="M674.9 403.8L681.4 403.3L675.3 396.1L668.8 396.5Z" fill="#2edd08"/>
<path d="M668.8 396.5L675.3 396.1L669.3 388.8L662.8 389.3Z" fill="#3bdf08"/>
<path class="o" d="M667.8 412.1L674.4 411.6L680.9 411.1L687.4 410.5L681.4 403.3L675.3 396.1L669.3 388.8L662.8 389.3L656.2 389.7L649.6 390.2L655.7 397.5L661.7 404.8Z"/>
<path d="M322.8 313.8L329.9 305.9L324.4 301.9L317.3 309.8Z" fill="#ffe596"/>
<path d="M317.3 309.8L324.4 301.9L318.9 297.9L311.8 305.7Z" fill="#ffe696"/>
<path d="M311.8 305.7L318.9 297.9L313.4 294L306.3 301.7Z" fill="#ffe596"/>
<path d="M329.9 305.9L336.9 298L331.4 294.1L324.4 301.9Z" fill="#ffe196"/>
<path d="M324.4 301.9L331.4 294.1L325.9 290.1L318.9 297.9Z" fill="#ffe296"/>
<path d="M318.9 297.9L325.9 290.1L320.4 286.2L313.4 294Z" fill="#ffe295"/>
<path d="M336.9 298L344 290.2L338.5 286.2L331.4 294.1Z" fill="#ffdd96"/>
<path d="M331.4 294.1L338.5 286.2L333 282.3L325.9 290.1Z" fill="#ffde95"/>
<path d="M325.9 290.1L333 282.3L327.5 278.5L320.4 286.2Z" fill="#ffdd94"/>
<path class="o" d="M322.8 313.8L329.9 305.9L336.9 298L344 290.2L338.5 286.2L333 282.3L327.5 278.5L320.4 286.2L313.4 294L306.3 301.7L311.8 305.7L317.3 309.8Z"/>
<path d="M516.2 324.6L523.2 324.1L517.3 319.3L510.3 320Z" fill="#ffca01"/>
<path d="M510.3 320L517.3 319.3L511.4 314.6L504.4 315.6Z" fill="#ffca03"/>
<path d="M504.4 315.6L511.4 314.6L505.5 310.1L498.5 311.2Z" fill="#ffca05"/>
<path d="M523.2 324.1L530.1 323.7L524.2 318.7L517.3 319.3Z" fill="#ffd100"/>
<path d="M517.3 319.3L524.2 318.7L518.3 313.9L511.4 314.6Z" fill="#ffcf01"/>
<path d="M511.4 314.6L518.3 313.9L512.5 309.2L505.5 310.1Z" fill="#ffcf03"/>
<path d="M530.1 323.7L537.1 323.4L531.2 318.4L524.2 318.7Z" fill="#ffd800"/>
<path d="M524.2 318.7L531.2 318.4L525.3 313.4L518.3 313.9Z" fill="#ffd600"/>
<path d="M518.3 313.9L525.3 313.4L519.4 308.5L512.5 309.2Z" fill="#ffd401"/>
<path class="o" d="M516.2 324.6L523.2 324.1L530.1 323.7L537.1 323.4L531.2 318.4L525.3 313.4L519.4 308.5L512.5 309.2L505.5 310.1L498.5 311.2L504.4 315.6L510.3 320Z"/>
<path d="M301.5 337.3L308.6 329.3L303.1 325.2L296 333.1Z" fill="#fff198"/>
<path d="M296 333.1L303.1 325.2L297.7 321.1L290.6 329Z" fill="#fff197"/>
<path d="M290.6 329L297.7 321.1L292.2 317.1L285.2 325Z" fill="#fff195"/>
<path d="M308.6 329.3L315.7 321.6L310.2 317.5L303.1 325.2Z" fill="#ffed97"/>
<path d="M303.1 325.2L310.2 317.5L304.7 313.4L297.7 321.1Z" fill="#ffed96"/>
<path d="M297.7 321.1L304.7 313.4L299.3 309.4L292.2 317.1Z" fill="#ffed95"/>
<path d="M315.7 321.6L322.8 313.8L317.3 309.8L310.2 317.5Z" fill="#ffe996"/>
<path d="M310.2 317.5L317.3 309.8L311.8 305.7L304.7 313.4Z" fill="#ffe996"/>
<path d="M304.7 313.4L311.8 305.7L306.3 301.7L299.3 309.4Z" fill="#ffe995"/>
<path class="o" d="M301.5 337.3L308.6 329.3L315.7 321.6L322.8 313.8L317.3 309.8L311.8 305.7L306.3 301.7L299.3 309.4L292.2 317.1L285.2 325L290.6 329L296 333.1Z"/>
<path d="M477.3 314.2L484.4 313.3L478.6 309.5L471.5 310.5Z" fill="#ffb901"/>
<path d="M471.5 310.5L478.6 309.5L472.8 305.8L465.7 306.8Z" fill="#ffba02"/>
<path d="M465.7 306.8L472.8 305.8L467 302.1L459.9 303.1Z" fill="#ffbb02"/>
<path d="M484.4 313.3L491.5 312.2L485.6 308.4L478.6 309.5Z" fill="#ffbf03"/>
<path d="M478.6 309.5L485.6 308.4L479.8 304.7L472.8 305.8Z" fill="#ffc004"/>
<path d="M472.8 305.8L479.8 304.7L474 300.9L467 302.1Z" fill="#ffc105"/>
<path d="M491.5 312.2L498.5 311.2L492.7 307.3L485.6 308.4Z" fill="#ffc404"/>
<path d="M485.6 308.4L492.7 307.3L486.9 303.5L479.8 304.7Z" fill="#ffc505"/>
<path d="M479.8 304.7L486.9 303.5L481.1 299.7L474 300.9Z" fill="#ffc606"/>
<path class="o" d="M477.3 314.2L484.4 313.3L491.5 312.2L498.5 311.2L492.7 307.3L486.9 303.5L481.1 299.7L474 300.9L467 302.1L459.9 303.1L465.7 306.8L471.5 310.5Z"/>
<path d="M686 436.3L692.5 435.7L686.5 427.5L679.9 428.2Z" fill="#10d906"/>
<path d="M679.9 428.2L686.5 427.5L680.4 419.5L673.8 420.1Z" fill="#1fdb07"/>
<path d="M673.8 420.1L680.4 419.5L674.4 411.6L667.8 412.1Z" fill="#2fdd08"/>
<path d="M692.5 435.7L699 435L693 426.9L686.5 427.5Z" fill="#0cd805"/>
<path d="M686.5 427.5L693 426.9L686.9 419L680.4 419.5Z" fill="#12d906"/>
<path d="M680.4 419.5L686.9 419L680.9 411.1L674.4 411.6Z" fill="#21db07"/>
<path d="M699 435L705.5 434.4L699.5 426.3L693 426.9Z" fill="#0bd805"/>
<path d="M693 426.9L699.5 426.3L693.4 418.4L686.9 419Z" fill="#0cd805"/>
<path d="M686.9 419L693.4 418.4L687.4 410.5L680.9 411.1Z" fill="#13d906"/>
<path class="o" d="M686 436.3L692.5 435.7L699 435L705.5 434.4L699.5 426.3L693.4 418.4L687.4 410.5L680.9 411.1L674.4 411.6L667.8 412.1L673.8 420.1L679.9 428.2Z"/>
<path d="M572.9 356.9L579.7 356.7L573.7 351L566.8 351.2Z" fill="#f5f405"/>
<path d="M566.8 351.2L573.7 351L567.7 345.4L560.9 345.6Z" fill="#f7f104"/>
<path d="M560.9 345.6L567.7 345.4L561.7 339.7L554.9 339.8Z" fill="#f8ed04"/>
<path d="M579.7 356.7L586.5 356.4L580.5 350.8L573.7 351Z" fill="#e7f407"/>
<path d="M573.7 351L580.5 350.8L574.5 345.2L567.7 345.4Z" fill="#eef506"/>
<path d="M567.7 345.4L574.5 345.2L568.6 339.6L561.7 339.7Z" fill="#f4f505"/>
<path d="M586.5 356.4L593.3 356.2L587.3 350.6L580.5 350.8Z" fill="#d5f10a"/>
<path d="M580.5 350.8L587.3 350.6L581.3 345L574.5 345.2Z" fill="#dcf209"/>
<path d="M574.5 345.2L581.3 345L575.4 339.4L568.6 339.6Z" fill="#e3f308"/>
<path class="o" d="M572.9 356.9L579.7 356.7L586.5 356.4L593.3 356.2L587.3 350.6L581.3 345L575.4 339.4L568.6 339.6L561.7 339.7L554.9 339.8L560.9 345.6L566.8 351.2Z"/>
<path d="M280.3 363.1L287.4 354.2L281.9 350L274.9 358.9Z" fill="#fbfd98"/>
<path d="M274.9 358.9L281.9 350L276.5 345.8L269.5 354.8Z" fill="#fafd97"/>
<path d="M269.5 354.8L276.5 345.8L271.1 341.8L264.1 350.7Z" fill="#fafd96"/>
<path d="M287.4 354.2L294.4 345.6L289 341.3L281.9 350Z" fill="#fdfa99"/>
<path d="M281.9 350L289 341.3L283.5 337.2L276.5 345.8Z" fill="#fdfa98"/>
<path d="M276.5 345.8L283.5 337.2L278.1 333.3L271.1 341.8Z" fill="#fdfa96"/>
<path d="M294.4 345.6L301.5 337.3L296 333.1L289 341.3Z" fill="#fef699"/>
<path d="M289 341.3L296 333.1L290.6 329L283.5 337.2Z" fill="#fef598"/>
<path d="M283.5 337.2L290.6 329L285.2 325L278.1 333.3Z" fill="#fef596"/>
<path class="o" d="M280.3 363.1L287.4 354.2L294.4 345.6L301.5 337.3L296 333.1L290.6 329L285.2 325L278.1 333.3L271.1 341.8L264.1 350.7L269.5 354.8L274.9 358.9Z"/>
<path d="M438.4 308.9L445.6 307.2L439.9 303.5L432.7 305.2Z" fill="#ffb50f"/>
<path d="M432.7 305.2L439.9 303.5L434.1 299.8L426.9 301.5Z" fill="#ffb60f"/>
<path d="M426.9 301.5L434.1 299.8L428.4 296L421.2 297.6Z" fill="#ffb710"/>
<path d="M445.6 307.2L452.8 305.2L447 301.6L439.9 303.5Z" fill="#ffba13"/>
<path d="M439.9 303.5L447 301.6L441.3 298L434.1 299.8Z" fill="#ffbb14"/>
<path d="M434.1 299.8L441.3 298L435.5 294.1L428.4 296Z" fill="#ffbc14"/>
<path d="M452.8 305.2L459.9 303.1L454.1 299.5L447 301.6Z" fill="#ffbf1b"/>
<path d="M447 301.6L454.1 299.5L448.4 295.8L441.3 298Z" fill="#ffc01b"/>
<path d="M441.3 298L448.4 295.8L442.6 292.1L435.5 294.1Z" fill="#ffc11b"/>
<path class="o" d="M438.4 308.9L445.6 307.2L452.8 305.2L459.9 303.1L454.1 299.5L448.4 295.8L442.6 292.1L435.5 294.1L428.4 296L421.2 297.6L426.9 301.5L432.7 305.2Z"/>
<path d="M259.3 391.3L266.3 381.7L260.9 377.7L253.9 387.3Z" fill="#e4fb93"/>
<path d="M253.9 387.3L260.9 377.7L255.5 373.7L248.5 383.3Z" fill="#e3fb93"/>
<path d="M248.5 383.3L255.5 373.7L250.1 369.7L243.2 379.4Z" fill="#e3fb92"/>
<path d="M266.3 381.7L273.3 372.3L267.9 368.2L260.9 377.7Z" fill="#ecfc95"/>
<path d="M260.9 377.7L267.9 368.2L262.5 364.1L255.5 373.7Z" fill="#ecfc94"/>
<path d="M255.5 373.7L262.5 364.1L257.1 360L250.1 369.7Z" fill="#ecfc93"/>
<path d="M273.3 372.3L280.3 363.1L274.9 358.9L267.9 368.2Z" fill="#f4fc97"/>
<path d="M267.9 368.2L274.9 358.9L269.5 354.8L262.5 364.1Z" fill="#f4fc96"/>
<path d="M262.5 364.1L269.5 354.8L264.1 350.7L257.1 360Z" fill="#f3fc95"/>
<path class="o" d="M259.3 391.3L266.3 381.7L273.3 372.3L280.3 363.1L274.9 358.9L269.5 354.8L264.1 350.7L257.1 360L250.1 369.7L243.2 379.4L248.5 383.3L253.9 387.3Z"/>
<path d="M399.5 303L406.8 301.2L401.1 297.3L393.8 299.1Z" fill="#ffae13"/>
<path d="M393.8 299.1L401.1 297.3L395.4 293.3L388.2 295.2Z" fill="#ffaf14"/>
<path d="M388.2 295.2L395.4 293.3L389.8 289.3L382.5 291.2Z" fill="#ffb016"/>
<path d="M406.8 301.2L414 299.5L408.3 295.5L401.1 297.3Z" fill="#ffb214"/>
<path d="M401.1 297.3L408.3 295.5L402.6 291.5L395.4 293.3Z" fill="#ffb316"/>
<path d="M395.4 293.3L402.6 291.5L397 287.4L389.8 289.3Z" fill="#ffb417"/>
<path d="M414 299.5L421.2 297.6L415.5 293.6L408.3 295.5Z" fill="#ffb616"/>
<path d="M408.3 295.5L415.5 293.6L409.8 289.6L402.6 291.5Z" fill="#ffb718"/>
<path d="M402.6 291.5L409.8 289.6L404.2 285.5L397 287.4Z" fill="#ffb71a"/>
<path class="o" d="M399.5 303L406.8 301.2L414 299.5L421.2 297.6L415.5 293.6L409.8 289.6L404.2 285.5L397 287.4L389.8 289.3L382.5 291.2L388.2 295.2L393.8 299.1Z"/>
<path d="M360.8 302.3L368 296.3L362.3 292.3L355.2 298.1Z" fill="#ffcf77"/>
<path d="M355.2 298.1L362.3 292.3L356.7 288.3L349.6 294.1Z" fill="#ffce74"/>
<path d="M349.6 294.1L356.7 288.3L351.2 284.3L344 290.2Z" fill="#ffce75"/>
<path d="M368 296.3L375.2 293.7L369.6 289.7L362.3 292.3Z" fill="#ffb32a"/>
<path d="M362.3 292.3L369.6 289.7L364 285.7L356.7 288.3Z" fill="#ffb42b"/>
<path d="M356.7 288.3L364 285.7L358.4 281.7L351.2 284.3Z" fill="#ffb42d"/>
<path d="M375.2 293.7L382.5 291.2L376.9 287.2L369.6 289.7Z" fill="#ffb52a"/>
<path d="M369.6 289.7L376.9 287.2L371.3 283.1L364 285.7Z" fill="#ffb62c"/>
<path d="M364 285.7L371.3 283.1L365.7 279.1L358.4 281.7Z" fill="#ffb62e"/>
<path class="o" d="M360.8 302.3L368 296.3L375.2 293.7L382.5 291.2L376.9 287.2L371.3 283.1L365.7 279.1L358.4 281.7L351.2 284.3L344 290.2L349.6 294.1L355.2 298.1Z"/>
<path d="M629.6 392.4L636.3 391.6L630.2 385.5L623.5 386.3Z" fill="#91e90e"/>
<path d="M623.5 386.3L630.2 385.5L624.2 379.4L617.4 380.1Z" fill="#9aea0e"/>
<path d="M617.4 380.1L624.2 379.4L618.1 373.3L611.4 374Z" fill="#a3eb0e"/>
<path d="M636.3 391.6L643 390.8L636.9 384.8L630.2 385.5Z" fill="#82e70d"/>
<path d="M630.2 385.5L636.9 384.8L630.8 378.7L624.2 379.4Z" fill="#8be80d"/>
<path d="M624.2 379.4L630.8 378.7L624.8 372.7L618.1 373.3Z" fill="#93e90d"/>
<path d="M643 390.8L649.6 390.2L643.6 384.2L636.9 384.8Z" fill="#73e60c"/>
<path d="M636.9 384.8L643.6 384.2L637.5 378.1L630.8 378.7Z" fill="#7be60c"/>
<path d="M630.8 378.7L637.5 378.1L631.5 372.1L624.8 372.7Z" fill="#84e70c"/>
<path class="o" d="M629.6 392.4L636.3 391.6L643 390.8L649.6 390.2L643.6 384.2L637.5 378.1L631.5 372.1L624.8 372.7L618.1 373.3L611.4 374L617.4 380.1L623.5 386.3Z"/>
<path d="M704.1 463.1L710.6 462.2L704.6 453.3L698 454.1Z" fill="#09d904"/>
<path d="M698 454.1L704.6 453.3L698.5 444.5L692 445.2Z" fill="#0ad804"/>
<path d="M692 445.2L698.5 444.5L692.5 435.7L686 436.3Z" fill="#0bd805"/>
<path d="M710.6 462.2L717.1 461.4L711.1 452.6L704.6 453.3Z" fill="#08d904"/>
<path d="M704.6 453.3L711.1 452.6L705 443.8L698.5 444.5Z" fill="#09d904"/>
<path d="M698.5 444.5L705 443.8L699 435L692.5 435.7Z" fill="#0ad804"/>
<path d="M717.1 461.4L723.5 460.6L717.5 451.8L711.1 452.6Z" fill="#07d903"/>
<path d="M711.1 452.6L717.5 451.8L711.5 443.1L705 443.8Z" fill="#08d904"/>
<path d="M705 443.8L711.5 443.1L705.5 434.4L699 435Z" fill="#09d904"/>
<path class="o" d="M704.1 463.1L710.6 462.2L717.1 461.4L723.5 460.6L717.5 451.8L711.5 443.1L705.5 434.4L699 435L692.5 435.7L686 436.3L692 445.2L698 454.1Z"/>
<path d="M534.1 341L541 340.6L535.1 335.1L528.1 335.5Z" fill="#ffd100"/>
<path d="M528.1 335.5L535.1 335.1L529.1 329.6L522.1 330Z" fill="#ffcf00"/>
<path d="M522.1 330L529.1 329.6L523.2 324.1L516.2 324.6Z" fill="#ffcc01"/>
<path d="M541 340.6L548 340.2L542 334.7L535.1 335.1Z" fill="#fed900"/>
<path d="M535.1 335.1L542 334.7L536.1 329.2L529.1 329.6Z" fill="#ffd600"/>
<path d="M529.1 329.6L536.1 329.2L530.1 323.7L523.2 324.1Z" fill="#ffd300"/>
<path d="M548 340.2L554.9 339.8L548.9 334.4L542 334.7Z" fill="#fce102"/>
<path d="M542 334.7L548.9 334.4L543 328.9L536.1 329.2Z" fill="#fdde01"/>
<path d="M536.1 329.2L543 328.9L537.1 323.4L530.1 323.7Z" fill="#feda01"/>
<path class="o" d="M534.1 341L541 340.6L548 340.2L554.9 339.8L548.9 334.4L543 328.9L537.1 323.4L530.1 323.7L523.2 324.1L516.2 324.6L522.1 330L528.1 335.5Z"/>
<path d="M339.4 325.8L346.6 317.9L341 313.8L333.9 321.7Z" fill="#ffe596"/>
<path d="M333.9 321.7L341 313.8L335.4 309.8L328.3 317.7Z" fill="#ffe594"/>
<path d="M328.3 317.7L335.4 309.8L329.9 305.9L322.8 313.8Z" fill="#ffe594"/>
<path d="M346.6 317.9L353.7 310.1L348.1 305.9L341 313.8Z" fill="#ffe197"/>
<path d="M341 313.8L348.1 305.9L342.5 302L335.4 309.8Z" fill="#ffe195"/>
<path d="M335.4 309.8L342.5 302L336.9 298L329.9 305.9Z" fill="#ffe195"/>
<path d="M353.7 310.1L360.8 302.3L355.2 298.1L348.1 305.9Z" fill="#ffdd97"/>
<path d="M348.1 305.9L355.2 298.1L349.6 294.1L342.5 302Z" fill="#ffdd96"/>
<path d="M342.5 302L349.6 294.1L344 290.2L336.9 298Z" fill="#ffdd95"/>
<path class="o" d="M339.4 325.8L346.6 317.9L353.7 310.1L360.8 302.3L355.2 298.1L349.6 294.1L344 290.2L336.9 298L329.9 305.9L322.8 313.8L328.3 317.7L333.9 321.7Z"/>
<path d="M591 375.1L597.8 374.7L591.8 368.7L584.9 369Z" fill="#def309"/>
<path d="M584.9 369L591.8 368.7L585.7 362.7L578.9 363Z" fill="#e7f407"/>
<path d="M578.9 363L585.7 362.7L579.7 356.7L572.9 356.9Z" fill="#f0f506"/>
<path d="M597.8 374.7L604.6 374.3L598.6 368.3L591.8 368.7Z" fill="#ccf00b"/>
<path d="M591.8 368.7L598.6 368.3L592.5 362.4L585.7 362.7Z" fill="#d5f20a"/>
<path d="M585.7 362.7L592.5 362.4L586.5 356.4L579.7 356.7Z" fill="#def309"/>
<path d="M604.6 374.3L611.4 374L605.3 368L598.6 368.3Z" fill="#bbee0c"/>
<path d="M598.6 368.3L605.3 368L599.3 362.1L592.5 362.4Z" fill="#c4ef0c"/>
<path d="M592.5 362.4L599.3 362.1L593.3 356.2L586.5 356.4Z" fill="#cdf00b"/>
<path class="o" d="M591 375.1L597.8 374.7L604.6 374.3L611.4 374L605.3 368L599.3 362.1L593.3 356.2L586.5 356.4L579.7 356.7L572.9 356.9L578.9 363L584.9 369Z"/>
<path d="M647.8 414.9L654.5 413.9L648.4 406.5L641.7 407.4Z" fill="#67e50f"/>
<path d="M641.7 407.4L648.4 406.5L642.4 399L635.7 399.9Z" fill="#76e60f"/>
<path d="M635.7 399.9L642.4 399L636.3 391.6L629.6 392.4Z" fill="#85e70f"/>
<path d="M654.5 413.9L661.2 413L655.1 405.6L648.4 406.5Z" fill="#5ae30d"/>
<path d="M648.4 406.5L655.1 405.6L649 398.2L642.4 399Z" fill="#68e40d"/>
<path d="M642.4 399L649 398.2L643 390.8L636.3 391.6Z" fill="#76e60d"/>
<path d="M661.2 413L667.8 412.1L661.7 404.8L655.1 405.6Z" fill="#4de10c"/>
<path d="M655.1 405.6L661.7 404.8L655.7 397.5L649 398.2Z" fill="#5ae30c"/>
<path d="M649 398.2L655.7 397.5L649.6 390.2L643 390.8Z" fill="#68e40c"/>
<path class="o" d="M647.8 414.9L654.5 413.9L661.2 413L667.8 412.1L661.7 404.8L655.7 397.5L649.6 390.2L643 390.8L636.3 391.6L629.6 392.4L635.7 399.9L641.7 407.4Z"/>
<path d="M318.1 350.7L325.2 342.3L319.7 337.9L312.6 346.2Z" fill="#fff299"/>
<path d="M312.6 346.2L319.7 337.9L314.1 333.6L307 341.7Z" fill="#fff199"/>
<path d="M307 341.7L314.1 333.6L308.6 329.3L301.5 337.3Z" fill="#fff199"/>
<path d="M325.2 342.3L332.3 334L326.8 329.7L319.7 337.9Z" fill="#ffed99"/>
<path d="M319.7 337.9L326.8 329.7L321.2 325.6L314.1 333.6Z" fill="#ffed98"/>
<path d="M314.1 333.6L321.2 325.6L315.7 321.6L308.6 329.3Z" fill="#ffed97"/>
<path d="M332.3 334L339.4 325.8L333.9 321.7L326.8 329.7Z" fill="#ffe998"/>
<path d="M326.8 329.7L333.9 321.7L328.3 317.7L321.2 325.6Z" fill="#ffe995"/>
<path d="M321.2 325.6L328.3 317.7L322.8 313.8L315.7 321.6Z" fill="#ffe995"/>
<path class="o" d="M318.1 350.7L325.2 342.3L332.3 334L339.4 325.8L333.9 321.7L328.3 317.7L322.8 313.8L315.7 321.6L308.6 329.3L301.5 337.3L307 341.7L312.6 346.2Z"/>
<path d="M495 326.5L502.1 325.9L496.2 321.6L489.1 322.3Z" fill="#ffb800"/>
<path d="M489.1 322.3L496.2 321.6L490.3 317.4L483.2 318.2Z" fill="#ffb801"/>
<path d="M483.2 318.2L490.3 317.4L484.4 313.3L477.3 314.2Z" fill="#ffb802"/>
<path d="M502.1 325.9L509.2 325.2L503.3 320.8L496.2 321.6Z" fill="#ffbe01"/>
<path d="M496.2 321.6L503.3 320.8L497.4 316.4L490.3 317.4Z" fill="#ffbe02"/>
<path d="M490.3 317.4L497.4 316.4L491.5 312.2L484.4 313.3Z" fill="#ffbe04"/>
<path d="M509.2 325.2L516.2 324.6L510.3 320L503.3 320.8Z" fill="#ffc401"/>
<path d="M503.3 320.8L510.3 320L504.4 315.6L497.4 316.4Z" fill="#ffc402"/>
<path d="M497.4 316.4L504.4 315.6L498.5 311.2L491.5 312.2Z" fill="#ffc404"/>
<path class="o" d="M495 326.5L502.1 325.9L509.2 325.2L516.2 324.6L510.3 320L504.4 315.6L498.5 311.2L491.5 312.2L484.4 313.3L477.3 314.2L483.2 318.2L489.1 322.3Z"/>
<path d="M296.8 376.4L303.9 367.7L298.4 363.1L291.3 371.9Z" fill="#fafd99"/>
<path d="M291.3 371.9L298.4 363.1L292.9 358.6L285.8 367.4Z" fill="#fafd99"/>
<path d="M285.8 367.4L292.9 358.6L287.4 354.2L280.3 363.1Z" fill="#fbfd99"/>
<path d="M303.9 367.7L311 359.1L305.5 354.6L298.4 363.1Z" fill="#fdfb99"/>
<path d="M298.4 363.1L305.5 354.6L299.9 350L292.9 358.6Z" fill="#fdfa99"/>
<path d="M292.9 358.6L299.9 350L294.4 345.6L287.4 354.2Z" fill="#fdfa99"/>
<path d="M311 359.1L318.1 350.7L312.6 346.2L305.5 354.6Z" fill="#fef699"/>
<path d="M305.5 354.6L312.6 346.2L307 341.7L299.9 350Z" fill="#fef699"/>
<path d="M299.9 350L307 341.7L301.5 337.3L294.4 345.6Z" fill="#fef699"/>
<path class="o" d="M296.8 376.4L303.9 367.7L311 359.1L318.1 350.7L312.6 346.2L307 341.7L301.5 337.3L294.4 345.6L287.4 354.2L280.3 363.1L285.8 367.4L291.3 371.9Z"/>
<path d="M275.5 403.4L282.6 394.2L277.1 389.9L270.1 399.2Z" fill="#e6fb97"/>
<path d="M270.1 399.2L277.1 389.9L271.7 385.8L264.7 395.2Z" fill="#e5fb93"/>
<path d="M264.7 395.2L271.7 385.8L266.3 381.7L259.3 391.3Z" fill="#e4fb92"/>
<path d="M282.6 394.2L289.7 385.2L284.2 380.8L277.1 389.9Z" fill="#eefc99"/>
<path d="M277.1 389.9L284.2 380.8L278.7 376.5L271.7 385.8Z" fill="#edfc96"/>
<path d="M271.7 385.8L278.7 376.5L273.3 372.3L266.3 381.7Z" fill="#edfc95"/>
<path d="M289.7 385.2L296.8 376.4L291.3 371.9L284.2 380.8Z" fill="#f4fc99"/>
<path d="M284.2 380.8L291.3 371.9L285.8 367.4L278.7 376.5Z" fill="#f4fc99"/>
<path d="M278.7 376.5L285.8 367.4L280.3 363.1L273.3 372.3Z" fill="#f4fc97"/>
<path class="o" d="M275.5 403.4L282.6 394.2L289.7 385.2L296.8 376.4L291.3 371.9L285.8 367.4L280.3 363.1L273.3 372.3L266.3 381.7L259.3 391.3L264.7 395.2L270.1 399.2Z"/>
<path d="M455.9 320.2L463.1 318.4L457.2 314.7L450 316.5Z" fill="#ffb310"/>
<path d="M450 316.5L457.2 314.7L451.4 310.9L444.2 312.7Z" fill="#ffb410"/>
<path d="M444.2 312.7L451.4 310.9L445.6 307.2L438.4 308.9Z" fill="#ffb510"/>
<path d="M463.1 318.4L470.2 316.4L464.4 312.7L457.2 314.7Z" fill="#ffb715"/>
<path d="M457.2 314.7L464.4 312.7L458.6 309L451.4 310.9Z" fill="#ffb815"/>
<path d="M451.4 310.9L458.6 309L452.8 305.2L445.6 307.2Z" fill="#ffb915"/>
<path d="M470.2 316.4L477.3 314.2L471.5 310.5L464.4 312.7Z" fill="#ffbc1b"/>
<path d="M464.4 312.7L471.5 310.5L465.7 306.8L458.6 309Z" fill="#ffbd1c"/>
<path d="M458.6 309L465.7 306.8L459.9 303.1L452.8 305.2Z" fill="#ffbe1c"/>
<path class="o" d="M455.9 320.2L463.1 318.4L470.2 316.4L477.3 314.2L471.5 310.5L465.7 306.8L459.9 303.1L452.8 305.2L445.6 307.2L438.4 308.9L444.2 312.7L450 316.5Z"/>
<path d="M377.8 315.6L384.9 308.1L379.3 304.2L372.1 311Z" fill="#ffd993"/>
<path d="M372.1 311L379.3 304.2L373.6 300.2L366.4 306.6Z" fill="#ffd589"/>
<path d="M366.4 306.6L373.6 300.2L368 296.3L360.8 302.3Z" fill="#ffd17f"/>
<path d="M384.9 308.1L392.2 305.5L386.6 301.6L379.3 304.2Z" fill="#ffb127"/>
<path d="M379.3 304.2L386.6 301.6L380.9 297.7L373.6 300.2Z" fill="#ffb128"/>
<path d="M373.6 300.2L380.9 297.7L375.2 293.7L368 296.3Z" fill="#ffb229"/>
<path d="M392.2 305.5L399.5 303L393.8 299.1L386.6 301.6Z" fill="#ffb226"/>
<path d="M386.6 301.6L393.8 299.1L388.2 295.2L380.9 297.7Z" fill="#ffb327"/>
<path d="M380.9 297.7L388.2 295.2L382.5 291.2L375.2 293.7Z" fill="#ffb429"/>
<path class="o" d="M377.8 315.6L384.9 308.1L392.2 305.5L399.5 303L393.8 299.1L388.2 295.2L382.5 291.2L375.2 293.7L368 296.3L360.8 302.3L366.4 306.6L372.1 311Z"/>
<path d="M416.7 314.5L424 312.7L418.2 308.9L411 310.7Z" fill="#ffac11"/>
<path d="M411 310.7L418.2 308.9L412.5 305.1L405.2 306.9Z" fill="#ffac12"/>
<path d="M405.2 306.9L412.5 305.1L406.8 301.2L399.5 303Z" fill="#ffad12"/>
<path d="M424 312.7L431.2 310.8L425.5 307.1L418.2 308.9Z" fill="#ffaf12"/>
<path d="M418.2 308.9L425.5 307.1L419.7 303.3L412.5 305.1Z" fill="#ffb012"/>
<path d="M412.5 305.1L419.7 303.3L414 299.5L406.8 301.2Z" fill="#ffb113"/>
<path d="M431.2 310.8L438.4 308.9L432.7 305.2L425.5 307.1Z" fill="#ffb314"/>
<path d="M425.5 307.1L432.7 305.2L426.9 301.5L419.7 303.3Z" fill="#ffb414"/>
<path d="M419.7 303.3L426.9 301.5L421.2 297.6L414 299.5Z" fill="#ffb515"/>
<path class="o" d="M416.7 314.5L424 312.7L431.2 310.8L438.4 308.9L432.7 305.2L426.9 301.5L421.2 297.6L414 299.5L406.8 301.2L399.5 303L405.2 306.9L411 310.7Z"/>
<path d="M666.1 439.3L672.7 438.3L666.7 430L660 431.1Z" fill="#38de0d"/>
<path d="M660 431.1L666.7 430L660.6 421.9L653.9 423Z" fill="#48e00e"/>
<path d="M653.9 423L660.6 421.9L654.5 413.9L647.8 414.9Z" fill="#58e30e"/>
<path d="M672.7 438.3L679.4 437.3L673.3 429.1L666.7 430Z" fill="#2bdc0b"/>
<path d="M666.7 430L673.3 429.1L667.2 421L660.6 421.9Z" fill="#3bdf0c"/>
<path d="M660.6 421.9L667.2 421L661.2 413L654.5 413.9Z" fill="#4be10d"/>
<path d="M679.4 437.3L686 436.3L679.9 428.2L673.3 429.1Z" fill="#1edb09"/>
<path d="M673.3 429.1L679.9 428.2L673.8 420.1L667.2 421Z" fill="#2edd0a"/>
<path d="M667.2 421L673.8 420.1L667.8 412.1L661.2 413Z" fill="#3edf0b"/>
<path class="o" d="M666.1 439.3L672.7 438.3L679.4 437.3L686 436.3L679.9 428.2L673.8 420.1L667.8 412.1L661.2 413L654.5 413.9L647.8 414.9L653.9 423L660 431.1Z"/>
<path d="M552.1 358.4L559 358L553 352.2L546.1 352.6Z" fill="#fedc01"/>
<path d="M546.1 352.6L553 352.2L547 346.4L540.1 346.8Z" fill="#ffd800"/>
<path d="M540.1 346.8L547 346.4L541 340.6L534.1 341Z" fill="#ffd400"/>
<path d="M559 358L566 357.5L560 351.7L553 352.2Z" fill="#fbe402"/>
<path d="M553 352.2L560 351.7L554 346L547 346.4Z" fill="#fce002"/>
<path d="M547 346.4L554 346L548 340.2L541 340.6Z" fill="#fddc01"/>
<path d="M566 357.5L572.9 356.9L566.8 351.2L560 351.7Z" fill="#f9ec04"/>
<path d="M560 351.7L566.8 351.2L560.9 345.6L554 346Z" fill="#fae903"/>
<path d="M554 346L560.9 345.6L554.9 339.8L548 340.2Z" fill="#fbe502"/>
<path class="o" d="M552.1 358.4L559 358L566 357.5L572.9 356.9L566.8 351.2L560.9 345.6L554.9 339.8L548 340.2L541 340.6L534.1 341L540.1 346.8L546.1 352.6Z"/>
<path d="M609.3 393.8L616.1 393.3L610 387.1L603.2 387.6Z" fill="#c1ef0c"/>
<path d="M603.2 387.6L610 387.1L603.9 380.9L597.1 381.4Z" fill="#caf00c"/>
<path d="M597.1 381.4L603.9 380.9L597.8 374.7L591 375.1Z" fill="#d4f10a"/>
<path d="M616.1 393.3L622.9 392.8L616.8 386.7L610 387.1Z" fill="#b0ed0c"/>
<path d="M610 387.1L616.8 386.7L610.7 380.5L603.9 380.9Z" fill="#baee0c"/>
<path d="M603.9 380.9L610.7 380.5L604.6 374.3L597.8 374.7Z" fill="#c3ef0c"/>
<path d="M622.9 392.8L629.6 392.4L623.5 386.3L616.8 386.7Z" fill="#9fea0c"/>
<path d="M616.8 386.7L623.5 386.3L617.4 380.1L610.7 380.5Z" fill="#a9ec0c"/>
<path d="M610.7 380.5L617.4 380.1L611.4 374L604.6 374.3Z" fill="#b2ed0c"/>
<path class="o" d="M609.3 393.8L616.1 393.3L622.9 392.8L629.6 392.4L623.5 386.3L617.4 380.1L611.4 374L604.6 374.3L597.8 374.7L591 375.1L597.1 381.4L603.2 387.6Z"/>
<path d="M356.4 339.5L363.5 331.5L357.8 326.8L350.7 334.8Z" fill="#ffe699"/>
<path d="M350.7 334.8L357.8 326.8L352.2 322.2L345.1 330.2Z" fill="#ffe699"/>
<path d="M345.1 330.2L352.2 322.2L346.6 317.9L339.4 325.8Z" fill="#ffe699"/>
<path d="M363.5 331.5L370.7 323.6L365 318.9L357.8 326.8Z" fill="#ffe299"/>
<path d="M357.8 326.8L365 318.9L359.3 314.4L352.2 322.2Z" fill="#ffe299"/>
<path d="M352.2 322.2L359.3 314.4L353.7 310.1L346.6 317.9Z" fill="#ffe299"/>
<path d="M370.7 323.6L377.8 315.6L372.1 311L365 318.9Z" fill="#ffdf99"/>
<path d="M365 318.9L372.1 311L366.4 306.6L359.3 314.4Z" fill="#ffde99"/>
<path d="M359.3 314.4L366.4 306.6L360.8 302.3L353.7 310.1Z" fill="#ffde99"/>
<path class="o" d="M356.4 339.5L363.5 331.5L370.7 323.6L377.8 315.6L372.1 311L366.4 306.6L360.8 302.3L353.7 310.1L346.6 317.9L339.4 325.8L345.1 330.2L350.7 334.8Z"/>
<path d="M684.3 466.4L690.9 465.2L684.9 456.2L678.2 457.3Z" fill="#0ed908"/>
<path d="M678.2 457.3L684.9 456.2L678.8 447.2L672.1 448.3Z" fill="#13d909"/>
<path d="M672.1 448.3L678.8 447.2L672.7 438.3L666.1 439.3Z" fill="#25dc0a"/>
<path d="M690.9 465.2L697.5 464.1L691.5 455.1L684.9 456.2Z" fill="#0dd907"/>
<path d="M684.9 456.2L691.5 455.1L685.4 446.1L678.8 447.2Z" fill="#0ed908"/>
<path d="M678.8 447.2L685.4 446.1L679.4 437.3L672.7 438.3Z" fill="#19da09"/>
<path d="M697.5 464.1L704.1 463.1L698 454.1L691.5 455.1Z" fill="#0cd907"/>
<path d="M691.5 455.1L698 454.1L692 445.2L685.4 446.1Z" fill="#0dd907"/>
<path d="M685.4 446.1L692 445.2L686 436.3L679.4 437.3Z" fill="#10d908"/>
<path class="o" d="M684.3 466.4L690.9 465.2L697.5 464.1L704.1 463.1L698 454.1L692 445.2L686 436.3L679.4 437.3L672.7 438.3L666.1 439.3L672.1 448.3L678.2 457.3Z"/>
<path d="M334.9 364.3L342.1 355.8L336.4 351.3L329.3 359.7Z" fill="#fff299"/>
<path d="M329.3 359.7L336.4 351.3L330.8 346.7L323.7 355.2Z" fill="#fff299"/>
<path d="M323.7 355.2L330.8 346.7L325.2 342.3L318.1 350.7Z" fill="#fff299"/>
<path d="M342.1 355.8L349.2 347.6L343.6 343L336.4 351.3Z" fill="#ffee99"/>
<path d="M336.4 351.3L343.6 343L337.9 338.4L330.8 346.7Z" fill="#ffee99"/>
<path d="M330.8 346.7L337.9 338.4L332.3 334L325.2 342.3Z" fill="#ffee99"/>
<path d="M349.2 347.6L356.4 339.5L350.7 334.8L343.6 343Z" fill="#ffea99"/>
<path d="M343.6 343L350.7 334.8L345.1 330.2L337.9 338.4Z" fill="#ffea99"/>
<path d="M337.9 338.4L345.1 330.2L339.4 325.8L332.3 334Z" fill="#ffe999"/>
<path class="o" d="M334.9 364.3L342.1 355.8L349.2 347.6L356.4 339.5L350.7 334.8L345.1 330.2L339.4 325.8L332.3 334L325.2 342.3L318.1 350.7L323.7 355.2L329.3 359.7Z"/>
<path d="M512.9 341.2L520 341.2L514 336L506.9 336.2Z" fill="#ffbb00"/>
<path d="M506.9 336.2L514 336L508.1 330.9L501 331.3Z" fill="#ffba00"/>
<path d="M501 331.3L508.1 330.9L502.1 325.9L495 326.5Z" fill="#ffb800"/>
<path d="M520 341.2L527 341.1L521.1 335.7L514 336Z" fill="#ffc300"/>
<path d="M514 336L521.1 335.7L515.1 330.4L508.1 330.9Z" fill="#ffc100"/>
<path d="M508.1 330.9L515.1 330.4L509.2 325.2L502.1 325.9Z" fill="#ffbf01"/>
<path d="M527 341.1L534.1 341L528.1 335.5L521.1 335.7Z" fill="#ffca00"/>
<path d="M521.1 335.7L528.1 335.5L522.1 330L515.1 330.4Z" fill="#ffc800"/>
<path d="M515.1 330.4L522.1 330L516.2 324.6L509.2 325.2Z" fill="#ffc500"/>
<path class="o" d="M512.9 341.2L520 341.2L527 341.1L534.1 341L528.1 335.5L522.1 330L516.2 324.6L509.2 325.2L502.1 325.9L495 326.5L501 331.3L506.9 336.2Z"/>
<path d="M313.5 390.8L320.7 381.8L315 377L307.9 385.8Z" fill="#f9fd99"/>
<path d="M307.9 385.8L315 377L309.5 372.3L302.3 381Z" fill="#f9fd99"/>
<path d="M302.3 381L309.5 372.3L303.9 367.7L296.8 376.4Z" fill="#fafd99"/>
<path d="M320.7 381.8L327.8 373L322.2 368.3L315 377Z" fill="#fdfb99"/>
<path d="M315 377L322.2 368.3L316.6 363.7L309.5 372.3Z" fill="#fdfb99"/>
<path d="M309.5 372.3L316.6 363.7L311 359.1L303.9 367.7Z" fill="#fdfb99"/>
<path d="M327.8 373L334.9 364.3L329.3 359.7L322.2 368.3Z" fill="#fef799"/>
<path d="M322.2 368.3L329.3 359.7L323.7 355.2L316.6 363.7Z" fill="#fef799"/>
<path d="M316.6 363.7L323.7 355.2L318.1 350.7L311 359.1Z" fill="#fef699"/>
<path class="o" d="M313.5 390.8L320.7 381.8L327.8 373L334.9 364.3L329.3 359.7L323.7 355.2L318.1 350.7L311 359.1L303.9 367.7L296.8 376.4L302.3 381L307.9 385.8Z"/>
<path d="M292.2 418.3L299.3 409L293.7 403.9L286.6 413.2Z" fill="#e5fb99"/>
<path d="M286.6 413.2L293.7 403.9L288.1 398.9L281 408.2Z" fill="#e6fb99"/>
<path d="M281 408.2L288.1 398.9L282.6 394.2L275.5 403.4Z" fill="#e7fb99"/>
<path d="M299.3 409L306.4 399.9L300.8 394.8L293.7 403.9Z" fill="#ecfc99"/>
<path d="M293.7 403.9L300.8 394.8L295.2 389.9L288.1 398.9Z" fill="#edfc99"/>
<path d="M288.1 398.9L295.2 389.9L289.7 385.2L282.6 394.2Z" fill="#edfc99"/>
<path d="M306.4 399.9L313.5 390.8L307.9 385.8L300.8 394.8Z" fill="#f3fc99"/>
<path d="M300.8 394.8L307.9 385.8L302.3 381L295.2 389.9Z" fill="#f3fc99"/>
<path d="M295.2 389.9L302.3 381L296.8 376.4L289.7 385.2Z" fill="#f4fc99"/>
<path class="o" d="M292.2 418.3L299.3 409L306.4 399.9L313.5 390.8L307.9 385.8L302.3 381L296.8 376.4L289.7 385.2L282.6 394.2L275.5 403.4L281 408.2L286.6 413.2Z"/>
<path d="M570.3 377L577.2 376.4L571.1 370.3L564.2 370.7Z" fill="#faea03"/>
<path d="M564.2 370.7L571.1 370.3L565.1 364.1L558.1 364.5Z" fill="#fbe502"/>
<path d="M558.1 364.5L565.1 364.1L559 358L552.1 358.4Z" fill="#fce002"/>
<path d="M577.2 376.4L584.1 375.8L578 369.7L571.1 370.3Z" fill="#f7f205"/>
<path d="M571.1 370.3L578 369.7L572 363.6L565.1 364.1Z" fill="#f9ed04"/>
<path d="M565.1 364.1L572 363.6L566 357.5L559 358Z" fill="#fae903"/>
<path d="M584.1 375.8L591 375.1L584.9 369L578 369.7Z" fill="#eef508"/>
<path d="M578 369.7L584.9 369L578.9 363L572 363.6Z" fill="#f5f506"/>
<path d="M572 363.6L578.9 363L572.9 356.9L566 357.5Z" fill="#f8f105"/>
<path class="o" d="M570.3 377L577.2 376.4L584.1 375.8L591 375.1L584.9 369L578.9 363L572.9 356.9L566 357.5L559 358L552.1 358.4L558.1 364.5L564.2 370.7Z"/>
<path d="M627.6 416.9L634.3 416.2L628.2 408.6L621.4 409.2Z" fill="#93e90d"/>
<path d="M621.4 409.2L628.2 408.6L622.2 401L615.3 401.5Z" fill="#a3eb0d"/>
<path d="M615.3 401.5L622.2 401L616.1 393.3L609.3 393.8Z" fill="#b4ed0c"/>
<path d="M634.3 416.2L641.1 415.5L635 407.9L628.2 408.6Z" fill="#83e70c"/>
<path d="M628.2 408.6L635 407.9L628.9 400.4L622.2 401Z" fill="#93e90c"/>
<path d="M622.2 401L628.9 400.4L622.9 392.8L616.1 393.3Z" fill="#a3eb0c"/>
<path d="M641.1 415.5L647.8 414.9L641.7 407.4L635 407.9Z" fill="#73e60b"/>
<path d="M635 407.9L641.7 407.4L635.7 399.9L628.9 400.4Z" fill="#83e70c"/>
<path d="M628.9 400.4L635.7 399.9L629.6 392.4L622.9 392.8Z" fill="#93e90c"/>
<path class="o" d="M627.6 416.9L634.3 416.2L641.1 415.5L647.8 414.9L641.7 407.4L635.7 399.9L629.6 392.4L622.9 392.8L616.1 393.3L609.3 393.8L615.3 401.5L621.4 409.2Z"/>
<path d="M395 329.6L402.2 321.5L396.4 316.9L389.3 324.9Z" fill="#ffdc99"/>
<path d="M389.3 324.9L396.4 316.9L390.6 312.3L383.5 320.3Z" fill="#ffdc99"/>
<path d="M383.5 320.3L390.6 312.3L384.9 308.1L377.8 315.6Z" fill="#ffdb98"/>
<path d="M402.2 321.5L409.4 317L403.7 313.2L396.4 316.9Z" fill="#ffbe4f"/>
<path d="M396.4 316.9L403.7 313.2L397.9 309.4L390.6 312.3Z" fill="#ffb83d"/>
<path d="M390.6 312.3L397.9 309.4L392.2 305.5L384.9 308.1Z" fill="#ffb129"/>
<path d="M409.4 317L416.7 314.5L411 310.7L403.7 313.2Z" fill="#ffaf24"/>
<path d="M403.7 313.2L411 310.7L405.2 306.9L397.9 309.4Z" fill="#ffb024"/>
<path d="M397.9 309.4L405.2 306.9L399.5 303L392.2 305.5Z" fill="#ffb125"/>
<path class="o" d="M395 329.6L402.2 321.5L409.4 317L416.7 314.5L411 310.7L405.2 306.9L399.5 303L392.2 305.5L384.9 308.1L377.8 315.6L383.5 320.3L389.3 324.9Z"/>
<path d="M473.5 332.1L480.7 330.3L474.8 326.3L467.6 328.2Z" fill="#ffb111"/>
<path d="M467.6 328.2L474.8 326.3L468.9 322.3L461.7 324.2Z" fill="#ffb212"/>
<path d="M461.7 324.2L468.9 322.3L463.1 318.4L455.9 320.2Z" fill="#ffb313"/>
<path d="M480.7 330.3L487.9 328.4L482 324.4L474.8 326.3Z" fill="#ffb514"/>
<path d="M474.8 326.3L482 324.4L476.1 320.4L468.9 322.3Z" fill="#ffb716"/>
<path d="M468.9 322.3L476.1 320.4L470.2 316.4L463.1 318.4Z" fill="#ffb717"/>
<path d="M487.9 328.4L495 326.5L489.1 322.3L482 324.4Z" fill="#ffba19"/>
<path d="M482 324.4L489.1 322.3L483.2 318.2L476.1 320.4Z" fill="#ffbb1b"/>
<path d="M476.1 320.4L483.2 318.2L477.3 314.2L470.2 316.4Z" fill="#ffbc1d"/>
<path class="o" d="M473.5 332.1L480.7 330.3L487.9 328.4L495 326.5L489.1 322.3L483.2 318.2L477.3 314.2L470.2 316.4L463.1 318.4L455.9 320.2L461.7 324.2L467.6 328.2Z"/>
<path d="M434.1 326.2L441.4 324.2L435.6 320.4L428.3 322.3Z" fill="#ffaa13"/>
<path d="M428.3 322.3L435.6 320.4L429.8 316.6L422.5 318.4Z" fill="#ffab13"/>
<path d="M422.5 318.4L429.8 316.6L424 312.7L416.7 314.5Z" fill="#ffab13"/>
<path d="M441.4 324.2L448.7 322.2L442.8 318.5L435.6 320.4Z" fill="#ffad14"/>
<path d="M435.6 320.4L442.8 318.5L437 314.7L429.8 316.6Z" fill="#ffae14"/>
<path d="M429.8 316.6L437 314.7L431.2 310.8L424 312.7Z" fill="#ffaf14"/>
<path d="M448.7 322.2L455.9 320.2L450 316.5L442.8 318.5Z" fill="#ffb116"/>
<path d="M442.8 318.5L450 316.5L444.2 312.7L437 314.7Z" fill="#ffb215"/>
<path d="M437 314.7L444.2 312.7L438.4 308.9L431.2 310.8Z" fill="#ffb315"/>
<path class="o" d="M434.1 326.2L441.4 324.2L448.7 322.2L455.9 320.2L450 316.5L444.2 312.7L438.4 308.9L431.2 310.8L424 312.7L416.7 314.5L422.5 318.4L428.3 322.3Z"/>
<path d="M373.5 354.1L380.7 346L374.9 341.2L367.8 349.2Z" fill="#ffe899"/>
<path d="M367.8 349.2L374.9 341.2L369.2 336.3L362.1 344.3Z" fill="#ffe799"/>
<path d="M362.1 344.3L369.2 336.3L363.5 331.5L356.4 339.5Z" fill="#ffe799"/>
<path d="M380.7 346L387.9 337.8L382.1 333.1L374.9 341.2Z" fill="#ffe499"/>
<path d="M374.9 341.2L382.1 333.1L376.4 328.3L369.2 336.3Z" fill="#ffe399"/>
<path d="M369.2 336.3L376.4 328.3L370.7 323.6L363.5 331.5Z" fill="#ffe399"/>
<path d="M387.9 337.8L395 329.6L389.3 324.9L382.1 333.1Z" fill="#ffe099"/>
<path d="M382.1 333.1L389.3 324.9L383.5 320.3L376.4 328.3Z" fill="#ffdf99"/>
<path d="M376.4 328.3L383.5 320.3L377.8 315.6L370.7 323.6Z" fill="#ffdf99"/>
<path class="o" d="M373.5 354.1L380.7 346L387.9 337.8L395 329.6L389.3 324.9L383.5 320.3L377.8 315.6L370.7 323.6L363.5 331.5L356.4 339.5L362.1 344.3L367.8 349.2Z"/>
<path d="M645.9 441.7L652.7 440.9L646.5 432.6L639.8 433.4Z" fill="#5de30b"/>
<path d="M639.8 433.4L646.5 432.6L640.4 424.4L633.7 425.1Z" fill="#6fe50c"/>
<path d="M633.7 425.1L640.4 424.4L634.3 416.2L627.6 416.9Z" fill="#81e70c"/>
<path d="M652.7 440.9L659.4 440.1L653.3 431.8L646.5 432.6Z" fill="#4fe10a"/>
<path d="M646.5 432.6L653.3 431.8L647.2 423.6L640.4 424.4Z" fill="#60e30b"/>
<path d="M640.4 424.4L647.2 423.6L641.1 415.5L634.3 416.2Z" fill="#72e50c"/>
<path d="M659.4 440.1L666.1 439.3L660 431.1L653.3 431.8Z" fill="#41df09"/>
<path d="M653.3 431.8L660 431.1L653.9 423L647.2 423.6Z" fill="#52e20a"/>
<path d="M647.2 423.6L653.9 423L647.8 414.9L641.1 415.5Z" fill="#63e40b"/>
<path class="o" d="M645.9 441.7L652.7 440.9L659.4 440.1L666.1 439.3L660 431.1L653.9 423L647.8 414.9L641.1 415.5L634.3 416.2L627.6 416.9L633.7 425.1L639.8 433.4Z"/>
<path d="M531 358.1L538.1 358.4L532 352.6L524.9 352.4Z" fill="#ffc400"/>
<path d="M524.9 352.4L532 352.6L526 346.9L518.9 346.7Z" fill="#ffc100"/>
<path d="M518.9 346.7L526 346.9L520 341.2L512.9 341.2Z" fill="#ffbe00"/>
<path d="M538.1 358.4L545.1 358.4L539.1 352.6L532 352.6Z" fill="#ffcc00"/>
<path d="M532 352.6L539.1 352.6L533 346.9L526 346.9Z" fill="#ffc900"/>
<path d="M526 346.9L533 346.9L527 341.1L520 341.2Z" fill="#ffc600"/>
<path d="M545.1 358.4L552.1 358.4L546.1 352.6L539.1 352.6Z" fill="#ffd400"/>
<path d="M539.1 352.6L546.1 352.6L540.1 346.8L533 346.9Z" fill="#ffd000"/>
<path d="M533 346.9L540.1 346.8L534.1 341L527 341.1Z" fill="#ffcd00"/>
<path class="o" d="M531 358.1L538.1 358.4L545.1 358.4L552.1 358.4L546.1 352.6L540.1 346.8L534.1 341L527 341.1L520 341.2L512.9 341.2L518.9 346.7L524.9 352.4Z"/>
<path d="M351.9 378.1L359.1 369.7L353.4 364.9L346.2 373.3Z" fill="#fef399"/>
<path d="M346.2 373.3L353.4 364.9L347.7 360.3L340.6 368.8Z" fill="#fef399"/>
<path d="M340.6 368.8L347.7 360.3L342.1 355.8L334.9 364.3Z" fill="#fff299"/>
<path d="M359.1 369.7L366.3 361.9L360.6 357L353.4 364.9Z" fill="#ffef99"/>
<path d="M353.4 364.9L360.6 357L354.9 352.3L347.7 360.3Z" fill="#ffee99"/>
<path d="M347.7 360.3L354.9 352.3L349.2 347.6L342.1 355.8Z" fill="#ffee99"/>
<path d="M366.3 361.9L373.5 354.1L367.8 349.2L360.6 357Z" fill="#ffeb99"/>
<path d="M360.6 357L367.8 349.2L362.1 344.3L354.9 352.3Z" fill="#ffeb99"/>
<path d="M354.9 352.3L362.1 344.3L356.4 339.5L349.2 347.6Z" fill="#ffea99"/>
<path class="o" d="M351.9 378.1L359.1 369.7L366.3 361.9L373.5 354.1L367.8 349.2L362.1 344.3L356.4 339.5L349.2 347.6L342.1 355.8L334.9 364.3L340.6 368.8L346.2 373.3Z"/>
<path d="M588.6 396.1L595.5 395.4L589.4 389.1L582.5 389.7Z" fill="#f0f507"/>
<path d="M582.5 389.7L589.4 389.1L583.3 382.8L576.4 383.3Z" fill="#f6f406"/>
<path d="M576.4 383.3L583.3 382.8L577.2 376.4L570.3 377Z" fill="#f8ef04"/>
<path d="M595.5 395.4L602.4 394.7L596.3 388.4L589.4 389.1Z" fill="#e0f30a"/>
<path d="M589.4 389.1L596.3 388.4L590.2 382.1L583.3 382.8Z" fill="#eaf409"/>
<path d="M583.3 382.8L590.2 382.1L584.1 375.8L577.2 376.4Z" fill="#f3f507"/>
<path d="M602.4 394.7L609.3 393.8L603.2 387.6L596.3 388.4Z" fill="#d1f10e"/>
<path d="M596.3 388.4L603.2 387.6L597.1 381.4L590.2 382.1Z" fill="#dbf20c"/>
<path d="M590.2 382.1L597.1 381.4L591 375.1L584.1 375.8Z" fill="#e5f40a"/>
<path class="o" d="M588.6 396.1L595.5 395.4L602.4 394.7L609.3 393.8L603.2 387.6L597.1 381.4L591 375.1L584.1 375.8L577.2 376.4L570.3 377L576.4 383.3L582.5 389.7Z"/>
<path d="M330.5 407L337.7 397.4L332 392L324.8 401.5Z" fill="#f6fc99"/>
<path d="M324.8 401.5L332 392L326.3 386.8L319.2 396Z" fill="#f7fd99"/>
<path d="M319.2 396L326.3 386.8L320.7 381.8L313.5 390.8Z" fill="#f8fd99"/>
<path d="M337.7 397.4L344.8 387.5L339.1 382.5L332 392Z" fill="#fcfc99"/>
<path d="M332 392L339.1 382.5L333.4 377.7L326.3 386.8Z" fill="#fdfc99"/>
<path d="M326.3 386.8L333.4 377.7L327.8 373L320.7 381.8Z" fill="#fdfc99"/>
<path d="M344.8 387.5L351.9 378.1L346.2 373.3L339.1 382.5Z" fill="#fef899"/>
<path d="M339.1 382.5L346.2 373.3L340.6 368.8L333.4 377.7Z" fill="#fef799"/>
<path d="M333.4 377.7L340.6 368.8L334.9 364.3L327.8 373Z" fill="#fef799"/>
<path class="o" d="M330.5 407L337.7 397.4L344.8 387.5L351.9 378.1L346.2 373.3L340.6 368.8L334.9 364.3L327.8 373L320.7 381.8L313.5 390.8L319.2 396L324.8 401.5Z"/>
<path d="M309 433.7L316.2 424.7L310.5 419.4L303.4 428.5Z" fill="#e1fb99"/>
<path d="M303.4 428.5L310.5 419.4L304.9 414.2L297.8 423.4Z" fill="#e2fb99"/>
<path d="M297.8 423.4L304.9 414.2L299.3 409L292.2 418.3Z" fill="#e4fb99"/>
<path d="M316.2 424.7L323.4 416L317.7 410.5L310.5 419.4Z" fill="#e9fc99"/>
<path d="M310.5 419.4L317.7 410.5L312 405.1L304.9 414.2Z" fill="#eafc99"/>
<path d="M304.9 414.2L312 405.1L306.4 399.9L299.3 409Z" fill="#ebfc99"/>
<path d="M323.4 416L330.5 407L324.8 401.5L317.7 410.5Z" fill="#effc99"/>
<path d="M317.7 410.5L324.8 401.5L319.2 396L312 405.1Z" fill="#f1fc99"/>
<path d="M312 405.1L319.2 396L313.5 390.8L306.4 399.9Z" fill="#f2fc99"/>
<path class="o" d="M309 433.7L316.2 424.7L323.4 416L330.5 407L324.8 401.5L319.2 396L313.5 390.8L306.4 399.9L299.3 409L292.2 418.3L297.8 423.4L303.4 428.5Z"/>
<path d="M664.2 468.6L671 467.8L664.8 458.8L658.1 459.6Z" fill="#22db07"/>
<path d="M658.1 459.6L664.8 458.8L658.7 449.8L652 450.6Z" fill="#36de08"/>
<path d="M652 450.6L658.7 449.8L652.7 440.9L645.9 441.7Z" fill="#4ae10a"/>
<path d="M671 467.8L677.6 467.1L671.5 458L664.8 458.8Z" fill="#15d906"/>
<path d="M664.8 458.8L671.5 458L665.5 449L658.7 449.8Z" fill="#28dc07"/>
<path d="M658.7 449.8L665.5 449L659.4 440.1L652.7 440.9Z" fill="#3cdf09"/>
<path d="M677.6 467.1L684.3 466.4L678.2 457.3L671.5 458Z" fill="#0dd805"/>
<path d="M671.5 458L678.2 457.3L672.1 448.3L665.5 449Z" fill="#1bda06"/>
<path d="M665.5 449L672.1 448.3L666.1 439.3L659.4 440.1Z" fill="#2fdd08"/>
<path class="o" d="M664.2 468.6L671 467.8L677.6 467.1L684.3 466.4L678.2 457.3L672.1 448.3L666.1 439.3L659.4 440.1L652.7 440.9L645.9 441.7L652 450.6L658.1 459.6Z"/>
<path d="M491.4 345.6L498.6 344.1L492.6 339.4L485.4 341Z" fill="#ffb10f"/>
<path d="M485.4 341L492.6 339.4L486.7 334.8L479.5 336.6Z" fill="#ffb111"/>
<path d="M479.5 336.6L486.7 334.8L480.7 330.3L473.5 332.1Z" fill="#ffb214"/>
<path d="M498.6 344.1L505.8 342.7L499.8 337.8L492.6 339.4Z" fill="#ffb50e"/>
<path d="M492.6 339.4L499.8 337.8L493.8 333.1L486.7 334.8Z" fill="#ffb511"/>
<path d="M486.7 334.8L493.8 333.1L487.9 328.4L480.7 330.3Z" fill="#ffb615"/>
<path d="M505.8 342.7L512.9 341.2L506.9 336.2L499.8 337.8Z" fill="#ffba10"/>
<path d="M499.8 337.8L506.9 336.2L501 331.3L493.8 333.1Z" fill="#ffba15"/>
<path d="M493.8 333.1L501 331.3L495 326.5L487.9 328.4Z" fill="#ffba19"/>
<path class="o" d="M491.4 345.6L498.6 344.1L505.8 342.7L512.9 341.2L506.9 336.2L501 331.3L495 326.5L487.9 328.4L480.7 330.3L473.5 332.1L479.5 336.6L485.4 341Z"/>
<path d="M412.4 343.5L419.6 335.4L413.8 330.6L406.6 338.8Z" fill="#ffdd99"/>
<path d="M406.6 338.8L413.8 330.6L408 326L400.8 334.2Z" fill="#ffdc99"/>
<path d="M400.8 334.2L408 326L402.2 321.5L395 329.6Z" fill="#ffdc99"/>
<path d="M419.6 335.4L426.8 328.8L421 324.9L413.8 330.6Z" fill="#ffcd79"/>
<path d="M413.8 330.6L421 324.9L415.2 321L408 326Z" fill="#ffc563"/>
<path d="M408 326L415.2 321L409.4 317L402.2 321.5Z" fill="#ffc25b"/>
<path d="M426.8 328.8L434.1 326.2L428.3 322.3L421 324.9Z" fill="#ffae26"/>
<path d="M421 324.9L428.3 322.3L422.5 318.4L415.2 321Z" fill="#ffaf26"/>
<path d="M415.2 321L422.5 318.4L416.7 314.5L409.4 317Z" fill="#ffaf26"/>
<path class="o" d="M412.4 343.5L419.6 335.4L426.8 328.8L434.1 326.2L428.3 322.3L422.5 318.4L416.7 314.5L409.4 317L402.2 321.5L395 329.6L400.8 334.2L406.6 338.8Z"/>
<path d="M451.8 338.6L459.1 336.4L453.2 332.4L445.9 334.5Z" fill="#ffab19"/>
<path d="M445.9 334.5L453.2 332.4L447.3 328.3L440 330.3Z" fill="#ffab18"/>
<path d="M440 330.3L447.3 328.3L441.4 324.2L434.1 326.2Z" fill="#ffab17"/>
<path d="M459.1 336.4L466.3 334.3L460.4 330.3L453.2 332.4Z" fill="#ffae19"/>
<path d="M453.2 332.4L460.4 330.3L454.5 326.3L447.3 328.3Z" fill="#ffae18"/>
<path d="M447.3 328.3L454.5 326.3L448.7 322.2L441.4 324.2Z" fill="#ffae17"/>
<path d="M466.3 334.3L473.5 332.1L467.6 328.2L460.4 330.3Z" fill="#ffb119"/>
<path d="M460.4 330.3L467.6 328.2L461.7 324.2L454.5 326.3Z" fill="#ffb119"/>
<path d="M454.5 326.3L461.7 324.2L455.9 320.2L448.7 322.2Z" fill="#ffb219"/>
<path class="o" d="M451.8 338.6L459.1 336.4L466.3 334.3L473.5 332.1L467.6 328.2L461.7 324.2L455.9 320.2L448.7 322.2L441.4 324.2L434.1 326.2L440 330.3L445.9 334.5Z"/>
<path d="M606.9 419.6L613.9 418.8L607.7 411L600.8 411.8Z" fill="#c0ef0f"/>
<path d="M600.8 411.8L607.7 411L601.6 403.2L594.7 404Z" fill="#d1f10d"/>
<path d="M594.7 404L601.6 403.2L595.5 395.4L588.6 396.1Z" fill="#e2f30a"/>
<path d="M613.9 418.8L620.7 417.8L614.6 410.1L607.7 411Z" fill="#b1ed10"/>
<path d="M607.7 411L614.6 410.1L608.5 402.4L601.6 403.2Z" fill="#c2ef0f"/>
<path d="M601.6 403.2L608.5 402.4L602.4 394.7L595.5 395.4Z" fill="#d3f10d"/>
<path d="M620.7 417.8L627.6 416.9L621.4 409.2L614.6 410.1Z" fill="#a3eb10"/>
<path d="M614.6 410.1L621.4 409.2L615.3 401.5L608.5 402.4Z" fill="#b3ed10"/>
<path d="M608.5 402.4L615.3 401.5L609.3 393.8L602.4 394.7Z" fill="#c4ef0f"/>
<path class="o" d="M606.9 419.6L613.9 418.8L620.7 417.8L627.6 416.9L621.4 409.2L615.3 401.5L609.3 393.8L602.4 394.7L595.5 395.4L588.6 396.1L594.7 404L600.8 411.8Z"/>
<path d="M390.8 368.6L398 360.1L392.2 355.2L385 363.5Z" fill="#ffe999"/>
<path d="M385 363.5L392.2 355.2L386.4 350.6L379.3 358.8Z" fill="#ffe899"/>
<path d="M379.3 358.8L386.4 350.6L380.7 346L373.5 354.1Z" fill="#ffe899"/>
<path d="M398 360.1L405.2 351.8L399.4 347L392.2 355.2Z" fill="#ffe599"/>
<path d="M392.2 355.2L399.4 347L393.6 342.4L386.4 350.6Z" fill="#ffe499"/>
<path d="M386.4 350.6L393.6 342.4L387.9 337.8L380.7 346Z" fill="#ffe499"/>
<path d="M405.2 351.8L412.4 343.5L406.6 338.8L399.4 347Z" fill="#ffe199"/>
<path d="M399.4 347L406.6 338.8L400.8 334.2L393.6 342.4Z" fill="#ffe099"/>
<path d="M393.6 342.4L400.8 334.2L395 329.6L387.9 337.8Z" fill="#ffe099"/>
<path class="o" d="M390.8 368.6L398 360.1L405.2 351.8L412.4 343.5L406.6 338.8L400.8 334.2L395 329.6L387.9 337.8L380.7 346L373.5 354.1L379.3 358.8L385 363.5Z"/>
<path d="M549.2 377L556.3 377.2L550.2 370.8L543.1 370.6Z" fill="#ffcf00"/>
<path d="M543.1 370.6L550.2 370.8L544.1 364.6L537.1 364.3Z" fill="#ffcb00"/>
<path d="M537.1 364.3L544.1 364.6L538.1 358.4L531 358.1Z" fill="#ffc700"/>
<path d="M556.3 377.2L563.3 377.2L557.2 370.9L550.2 370.8Z" fill="#ffd800"/>
<path d="M550.2 370.8L557.2 370.9L551.1 364.6L544.1 364.6Z" fill="#ffd300"/>
<path d="M544.1 364.6L551.1 364.6L545.1 358.4L538.1 358.4Z" fill="#ffcf00"/>
<path d="M563.3 377.2L570.3 377L564.2 370.7L557.2 370.9Z" fill="#fce102"/>
<path d="M557.2 370.9L564.2 370.7L558.1 364.5L551.1 364.6Z" fill="#fedc01"/>
<path d="M551.1 364.6L558.1 364.5L552.1 358.4L545.1 358.4Z" fill="#ffd700"/>
<path class="o" d="M549.2 377L556.3 377.2L563.3 377.2L570.3 377L564.2 370.7L558.1 364.5L552.1 358.4L545.1 358.4L538.1 358.4L531 358.1L537.1 364.3L543.1 370.6Z"/>
<path d="M369.3 395.7L376.5 386.5L370.7 380.7L363.5 389.7Z" fill="#fef699"/>
<path d="M363.5 389.7L370.7 380.7L364.9 375.1L357.7 383.7Z" fill="#fef599"/>
<path d="M357.7 383.7L364.9 375.1L359.1 369.7L351.9 378.1Z" fill="#fef499"/>
<path d="M376.5 386.5L383.6 377.4L377.8 372L370.7 380.7Z" fill="#fff199"/>
<path d="M370.7 380.7L377.8 372L372.1 366.9L364.9 375.1Z" fill="#fff099"/>
<path d="M364.9 375.1L372.1 366.9L366.3 361.9L359.1 369.7Z" fill="#ffef99"/>
<path d="M383.6 377.4L390.8 368.6L385 363.5L377.8 372Z" fill="#ffed99"/>
<path d="M377.8 372L385 363.5L379.3 358.8L372.1 366.9Z" fill="#ffec99"/>
<path d="M372.1 366.9L379.3 358.8L373.5 354.1L366.3 361.9Z" fill="#ffec99"/>
<path class="o" d="M369.3 395.7L376.5 386.5L383.6 377.4L390.8 368.6L385 363.5L379.3 358.8L373.5 354.1L366.3 361.9L359.1 369.7L351.9 378.1L357.7 383.7L363.5 389.7Z"/>
<path d="M347.7 423.1L354.9 413.9L349.1 408.3L342 417.6Z" fill="#f3fc99"/>
<path d="M342 417.6L349.1 408.3L343.4 402.7L336.2 412.3Z" fill="#f4fc99"/>
<path d="M336.2 412.3L343.4 402.7L337.7 397.4L330.5 407Z" fill="#f5fc99"/>
<path d="M354.9 413.9L362.1 404.8L356.3 398.9L349.1 408.3Z" fill="#f9fd99"/>
<path d="M349.1 408.3L356.3 398.9L350.5 393.1L343.4 402.7Z" fill="#fbfd99"/>
<path d="M343.4 402.7L350.5 393.1L344.8 387.5L337.7 397.4Z" fill="#fcfd99"/>
<path d="M362.1 404.8L369.3 395.7L363.5 389.7L356.3 398.9Z" fill="#fdfb99"/>
<path d="M356.3 398.9L363.5 389.7L357.7 383.7L350.5 393.1Z" fill="#fdfa99"/>
<path d="M350.5 393.1L357.7 383.7L351.9 378.1L344.8 387.5Z" fill="#fef899"/>
<path class="o" d="M347.7 423.1L354.9 413.9L362.1 404.8L369.3 395.7L363.5 389.7L357.7 383.7L351.9 378.1L344.8 387.5L337.7 397.4L330.5 407L336.2 412.3L342 417.6Z"/>
<path d="M326.2 451.3L333.3 441.7L327.6 435.9L320.4 445.3Z" fill="#dbfb99"/>
<path d="M320.4 445.3L327.6 435.9L321.9 430.2L314.7 439.4Z" fill="#ddfb99"/>
<path d="M314.7 439.4L321.9 430.2L316.2 424.7L309 433.7Z" fill="#dffb99"/>
<path d="M333.3 441.7L340.5 432.4L334.8 426.8L327.6 435.9Z" fill="#e5fb99"/>
<path d="M327.6 435.9L334.8 426.8L329.1 421.3L321.9 430.2Z" fill="#e6fb99"/>
<path d="M321.9 430.2L329.1 421.3L323.4 416L316.2 424.7Z" fill="#e8fb99"/>
<path d="M340.5 432.4L347.7 423.1L342 417.6L334.8 426.8Z" fill="#ecfc99"/>
<path d="M334.8 426.8L342 417.6L336.2 412.3L329.1 421.3Z" fill="#edfc99"/>
<path d="M329.1 421.3L336.2 412.3L330.5 407L323.4 416Z" fill="#eefc99"/>
<path class="o" d="M326.2 451.3L333.3 441.7L340.5 432.4L347.7 423.1L342 417.6L336.2 412.3L330.5 407L323.4 416L316.2 424.7L309 433.7L314.7 439.4L320.4 445.3Z"/>
<path d="M625.4 444.8L632.2 443.8L626.1 435.4L619.2 436.4Z" fill="#87e80e"/>
<path d="M619.2 436.4L626.1 435.4L620 427.1L613.1 428Z" fill="#9aea0f"/>
<path d="M613.1 428L620 427.1L613.9 418.8L606.9 419.6Z" fill="#adec0f"/>
<path d="M632.2 443.8L639.1 442.8L633 434.4L626.1 435.4Z" fill="#79e60f"/>
<path d="M626.1 435.4L633 434.4L626.8 426.1L620 427.1Z" fill="#8ce80f"/>
<path d="M620 427.1L626.8 426.1L620.7 417.8L613.9 418.8Z" fill="#9fea10"/>
<path d="M639.1 442.8L645.9 441.7L639.8 433.4L633 434.4Z" fill="#6ce50f"/>
<path d="M633 434.4L639.8 433.4L633.7 425.1L626.8 426.1Z" fill="#7fe710"/>
<path d="M626.8 426.1L633.7 425.1L627.6 416.9L620.7 417.8Z" fill="#91e910"/>
<path class="o" d="M625.4 444.8L632.2 443.8L639.1 442.8L645.9 441.7L639.8 433.4L633.7 425.1L627.6 416.9L620.7 417.8L613.9 418.8L606.9 419.6L613.1 428L619.2 436.4Z"/>
<path d="M509.5 361.5L516.7 360.3L510.7 354.7L503.5 356Z" fill="#ffb50a"/>
<path d="M503.5 356L510.7 354.7L504.6 349.3L497.4 350.7Z" fill="#ffb30c"/>
<path d="M497.4 350.7L504.6 349.3L498.6 344.1L491.4 345.6Z" fill="#ffb20e"/>
<path d="M516.7 360.3L523.9 359.2L517.8 353.6L510.7 354.7Z" fill="#ffb908"/>
<path d="M510.7 354.7L517.8 353.6L511.8 348L504.6 349.3Z" fill="#ffb80a"/>
<path d="M504.6 349.3L511.8 348L505.8 342.7L498.6 344.1Z" fill="#ffb60c"/>
<path d="M523.9 359.2L531 358.1L524.9 352.4L517.8 353.6Z" fill="#ffbf09"/>
<path d="M517.8 353.6L524.9 352.4L518.9 346.7L511.8 348Z" fill="#ffbd0b"/>
<path d="M511.8 348L518.9 346.7L512.9 341.2L505.8 342.7Z" fill="#ffbb0e"/>
<path class="o" d="M509.5 361.5L516.7 360.3L523.9 359.2L531 358.1L524.9 352.4L518.9 346.7L512.9 341.2L505.8 342.7L498.6 344.1L491.4 345.6L497.4 350.7L503.5 356Z"/>
<path d="M430.1 359L437.3 350.7L431.4 345.3L424.2 353.5Z" fill="#ffde99"/>
<path d="M424.2 353.5L431.4 345.3L425.5 340.2L418.3 348.4Z" fill="#ffde99"/>
<path d="M418.3 348.4L425.5 340.2L419.6 335.4L412.4 343.5Z" fill="#ffdd99"/>
<path d="M437.3 350.7L444.5 342.5L438.6 337.2L431.4 345.3Z" fill="#ffdb99"/>
<path d="M431.4 345.3L438.6 337.2L432.7 333L425.5 340.2Z" fill="#ffd997"/>
<path d="M425.5 340.2L432.7 333L426.8 328.8L419.6 335.4Z" fill="#ffd58c"/>
<path d="M444.5 342.5L451.8 338.6L445.9 334.5L438.6 337.2Z" fill="#ffb63d"/>
<path d="M438.6 337.2L445.9 334.5L440 330.3L432.7 333Z" fill="#ffaf2a"/>
<path d="M432.7 333L440 330.3L434.1 326.2L426.8 328.8Z" fill="#ffaf2a"/>
<path class="o" d="M430.1 359L437.3 350.7L444.5 342.5L451.8 338.6L445.9 334.5L440 330.3L434.1 326.2L426.8 328.8L419.6 335.4L412.4 343.5L418.3 348.4L424.2 353.5Z"/>
<path d="M567.6 396.8L574.6 396.8L568.5 390.2L561.5 390.2Z" fill="#fdde01"/>
<path d="M561.5 390.2L568.5 390.2L562.4 383.7L555.3 383.6Z" fill="#fed900"/>
<path d="M555.3 383.6L562.4 383.7L556.3 377.2L549.2 377Z" fill="#ffd400"/>
<path d="M574.6 396.8L581.6 396.5L575.5 390.1L568.5 390.2Z" fill="#fae803"/>
<path d="M568.5 390.2L575.5 390.1L569.4 383.6L562.4 383.7Z" fill="#fce202"/>
<path d="M562.4 383.7L569.4 383.6L563.3 377.2L556.3 377.2Z" fill="#fddd01"/>
<path d="M581.6 396.5L588.6 396.1L582.5 389.7L575.5 390.1Z" fill="#f8f104"/>
<path d="M575.5 390.1L582.5 389.7L576.4 383.3L569.4 383.6Z" fill="#f9eb03"/>
<path d="M569.4 383.6L576.4 383.3L570.3 377L563.3 377.2Z" fill="#fbe602"/>
<path class="o" d="M567.6 396.8L574.6 396.8L581.6 396.5L588.6 396.1L582.5 389.7L576.4 383.3L570.3 377L563.3 377.2L556.3 377.2L549.2 377L555.3 383.6L561.5 390.2Z"/>
<path d="M469.7 352.3L477 350L471 345.4L463.7 347.7Z" fill="#ffae20"/>
<path d="M463.7 347.7L471 345.4L465 340.9L457.7 343.2Z" fill="#ffad1f"/>
<path d="M457.7 343.2L465 340.9L459.1 336.4L451.8 338.6Z" fill="#ffad1e"/>
<path d="M477 350L484.2 347.7L478.2 343.2L471 345.4Z" fill="#ffb020"/>
<path d="M471 345.4L478.2 343.2L472.3 338.7L465 340.9Z" fill="#ffb01f"/>
<path d="M465 340.9L472.3 338.7L466.3 334.3L459.1 336.4Z" fill="#ffaf1e"/>
<path d="M484.2 347.7L491.4 345.6L485.4 341L478.2 343.2Z" fill="#ffb21c"/>
<path d="M478.2 343.2L485.4 341L479.5 336.6L472.3 338.7Z" fill="#ffb21c"/>
<path d="M472.3 338.7L479.5 336.6L473.5 332.1L466.3 334.3Z" fill="#ffb21d"/>
<path class="o" d="M469.7 352.3L477 350L484.2 347.7L491.4 345.6L485.4 341L479.5 336.6L473.5 332.1L466.3 334.3L459.1 336.4L451.8 338.6L457.7 343.2L463.7 347.7Z"/>
<path d="M643.8 471.8L650.7 470.7L644.5 461.8L637.7 462.8Z" fill="#49e00b"/>
<path d="M637.7 462.8L644.5 461.8L638.4 452.8L631.5 453.8Z" fill="#5de30c"/>
<path d="M631.5 453.8L638.4 452.8L632.2 443.8L625.4 444.8Z" fill="#72e60d"/>
<path d="M650.7 470.7L657.5 469.7L651.3 460.7L644.5 461.8Z" fill="#3ddf0b"/>
<path d="M644.5 461.8L651.3 460.7L645.2 451.7L638.4 452.8Z" fill="#51e20c"/>
<path d="M638.4 452.8L645.2 451.7L639.1 442.8L632.2 443.8Z" fill="#65e40d"/>
<path d="M657.5 469.7L664.2 468.6L658.1 459.6L651.3 460.7Z" fill="#31dd0b"/>
<path d="M651.3 460.7L658.1 459.6L652 450.6L645.2 451.7Z" fill="#45e00c"/>
<path d="M645.2 451.7L652 450.6L645.9 441.7L639.1 442.8Z" fill="#59e30d"/>
<path class="o" d="M643.8 471.8L650.7 470.7L657.5 469.7L664.2 468.6L658.1 459.6L652 450.6L645.9 441.7L639.1 442.8L632.2 443.8L625.4 444.8L631.5 453.8L637.7 462.8Z"/>
<path d="M408.4 385.5L415.6 376.5L409.7 370.8L402.5 379.7Z" fill="#ffeb99"/>
<path d="M402.5 379.7L409.7 370.8L403.9 365.3L396.7 374Z" fill="#ffea99"/>
<path d="M396.7 374L403.9 365.3L398 360.1L390.8 368.6Z" fill="#ffe999"/>
<path d="M415.6 376.5L422.9 367.6L416.9 362.1L409.7 370.8Z" fill="#ffe799"/>
<path d="M409.7 370.8L416.9 362.1L411.1 356.8L403.9 365.3Z" fill="#ffe699"/>
<path d="M403.9 365.3L411.1 356.8L405.2 351.8L398 360.1Z" fill="#ffe599"/>
<path d="M422.9 367.6L430.1 359L424.2 353.5L416.9 362.1Z" fill="#ffe399"/>
<path d="M416.9 362.1L424.2 353.5L418.3 348.4L411.1 356.8Z" fill="#ffe299"/>
<path d="M411.1 356.8L418.3 348.4L412.4 343.5L405.2 351.8Z" fill="#ffe199"/>
<path class="o" d="M408.4 385.5L415.6 376.5L422.9 367.6L430.1 359L424.2 353.5L418.3 348.4L412.4 343.5L405.2 351.8L398 360.1L390.8 368.6L396.7 374L402.5 379.7Z"/>
<path d="M386.8 413.4L394 404.1L388.1 398.1L380.9 407.4Z" fill="#fdfa99"/>
<path d="M380.9 407.4L388.1 398.1L382.3 392.3L375.1 401.5Z" fill="#fef999"/>
<path d="M375.1 401.5L382.3 392.3L376.5 386.5L369.3 395.7Z" fill="#fef799"/>
<path d="M394 404.1L401.2 394.8L395.3 388.9L388.1 398.1Z" fill="#fef599"/>
<path d="M388.1 398.1L395.3 388.9L389.5 383L382.3 392.3Z" fill="#fef499"/>
<path d="M382.3 392.3L389.5 383L383.6 377.4L376.5 386.5Z" fill="#fff299"/>
<path d="M401.2 394.8L408.4 385.5L402.5 379.7L395.3 388.9Z" fill="#fff099"/>
<path d="M395.3 388.9L402.5 379.7L396.7 374L389.5 383Z" fill="#ffef99"/>
<path d="M389.5 383L396.7 374L390.8 368.6L383.6 377.4Z" fill="#ffee99"/>
<path class="o" d="M386.8 413.4L394 404.1L401.2 394.8L408.4 385.5L402.5 379.7L396.7 374L390.8 368.6L383.6 377.4L376.5 386.5L369.3 395.7L375.1 401.5L380.9 407.4Z"/>
<path d="M365.1 440.7L372.3 431.6L366.5 425.5L359.3 434.6Z" fill="#eefc99"/>
<path d="M359.3 434.6L366.5 425.5L360.7 419.6L353.5 428.8Z" fill="#f0fc99"/>
<path d="M353.5 428.8L360.7 419.6L354.9 413.9L347.7 423.1Z" fill="#f1fc99"/>
<path d="M372.3 431.6L379.6 422.6L373.7 416.5L366.5 425.5Z" fill="#f4fc99"/>
<path d="M366.5 425.5L373.7 416.5L367.9 410.6L360.7 419.6Z" fill="#f6fc99"/>
<path d="M360.7 419.6L367.9 410.6L362.1 404.8L354.9 413.9Z" fill="#f7fd99"/>
<path d="M379.6 422.6L386.8 413.4L380.9 407.4L373.7 416.5Z" fill="#fafd99"/>
<path d="M373.7 416.5L380.9 407.4L375.1 401.5L367.9 410.6Z" fill="#fcfd99"/>
<path d="M367.9 410.6L375.1 401.5L369.3 395.7L362.1 404.8Z" fill="#fdfc99"/>
<path class="o" d="M365.1 440.7L372.3 431.6L379.6 422.6L386.8 413.4L380.9 407.4L375.1 401.5L369.3 395.7L362.1 404.8L354.9 413.9L347.7 423.1L353.5 428.8L359.3 434.6Z"/>
<path d="M343.5 470.4L350.7 460.2L344.9 453.8L337.7 463.8Z" fill="#d2fa99"/>
<path d="M337.7 463.8L344.9 453.8L339.1 447.7L331.9 457.5Z" fill="#d5fa99"/>
<path d="M331.9 457.5L339.1 447.7L333.3 441.7L326.2 451.3Z" fill="#d8fa99"/>
<path d="M350.7 460.2L357.9 450.3L352.1 444.1L344.9 453.8Z" fill="#ddfb99"/>
<path d="M344.9 453.8L352.1 444.1L346.3 438.1L339.1 447.7Z" fill="#e0fb99"/>
<path d="M339.1 447.7L346.3 438.1L340.5 432.4L333.3 441.7Z" fill="#e3fb99"/>
<path d="M357.9 450.3L365.1 440.7L359.3 434.6L352.1 444.1Z" fill="#e7fb99"/>
<path d="M352.1 444.1L359.3 434.6L353.5 428.8L346.3 438.1Z" fill="#e9fc99"/>
<path d="M346.3 438.1L353.5 428.8L347.7 423.1L340.5 432.4Z" fill="#ebfc99"/>
<path class="o" d="M343.5 470.4L350.7 460.2L357.9 450.3L365.1 440.7L359.3 434.6L353.5 428.8L347.7 423.1L340.5 432.4L333.3 441.7L326.2 451.3L331.9 457.5L337.7 463.8Z"/>
<path d="M586.1 420.8L593.1 420.6L586.9 412.6L579.9 412.8Z" fill="#f1f506"/>
<path d="M579.9 412.8L586.9 412.6L580.8 404.7L573.7 404.8Z" fill="#f8ef04"/>
<path d="M573.7 404.8L580.8 404.7L574.6 396.8L567.6 396.8Z" fill="#fbe602"/>
<path d="M593.1 420.6L600 420.2L593.9 412.3L586.9 412.6Z" fill="#e0f308"/>
<path d="M586.9 412.6L593.9 412.3L587.7 404.4L580.8 404.7Z" fill="#f1f506"/>
<path d="M580.8 404.7L587.7 404.4L581.6 396.5L574.6 396.8Z" fill="#f8ef04"/>
<path d="M600 420.2L606.9 419.6L600.8 411.8L593.9 412.3Z" fill="#cff10b"/>
<path d="M593.9 412.3L600.8 411.8L594.7 404L587.7 404.4Z" fill="#e1f308"/>
<path d="M587.7 404.4L594.7 404L588.6 396.1L581.6 396.5Z" fill="#f1f506"/>
<path class="o" d="M586.1 420.8L593.1 420.6L600 420.2L606.9 419.6L600.8 411.8L594.7 404L588.6 396.1L581.6 396.5L574.6 396.8L567.6 396.8L573.7 404.8L579.9 412.8Z"/>
<path d="M527.8 380.4L535 379.3L528.9 372.8L521.7 374Z" fill="#ffbf09"/>
<path d="M521.7 374L528.9 372.8L522.8 366.5L515.6 367.7Z" fill="#ffbc0a"/>
<path d="M515.6 367.7L522.8 366.5L516.7 360.3L509.5 361.5Z" fill="#ffb80a"/>
<path d="M535 379.3L542.1 378.2L536 371.7L528.9 372.8Z" fill="#ffc508"/>
<path d="M528.9 372.8L536 371.7L529.9 365.4L522.8 366.5Z" fill="#ffc008"/>
<path d="M522.8 366.5L529.9 365.4L523.9 359.2L516.7 360.3Z" fill="#ffbd08"/>
<path d="M542.1 378.2L549.2 377L543.1 370.6L536 371.7Z" fill="#ffca09"/>
<path d="M536 371.7L543.1 370.6L537.1 364.3L529.9 365.4Z" fill="#ffc609"/>
<path d="M529.9 365.4L537.1 364.3L531 358.1L523.9 359.2Z" fill="#ffc209"/>
<path class="o" d="M527.8 380.4L535 379.3L542.1 378.2L549.2 377L543.1 370.6L537.1 364.3L531 358.1L523.9 359.2L516.7 360.3L509.5 361.5L515.6 367.7L521.7 374Z"/>
<path d="M447.9 377L455.2 368.1L449.2 362.3L442 370.9Z" fill="#ffe299"/>
<path d="M442 370.9L449.2 362.3L443.2 356.4L436 364.9Z" fill="#ffe199"/>
<path d="M436 364.9L443.2 356.4L437.3 350.7L430.1 359Z" fill="#ffe099"/>
<path d="M455.2 368.1L462.4 359.4L456.4 353.7L449.2 362.3Z" fill="#ffde99"/>
<path d="M449.2 362.3L456.4 353.7L450.5 348L443.2 356.4Z" fill="#ffdd99"/>
<path d="M443.2 356.4L450.5 348L444.5 342.5L437.3 350.7Z" fill="#ffdc99"/>
<path d="M462.4 359.4L469.7 352.3L463.7 347.7L456.4 353.7Z" fill="#ffd180"/>
<path d="M456.4 353.7L463.7 347.7L457.7 343.2L450.5 348Z" fill="#ffc769"/>
<path d="M450.5 348L457.7 343.2L451.8 338.6L444.5 342.5Z" fill="#ffc25c"/>
<path class="o" d="M447.9 377L455.2 368.1L462.4 359.4L469.7 352.3L463.7 347.7L457.7 343.2L451.8 338.6L444.5 342.5L437.3 350.7L430.1 359L436 364.9L442 370.9Z"/>
<path d="M487.8 367.7L495.1 365.5L489 360.1L481.7 362.4Z" fill="#ffb223"/>
<path d="M481.7 362.4L489 360.1L483 355L475.7 357.3Z" fill="#ffb123"/>
<path d="M475.7 357.3L483 355L477 350L469.7 352.3Z" fill="#ffb023"/>
<path d="M495.1 365.5L502.3 363.4L496.3 358L489 360.1Z" fill="#ffb41f"/>
<path d="M489 360.1L496.3 358L490.2 352.7L483 355Z" fill="#ffb320"/>
<path d="M483 355L490.2 352.7L484.2 347.7L477 350Z" fill="#ffb222"/>
<path d="M502.3 363.4L509.5 361.5L503.5 356L496.3 358Z" fill="#ffb51a"/>
<path d="M496.3 358L503.5 356L497.4 350.7L490.2 352.7Z" fill="#ffb41b"/>
<path d="M490.2 352.7L497.4 350.7L491.4 345.6L484.2 347.7Z" fill="#ffb31d"/>
<path class="o" d="M487.8 367.7L495.1 365.5L502.3 363.4L509.5 361.5L503.5 356L497.4 350.7L491.4 345.6L484.2 347.7L477 350L469.7 352.3L475.7 357.3L481.7 362.4Z"/>
<path d="M426.2 403L433.4 394.2L427.5 388.2L420.3 397.2Z" fill="#ffef99"/>
<path d="M420.3 397.2L427.5 388.2L421.6 382.3L414.3 391.4Z" fill="#ffee99"/>
<path d="M414.3 391.4L421.6 382.3L415.6 376.5L408.4 385.5Z" fill="#ffec99"/>
<path d="M433.4 394.2L440.7 385.6L434.7 379.6L427.5 388.2Z" fill="#ffeb99"/>
<path d="M427.5 388.2L434.7 379.6L428.8 373.5L421.6 382.3Z" fill="#ffe999"/>
<path d="M421.6 382.3L428.8 373.5L422.9 367.6L415.6 376.5Z" fill="#ffe899"/>
<path d="M440.7 385.6L447.9 377L442 370.9L434.7 379.6Z" fill="#ffe699"/>
<path d="M434.7 379.6L442 370.9L436 364.9L428.8 373.5Z" fill="#ffe599"/>
<path d="M428.8 373.5L436 364.9L430.1 359L422.9 367.6Z" fill="#ffe499"/>
<path class="o" d="M426.2 403L433.4 394.2L440.7 385.6L447.9 377L442 370.9L436 364.9L430.1 359L422.9 367.6L415.6 376.5L408.4 385.5L414.3 391.4L420.3 397.2Z"/>
<path d="M604.6 446.5L611.5 446.1L605.4 437.6L598.4 437.9Z" fill="#b6ed0c"/>
<path d="M598.4 437.9L605.4 437.6L599.2 429.1L592.2 429.3Z" fill="#cbf00c"/>
<path d="M592.2 429.3L599.2 429.1L593.1 420.6L586.1 420.8Z" fill="#dff309"/>
<path d="M611.5 446.1L618.5 445.5L612.3 437.1L605.4 437.6Z" fill="#a5eb0c"/>
<path d="M605.4 437.6L612.3 437.1L606.2 428.6L599.2 429.1Z" fill="#b9ee0c"/>
<path d="M599.2 429.1L606.2 428.6L600 420.2L593.1 420.6Z" fill="#cdf00b"/>
<path d="M618.5 445.5L625.4 444.8L619.2 436.4L612.3 437.1Z" fill="#94e90c"/>
<path d="M612.3 437.1L619.2 436.4L613.1 428L606.2 428.6Z" fill="#a8eb0c"/>
<path d="M606.2 428.6L613.1 428L606.9 419.6L600 420.2Z" fill="#bcee0c"/>
<path class="o" d="M604.6 446.5L611.5 446.1L618.5 445.5L625.4 444.8L619.2 436.4L613.1 428L606.9 419.6L600 420.2L593.1 420.6L586.1 420.8L592.2 429.3L598.4 437.9Z"/>
<path d="M404.5 431.7L411.7 421.9L405.8 416.1L398.6 425.7Z" fill="#fbfd99"/>
<path d="M398.6 425.7L405.8 416.1L399.9 410.1L392.7 419.6Z" fill="#fcfc99"/>
<path d="M392.7 419.6L399.9 410.1L394 404.1L386.8 413.4Z" fill="#fdfb99"/>
<path d="M411.7 421.9L419 412.3L413 406.5L405.8 416.1Z" fill="#fef999"/>
<path d="M405.8 416.1L413 406.5L407.1 400.7L399.9 410.1Z" fill="#fef899"/>
<path d="M399.9 410.1L407.1 400.7L401.2 394.8L394 404.1Z" fill="#fef699"/>
<path d="M419 412.3L426.2 403L420.3 397.2L413 406.5Z" fill="#fef499"/>
<path d="M413 406.5L420.3 397.2L414.3 391.4L407.1 400.7Z" fill="#fff299"/>
<path d="M407.1 400.7L414.3 391.4L408.4 385.5L401.2 394.8Z" fill="#fff199"/>
<path class="o" d="M404.5 431.7L411.7 421.9L419 412.3L426.2 403L420.3 397.2L414.3 391.4L408.4 385.5L401.2 394.8L394 404.1L386.8 413.4L392.7 419.6L398.6 425.7Z"/>
<path d="M382.8 460.8L390 451L384.1 444.5L376.9 454Z" fill="#e7fb99"/>
<path d="M376.9 454L384.1 444.5L378.2 438L371 447.3Z" fill="#e9fc99"/>
<path d="M371 447.3L378.2 438L372.3 431.6L365.1 440.7Z" fill="#ecfc99"/>
<path d="M390 451L397.3 441.3L391.3 435.1L384.1 444.5Z" fill="#eefc99"/>
<path d="M384.1 444.5L391.3 435.1L385.4 428.8L378.2 438Z" fill="#f0fc99"/>
<path d="M378.2 438L385.4 428.8L379.6 422.6L372.3 431.6Z" fill="#f2fc99"/>
<path d="M397.3 441.3L404.5 431.7L398.6 425.7L391.3 435.1Z" fill="#f5fc99"/>
<path d="M391.3 435.1L398.6 425.7L392.7 419.6L385.4 428.8Z" fill="#f6fd99"/>
<path d="M385.4 428.8L392.7 419.6L386.8 413.4L379.6 422.6Z" fill="#f8fd99"/>
<path class="o" d="M382.8 460.8L390 451L397.3 441.3L404.5 431.7L398.6 425.7L392.7 419.6L386.8 413.4L379.6 422.6L372.3 431.6L365.1 440.7L371 447.3L376.9 454Z"/>
<path d="M361.1 491.3L368.3 480.9L362.4 473.7L355.3 484Z" fill="#cafa99"/>
<path d="M355.3 484L362.4 473.7L356.6 466.8L349.4 477.1Z" fill="#ccfa99"/>
<path d="M349.4 477.1L356.6 466.8L350.7 460.2L343.5 470.4Z" fill="#cffa99"/>
<path d="M368.3 480.9L375.6 470.8L369.7 463.8L362.4 473.7Z" fill="#d2fa99"/>
<path d="M362.4 473.7L369.7 463.8L363.8 456.9L356.6 466.8Z" fill="#d6fa99"/>
<path d="M356.6 466.8L363.8 456.9L357.9 450.3L350.7 460.2Z" fill="#dafb99"/>
<path d="M375.6 470.8L382.8 460.8L376.9 454L369.7 463.8Z" fill="#dcfb99"/>
<path d="M369.7 463.8L376.9 454L371 447.3L363.8 456.9Z" fill="#e1fb99"/>
<path d="M363.8 456.9L371 447.3L365.1 440.7L357.9 450.3Z" fill="#e4fb99"/>
<path class="o" d="M361.1 491.3L368.3 480.9L375.6 470.8L382.8 460.8L376.9 454L371 447.3L365.1 440.7L357.9 450.3L350.7 460.2L343.5 470.4L349.4 477.1L355.3 484Z"/>
<path d="M546.2 400.7L553.4 399.4L547.2 392.7L540.1 393.9Z" fill="#ffcd0a"/>
<path d="M540.1 393.9L547.2 392.7L541.1 386L533.9 387.1Z" fill="#ffc909"/>
<path d="M533.9 387.1L541.1 386L535 379.3L527.8 380.4Z" fill="#ffc409"/>
<path d="M553.4 399.4L560.5 398.2L554.4 391.5L547.2 392.7Z" fill="#ffd309"/>
<path d="M547.2 392.7L554.4 391.5L548.2 384.8L541.1 386Z" fill="#ffce09"/>
<path d="M541.1 386L548.2 384.8L542.1 378.2L535 379.3Z" fill="#ffc908"/>
<path d="M560.5 398.2L567.6 396.8L561.5 390.2L554.4 391.5Z" fill="#ffd80c"/>
<path d="M554.4 391.5L561.5 390.2L555.3 383.6L548.2 384.8Z" fill="#ffd40b"/>
<path d="M548.2 384.8L555.3 383.6L549.2 377L542.1 378.2Z" fill="#ffcf0a"/>
<path class="o" d="M546.2 400.7L553.4 399.4L560.5 398.2L567.6 396.8L561.5 390.2L555.3 383.6L549.2 377L542.1 378.2L535 379.3L527.8 380.4L533.9 387.1L540.1 393.9Z"/>
<path d="M623.1 473.8L630.1 473.2L623.9 464.2L616.9 464.7Z" fill="#74e60b"/>
<path d="M616.9 464.7L623.9 464.2L617.7 455.2L610.7 455.7Z" fill="#8ae80c"/>
<path d="M610.7 455.7L617.7 455.2L611.5 446.1L604.6 446.5Z" fill="#a0ea0c"/>
<path d="M630.1 473.2L637 472.5L630.8 463.5L623.9 464.2Z" fill="#64e40a"/>
<path d="M623.9 464.2L630.8 463.5L624.6 454.5L617.7 455.2Z" fill="#79e60b"/>
<path d="M617.7 455.2L624.6 454.5L618.5 445.5L611.5 446.1Z" fill="#8fe80c"/>
<path d="M637 472.5L643.8 471.8L637.7 462.8L630.8 463.5Z" fill="#55e20a"/>
<path d="M630.8 463.5L637.7 462.8L631.5 453.8L624.6 454.5Z" fill="#6ae50a"/>
<path d="M624.6 454.5L631.5 453.8L625.4 444.8L618.5 445.5Z" fill="#80e70b"/>
<path class="o" d="M623.1 473.8L630.1 473.2L637 472.5L643.8 471.8L637.7 462.8L631.5 453.8L625.4 444.8L618.5 445.5L611.5 446.1L604.6 446.5L610.7 455.7L616.9 464.7Z"/>
<path d="M466 394.2L473.2 385L467.2 379.3L459.9 388.3Z" fill="#ffe599"/>
<path d="M459.9 388.3L467.2 379.3L461.2 373.8L453.9 382.7Z" fill="#ffe499"/>
<path d="M453.9 382.7L461.2 373.8L455.2 368.1L447.9 377Z" fill="#ffe399"/>
<path d="M473.2 385L480.5 375.9L474.5 370.4L467.2 379.3Z" fill="#ffe199"/>
<path d="M467.2 379.3L474.5 370.4L468.4 364.9L461.2 373.8Z" fill="#ffe099"/>
<path d="M461.2 373.8L468.4 364.9L462.4 359.4L455.2 368.1Z" fill="#ffdf99"/>
<path d="M480.5 375.9L487.8 367.7L481.7 362.4L474.5 370.4Z" fill="#ffdd99"/>
<path d="M474.5 370.4L481.7 362.4L475.7 357.3L468.4 364.9Z" fill="#ffdc98"/>
<path d="M468.4 364.9L475.7 357.3L469.7 352.3L462.4 359.4Z" fill="#ffd992"/>
<path class="o" d="M466 394.2L473.2 385L480.5 375.9L487.8 367.7L481.7 362.4L475.7 357.3L469.7 352.3L462.4 359.4L455.2 368.1L447.9 377L453.9 382.7L459.9 388.3Z"/>
<path d="M444.2 421.7L451.4 412.6L445.4 406.3L438.1 415.2Z" fill="#fef399"/>
<path d="M438.1 415.2L445.4 406.3L439.4 400.2L432.2 409Z" fill="#fff299"/>
<path d="M432.2 409L439.4 400.2L433.4 394.2L426.2 403Z" fill="#fff099"/>
<path d="M451.4 412.6L458.7 403.4L452.7 397.3L445.4 406.3Z" fill="#ffee99"/>
<path d="M445.4 406.3L452.7 397.3L446.7 391.4L439.4 400.2Z" fill="#ffed99"/>
<path d="M439.4 400.2L446.7 391.4L440.7 385.6L433.4 394.2Z" fill="#ffec99"/>
<path d="M458.7 403.4L466 394.2L459.9 388.3L452.7 397.3Z" fill="#ffea99"/>
<path d="M452.7 397.3L459.9 388.3L453.9 382.7L446.7 391.4Z" fill="#ffe999"/>
<path d="M446.7 391.4L453.9 382.7L447.9 377L440.7 385.6Z" fill="#ffe899"/>
<path class="o" d="M444.2 421.7L451.4 412.6L458.7 403.4L466 394.2L459.9 388.3L453.9 382.7L447.9 377L440.7 385.6L433.4 394.2L426.2 403L432.2 409L438.1 415.2Z"/>
<path d="M379 514.6L386.2 503.5L380.2 495.8L373 506.7Z" fill="#c0f999"/>
<path d="M373 506.7L380.2 495.8L374.3 488.2L367.1 498.9Z" fill="#c4f999"/>
<path d="M367.1 498.9L374.3 488.2L368.3 480.9L361.1 491.3Z" fill="#c7fa99"/>
<path d="M386.2 503.5L393.4 492.6L387.4 485.1L380.2 495.8Z" fill="#c8fa99"/>
<path d="M380.2 495.8L387.4 485.1L381.5 477.9L374.3 488.2Z" fill="#cbfa99"/>
<path d="M374.3 488.2L381.5 477.9L375.6 470.8L368.3 480.9Z" fill="#cefa99"/>
<path d="M393.4 492.6L400.6 481.8L394.7 474.5L387.4 485.1Z" fill="#d0fa99"/>
<path d="M387.4 485.1L394.7 474.5L388.7 467.6L381.5 477.9Z" fill="#d4fa99"/>
<path d="M381.5 477.9L388.7 467.6L382.8 460.8L375.6 470.8Z" fill="#d8fa99"/>
<path class="o" d="M379 514.6L386.2 503.5L393.4 492.6L400.6 481.8L394.7 474.5L388.7 467.6L382.8 460.8L375.6 470.8L368.3 480.9L361.1 491.3L367.1 498.9L373 506.7Z"/>
<path d="M506.1 386.1L513.4 384.1L507.2 377.7L500 379.8Z" fill="#ffba1f"/>
<path d="M500 379.8L507.2 377.7L501.1 371.5L493.9 373.7Z" fill="#ffb721"/>
<path d="M493.9 373.7L501.1 371.5L495.1 365.5L487.8 367.7Z" fill="#ffb523"/>
<path d="M513.4 384.1L520.6 382.1L514.5 375.7L507.2 377.7Z" fill="#ffbc1b"/>
<path d="M507.2 377.7L514.5 375.7L508.4 369.4L501.1 371.5Z" fill="#ffb91d"/>
<path d="M501.1 371.5L508.4 369.4L502.3 363.4L495.1 365.5Z" fill="#ffb61f"/>
<path d="M520.6 382.1L527.8 380.4L521.7 374L514.5 375.7Z" fill="#ffbe16"/>
<path d="M514.5 375.7L521.7 374L515.6 367.7L508.4 369.4Z" fill="#ffbb17"/>
<path d="M508.4 369.4L515.6 367.7L509.5 361.5L502.3 363.4Z" fill="#ffb819"/>
<path class="o" d="M506.1 386.1L513.4 384.1L520.6 382.1L527.8 380.4L521.7 374L515.6 367.7L509.5 361.5L502.3 363.4L495.1 365.5L487.8 367.7L493.9 373.7L500 379.8Z"/>
<path d="M400.6 481.8L407.8 470.7L401.9 463.7L394.7 474.5Z" fill="#dcfb99"/>
<path d="M394.7 474.5L401.9 463.7L395.9 457.3L388.7 467.6Z" fill="#e0fb99"/>
<path d="M388.7 467.6L395.9 457.3L390 451L382.8 460.8Z" fill="#e3fb99"/>
<path d="M407.8 470.7L415.1 459.6L409.1 453L401.9 463.7Z" fill="#e8fb99"/>
<path d="M401.9 463.7L409.1 453L403.2 447.1L395.9 457.3Z" fill="#eafc99"/>
<path d="M395.9 457.3L403.2 447.1L397.3 441.3L390 451Z" fill="#ecfc99"/>
<path d="M415.1 459.6L422.3 448.9L416.3 442.7L409.1 453Z" fill="#f0fc99"/>
<path d="M409.1 453L416.3 442.7L410.4 437.2L403.2 447.1Z" fill="#f2fc99"/>
<path d="M403.2 447.1L410.4 437.2L404.5 431.7L397.3 441.3Z" fill="#f3fc99"/>
<path class="o" d="M400.6 481.8L407.8 470.7L415.1 459.6L422.3 448.9L416.3 442.7L410.4 437.2L404.5 431.7L397.3 441.3L390 451L382.8 460.8L388.7 467.6L394.7 474.5Z"/>
<path d="M422.3 448.9L429.6 439.5L423.6 433.1L416.3 442.7Z" fill="#f7fd99"/>
<path d="M416.3 442.7L423.6 433.1L417.6 427.5L410.4 437.2Z" fill="#f9fd99"/>
<path d="M410.4 437.2L417.6 427.5L411.7 421.9L404.5 431.7Z" fill="#fafd99"/>
<path d="M429.6 439.5L436.9 430.6L430.9 424.1L423.6 433.1Z" fill="#fdfc99"/>
<path d="M423.6 433.1L430.9 424.1L424.9 418.1L417.6 427.5Z" fill="#fdfb99"/>
<path d="M417.6 427.5L424.9 418.1L419 412.3L411.7 421.9Z" fill="#fdfa99"/>
<path d="M436.9 430.6L444.2 421.7L438.1 415.2L430.9 424.1Z" fill="#fef899"/>
<path d="M430.9 424.1L438.1 415.2L432.2 409L424.9 418.1Z" fill="#fef699"/>
<path d="M424.9 418.1L432.2 409L426.2 403L419 412.3Z" fill="#fef599"/>
<path class="o" d="M422.3 448.9L429.6 439.5L436.9 430.6L444.2 421.7L438.1 415.2L432.2 409L426.2 403L419 412.3L411.7 421.9L404.5 431.7L410.4 437.2L416.3 442.7Z"/>
<path d="M564.8 425.2L571.9 423.8L565.7 415.7L558.6 417Z" fill="#fce40d"/>
<path d="M558.6 417L565.7 415.7L559.6 407.6L552.4 408.9Z" fill="#fedc0b"/>
<path d="M552.4 408.9L559.6 407.6L553.4 399.4L546.2 400.7Z" fill="#ffd30a"/>
<path d="M571.9 423.8L579 422.3L572.8 414.3L565.7 415.7Z" fill="#faeb0e"/>
<path d="M565.7 415.7L572.8 414.3L566.7 406.3L559.6 407.6Z" fill="#fce20c"/>
<path d="M559.6 407.6L566.7 406.3L560.5 398.2L553.4 399.4Z" fill="#ffd90a"/>
<path d="M579 422.3L586.1 420.8L579.9 412.8L572.8 414.3Z" fill="#f9f012"/>
<path d="M572.8 414.3L579.9 412.8L573.7 404.8L566.7 406.3Z" fill="#fbe810"/>
<path d="M566.7 406.3L573.7 404.8L567.6 396.8L560.5 398.2Z" fill="#fddf0d"/>
<path class="o" d="M564.8 425.2L571.9 423.8L579 422.3L586.1 420.8L579.9 412.8L573.7 404.8L567.6 396.8L560.5 398.2L553.4 399.4L546.2 400.7L552.4 408.9L558.6 417Z"/>
<path d="M583.3 452.1L590.4 450.1L584.3 441.3L577.1 442.9Z" fill="#dff416"/>
<path d="M577.1 442.9L584.3 441.3L578.1 432.5L570.9 434.1Z" fill="#f1f511"/>
<path d="M570.9 434.1L578.1 432.5L571.9 423.8L564.8 425.2Z" fill="#f9ee0e"/>
<path d="M590.4 450.1L597.5 448.4L591.3 439.7L584.3 441.3Z" fill="#d5f218"/>
<path d="M584.3 441.3L591.3 439.7L585.2 431L578.1 432.5Z" fill="#e7f514"/>
<path d="M578.1 432.5L585.2 431L579 422.3L571.9 423.8Z" fill="#f6f410"/>
<path d="M597.5 448.4L604.6 446.5L598.4 437.9L591.3 439.7Z" fill="#cdf11b"/>
<path d="M591.3 439.7L598.4 437.9L592.2 429.3L585.2 431Z" fill="#def418"/>
<path d="M585.2 431L592.2 429.3L586.1 420.8L579 422.3Z" fill="#f0f614"/>
<path class="o" d="M583.3 452.1L590.4 450.1L597.5 448.4L604.6 446.5L598.4 437.9L592.2 429.3L586.1 420.8L579 422.3L571.9 423.8L564.8 425.2L570.9 434.1L577.1 442.9Z"/>
<path d="M397 538.8L400.6 533.1L397.6 528.9L394 534.6Z" fill="#b0f894"/>
<path d="M394 534.6L397.6 528.9L394.6 524.8L390.9 530.5Z" fill="#b3f896"/>
<path d="M390.9 530.5L394.6 524.8L391.6 520.8L388 526.4Z" fill="#b5f997"/>
<path d="M388 526.4L391.6 520.8L388.6 516.9L385 522.5Z" fill="#b7f998"/>
<path d="M385 522.5L388.6 516.9L385.6 513L382 518.5Z" fill="#b9f998"/>
<path d="M382 518.5L385.6 513L382.6 509.1L379 514.6Z" fill="#bbf998"/>
<path d="M400.6 533.1L404.2 527.5L401.2 523.3L397.6 528.9Z" fill="#b5f996"/>
<path d="M397.6 528.9L401.2 523.3L398.2 519.2L394.6 524.8Z" fill="#b7f997"/>
<path d="M394.6 524.8L398.2 519.2L395.2 515.2L391.6 520.8Z" fill="#baf998"/>
<path d="M391.6 520.8L395.2 515.2L392.2 511.3L388.6 516.9Z" fill="#bcf999"/>
<path d="M388.6 516.9L392.2 511.3L389.2 507.4L385.6 513Z" fill="#bef999"/>
<path d="M385.6 513L389.2 507.4L386.2 503.5L382.6 509.1Z" fill="#c0f999"/>
<path d="M404.2 527.5L407.8 522L404.8 517.9L401.2 523.3Z" fill="#b9f997"/>
<path d="M401.2 523.3L404.8 517.9L401.8 513.8L398.2 519.2Z" fill="#bcf998"/>
<path d="M398.2 519.2L401.8 513.8L398.8 509.8L395.2 515.2Z" fill="#bef999"/>
<path d="M395.2 515.2L398.8 509.8L395.8 505.8L392.2 511.3Z" fill="#c0f999"/>
<path d="M392.2 511.3L395.8 505.8L392.8 501.9L389.2 507.4Z" fill="#c2f999"/>
<path d="M389.2 507.4L392.8 501.9L389.8 498.1L386.2 503.5Z" fill="#c3f999"/>
<path d="M407.8 522L411.4 516.6L408.4 512.5L404.8 517.9Z" fill="#bdf998"/>
<path d="M404.8 517.9L408.4 512.5L405.4 508.4L401.8 513.8Z" fill="#c0f999"/>
<path d="M401.8 513.8L405.4 508.4L402.4 504.3L398.8 509.8Z" fill="#c2f999"/>
<path d="M398.8 509.8L402.4 504.3L399.4 500.4L395.8 505.8Z" fill="#c4f999"/>
<path d="M395.8 505.8L399.4 500.4L396.4 496.5L392.8 501.9Z" fill="#c6f999"/>
<path d="M392.8 501.9L396.4 496.5L393.4 492.6L389.8 498.1Z" fill="#c7fa99"/>
<path d="M411.4 516.6L415.1 511.2L412 507.1L408.4 512.5Z" fill="#c1f998"/>
<path d="M408.4 512.5L412 507.1L409 503L405.4 508.4Z" fill="#c4f998"/>
<path d="M405.4 508.4L409 503L406 498.9L402.4 504.3Z" fill="#c6f999"/>
<path d="M402.4 504.3L406 498.9L403 494.9L399.4 500.4Z" fill="#c8fa99"/>
<path d="M399.4 500.4L403 494.9L400 491L396.4 496.5Z" fill="#c9fa99"/>
<path d="M396.4 496.5L400 491L397 487.2L393.4 492.6Z" fill="#cbfa99"/>
<path d="M415.1 511.2L418.7 505.9L415.7 501.7L412 507.1Z" fill="#c5f998"/>
<path d="M412 507.1L415.7 501.7L412.6 497.6L409 503Z" fill="#c7f998"/>
<path d="M409 503L412.6 497.6L409.6 493.5L406 498.9Z" fill="#c9fa98"/>
<path d="M406 498.9L409.6 493.5L406.6 489.5L403 494.9Z" fill="#cbfa99"/>
<path d="M403 494.9L406.6 489.5L403.6 485.6L400 491Z" fill="#cdfa99"/>
<path d="M400 491L403.6 485.6L400.6 481.8L397 487.2Z" fill="#cffa99"/>
<path class="o" d="M397 538.8L404.2 527.5L411.4 516.6L418.7 505.9L412.6 497.6L406.6 489.5L400.6 481.8L393.4 492.6L386.2 503.5L379 514.6L385 522.5L390.9 530.5Z"/>
<path d="M484.2 413.5L491.5 403.9L485.4 397.2L478.1 406.8Z" fill="#ffea99"/>
<path d="M478.1 406.8L485.4 397.2L479.3 390.9L472 400.3Z" fill="#ffe899"/>
<path d="M472 400.3L479.3 390.9L473.2 385L466 394.2Z" fill="#ffe799"/>
<path d="M491.5 403.9L498.8 394.5L492.7 387.8L485.4 397.2Z" fill="#ffe599"/>
<path d="M485.4 397.2L492.7 387.8L486.6 381.7L479.3 390.9Z" fill="#ffe399"/>
<path d="M479.3 390.9L486.6 381.7L480.5 375.9L473.2 385Z" fill="#ffe299"/>
<path d="M498.8 394.5L506.1 386.1L500 379.8L492.7 387.8Z" fill="#ffe199"/>
<path d="M492.7 387.8L500 379.8L493.9 373.7L486.6 381.7Z" fill="#ffdf99"/>
<path d="M486.6 381.7L493.9 373.7L487.8 367.7L480.5 375.9Z" fill="#ffde99"/>
<path class="o" d="M484.2 413.5L491.5 403.9L498.8 394.5L506.1 386.1L500 379.8L493.9 373.7L487.8 367.7L480.5 375.9L473.2 385L466 394.2L472 400.3L478.1 406.8Z"/>
<path d="M524.5 412.6L531.8 406.1L525.6 397.4L518.4 403.2Z" fill="#ffdf77"/>
<path d="M518.4 403.2L525.6 397.4L519.5 390.7L512.2 394.2Z" fill="#ffd359"/>
<path d="M512.2 394.2L519.5 390.7L513.4 384.1L506.1 386.1Z" fill="#ffc330"/>
<path d="M531.8 406.1L539 402.4L532.9 395.6L525.6 397.4Z" fill="#ffcc29"/>
<path d="M525.6 397.4L532.9 395.6L526.7 388.8L519.5 390.7Z" fill="#ffc318"/>
<path d="M519.5 390.7L526.7 388.8L520.6 382.1L513.4 384.1Z" fill="#ffbf19"/>
<path d="M539 402.4L546.2 400.7L540.1 393.9L532.9 395.6Z" fill="#ffcb13"/>
<path d="M532.9 395.6L540.1 393.9L533.9 387.1L526.7 388.8Z" fill="#ffc614"/>
<path d="M526.7 388.8L533.9 387.1L527.8 380.4L520.6 382.1Z" fill="#ffc215"/>
<path class="o" d="M524.5 412.6L531.8 406.1L539 402.4L546.2 400.7L540.1 393.9L533.9 387.1L527.8 380.4L520.6 382.1L513.4 384.1L506.1 386.1L512.2 394.2L518.4 403.2Z"/>
<path d="M418.7 505.9L425.9 495L419.9 486.7L412.6 497.6Z" fill="#ccfa97"/>
<path d="M412.6 497.6L419.9 486.7L413.9 478.4L406.6 489.5Z" fill="#d1fa98"/>
<path d="M406.6 489.5L413.9 478.4L407.8 470.7L400.6 481.8Z" fill="#d7fa99"/>
<path d="M425.9 495L433.2 484.4L427.1 475.9L419.9 486.7Z" fill="#d6fa97"/>
<path d="M419.9 486.7L427.1 475.9L421.1 467.4L413.9 478.4Z" fill="#ddfb97"/>
<path d="M413.9 478.4L421.1 467.4L415.1 459.6L407.8 470.7Z" fill="#e3fb99"/>
<path d="M433.2 484.4L440.5 473.9L434.4 465.4L427.1 475.9Z" fill="#e2fb97"/>
<path d="M427.1 475.9L434.4 465.4L428.4 456.8L421.1 467.4Z" fill="#e8fb96"/>
<path d="M421.1 467.4L428.4 456.8L422.3 448.9L415.1 459.6Z" fill="#edfc99"/>
<path class="o" d="M418.7 505.9L425.9 495L433.2 484.4L440.5 473.9L434.4 465.4L428.4 456.8L422.3 448.9L415.1 459.6L407.8 470.7L400.6 481.8L406.6 489.5L412.6 497.6Z"/>
<path d="M462.3 442.5L469.6 432.7L463.5 425.8L456.2 435.4Z" fill="#fef999"/>
<path d="M456.2 435.4L463.5 425.8L457.5 419.1L450.2 428.4Z" fill="#fef799"/>
<path d="M450.2 428.4L457.5 419.1L451.4 412.6L444.2 421.7Z" fill="#fef599"/>
<path d="M469.6 432.7L476.9 423L470.8 416.3L463.5 425.8Z" fill="#fef499"/>
<path d="M463.5 425.8L470.8 416.3L464.8 409.7L457.5 419.1Z" fill="#fff299"/>
<path d="M457.5 419.1L464.8 409.7L458.7 403.4L451.4 412.6Z" fill="#fff099"/>
<path d="M476.9 423L484.2 413.5L478.1 406.8L470.8 416.3Z" fill="#ffef99"/>
<path d="M470.8 416.3L478.1 406.8L472 400.3L464.8 409.7Z" fill="#ffed99"/>
<path d="M464.8 409.7L472 400.3L466 394.2L458.7 403.4Z" fill="#ffeb99"/>
<path class="o" d="M462.3 442.5L469.6 432.7L476.9 423L484.2 413.5L478.1 406.8L472 400.3L466 394.2L458.7 403.4L451.4 412.6L444.2 421.7L450.2 428.4L456.2 435.4Z"/>
<path d="M440.5 473.9L447.8 463.2L441.7 455.1L434.4 465.4Z" fill="#ecfc98"/>
<path d="M434.4 465.4L441.7 455.1L435.6 447L428.4 456.8Z" fill="#f0fc99"/>
<path d="M428.4 456.8L435.6 447L429.6 439.5L422.3 448.9Z" fill="#f5fc99"/>
<path d="M447.8 463.2L455 452.7L449 445.1L441.7 455.1Z" fill="#f4fc99"/>
<path d="M441.7 455.1L449 445.1L442.9 437.6L435.6 447Z" fill="#f7fd99"/>
<path d="M435.6 447L442.9 437.6L436.9 430.6L429.6 439.5Z" fill="#fbfd99"/>
<path d="M455 452.7L462.3 442.5L456.2 435.4L449 445.1Z" fill="#fbfd99"/>
<path d="M449 445.1L456.2 435.4L450.2 428.4L442.9 437.6Z" fill="#fdfc99"/>
<path d="M442.9 437.6L450.2 428.4L444.2 421.7L436.9 430.6Z" fill="#fdfa99"/>
<path class="o" d="M440.5 473.9L447.8 463.2L455 452.7L462.3 442.5L456.2 435.4L450.2 428.4L444.2 421.7L436.9 430.6L429.6 439.5L422.3 448.9L428.4 456.8L434.4 465.4Z"/>
<path d="M601.8 484.6L609.1 477.9L602.8 468.6L595.7 473.5Z" fill="#d8f959"/>
<path d="M595.7 473.5L602.8 468.6L596.6 459.4L589.5 462.6Z" fill="#cff53b"/>
<path d="M589.5 462.6L596.6 459.4L590.4 450.1L583.3 452.1Z" fill="#d2f324"/>
<path d="M609.1 477.9L616.1 475.8L609.9 466.7L602.8 468.6Z" fill="#99eb1a"/>
<path d="M602.8 468.6L609.9 466.7L603.7 457.6L596.6 459.4Z" fill="#aced19"/>
<path d="M596.6 459.4L603.7 457.6L597.5 448.4L590.4 450.1Z" fill="#c0ef18"/>
<path d="M616.1 475.8L623.1 473.8L616.9 464.7L609.9 466.7Z" fill="#93eb1b"/>
<path d="M609.9 466.7L616.9 464.7L610.7 455.7L603.7 457.6Z" fill="#a6ed1b"/>
<path d="M603.7 457.6L610.7 455.7L604.6 446.5L597.5 448.4Z" fill="#b9ef1a"/>
<path class="o" d="M601.8 484.6L609.1 477.9L616.1 475.8L623.1 473.8L616.9 464.7L610.7 455.7L604.6 446.5L597.5 448.4L590.4 450.1L583.3 452.1L589.5 462.6L595.7 473.5Z"/>
<path d="M470.7 689.1L477.8 671.8L471.7 656.1L464.5 672.7Z" fill="#06eeb1"/>
<path d="M464.5 672.7L471.7 656.1L465.5 639.8L458.3 655.6Z" fill="#01e882"/>
<path d="M458.3 655.6L465.5 639.8L459.3 624.5L452.1 639.3Z" fill="#00e758"/>
<path d="M477.8 671.8L485 653.5L478.9 638.7L471.7 656.1Z" fill="#01e97c"/>
<path d="M471.7 656.1L478.9 638.7L472.7 623.8L465.5 639.8Z" fill="#00e755"/>
<path d="M465.5 639.8L472.7 623.8L466.5 609.7L459.3 624.5Z" fill="#00e730"/>
<path d="M485 653.5L492.3 635.5L486.1 621.5L478.9 638.7Z" fill="#00e84a"/>
<path d="M478.9 638.7L486.1 621.5L479.9 607.8L472.7 623.8Z" fill="#00e729"/>
<path d="M472.7 623.8L479.9 607.8L473.7 594.8L466.5 609.7Z" fill="#00e612"/>
<path class="o" d="M470.7 689.1L477.8 671.8L485 653.5L492.3 635.5L486.1 621.5L479.9 607.8L473.7 594.8L466.5 609.7L459.3 624.5L452.1 639.3L458.3 655.6L464.5 672.7Z"/>
<path d="M415.2 567.7L418.8 561.5L415.7 556.4L412.1 562.6Z" fill="#20ea00"/>
<path d="M412.1 562.6L415.7 556.4L412.7 551.5L409.1 557.5Z" fill="#27eb00"/>
<path d="M409.1 557.5L412.7 551.5L409.7 546.7L406 552.7Z" fill="#2dec00"/>
<path d="M406 552.7L409.7 546.7L406.6 542L403 547.9Z" fill="#33ec00"/>
<path d="M403 547.9L406.6 542L403.6 537.5L400 543.3Z" fill="#38ed00"/>
<path d="M400 543.3L403.6 537.5L400.6 533.1L397 538.8Z" fill="#62f130"/>
<path d="M418.8 561.5L422.4 555.3L419.4 550.3L415.7 556.4Z" fill="#2aeb00"/>
<path d="M415.7 556.4L419.4 550.3L416.3 545.5L412.7 551.5Z" fill="#31ec00"/>
<path d="M412.7 551.5L416.3 545.5L413.3 540.8L409.7 546.7Z" fill="#36ed00"/>
<path d="M409.7 546.7L413.3 540.8L410.2 536.3L406.6 542Z" fill="#3ced00"/>
<path d="M406.6 542L410.2 536.3L407.2 531.8L403.6 537.5Z" fill="#87f45e"/>
<path d="M403.6 537.5L407.2 531.8L404.2 527.5L400.6 533.1Z" fill="#b1f893"/>
<path d="M422.4 555.3L426 549.3L423 544.4L419.4 550.3Z" fill="#34ed00"/>
<path d="M419.4 550.3L423 544.4L419.9 539.7L416.3 545.5Z" fill="#3aed00"/>
<path d="M416.3 545.5L419.9 539.7L416.9 535.1L413.3 540.8Z" fill="#40ee00"/>
<path d="M413.3 540.8L416.9 535.1L413.9 530.6L410.2 536.3Z" fill="#a9f789"/>
<path d="M410.2 536.3L413.9 530.6L410.8 526.3L407.2 531.8Z" fill="#b2f893"/>
<path d="M407.2 531.8L410.8 526.3L407.8 522L404.2 527.5Z" fill="#b6f995"/>
<path d="M426 549.3L429.6 543.3L426.6 538.5L423 544.4Z" fill="#3eee00"/>
<path d="M423 544.4L426.6 538.5L423.6 533.9L419.9 539.7Z" fill="#4def0d"/>
<path d="M419.9 539.7L423.6 533.9L420.5 529.4L416.9 535.1Z" fill="#b0f890"/>
<path d="M416.9 535.1L420.5 529.4L417.5 525.1L413.9 530.6Z" fill="#b4f993"/>
<path d="M413.9 530.6L417.5 525.1L414.5 520.8L410.8 526.3Z" fill="#b7f995"/>
<path d="M410.8 526.3L414.5 520.8L411.4 516.6L407.8 522Z" fill="#bbf997"/>
<path d="M429.6 543.3L433.3 537.4L430.2 532.7L426.6 538.5Z" fill="#6ef236"/>
<path d="M426.6 538.5L430.2 532.7L427.2 528.2L423.6 533.9Z" fill="#b1f88f"/>
<path d="M423.6 533.9L427.2 528.2L424.1 523.8L420.5 529.4Z" fill="#b5f992"/>
<path d="M420.5 529.4L424.1 523.8L421.1 519.6L417.5 525.1Z" fill="#b9f995"/>
<path d="M417.5 525.1L421.1 519.6L418.1 515.4L414.5 520.8Z" fill="#bcf997"/>
<path d="M414.5 520.8L418.1 515.4L415.1 511.2L411.4 516.6Z" fill="#bff998"/>
<path d="M433.3 537.4L436.9 531.5L433.8 526.9L430.2 532.7Z" fill="#b2f88e"/>
<path d="M430.2 532.7L433.8 526.9L430.8 522.5L427.2 528.2Z" fill="#b7f992"/>
<path d="M427.2 528.2L430.8 522.5L427.8 518.3L424.1 523.8Z" fill="#bbf994"/>
<path d="M424.1 523.8L427.8 518.3L424.7 514.1L421.1 519.6Z" fill="#bef996"/>
<path d="M421.1 519.6L424.7 514.1L421.7 510L418.1 515.4Z" fill="#c1f998"/>
<path d="M418.1 515.4L421.7 510L418.7 505.9L415.1 511.2Z" fill="#c3f998"/>
<path class="o" d="M415.2 567.7L422.4 555.3L429.6 543.3L436.9 531.5L430.8 522.5L424.7 514.1L418.7 505.9L411.4 516.6L404.2 527.5L397 538.8L403 547.9L409.1 557.5Z"/>
<path d="M543 440.7L550.3 434.9L544.1 425.3L536.9 431.2Z" fill="#feef6a"/>
<path d="M536.9 431.2L544.1 425.3L538 415.7L530.7 421.9Z" fill="#ffe96e"/>
<path d="M530.7 421.9L538 415.7L531.8 406.1L524.5 412.6Z" fill="#ffe474"/>
<path d="M550.3 434.9L557.6 429.4L551.4 419.7L544.1 425.3Z" fill="#feec60"/>
<path d="M544.1 425.3L551.4 419.7L545.2 410.6L538 415.7Z" fill="#ffe563"/>
<path d="M538 415.7L545.2 410.6L539 402.4L531.8 406.1Z" fill="#ffda4b"/>
<path d="M557.6 429.4L564.8 425.2L558.6 417L551.4 419.7Z" fill="#fee539"/>
<path d="M551.4 419.7L558.6 417L552.4 408.9L545.2 410.6Z" fill="#ffd917"/>
<path d="M545.2 410.6L552.4 408.9L546.2 400.7L539 402.4Z" fill="#ffd012"/>
<path class="o" d="M543 440.7L550.3 434.9L557.6 429.4L564.8 425.2L558.6 417L552.4 408.9L546.2 400.7L539 402.4L531.8 406.1L524.5 412.6L530.7 421.9L536.9 431.2Z"/>
<path d="M436.9 531.5L440.5 525.7L437.5 521.2L433.8 526.9Z" fill="#b8f990"/>
<path d="M433.8 526.9L437.5 521.2L434.4 517L430.8 522.5Z" fill="#bcf994"/>
<path d="M430.8 522.5L434.4 517L431.4 512.8L427.8 518.3Z" fill="#c0f996"/>
<path d="M427.8 518.3L431.4 512.8L428.4 508.7L424.7 514.1Z" fill="#c3f997"/>
<path d="M424.7 514.1L428.4 508.7L425.3 504.6L421.7 510Z" fill="#c5f998"/>
<path d="M421.7 510L425.3 504.6L422.3 500.5L418.7 505.9Z" fill="#c7f998"/>
<path d="M440.5 525.7L444.2 520L441.1 515.6L437.5 521.2Z" fill="#bdf992"/>
<path d="M437.5 521.2L441.1 515.6L438.1 511.4L434.4 517Z" fill="#c1f995"/>
<path d="M434.4 517L438.1 511.4L435 507.3L431.4 512.8Z" fill="#c4f997"/>
<path d="M431.4 512.8L435 507.3L432 503.2L428.4 508.7Z" fill="#c7f998"/>
<path d="M428.4 508.7L432 503.2L429 499.1L425.3 504.6Z" fill="#c9fa99"/>
<path d="M425.3 504.6L429 499.1L425.9 495L422.3 500.5Z" fill="#cbfa98"/>
<path d="M444.2 520L447.8 514.2L444.8 510L441.1 515.6Z" fill="#c3f994"/>
<path d="M441.1 515.6L444.8 510L441.7 505.8L438.1 511.4Z" fill="#c6f996"/>
<path d="M438.1 511.4L441.7 505.8L438.7 501.8L435 507.3Z" fill="#c9fa98"/>
<path d="M435 507.3L438.7 501.8L435.6 497.8L432 503.2Z" fill="#cbfa99"/>
<path d="M432 503.2L435.6 497.8L432.6 493.8L429 499.1Z" fill="#cdfa99"/>
<path d="M429 499.1L432.6 493.8L429.6 489.7L425.9 495Z" fill="#cffa99"/>
<path d="M447.8 514.2L451.4 508.5L448.4 504.4L444.8 510Z" fill="#c7f995"/>
<path d="M444.8 510L448.4 504.4L445.4 500.3L441.7 505.8Z" fill="#cbfa97"/>
<path d="M441.7 505.8L445.4 500.3L442.3 496.4L438.7 501.8Z" fill="#cdfa99"/>
<path d="M438.7 501.8L442.3 496.4L439.3 492.4L435.6 497.8Z" fill="#cffa99"/>
<path d="M435.6 497.8L439.3 492.4L436.2 488.4L432.6 493.8Z" fill="#d2fa99"/>
<path d="M432.6 493.8L436.2 488.4L433.2 484.4L429.6 489.7Z" fill="#d5fa99"/>
<path d="M451.4 508.5L455.1 502.8L452 498.7L448.4 504.4Z" fill="#ccfa96"/>
<path d="M448.4 504.4L452 498.7L449 494.8L445.4 500.3Z" fill="#cffa98"/>
<path d="M445.4 500.3L449 494.8L446 490.9L442.3 496.4Z" fill="#d2fa99"/>
<path d="M442.3 496.4L446 490.9L442.9 487.1L439.3 492.4Z" fill="#d5fa99"/>
<path d="M439.3 492.4L442.9 487.1L439.9 483.2L436.2 488.4Z" fill="#d8fa99"/>
<path d="M436.2 488.4L439.9 483.2L436.8 479.1L433.2 484.4Z" fill="#dbfb99"/>
<path d="M455.1 502.8L458.7 497.1L455.7 493.1L452 498.7Z" fill="#d3fa98"/>
<path d="M452 498.7L455.7 493.1L452.6 489.3L449 494.8Z" fill="#d6fa99"/>
<path d="M449 494.8L452.6 489.3L449.6 485.5L446 490.9Z" fill="#d9fa99"/>
<path d="M446 490.9L449.6 485.5L446.6 481.7L442.9 487.1Z" fill="#dbfb99"/>
<path d="M442.9 487.1L446.6 481.7L443.5 477.8L439.9 483.2Z" fill="#defb99"/>
<path d="M439.9 483.2L443.5 477.8L440.5 473.9L436.8 479.1Z" fill="#e1fb99"/>
<path class="o" d="M436.9 531.5L444.2 520L451.4 508.5L458.7 497.1L452.6 489.3L446.6 481.7L440.5 473.9L433.2 484.4L425.9 495L418.7 505.9L424.7 514.1L430.8 522.5Z"/>
<path d="M433.6 601.6L437.2 594.7L434.1 589L430.5 595.8Z" fill="#00e60a"/>
<path d="M430.5 595.8L434.1 589L431.1 583.3L427.4 590Z" fill="#00e604"/>
<path d="M427.4 590L431.1 583.3L428 577.7L424.4 584.2Z" fill="#03e600"/>
<path d="M424.4 584.2L428 577.7L424.9 572.2L421.3 578.6Z" fill="#0be700"/>
<path d="M421.3 578.6L424.9 572.2L421.9 566.8L418.2 573.1Z" fill="#12e800"/>
<path d="M418.2 573.1L421.9 566.8L418.8 561.5L415.2 567.7Z" fill="#1ae900"/>
<path d="M437.2 594.7L440.8 588L437.7 582.4L434.1 589Z" fill="#00e601"/>
<path d="M434.1 589L437.7 582.4L434.7 576.8L431.1 583.3Z" fill="#06e700"/>
<path d="M431.1 583.3L434.7 576.8L431.6 571.3L428 577.7Z" fill="#0ee800"/>
<path d="M428 577.7L431.6 571.3L428.5 565.8L424.9 572.2Z" fill="#15e900"/>
<path d="M424.9 572.2L428.5 565.8L425.5 560.5L421.9 566.8Z" fill="#1dea00"/>
<path d="M421.9 566.8L425.5 560.5L422.4 555.3L418.8 561.5Z" fill="#24ea00"/>
<path d="M440.8 588L444.4 581.3L441.3 575.8L437.7 582.4Z" fill="#0ae700"/>
<path d="M437.7 582.4L441.3 575.8L438.3 570.3L434.7 576.8Z" fill="#11e800"/>
<path d="M434.7 576.8L438.3 570.3L435.2 564.9L431.6 571.3Z" fill="#19e900"/>
<path d="M431.6 571.3L435.2 564.9L432.1 559.6L428.5 565.8Z" fill="#20ea00"/>
<path d="M428.5 565.8L432.1 559.6L429.1 554.4L425.5 560.5Z" fill="#27eb00"/>
<path d="M425.5 560.5L429.1 554.4L426 549.3L422.4 555.3Z" fill="#2eec00"/>
<path d="M444.4 581.3L448 574.7L445 569.3L441.3 575.8Z" fill="#15e900"/>
<path d="M441.3 575.8L445 569.3L441.9 563.9L438.3 570.3Z" fill="#1ce900"/>
<path d="M438.3 570.3L441.9 563.9L438.8 558.6L435.2 564.9Z" fill="#23ea00"/>
<path d="M435.2 564.9L438.8 558.6L435.8 553.4L432.1 559.6Z" fill="#2aeb00"/>
<path d="M432.1 559.6L435.8 553.4L432.7 548.3L429.1 554.4Z" fill="#31ec00"/>
<path d="M429.1 554.4L432.7 548.3L429.6 543.3L426 549.3Z" fill="#38ed00"/>
<path d="M448 574.7L451.7 568.2L448.6 562.9L445 569.3Z" fill="#1fea00"/>
<path d="M445 569.3L448.6 562.9L445.5 557.6L441.9 563.9Z" fill="#27eb00"/>
<path d="M441.9 563.9L445.5 557.6L442.4 552.4L438.8 558.6Z" fill="#2eec00"/>
<path d="M438.8 558.6L442.4 552.4L439.4 547.2L435.8 553.4Z" fill="#34ed00"/>
<path d="M435.8 553.4L439.4 547.2L436.3 542.2L432.7 548.3Z" fill="#3bed00"/>
<path d="M432.7 548.3L436.3 542.2L433.3 537.4L429.6 543.3Z" fill="#41ee00"/>
<path d="M451.7 568.2L455.3 561.8L452.2 556.6L448.6 562.9Z" fill="#2aeb00"/>
<path d="M448.6 562.9L452.2 556.6L449.1 551.3L445.5 557.6Z" fill="#31ec00"/>
<path d="M445.5 557.6L449.1 551.3L446.1 546.2L442.4 552.4Z" fill="#38ed00"/>
<path d="M442.4 552.4L446.1 546.2L443 541.2L439.4 547.2Z" fill="#3eee00"/>
<path d="M439.4 547.2L443 541.2L440 536.2L436.3 542.2Z" fill="#45ef00"/>
<path d="M436.3 542.2L440 536.2L436.9 531.5L433.3 537.4Z" fill="#8cf55c"/>
<path class="o" d="M433.6 601.6L440.8 588L448 574.7L455.3 561.8L449.1 551.3L443 541.2L436.9 531.5L429.6 543.3L422.4 555.3L415.2 567.7L421.3 578.6L427.4 590Z"/>
<path d="M452.1 639.3L459.3 624.5L453.1 611.2L445.9 625.6Z" fill="#00e735"/>
<path d="M445.9 625.6L453.1 611.2L446.9 599.3L439.7 613.3Z" fill="#00e61d"/>
<path d="M439.7 613.3L446.9 599.3L440.8 588L433.6 601.6Z" fill="#00e60f"/>
<path d="M459.3 624.5L466.5 609.7L460.3 597L453.1 611.2Z" fill="#00e617"/>
<path d="M453.1 611.2L460.3 597L454.2 585.6L446.9 599.3Z" fill="#00e609"/>
<path d="M446.9 599.3L454.2 585.6L448 574.7L440.8 588Z" fill="#05e701"/>
<path d="M466.5 609.7L473.7 594.8L467.6 583L460.3 597Z" fill="#01e605"/>
<path d="M460.3 597L467.6 583L461.4 572.2L454.2 585.6Z" fill="#0ce700"/>
<path d="M454.2 585.6L461.4 572.2L455.3 561.8L448 574.7Z" fill="#1ae900"/>
<path class="o" d="M452.1 639.3L459.3 624.5L466.5 609.7L473.7 594.8L467.6 583L461.4 572.2L455.3 561.8L448 574.7L440.8 588L433.6 601.6L439.7 613.3L445.9 625.6Z"/>
<path d="M502.6 434.8L509.9 426.7L503.8 418.6L496.4 427.3Z" fill="#fff099"/>
<path d="M496.4 427.3L503.8 418.6L497.6 411L490.3 420.3Z" fill="#ffee99"/>
<path d="M490.3 420.3L497.6 411L491.5 403.9L484.2 413.5Z" fill="#ffec99"/>
<path d="M509.9 426.7L517.2 419.4L511.1 410.6L503.8 418.6Z" fill="#ffeb91"/>
<path d="M503.8 418.6L511.1 410.6L504.9 402.2L497.6 411Z" fill="#ffea98"/>
<path d="M497.6 411L504.9 402.2L498.8 394.5L491.5 403.9Z" fill="#ffe799"/>
<path d="M517.2 419.4L524.5 412.6L518.4 403.2L511.1 410.6Z" fill="#ffe583"/>
<path d="M511.1 410.6L518.4 403.2L512.2 394.2L504.9 402.2Z" fill="#ffe38e"/>
<path d="M504.9 402.2L512.2 394.2L506.1 386.1L498.8 394.5Z" fill="#ffe298"/>
<path class="o" d="M502.6 434.8L509.9 426.7L517.2 419.4L524.5 412.6L518.4 403.2L512.2 394.2L506.1 386.1L498.8 394.5L491.5 403.9L484.2 413.5L490.3 420.3L496.4 427.3Z"/>
<path d="M458.7 497.1L466 485.8L459.9 478.3L452.6 489.3Z" fill="#defb99"/>
<path d="M452.6 489.3L459.9 478.3L453.8 470.9L446.6 481.7Z" fill="#e3fb99"/>
<path d="M446.6 481.7L453.8 470.9L447.8 463.2L440.5 473.9Z" fill="#e8fb99"/>
<path d="M466 485.8L473.3 474.9L467.2 467.5L459.9 478.3Z" fill="#e9fc99"/>
<path d="M459.9 478.3L467.2 467.5L461.1 460.2L453.8 470.9Z" fill="#edfc99"/>
<path d="M453.8 470.9L461.1 460.2L455 452.7L447.8 463.2Z" fill="#f0fc99"/>
<path d="M473.3 474.9L480.6 464.3L474.5 457L467.2 467.5Z" fill="#f1fc99"/>
<path d="M467.2 467.5L474.5 457L468.4 449.7L461.1 460.2Z" fill="#f5fc99"/>
<path d="M461.1 460.2L468.4 449.7L462.3 442.5L455 452.7Z" fill="#f8fd99"/>
<path class="o" d="M458.7 497.1L466 485.8L473.3 474.9L480.6 464.3L474.5 457L468.4 449.7L462.3 442.5L455 452.7L447.8 463.2L440.5 473.9L446.6 481.7L452.6 489.3Z"/>
<path d="M480.6 464.3L488 453.9L481.8 446.6L474.5 457Z" fill="#f9fd99"/>
<path d="M474.5 457L481.8 446.6L475.7 439.6L468.4 449.7Z" fill="#fcfc99"/>
<path d="M468.4 449.7L475.7 439.6L469.6 432.7L462.3 442.5Z" fill="#fdfb99"/>
<path d="M488 453.9L495.3 444L489.1 436.7L481.8 446.6Z" fill="#fdfa99"/>
<path d="M481.8 446.6L489.1 436.7L483 429.8L475.7 439.6Z" fill="#fef899"/>
<path d="M475.7 439.6L483 429.8L476.9 423L469.6 432.7Z" fill="#fef699"/>
<path d="M495.3 444L502.6 434.8L496.4 427.3L489.1 436.7Z" fill="#fef599"/>
<path d="M489.1 436.7L496.4 427.3L490.3 420.3L483 429.8Z" fill="#fef399"/>
<path d="M483 429.8L490.3 420.3L484.2 413.5L476.9 423Z" fill="#fff199"/>
<path class="o" d="M480.6 464.3L488 453.9L495.3 444L502.6 434.8L496.4 427.3L490.3 420.3L484.2 413.5L476.9 423L469.6 432.7L462.3 442.5L468.4 449.7L474.5 457Z"/>
<path d="M561.6 471L568.9 464.4L562.7 454.3L555.4 460.8Z" fill="#f2fb6c"/>
<path d="M555.4 460.8L562.7 454.3L556.5 444.5L549.2 450.7Z" fill="#fafc6b"/>
<path d="M549.2 450.7L556.5 444.5L550.3 434.9L543 440.7Z" fill="#fdf668"/>
<path d="M568.9 464.4L576.1 458.2L569.9 448.3L562.7 454.3Z" fill="#f6fc68"/>
<path d="M562.7 454.3L569.9 448.3L563.7 438.9L556.5 444.5Z" fill="#fcfa68"/>
<path d="M556.5 444.5L563.7 438.9L557.6 429.4L550.3 434.9Z" fill="#fdf363"/>
<path d="M576.1 458.2L583.3 452.1L577.1 442.9L569.9 448.3Z" fill="#f9fc66"/>
<path d="M569.9 448.3L577.1 442.9L570.9 434.1L563.7 438.9Z" fill="#fcf75d"/>
<path d="M563.7 438.9L570.9 434.1L564.8 425.2L557.6 429.4Z" fill="#fdf050"/>
<path class="o" d="M561.6 471L568.9 464.4L576.1 458.2L583.3 452.1L577.1 442.9L570.9 434.1L564.8 425.2L557.6 429.4L550.3 434.9L543 440.7L549.2 450.7L555.4 460.8Z"/>
<path d="M455.3 561.8L458.9 555.3L455.8 550.2L452.2 556.6Z" fill="#35ed00"/>
<path d="M452.2 556.6L455.8 550.2L452.8 545.1L449.1 551.3Z" fill="#3bed00"/>
<path d="M449.1 551.3L452.8 545.1L449.7 540.1L446.1 546.2Z" fill="#42ee00"/>
<path d="M446.1 546.2L449.7 540.1L446.6 535.1L443 541.2Z" fill="#48ef00"/>
<path d="M443 541.2L446.6 535.1L443.6 530.3L440 536.2Z" fill="#a8f882"/>
<path d="M440 536.2L443.6 530.3L440.5 525.7L436.9 531.5Z" fill="#b3f88c"/>
<path d="M458.9 555.3L462.5 548.8L459.5 543.8L455.8 550.2Z" fill="#3fee00"/>
<path d="M455.8 550.2L459.5 543.8L456.4 538.8L452.8 545.1Z" fill="#46ef00"/>
<path d="M452.8 545.1L456.4 538.8L453.3 533.9L449.7 540.1Z" fill="#4df001"/>
<path d="M449.7 540.1L453.3 533.9L450.3 529.1L446.6 535.1Z" fill="#aef888"/>
<path d="M446.6 535.1L450.3 529.1L447.2 524.5L443.6 530.3Z" fill="#b4f88b"/>
<path d="M443.6 530.3L447.2 524.5L444.2 520L440.5 525.7Z" fill="#b9f98f"/>
<path d="M462.5 548.8L466.2 542.4L463.1 537.5L459.5 543.8Z" fill="#4aef00"/>
<path d="M459.5 543.8L463.1 537.5L460 532.6L456.4 538.8Z" fill="#6ef32c"/>
<path d="M456.4 538.8L460 532.6L457 527.8L453.3 533.9Z" fill="#b0f888"/>
<path d="M453.3 533.9L457 527.8L453.9 523.2L450.3 529.1Z" fill="#b5f88a"/>
<path d="M450.3 529.1L453.9 523.2L450.9 518.6L447.2 524.5Z" fill="#baf98d"/>
<path d="M447.2 524.5L450.9 518.6L447.8 514.2L444.2 520Z" fill="#bef991"/>
<path d="M466.2 542.4L469.8 536L466.8 531.2L463.1 537.5Z" fill="#92f55b"/>
<path d="M463.1 537.5L466.8 531.2L463.7 526.4L460 532.6Z" fill="#b2f888"/>
<path d="M460 532.6L463.7 526.4L460.6 521.8L457 527.8Z" fill="#b7f88a"/>
<path d="M457 527.8L460.6 521.8L457.6 517.2L453.9 523.2Z" fill="#bbf98c"/>
<path d="M453.9 523.2L457.6 517.2L454.5 512.8L450.9 518.6Z" fill="#c0f98f"/>
<path d="M450.9 518.6L454.5 512.8L451.4 508.5L447.8 514.2Z" fill="#c4f992"/>
<path d="M469.8 536L473.5 529.7L470.4 524.9L466.8 531.2Z" fill="#b5f887"/>
<path d="M466.8 531.2L470.4 524.9L467.3 520.3L463.7 526.4Z" fill="#b9f889"/>
<path d="M463.7 526.4L467.3 520.3L464.3 515.7L460.6 521.8Z" fill="#bdf98c"/>
<path d="M460.6 521.8L464.3 515.7L461.2 511.3L457.6 517.2Z" fill="#c1f98e"/>
<path d="M457.6 517.2L461.2 511.3L458.1 507L454.5 512.8Z" fill="#c5f991"/>
<path d="M454.5 512.8L458.1 507L455.1 502.8L451.4 508.5Z" fill="#c9f994"/>
<path d="M473.5 529.7L477.1 523.4L474 518.7L470.4 524.9Z" fill="#bbf989"/>
<path d="M470.4 524.9L474 518.7L471 514.1L467.3 520.3Z" fill="#bff98b"/>
<path d="M467.3 520.3L471 514.1L467.9 509.7L464.3 515.7Z" fill="#c3f98d"/>
<path d="M464.3 515.7L467.9 509.7L464.8 505.3L461.2 511.3Z" fill="#c7f990"/>
<path d="M461.2 511.3L464.8 505.3L461.8 501.1L458.1 507Z" fill="#cbf993"/>
<path d="M458.1 507L461.8 501.1L458.7 497.1L455.1 502.8Z" fill="#cefa95"/>
<path class="o" d="M455.3 561.8L462.5 548.8L469.8 536L477.1 523.4L471 514.1L464.8 505.3L458.7 497.1L451.4 508.5L444.2 520L436.9 531.5L443 541.2L449.1 551.3Z"/>
<path d="M580.2 503.4L587.4 496.8L581.2 485.7L574 492.3Z" fill="#cbf85f"/>
<path d="M574 492.3L581.2 485.7L575 474.9L567.8 481.6Z" fill="#dcfa64"/>
<path d="M567.8 481.6L575 474.9L568.9 464.4L561.6 471Z" fill="#e8fb68"/>
<path d="M587.4 496.8L594.6 490.7L588.5 479.6L581.2 485.7Z" fill="#cef855"/>
<path d="M581.2 485.7L588.5 479.6L582.3 468.6L575 474.9Z" fill="#dffa5a"/>
<path d="M575 474.9L582.3 468.6L576.1 458.2L568.9 464.4Z" fill="#ebfb61"/>
<path d="M594.6 490.7L601.8 484.6L595.7 473.5L588.5 479.6Z" fill="#d4f955"/>
<path d="M588.5 479.6L595.7 473.5L589.5 462.6L582.3 468.6Z" fill="#e2fa57"/>
<path d="M582.3 468.6L589.5 462.6L583.3 452.1L576.1 458.2Z" fill="#effb5f"/>
<path class="o" d="M580.2 503.4L587.4 496.8L594.6 490.7L601.8 484.6L595.7 473.5L589.5 462.6L583.3 452.1L576.1 458.2L568.9 464.4L561.6 471L567.8 481.6L574 492.3Z"/>
<path d="M521.1 462.4L528.4 454.8L522.3 444.9L514.9 452.6Z" fill="#fcfb7f"/>
<path d="M514.9 452.6L522.3 444.9L516.1 435.6L508.8 443.4Z" fill="#fef787"/>
<path d="M508.8 443.4L516.1 435.6L509.9 426.7L502.6 434.8Z" fill="#fef391"/>
<path d="M528.4 454.8L535.7 447.5L529.6 437.8L522.3 444.9Z" fill="#fdf77b"/>
<path d="M522.3 444.9L529.6 437.8L523.4 428.4L516.1 435.6Z" fill="#fef280"/>
<path d="M516.1 435.6L523.4 428.4L517.2 419.4L509.9 426.7Z" fill="#ffee87"/>
<path d="M535.7 447.5L543 440.7L536.9 431.2L529.6 437.8Z" fill="#fef376"/>
<path d="M529.6 437.8L536.9 431.2L530.7 421.9L523.4 428.4Z" fill="#feee79"/>
<path d="M523.4 428.4L530.7 421.9L524.5 412.6L517.2 419.4Z" fill="#ffe97d"/>
<path class="o" d="M521.1 462.4L528.4 454.8L535.7 447.5L543 440.7L536.9 431.2L530.7 421.9L524.5 412.6L517.2 419.4L509.9 426.7L502.6 434.8L508.8 443.4L514.9 452.6Z"/>
<path d="M473.7 594.8L477.4 587.6L474.3 581.8L470.7 588.8Z" fill="#0ae700"/>
<path d="M470.7 588.8L474.3 581.8L471.2 576.2L467.6 583Z" fill="#12e800"/>
<path d="M467.6 583L471.2 576.2L468.1 570.8L464.5 577.5Z" fill="#1ae900"/>
<path d="M464.5 577.5L468.1 570.8L465.1 565.5L461.4 572.2Z" fill="#21ea00"/>
<path d="M461.4 572.2L465.1 565.5L462 560.4L458.3 567Z" fill="#28eb00"/>
<path d="M458.3 567L462 560.4L458.9 555.3L455.3 561.8Z" fill="#2eec00"/>
<path d="M477.4 587.6L481 580.6L477.9 574.9L474.3 581.8Z" fill="#16e900"/>
<path d="M474.3 581.8L477.9 574.9L474.8 569.4L471.2 576.2Z" fill="#1eea00"/>
<path d="M471.2 576.2L474.8 569.4L471.8 564.1L468.1 570.8Z" fill="#25eb00"/>
<path d="M468.1 570.8L471.8 564.1L468.7 558.9L465.1 565.5Z" fill="#2ceb00"/>
<path d="M465.1 565.5L468.7 558.9L465.6 553.8L462 560.4Z" fill="#33ec00"/>
<path d="M462 560.4L465.6 553.8L462.5 548.8L458.9 555.3Z" fill="#39ed00"/>
<path d="M481 580.6L484.7 573.7L481.6 568.1L477.9 574.9Z" fill="#22ea00"/>
<path d="M477.9 574.9L481.6 568.1L478.5 562.7L474.8 569.4Z" fill="#29eb00"/>
<path d="M474.8 569.4L478.5 562.7L475.4 557.5L471.8 564.1Z" fill="#30ec00"/>
<path d="M471.8 564.1L475.4 557.5L472.3 552.4L468.7 558.9Z" fill="#37ed00"/>
<path d="M468.7 558.9L472.3 552.4L469.3 547.3L465.6 553.8Z" fill="#3dee00"/>
<path d="M465.6 553.8L469.3 547.3L466.2 542.4L462.5 548.8Z" fill="#44ee00"/>
<path d="M484.7 573.7L488.3 566.9L485.2 561.5L481.6 568.1Z" fill="#2dec00"/>
<path d="M481.6 568.1L485.2 561.5L482.1 556.1L478.5 562.7Z" fill="#34ed00"/>
<path d="M478.5 562.7L482.1 556.1L479.1 550.9L475.4 557.5Z" fill="#3bed00"/>
<path d="M475.4 557.5L479.1 550.9L476 545.9L472.3 552.4Z" fill="#42ee00"/>
<path d="M472.3 552.4L476 545.9L472.9 540.9L469.3 547.3Z" fill="#48ef00"/>
<path d="M469.3 547.3L472.9 540.9L469.8 536L466.2 542.4Z" fill="#4ef000"/>
<path d="M488.3 566.9L492 560.3L488.9 554.9L485.2 561.5Z" fill="#38ed00"/>
<path d="M485.2 561.5L488.9 554.9L485.8 549.6L482.1 556.1Z" fill="#3fee00"/>
<path d="M482.1 556.1L485.8 549.6L482.7 544.4L479.1 550.9Z" fill="#46ef00"/>
<path d="M479.1 550.9L482.7 544.4L479.6 539.4L476 545.9Z" fill="#4df000"/>
<path d="M476 545.9L479.6 539.4L476.5 534.5L472.9 540.9Z" fill="#53f000"/>
<path d="M472.9 540.9L476.5 534.5L473.5 529.7L469.8 536Z" fill="#b1f886"/>
<path d="M492 560.3L495.6 553.8L492.5 548.4L488.9 554.9Z" fill="#43ee00"/>
<path d="M488.9 554.9L492.5 548.4L489.5 543.1L485.8 549.6Z" fill="#4aef00"/>
<path d="M485.8 549.6L489.5 543.1L486.4 538L482.7 544.4Z" fill="#51f000"/>
<path d="M482.7 544.4L486.4 538L483.3 533L479.6 539.4Z" fill="#6af21a"/>
<path d="M479.6 539.4L483.3 533L480.2 528.1L476.5 534.5Z" fill="#b3f885"/>
<path d="M476.5 534.5L480.2 528.1L477.1 523.4L473.5 529.7Z" fill="#b7f887"/>
<path class="o" d="M473.7 594.8L481 580.6L488.3 566.9L495.6 553.8L489.5 543.1L483.3 533L477.1 523.4L469.8 536L462.5 548.8L455.3 561.8L461.4 572.2L467.6 583Z"/>
<path d="M492.3 635.5L499.5 618.8L493.4 605.4L486.1 621.5Z" fill="#00e61f"/>
<path d="M486.1 621.5L493.4 605.4L487.2 592.6L479.9 607.8Z" fill="#00e60d"/>
<path d="M479.9 607.8L487.2 592.6L481 580.6L473.7 594.8Z" fill="#05e702"/>
<path d="M499.5 618.8L506.8 603.1L500.7 590.2L493.4 605.4Z" fill="#01e607"/>
<path d="M493.4 605.4L500.7 590.2L494.5 578.3L487.2 592.6Z" fill="#0ae700"/>
<path d="M487.2 592.6L494.5 578.3L488.3 566.9L481 580.6Z" fill="#1be900"/>
<path d="M506.8 603.1L514.2 588.6L508 576.2L500.7 590.2Z" fill="#11e800"/>
<path d="M500.7 590.2L508 576.2L501.8 564.7L494.5 578.3Z" fill="#23ea00"/>
<path d="M494.5 578.3L501.8 564.7L495.6 553.8L488.3 566.9Z" fill="#33ec00"/>
<path class="o" d="M492.3 635.5L499.5 618.8L506.8 603.1L514.2 588.6L508 576.2L501.8 564.7L495.6 553.8L488.3 566.9L481 580.6L473.7 594.8L479.9 607.8L486.1 621.5Z"/>
<path d="M477.1 523.4L484.4 510.8L478.3 501.9L471 514.1Z" fill="#c6f98c"/>
<path d="M471 514.1L478.3 501.9L472.1 493.7L464.8 505.3Z" fill="#cffa91"/>
<path d="M464.8 505.3L472.1 493.7L466 485.8L458.7 497.1Z" fill="#d8fa97"/>
<path d="M484.4 510.8L491.8 498.6L485.6 490.1L478.3 501.9Z" fill="#d7fa90"/>
<path d="M478.3 501.9L485.6 490.1L479.5 482.3L472.1 493.7Z" fill="#dffb96"/>
<path d="M472.1 493.7L479.5 482.3L473.3 474.9L466 485.8Z" fill="#e5fb99"/>
<path d="M491.8 498.6L499.1 487.5L492.9 479.2L485.6 490.1Z" fill="#e6fb96"/>
<path d="M485.6 490.1L492.9 479.2L486.8 471.5L479.5 482.3Z" fill="#ebfc99"/>
<path d="M479.5 482.3L486.8 471.5L480.6 464.3L473.3 474.9Z" fill="#eefc99"/>
<path class="o" d="M477.1 523.4L484.4 510.8L491.8 498.6L499.1 487.5L492.9 479.2L486.8 471.5L480.6 464.3L473.3 474.9L466 485.8L458.7 497.1L464.8 505.3L471 514.1Z"/>
<path d="M539.7 494.4L547 486.4L540.8 475.6L533.5 483.3Z" fill="#e1fa70"/>
<path d="M533.5 483.3L540.8 475.6L534.6 465L527.3 472.6Z" fill="#ebfb72"/>
<path d="M527.3 472.6L534.6 465L528.4 454.8L521.1 462.4Z" fill="#f5fc78"/>
<path d="M547 486.4L554.3 478.4L548.1 467.9L540.8 475.6Z" fill="#e8fb74"/>
<path d="M540.8 475.6L548.1 467.9L541.9 457.6L534.6 465Z" fill="#f1fb74"/>
<path d="M534.6 465L541.9 457.6L535.7 447.5L528.4 454.8Z" fill="#fafc77"/>
<path d="M554.3 478.4L561.6 471L555.4 460.8L548.1 467.9Z" fill="#eefb72"/>
<path d="M548.1 467.9L555.4 460.8L549.2 450.7L541.9 457.6Z" fill="#f7fc71"/>
<path d="M541.9 457.6L549.2 450.7L543 440.7L535.7 447.5Z" fill="#fdfa72"/>
<path class="o" d="M539.7 494.4L547 486.4L554.3 478.4L561.6 471L555.4 460.8L549.2 450.7L543 440.7L535.7 447.5L528.4 454.8L521.1 462.4L527.3 472.6L533.5 483.3Z"/>
<path d="M499.1 487.5L506.4 478.3L500.3 469.4L492.9 479.2Z" fill="#eefc97"/>
<path d="M492.9 479.2L500.3 469.4L494.1 461.4L486.8 471.5Z" fill="#f3fc99"/>
<path d="M486.8 471.5L494.1 461.4L488 453.9L480.6 464.3Z" fill="#f6fc99"/>
<path d="M506.4 478.3L513.8 470.1L507.6 460.7L500.3 469.4Z" fill="#f3fc8f"/>
<path d="M500.3 469.4L507.6 460.7L501.4 452L494.1 461.4Z" fill="#f9fd98"/>
<path d="M494.1 461.4L501.4 452L495.3 444L488 453.9Z" fill="#fcfc99"/>
<path d="M513.8 470.1L521.1 462.4L514.9 452.6L507.6 460.7Z" fill="#f8fc85"/>
<path d="M507.6 460.7L514.9 452.6L508.8 443.4L501.4 452Z" fill="#fdfb91"/>
<path d="M501.4 452L508.8 443.4L502.6 434.8L495.3 444Z" fill="#fef898"/>
<path class="o" d="M499.1 487.5L506.4 478.3L513.8 470.1L521.1 462.4L514.9 452.6L508.8 443.4L502.6 434.8L495.3 444L488 453.9L480.6 464.3L486.8 471.5L492.9 479.2Z"/>
<path d="M558.2 527.9L561.9 523.6L558.8 517.8L555.1 522Z" fill="#b0f76c"/>
<path d="M555.1 522L558.8 517.8L555.7 512.2L552.1 516.3Z" fill="#b7f76e"/>
<path d="M552.1 516.3L555.7 512.2L552.6 506.6L549 510.7Z" fill="#bdf870"/>
<path d="M549 510.7L552.6 506.6L549.5 501.2L545.9 505.2Z" fill="#c6f872"/>
<path d="M545.9 505.2L549.5 501.2L546.4 495.8L542.8 499.8Z" fill="#cef974"/>
<path d="M542.8 499.8L546.4 495.8L543.3 490.4L539.7 494.4Z" fill="#d5f973"/>
<path d="M561.9 523.6L565.6 519.3L562.5 513.6L558.8 517.8Z" fill="#b5f76d"/>
<path d="M558.8 517.8L562.5 513.6L559.4 508L555.7 512.2Z" fill="#bbf86f"/>
<path d="M555.7 512.2L559.4 508L556.3 502.5L552.6 506.6Z" fill="#c4f872"/>
<path d="M552.6 506.6L556.3 502.5L553.2 497.1L549.5 501.2Z" fill="#ccf974"/>
<path d="M549.5 501.2L553.2 497.1L550.1 491.7L546.4 495.8Z" fill="#d4f975"/>
<path d="M546.4 495.8L550.1 491.7L547 486.4L543.3 490.4Z" fill="#dbfa75"/>
<path d="M565.6 519.3L569.2 515.1L566.1 509.5L562.5 513.6Z" fill="#b8f76d"/>
<path d="M562.5 513.6L566.1 509.5L563 503.9L559.4 508Z" fill="#c0f870"/>
<path d="M559.4 508L563 503.9L559.9 498.4L556.3 502.5Z" fill="#c9f972"/>
<path d="M556.3 502.5L559.9 498.4L556.8 493L553.2 497.1Z" fill="#d1f974"/>
<path d="M553.2 497.1L556.8 493L553.7 487.7L550.1 491.7Z" fill="#d9fa75"/>
<path d="M550.1 491.7L553.7 487.7L550.6 482.3L547 486.4Z" fill="#dffa75"/>
<path d="M569.2 515.1L572.9 511L569.8 505.4L566.1 509.5Z" fill="#bcf86d"/>
<path d="M566.1 509.5L569.8 505.4L566.7 499.9L563 503.9Z" fill="#c5f870"/>
<path d="M563 503.9L566.7 499.9L563.6 494.5L559.9 498.4Z" fill="#cef972"/>
<path d="M559.9 498.4L563.6 494.5L560.5 489.1L556.8 493Z" fill="#d6fa73"/>
<path d="M556.8 493L560.5 489.1L557.4 483.7L553.7 487.7Z" fill="#ddfa74"/>
<path d="M553.7 487.7L557.4 483.7L554.3 478.4L550.6 482.3Z" fill="#e3fa75"/>
<path d="M572.9 511L576.5 507.1L573.4 501.5L569.8 505.4Z" fill="#c0f86b"/>
<path d="M569.8 505.4L573.4 501.5L570.3 496L566.7 499.9Z" fill="#c9f96e"/>
<path d="M566.7 499.9L570.3 496L567.2 490.6L563.6 494.5Z" fill="#d2f970"/>
<path d="M563.6 494.5L567.2 490.6L564.1 485.2L560.5 489.1Z" fill="#dafa71"/>
<path d="M560.5 489.1L564.1 485.2L561 479.9L557.4 483.7Z" fill="#e0fa72"/>
<path d="M557.4 483.7L561 479.9L557.9 474.6L554.3 478.4Z" fill="#e5fb73"/>
<path d="M576.5 507.1L580.2 503.4L577.1 497.8L573.4 501.5Z" fill="#c3f867"/>
<path d="M573.4 501.5L577.1 497.8L574 492.3L570.3 496Z" fill="#cdf96a"/>
<path d="M570.3 496L574 492.3L570.9 486.9L567.2 490.6Z" fill="#d5f96c"/>
<path d="M567.2 490.6L570.9 486.9L567.8 481.6L564.1 485.2Z" fill="#ddfa6d"/>
<path d="M564.1 485.2L567.8 481.6L564.7 476.3L561 479.9Z" fill="#e2fa6e"/>
<path d="M561 479.9L564.7 476.3L561.6 471L557.9 474.6Z" fill="#e7fb6f"/>
<path class="o" d="M558.2 527.9L565.6 519.3L572.9 511L580.2 503.4L574 492.3L567.8 481.6L561.6 471L554.3 478.4L547 486.4L539.7 494.4L545.9 505.2L552.1 516.3Z"/>
<path d="M495.6 553.8L499.3 547.4L496.2 542L492.5 548.4Z" fill="#4ef000"/>
<path d="M492.5 548.4L496.2 542L493.1 536.7L489.5 543.1Z" fill="#55f000"/>
<path d="M489.5 543.1L493.1 536.7L490 531.6L486.4 538Z" fill="#89f445"/>
<path d="M486.4 538L490 531.6L486.9 526.6L483.3 533Z" fill="#b4f884"/>
<path d="M483.3 533L486.9 526.6L483.9 521.8L480.2 528.1Z" fill="#b9f886"/>
<path d="M480.2 528.1L483.9 521.8L480.8 517.1L477.1 523.4Z" fill="#bdf988"/>
<path d="M499.3 547.4L503 541.1L499.9 535.7L496.2 542Z" fill="#59f000"/>
<path d="M496.2 542L499.9 535.7L496.8 530.4L493.1 536.7Z" fill="#a2f769"/>
<path d="M493.1 536.7L496.8 530.4L493.7 525.3L490 531.6Z" fill="#b5f882"/>
<path d="M490 531.6L493.7 525.3L490.6 520.3L486.9 526.6Z" fill="#baf884"/>
<path d="M486.9 526.6L490.6 520.3L487.5 515.4L483.9 521.8Z" fill="#bff987"/>
<path d="M483.9 521.8L487.5 515.4L484.4 510.8L480.8 517.1Z" fill="#c3f989"/>
<path d="M503 541.1L506.6 535L503.5 529.6L499.9 535.7Z" fill="#b1f87f"/>
<path d="M499.9 535.7L503.5 529.6L500.4 524.3L496.8 530.4Z" fill="#b7f881"/>
<path d="M496.8 530.4L500.4 524.3L497.4 519.1L493.7 525.3Z" fill="#bcf883"/>
<path d="M493.7 525.3L497.4 519.1L494.3 514.1L490.6 520.3Z" fill="#c1f986"/>
<path d="M490.6 520.3L494.3 514.1L491.2 509.3L487.5 515.4Z" fill="#c5f988"/>
<path d="M487.5 515.4L491.2 509.3L488.1 504.6L484.4 510.8Z" fill="#caf98b"/>
<path d="M506.6 535L510.3 529.2L507.2 523.7L503.5 529.6Z" fill="#b7f87f"/>
<path d="M503.5 529.6L507.2 523.7L504.1 518.4L500.4 524.3Z" fill="#bcf882"/>
<path d="M500.4 524.3L504.1 518.4L501 513.2L497.4 519.1Z" fill="#c1f984"/>
<path d="M497.4 519.1L501 513.2L497.9 508.2L494.3 514.1Z" fill="#c6f987"/>
<path d="M494.3 514.1L497.9 508.2L494.8 503.3L491.2 509.3Z" fill="#cdf989"/>
<path d="M491.2 509.3L494.8 503.3L491.8 498.6L488.1 504.6Z" fill="#d3fa8d"/>
<path d="M510.3 529.2L514 523.7L510.9 518.2L507.2 523.7Z" fill="#bcf87e"/>
<path d="M507.2 523.7L510.9 518.2L507.8 512.9L504.1 518.4Z" fill="#c1f982"/>
<path d="M504.1 518.4L507.8 512.9L504.7 507.7L501 513.2Z" fill="#c7f984"/>
<path d="M501 513.2L504.7 507.7L501.6 502.5L497.9 508.2Z" fill="#cef987"/>
<path d="M497.9 508.2L501.6 502.5L498.5 497.6L494.8 503.3Z" fill="#d5fa8a"/>
<path d="M494.8 503.3L498.5 497.6L495.4 492.9L491.8 498.6Z" fill="#dbfa8e"/>
<path d="M514 523.7L517.7 518.6L514.6 513.1L510.9 518.2Z" fill="#bff87d"/>
<path d="M510.9 518.2L514.6 513.1L511.5 507.8L507.8 512.9Z" fill="#c7f981"/>
<path d="M507.8 512.9L511.5 507.8L508.4 502.5L504.7 507.7Z" fill="#cef983"/>
<path d="M504.7 507.7L508.4 502.5L505.3 497.3L501.6 502.5Z" fill="#d5fa86"/>
<path d="M501.6 502.5L505.3 497.3L502.2 492.3L498.5 497.6Z" fill="#dcfa8a"/>
<path d="M498.5 497.6L502.2 492.3L499.1 487.5L495.4 492.9Z" fill="#e2fb8f"/>
<path class="o" d="M495.6 553.8L503 541.1L510.3 529.2L517.7 518.6L511.5 507.8L505.3 497.3L499.1 487.5L491.8 498.6L484.4 510.8L477.1 523.4L483.3 533L489.5 543.1Z"/>
<path d="M517.7 518.6L525 509.8L518.8 498.7L511.5 507.8Z" fill="#c9f978"/>
<path d="M511.5 507.8L518.8 498.7L512.6 488.1L505.3 497.3Z" fill="#d9fa7f"/>
<path d="M505.3 497.3L512.6 488.1L506.4 478.3L499.1 487.5Z" fill="#e6fb89"/>
<path d="M525 509.8L532.3 501.9L526.2 490.8L518.8 498.7Z" fill="#d0f96e"/>
<path d="M518.8 498.7L526.2 490.8L520 480.1L512.6 488.1Z" fill="#e0fa75"/>
<path d="M512.6 488.1L520 480.1L513.8 470.1L506.4 478.3Z" fill="#ebfb81"/>
<path d="M532.3 501.9L539.7 494.4L533.5 483.3L526.2 490.8Z" fill="#d7f96a"/>
<path d="M526.2 490.8L533.5 483.3L527.3 472.6L520 480.1Z" fill="#e5fb70"/>
<path d="M520 480.1L527.3 472.6L521.1 462.4L513.8 470.1Z" fill="#f0fb7a"/>
<path class="o" d="M517.7 518.6L525 509.8L532.3 501.9L539.7 494.4L533.5 483.3L527.3 472.6L521.1 462.4L513.8 470.1L506.4 478.3L499.1 487.5L505.3 497.3L511.5 507.8Z"/>
<path d="M536.2 554.8L539.9 550L536.8 543.7L533.1 548.5Z" fill="#50f000"/>
<path d="M533.1 548.5L536.8 543.7L533.7 537.6L530 542.3Z" fill="#5af000"/>
<path d="M530 542.3L533.7 537.6L530.6 531.6L527 536.2Z" fill="#8ef544"/>
<path d="M527 536.2L530.6 531.6L527.5 525.6L523.9 530.3Z" fill="#acf76c"/>
<path d="M523.9 530.3L527.5 525.6L524.4 519.8L520.8 524.4Z" fill="#b3f76f"/>
<path d="M520.8 524.4L524.4 519.8L521.3 514L517.7 518.6Z" fill="#baf872"/>
<path d="M539.9 550L543.6 545.3L540.5 539.2L536.8 543.7Z" fill="#57f000"/>
<path d="M536.8 543.7L540.5 539.2L537.4 533.1L533.7 537.6Z" fill="#73f21c"/>
<path d="M533.7 537.6L537.4 533.1L534.3 527.1L530.6 531.6Z" fill="#a8f768"/>
<path d="M530.6 531.6L534.3 527.1L531.2 521.3L527.5 525.6Z" fill="#aef76a"/>
<path d="M527.5 525.6L531.2 521.3L528.1 515.5L524.4 519.8Z" fill="#b5f76c"/>
<path d="M524.4 519.8L528.1 515.5L525 509.8L521.3 514Z" fill="#bcf86e"/>
<path d="M543.6 545.3L547.2 540.8L544.2 534.8L540.5 539.2Z" fill="#5ef100"/>
<path d="M540.5 539.2L544.2 534.8L541.1 528.8L537.4 533.1Z" fill="#a5f766"/>
<path d="M537.4 533.1L541.1 528.8L538 522.9L534.3 527.1Z" fill="#abf768"/>
<path d="M534.3 527.1L538 522.9L534.9 517.1L531.2 521.3Z" fill="#b1f769"/>
<path d="M531.2 521.3L534.9 517.1L531.8 511.4L528.1 515.5Z" fill="#b7f76a"/>
<path d="M528.1 515.5L531.8 511.4L528.7 505.8L525 509.8Z" fill="#c0f86b"/>
<path d="M547.2 540.8L550.9 536.4L547.8 530.5L544.2 534.8Z" fill="#a1f663"/>
<path d="M544.2 534.8L547.8 530.5L544.7 524.6L541.1 528.8Z" fill="#a9f767"/>
<path d="M541.1 528.8L544.7 524.6L541.6 518.8L538 522.9Z" fill="#aff769"/>
<path d="M538 522.9L541.6 518.8L538.5 513.1L534.9 517.1Z" fill="#b5f769"/>
<path d="M534.9 517.1L538.5 513.1L535.4 507.5L531.8 511.4Z" fill="#bcf86a"/>
<path d="M531.8 511.4L535.4 507.5L532.3 501.9L528.7 505.8Z" fill="#c4f86a"/>
<path d="M550.9 536.4L554.6 532.1L551.5 526.2L547.8 530.5Z" fill="#a7f768"/>
<path d="M547.8 530.5L551.5 526.2L548.4 520.5L544.7 524.6Z" fill="#adf769"/>
<path d="M544.7 524.6L548.4 520.5L545.3 514.8L541.6 518.8Z" fill="#b4f76b"/>
<path d="M541.6 518.8L545.3 514.8L542.2 509.2L538.5 513.1Z" fill="#b9f76c"/>
<path d="M538.5 513.1L542.2 509.2L539.1 503.7L535.4 507.5Z" fill="#c2f86c"/>
<path d="M535.4 507.5L539.1 503.7L536 498.2L532.3 501.9Z" fill="#c9f96a"/>
<path d="M554.6 532.1L558.2 527.9L555.1 522L551.5 526.2Z" fill="#acf769"/>
<path d="M551.5 526.2L555.1 522L552.1 516.3L548.4 520.5Z" fill="#b2f76b"/>
<path d="M548.4 520.5L552.1 516.3L549 510.7L545.3 514.8Z" fill="#b8f76d"/>
<path d="M545.3 514.8L549 510.7L545.9 505.2L542.2 509.2Z" fill="#c0f86f"/>
<path d="M542.2 509.2L545.9 505.2L542.8 499.8L539.1 503.7Z" fill="#c8f970"/>
<path d="M539.1 503.7L542.8 499.8L539.7 494.4L536 498.2Z" fill="#cff96e"/>
<path class="o" d="M536.2 554.8L543.6 545.3L550.9 536.4L558.2 527.9L552.1 516.3L545.9 505.2L539.7 494.4L532.3 501.9L525 509.8L517.7 518.6L523.9 530.3L530 542.3Z"/>
<path d="M514.2 588.6L517.9 582.2L514.8 575.8L511.1 582.3Z" fill="#1eea00"/>
<path d="M511.1 582.3L514.8 575.8L511.7 569.8L508 576.2Z" fill="#27eb00"/>
<path d="M508 576.2L511.7 569.8L508.6 564L504.9 570.4Z" fill="#30ec00"/>
<path d="M504.9 570.4L508.6 564L505.5 558.3L501.8 564.7Z" fill="#38ed00"/>
<path d="M501.8 564.7L505.5 558.3L502.4 552.8L498.7 559.2Z" fill="#3fee00"/>
<path d="M498.7 559.2L502.4 552.8L499.3 547.4L495.6 553.8Z" fill="#47ef00"/>
<path d="M517.9 582.2L521.5 576.1L518.4 569.8L514.8 575.8Z" fill="#28eb00"/>
<path d="M514.8 575.8L518.4 569.8L515.3 563.7L511.7 569.8Z" fill="#31ec00"/>
<path d="M511.7 569.8L515.3 563.7L512.2 557.8L508.6 564Z" fill="#3aed00"/>
<path d="M508.6 564L512.2 557.8L509.2 552.1L505.5 558.3Z" fill="#42ee00"/>
<path d="M505.5 558.3L509.2 552.1L506.1 546.5L502.4 552.8Z" fill="#4aef00"/>
<path d="M502.4 552.8L506.1 546.5L503 541.1L499.3 547.4Z" fill="#51f000"/>
<path d="M521.5 576.1L525.2 570.4L522.1 564.1L518.4 569.8Z" fill="#31ec00"/>
<path d="M518.4 569.8L522.1 564.1L519 557.9L515.3 563.7Z" fill="#3bed00"/>
<path d="M515.3 563.7L519 557.9L515.9 552L512.2 557.8Z" fill="#43ee00"/>
<path d="M512.2 557.8L515.9 552L512.8 546.2L509.2 552.1Z" fill="#4bef00"/>
<path d="M509.2 552.1L512.8 546.2L509.7 540.5L506.1 546.5Z" fill="#54f000"/>
<path d="M506.1 546.5L509.7 540.5L506.6 535L503 541.1Z" fill="#5cf000"/>
<path d="M525.2 570.4L528.9 565L525.8 558.6L522.1 564.1Z" fill="#3aed00"/>
<path d="M522.1 564.1L525.8 558.6L522.7 552.5L519 557.9Z" fill="#43ee00"/>
<path d="M519 557.9L522.7 552.5L519.6 546.4L515.9 552Z" fill="#4cef00"/>
<path d="M515.9 552L519.6 546.4L516.5 540.6L512.8 546.2Z" fill="#55f000"/>
<path d="M512.8 546.2L516.5 540.6L513.4 534.8L509.7 540.5Z" fill="#5ef100"/>
<path d="M509.7 540.5L513.4 534.8L510.3 529.2L506.6 535Z" fill="#b1f87c"/>
<path d="M528.9 565L532.6 559.7L529.5 553.4L525.8 558.6Z" fill="#42ee00"/>
<path d="M525.8 558.6L529.5 553.4L526.4 547.2L522.7 552.5Z" fill="#4bef00"/>
<path d="M522.7 552.5L526.4 547.2L523.3 541.2L519.6 546.4Z" fill="#55f000"/>
<path d="M519.6 546.4L523.3 541.2L520.2 535.2L516.5 540.6Z" fill="#5ef100"/>
<path d="M516.5 540.6L520.2 535.2L517.1 529.4L513.4 534.8Z" fill="#aef776"/>
<path d="M513.4 534.8L517.1 529.4L514 523.7L510.3 529.2Z" fill="#b5f87a"/>
<path d="M532.6 559.7L536.2 554.8L533.1 548.5L529.5 553.4Z" fill="#49ef00"/>
<path d="M529.5 553.4L533.1 548.5L530 542.3L526.4 547.2Z" fill="#53f000"/>
<path d="M526.4 547.2L530 542.3L527 536.2L523.3 541.2Z" fill="#5df000"/>
<path d="M523.3 541.2L527 536.2L523.9 530.3L520.2 535.2Z" fill="#a5f769"/>
<path d="M520.2 535.2L523.9 530.3L520.8 524.4L517.1 529.4Z" fill="#b0f772"/>
<path d="M517.1 529.4L520.8 524.4L517.7 518.6L514 523.7Z" fill="#b8f877"/>
<path class="o" d="M514.2 588.6L521.5 576.1L528.9 565L536.2 554.8L530 542.3L523.9 530.3L517.7 518.6L510.3 529.2L503 541.1L495.6 553.8L501.8 564.7L508 576.2Z"/>
</g>
<text x="143.5" y="487.5" font-size="28.1" text-anchor="end">0.000</text>
<text x="137" y="426" font-size="28.1" text-anchor="end">0.200</text>
<text x="130.5" y="364.5" font-size="28.1" text-anchor="end">0.400</text>
<text x="124.1" y="303" font-size="28.1" text-anchor="end">0.600</text>
<text x="117.6" y="241.5" font-size="28.1" text-anchor="end">0.800</text>
<text x="111.1" y="180" font-size="28.1" text-anchor="end">1.000</text>
<text x="152.8" y="614.1" font-size="28.1" text-anchor="end">15</text>
<text x="214.2" y="669.5" font-size="28.1" text-anchor="end">13</text>
<text x="275.6" y="724.8" font-size="28.1" text-anchor="end">11</text>
<text x="336.9" y="780.2" font-size="28.1" text-anchor="end">9</text>
<text x="398.3" y="835.5" font-size="28.1" text-anchor="end">7</text>
<text x="459.7" y="890.9" font-size="28.1" text-anchor="end">5</text>
<text x="487.7" y="890.5" font-size="28.1" text-anchor="start">4</text>
<text x="562.8" y="842.9" font-size="28.1" text-anchor="start">6.2</text>
<text x="637.9" y="795.4" font-size="28.1" text-anchor="start">8.4</text>
<text x="713.1" y="747.8" font-size="28.1" text-anchor="start">10.6</text>
<text x="788.2" y="700.3" font-size="28.1" text-anchor="start">12.8</text>
<text x="863.3" y="652.7" font-size="28.1" text-anchor="start">15</text>
<g fill="#000" stroke="#000" stroke-width="1" stroke-linejoin="round">
<path d="M153.6 495.5L156.7 492.4L159.8 495.5L156.7 498.6Z"/>
<path d="M147.1 434L150.2 430.9L153.3 434L150.2 437.1Z"/>
<path d="M140.6 372.5L143.7 369.4L146.8 372.5L143.7 375.6Z"/>
<path d="M134.2 311L137.3 307.9L140.4 311L137.3 314.1Z"/>
<path d="M127.7 249.5L130.8 246.4L133.9 249.5L130.8 252.6Z"/>
<path d="M121.2 188L124.3 184.9L127.4 188L124.3 191.1Z"/>
<path d="M163.2 586.5L166.3 583.4L169.4 586.5L166.3 589.6Z"/>
<path d="M224.6 641.9L227.7 638.8L230.8 641.9L227.7 645Z"/>
<path d="M286 697.2L289.1 694.1L292.2 697.2L289.1 700.3Z"/>
<path d="M347.3 752.6L350.4 749.5L353.5 752.6L350.4 755.7Z"/>
<path d="M408.7 807.9L411.8 804.8L414.9 807.9L411.8 811Z"/>
<path d="M470.1 863.3L473.2 860.2L476.3 863.3L473.2 866.4Z"/>
<path d="M545.2 815.7L548.3 812.6L551.4 815.7L548.3 818.8Z"/>
<path d="M620.3 768.2L623.4 765.1L626.5 768.2L623.4 771.3Z"/>
<path d="M695.5 720.6L698.6 717.5L701.7 720.6L698.6 723.7Z"/>
<path d="M770.6 673.1L773.7 670L776.8 673.1L773.7 676.2Z"/>
<path d="M845.7 625.5L848.8 622.4L851.9 625.5L848.8 628.6Z"/>
</g>
<text transform="translate(38.7 480) rotate(-90)" font-size="34.3">Desirability</text>
<text x="8" y="824" font-size="33.9">B: PTFE Etch Time (min)</text>
<text x="631" y="859" font-size="33.8">A: PTFE Content (%)</text>
<path d="M393.1 234L394.8 309.7" stroke="#222" stroke-width="1" fill="none"/>
<rect x="347.3" y="208.3" width="45.4" height="26" fill="#fff" stroke="#111" stroke-width="1"/>
<text x="349.6" y="228" font-size="18.4">0.875</text>
<g fill="#dc0c0c" stroke="#7a0000" stroke-width="0.8">
<circle cx="138.5" cy="322.8" r="6.7"/>
<circle cx="471.5" cy="689.2" r="6.7"/>
<circle cx="868.8" cy="439" r="6.7"/>
<circle cx="505.2" cy="282.3" r="6.7"/>
</g>
</svg></body></html>
